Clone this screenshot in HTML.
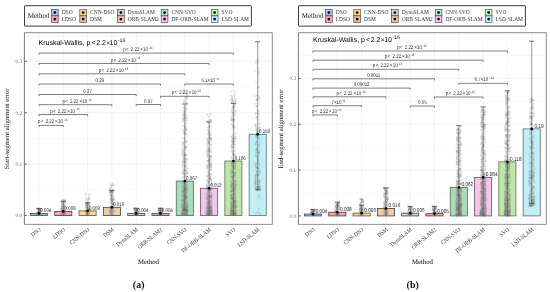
<!DOCTYPE html><html><head><meta charset="utf-8"><style>html,body{margin:0;padding:0;background:#fff;width:550px;height:292px;overflow:hidden}svg{display:block;will-change:transform;text-rendering:geometricPrecision}</style></head><body>
<svg width="550" height="292" viewBox="0 0 550 292">
<rect width="550" height="292" fill="#fff"/>
<g>
<rect x="24.5" y="5.7" width="226.9" height="20.4" rx="0.6" fill="#fff" stroke="#262626" stroke-width="0.9"/>
<text transform="translate(27.7,18.2) scale(1,1.05)" font-family='"Liberation Serif", serif' font-size="7.0" fill="#111">Method</text>
<rect x="51.5" y="9.3" width="6.7" height="6.5" fill="#b0c4f0" stroke="#404a60" stroke-width="0.7"/>
<circle cx="54.85" cy="12.55" r="1.35" fill="#000"/>
<text transform="translate(61.7,14.3) scale(1,1.08)" font-family='"Liberation Serif", serif' font-size="5.5" fill="#3a3a3a">DSO</text>
<rect x="51.5" y="15.85" width="6.7" height="6.5" fill="#f2aab2" stroke="#604448" stroke-width="0.7"/>
<circle cx="54.85" cy="19.1" r="1.35" fill="#000"/>
<text transform="translate(61.7,20.85) scale(1,1.08)" font-family='"Liberation Serif", serif' font-size="5.5" fill="#3a3a3a">LDSO</text>
<rect x="79.8" y="9.3" width="6.7" height="6.5" fill="#f8d898" stroke="#605438" stroke-width="0.7"/>
<circle cx="83.15" cy="12.55" r="1.35" fill="#000"/>
<text transform="translate(90,14.3) scale(1,1.08)" font-family='"Liberation Serif", serif' font-size="5.5" fill="#3a3a3a">CNN-DSO</text>
<rect x="79.8" y="15.85" width="6.7" height="6.5" fill="#dec29e" stroke="#5a4a3a" stroke-width="0.7"/>
<circle cx="83.15" cy="19.1" r="1.35" fill="#000"/>
<text transform="translate(90,20.85) scale(1,1.08)" font-family='"Liberation Serif", serif' font-size="5.5" fill="#3a3a3a">DSM</text>
<rect x="117.5" y="9.3" width="6.7" height="6.5" fill="#d8d8d8" stroke="#444444" stroke-width="0.7"/>
<circle cx="120.85" cy="12.55" r="1.35" fill="#000"/>
<text transform="translate(127.7,14.3) scale(1,1.08)" font-family='"Liberation Serif", serif' font-size="5.5" fill="#3a3a3a">DynaSLAM</text>
<rect x="117.5" y="15.85" width="6.7" height="6.5" fill="#f8c0c0" stroke="#604040" stroke-width="0.7"/>
<circle cx="120.85" cy="19.1" r="1.35" fill="#000"/>
<text transform="translate(127.7,20.85) scale(1,1.08)" font-family='"Liberation Serif", serif' font-size="5.5" fill="#3a3a3a">ORB-SLAM2</text>
<rect x="161.2" y="9.3" width="6.7" height="6.5" fill="#bce4c8" stroke="#3e5a48" stroke-width="0.7"/>
<circle cx="164.55" cy="12.55" r="1.35" fill="#000"/>
<text transform="translate(171.4,14.3) scale(1,1.08)" font-family='"Liberation Serif", serif' font-size="5.5" fill="#3a3a3a">CNN-SVO</text>
<rect x="161.2" y="15.85" width="6.7" height="6.5" fill="#f4c8e8" stroke="#5a4456" stroke-width="0.7"/>
<circle cx="164.55" cy="19.1" r="1.35" fill="#000"/>
<text transform="translate(171.4,20.85) scale(1,1.08)" font-family='"Liberation Serif", serif' font-size="5.5" fill="#3a3a3a">DF-ORB-SLAM</text>
<rect x="211.3" y="9.3" width="6.7" height="6.5" fill="#ccf0b8" stroke="#4a6040" stroke-width="0.7"/>
<circle cx="214.65" cy="12.55" r="1.35" fill="#000"/>
<text transform="translate(221.5,14.3) scale(1,1.08)" font-family='"Liberation Serif", serif' font-size="5.5" fill="#3a3a3a">SVO</text>
<rect x="211.3" y="15.85" width="6.7" height="6.5" fill="#c0f0f8" stroke="#3e5a60" stroke-width="0.7"/>
<circle cx="214.65" cy="19.1" r="1.35" fill="#000"/>
<text transform="translate(221.5,20.85) scale(1,1.08)" font-family='"Liberation Serif", serif' font-size="5.5" fill="#3a3a3a">LSD-SLAM</text>
<rect x="24.4" y="32.7" width="247.9" height="191.7" fill="#fff"/>
<line x1="24.4" x2="272.3" y1="215.5" y2="215.5" stroke="#ebebeb" stroke-width="0.6"/>
<line x1="24.4" x2="272.3" y1="164.1" y2="164.1" stroke="#ebebeb" stroke-width="0.6"/>
<line x1="24.4" x2="272.3" y1="112.7" y2="112.7" stroke="#ebebeb" stroke-width="0.6"/>
<line x1="24.4" x2="272.3" y1="61.3" y2="61.3" stroke="#ebebeb" stroke-width="0.6"/>
<line x1="24.4" x2="272.3" y1="189.8" y2="189.8" stroke="#f3f3f3" stroke-width="0.5"/>
<line x1="24.4" x2="272.3" y1="138.4" y2="138.4" stroke="#f3f3f3" stroke-width="0.5"/>
<line x1="24.4" x2="272.3" y1="87" y2="87" stroke="#f3f3f3" stroke-width="0.5"/>
<line x1="24.4" x2="272.3" y1="35.6" y2="35.6" stroke="#f3f3f3" stroke-width="0.5"/>
<line x1="39" x2="39" y1="32.7" y2="224.4" stroke="#ececec" stroke-width="0.6"/>
<line x1="63.3" x2="63.3" y1="32.7" y2="224.4" stroke="#ececec" stroke-width="0.6"/>
<line x1="87.6" x2="87.6" y1="32.7" y2="224.4" stroke="#ececec" stroke-width="0.6"/>
<line x1="111.9" x2="111.9" y1="32.7" y2="224.4" stroke="#ececec" stroke-width="0.6"/>
<line x1="136.2" x2="136.2" y1="32.7" y2="224.4" stroke="#ececec" stroke-width="0.6"/>
<line x1="160.5" x2="160.5" y1="32.7" y2="224.4" stroke="#ececec" stroke-width="0.6"/>
<line x1="184.8" x2="184.8" y1="32.7" y2="224.4" stroke="#ececec" stroke-width="0.6"/>
<line x1="209.1" x2="209.1" y1="32.7" y2="224.4" stroke="#ececec" stroke-width="0.6"/>
<line x1="233.4" x2="233.4" y1="32.7" y2="224.4" stroke="#ececec" stroke-width="0.6"/>
<line x1="257.7" x2="257.7" y1="32.7" y2="224.4" stroke="#ececec" stroke-width="0.6"/>
<rect x="30.45" y="213.44" width="17.1" height="2.06" fill="#a8bae4" stroke="#3a4a70" stroke-width="0.8"/>
<rect x="54.75" y="211.39" width="17.1" height="4.11" fill="#f2a6ae" stroke="#5a3438" stroke-width="0.8"/>
<rect x="79.05" y="210.87" width="17.1" height="4.63" fill="#f8d898" stroke="#6a5430" stroke-width="0.8"/>
<rect x="103.35" y="207.28" width="17.1" height="8.22" fill="#ecccac" stroke="#4a3a2a" stroke-width="0.8"/>
<rect x="127.65" y="213.44" width="17.1" height="2.06" fill="#d4d4d4" stroke="#444444" stroke-width="0.8"/>
<rect x="151.95" y="213.44" width="17.1" height="2.06" fill="#f4a0a0" stroke="#6a3434" stroke-width="0.8"/>
<rect x="176.25" y="181.06" width="17.1" height="34.44" fill="#aadcb9" stroke="#4a6e56" stroke-width="0.8"/>
<rect x="200.55" y="188.26" width="17.1" height="27.24" fill="#f2c6e6" stroke="#6e4e66" stroke-width="0.8"/>
<rect x="224.85" y="161.02" width="17.1" height="54.48" fill="#bee6aa" stroke="#56784a" stroke-width="0.8"/>
<rect x="249.15" y="134.29" width="17.1" height="81.21" fill="#c2eff5" stroke="#4e7278" stroke-width="0.8"/>
<g fill="#c4c4c4" fill-opacity="0.1" stroke="#777" stroke-opacity="0.3" stroke-width="0.4">
<path d="M38.6 210.6a.7 .7 0 1 0 1.4 0a.7 .7 0 1 0 -1.4 0M38.3 213.9a.7 .7 0 1 0 1.4 0a.7 .7 0 1 0 -1.4 0M36.7 213.8a.7 .7 0 1 0 1.4 0a.7 .7 0 1 0 -1.4 0M39.0 213.9a.7 .7 0 1 0 1.4 0a.7 .7 0 1 0 -1.4 0M39.1 212.5a.7 .7 0 1 0 1.4 0a.7 .7 0 1 0 -1.4 0M36.3 212.5a.7 .7 0 1 0 1.4 0a.7 .7 0 1 0 -1.4 0M62.8 212.6a.7 .7 0 1 0 1.4 0a.7 .7 0 1 0 -1.4 0M64.0 206.8a.7 .7 0 1 0 1.4 0a.7 .7 0 1 0 -1.4 0M60.8 208.6a.7 .7 0 1 0 1.4 0a.7 .7 0 1 0 -1.4 0M64.0 200.2a.7 .7 0 1 0 1.4 0a.7 .7 0 1 0 -1.4 0M61.5 205.1a.7 .7 0 1 0 1.4 0a.7 .7 0 1 0 -1.4 0M60.7 209.0a.7 .7 0 1 0 1.4 0a.7 .7 0 1 0 -1.4 0M62.9 203.6a.7 .7 0 1 0 1.4 0a.7 .7 0 1 0 -1.4 0M87.2 211.3a.7 .7 0 1 0 1.4 0a.7 .7 0 1 0 -1.4 0M85.6 203.5a.7 .7 0 1 0 1.4 0a.7 .7 0 1 0 -1.4 0M86.0 204.6a.7 .7 0 1 0 1.4 0a.7 .7 0 1 0 -1.4 0M87.8 208.3a.7 .7 0 1 0 1.4 0a.7 .7 0 1 0 -1.4 0M86.2 210.4a.7 .7 0 1 0 1.4 0a.7 .7 0 1 0 -1.4 0M88.5 204.6a.7 .7 0 1 0 1.4 0a.7 .7 0 1 0 -1.4 0M88.1 214.0a.7 .7 0 1 0 1.4 0a.7 .7 0 1 0 -1.4 0M85.8 205.5a.7 .7 0 1 0 1.4 0a.7 .7 0 1 0 -1.4 0M85.0 194.4a.7 .7 0 1 0 1.4 0a.7 .7 0 1 0 -1.4 0M88.2 197.7a.7 .7 0 1 0 1.4 0a.7 .7 0 1 0 -1.4 0M110.3 207.3a.7 .7 0 1 0 1.4 0a.7 .7 0 1 0 -1.4 0M109.4 209.0a.7 .7 0 1 0 1.4 0a.7 .7 0 1 0 -1.4 0M110.6 197.7a.7 .7 0 1 0 1.4 0a.7 .7 0 1 0 -1.4 0M110.0 199.1a.7 .7 0 1 0 1.4 0a.7 .7 0 1 0 -1.4 0M112.6 207.6a.7 .7 0 1 0 1.4 0a.7 .7 0 1 0 -1.4 0M111.1 191.2a.7 .7 0 1 0 1.4 0a.7 .7 0 1 0 -1.4 0M109.9 202.7a.7 .7 0 1 0 1.4 0a.7 .7 0 1 0 -1.4 0M111.2 196.0a.7 .7 0 1 0 1.4 0a.7 .7 0 1 0 -1.4 0M112.2 210.7a.7 .7 0 1 0 1.4 0a.7 .7 0 1 0 -1.4 0M111.7 203.1a.7 .7 0 1 0 1.4 0a.7 .7 0 1 0 -1.4 0M110.2 187.3a.7 .7 0 1 0 1.4 0a.7 .7 0 1 0 -1.4 0M109.1 189.2a.7 .7 0 1 0 1.4 0a.7 .7 0 1 0 -1.4 0M112.1 184.2a.7 .7 0 1 0 1.4 0a.7 .7 0 1 0 -1.4 0M134.0 208.6a.7 .7 0 1 0 1.4 0a.7 .7 0 1 0 -1.4 0M134.0 212.6a.7 .7 0 1 0 1.4 0a.7 .7 0 1 0 -1.4 0M135.2 212.8a.7 .7 0 1 0 1.4 0a.7 .7 0 1 0 -1.4 0M137.3 212.5a.7 .7 0 1 0 1.4 0a.7 .7 0 1 0 -1.4 0M136.0 209.0a.7 .7 0 1 0 1.4 0a.7 .7 0 1 0 -1.4 0M136.6 213.0a.7 .7 0 1 0 1.4 0a.7 .7 0 1 0 -1.4 0M159.1 208.7a.7 .7 0 1 0 1.4 0a.7 .7 0 1 0 -1.4 0M159.2 208.1a.7 .7 0 1 0 1.4 0a.7 .7 0 1 0 -1.4 0M159.3 213.2a.7 .7 0 1 0 1.4 0a.7 .7 0 1 0 -1.4 0M157.8 210.6a.7 .7 0 1 0 1.4 0a.7 .7 0 1 0 -1.4 0M159.0 214.7a.7 .7 0 1 0 1.4 0a.7 .7 0 1 0 -1.4 0M181.5 207.6a.7 .7 0 1 0 1.4 0a.7 .7 0 1 0 -1.4 0M184.9 186.2a.7 .7 0 1 0 1.4 0a.7 .7 0 1 0 -1.4 0M183.9 118.1a.7 .7 0 1 0 1.4 0a.7 .7 0 1 0 -1.4 0M182.1 205.7a.7 .7 0 1 0 1.4 0a.7 .7 0 1 0 -1.4 0M185.4 184.0a.7 .7 0 1 0 1.4 0a.7 .7 0 1 0 -1.4 0M182.2 119.0a.7 .7 0 1 0 1.4 0a.7 .7 0 1 0 -1.4 0M184.7 196.0a.7 .7 0 1 0 1.4 0a.7 .7 0 1 0 -1.4 0M182.2 201.5a.7 .7 0 1 0 1.4 0a.7 .7 0 1 0 -1.4 0M182.7 206.1a.7 .7 0 1 0 1.4 0a.7 .7 0 1 0 -1.4 0M181.5 191.6a.7 .7 0 1 0 1.4 0a.7 .7 0 1 0 -1.4 0M185.5 120.5a.7 .7 0 1 0 1.4 0a.7 .7 0 1 0 -1.4 0M186.5 159.7a.7 .7 0 1 0 1.4 0a.7 .7 0 1 0 -1.4 0M183.1 212.2a.7 .7 0 1 0 1.4 0a.7 .7 0 1 0 -1.4 0M182.7 149.8a.7 .7 0 1 0 1.4 0a.7 .7 0 1 0 -1.4 0M183.6 116.9a.7 .7 0 1 0 1.4 0a.7 .7 0 1 0 -1.4 0M186.8 211.6a.7 .7 0 1 0 1.4 0a.7 .7 0 1 0 -1.4 0M183.3 200.0a.7 .7 0 1 0 1.4 0a.7 .7 0 1 0 -1.4 0M185.9 176.1a.7 .7 0 1 0 1.4 0a.7 .7 0 1 0 -1.4 0M185.9 202.9a.7 .7 0 1 0 1.4 0a.7 .7 0 1 0 -1.4 0M186.5 189.7a.7 .7 0 1 0 1.4 0a.7 .7 0 1 0 -1.4 0M184.6 166.4a.7 .7 0 1 0 1.4 0a.7 .7 0 1 0 -1.4 0M185.6 161.6a.7 .7 0 1 0 1.4 0a.7 .7 0 1 0 -1.4 0M181.9 212.2a.7 .7 0 1 0 1.4 0a.7 .7 0 1 0 -1.4 0M185.8 180.9a.7 .7 0 1 0 1.4 0a.7 .7 0 1 0 -1.4 0M186.1 122.7a.7 .7 0 1 0 1.4 0a.7 .7 0 1 0 -1.4 0M183.9 155.6a.7 .7 0 1 0 1.4 0a.7 .7 0 1 0 -1.4 0M181.9 189.6a.7 .7 0 1 0 1.4 0a.7 .7 0 1 0 -1.4 0M185.6 164.3a.7 .7 0 1 0 1.4 0a.7 .7 0 1 0 -1.4 0M185.3 147.0a.7 .7 0 1 0 1.4 0a.7 .7 0 1 0 -1.4 0M185.1 147.3a.7 .7 0 1 0 1.4 0a.7 .7 0 1 0 -1.4 0M182.8 204.0a.7 .7 0 1 0 1.4 0a.7 .7 0 1 0 -1.4 0M184.0 214.9a.7 .7 0 1 0 1.4 0a.7 .7 0 1 0 -1.4 0M185.5 213.1a.7 .7 0 1 0 1.4 0a.7 .7 0 1 0 -1.4 0M183.0 131.4a.7 .7 0 1 0 1.4 0a.7 .7 0 1 0 -1.4 0M183.6 161.1a.7 .7 0 1 0 1.4 0a.7 .7 0 1 0 -1.4 0M181.7 210.0a.7 .7 0 1 0 1.4 0a.7 .7 0 1 0 -1.4 0M183.4 102.3a.7 .7 0 1 0 1.4 0a.7 .7 0 1 0 -1.4 0M185.2 92.0a.7 .7 0 1 0 1.4 0a.7 .7 0 1 0 -1.4 0M184.0 204.2a.7 .7 0 1 0 1.4 0a.7 .7 0 1 0 -1.4 0M184.5 186.6a.7 .7 0 1 0 1.4 0a.7 .7 0 1 0 -1.4 0M183.3 200.8a.7 .7 0 1 0 1.4 0a.7 .7 0 1 0 -1.4 0M182.7 210.7a.7 .7 0 1 0 1.4 0a.7 .7 0 1 0 -1.4 0M184.9 210.8a.7 .7 0 1 0 1.4 0a.7 .7 0 1 0 -1.4 0M186.1 209.5a.7 .7 0 1 0 1.4 0a.7 .7 0 1 0 -1.4 0M186.5 207.2a.7 .7 0 1 0 1.4 0a.7 .7 0 1 0 -1.4 0M183.2 205.2a.7 .7 0 1 0 1.4 0a.7 .7 0 1 0 -1.4 0M185.1 188.7a.7 .7 0 1 0 1.4 0a.7 .7 0 1 0 -1.4 0M185.9 195.1a.7 .7 0 1 0 1.4 0a.7 .7 0 1 0 -1.4 0M184.2 182.6a.7 .7 0 1 0 1.4 0a.7 .7 0 1 0 -1.4 0M182.8 215.0a.7 .7 0 1 0 1.4 0a.7 .7 0 1 0 -1.4 0M186.7 209.6a.7 .7 0 1 0 1.4 0a.7 .7 0 1 0 -1.4 0M208.8 207.9a.7 .7 0 1 0 1.4 0a.7 .7 0 1 0 -1.4 0M207.8 172.0a.7 .7 0 1 0 1.4 0a.7 .7 0 1 0 -1.4 0M207.8 160.3a.7 .7 0 1 0 1.4 0a.7 .7 0 1 0 -1.4 0M209.0 131.4a.7 .7 0 1 0 1.4 0a.7 .7 0 1 0 -1.4 0M208.5 185.2a.7 .7 0 1 0 1.4 0a.7 .7 0 1 0 -1.4 0M208.3 161.1a.7 .7 0 1 0 1.4 0a.7 .7 0 1 0 -1.4 0M207.9 211.0a.7 .7 0 1 0 1.4 0a.7 .7 0 1 0 -1.4 0M209.5 166.7a.7 .7 0 1 0 1.4 0a.7 .7 0 1 0 -1.4 0M209.1 190.6a.7 .7 0 1 0 1.4 0a.7 .7 0 1 0 -1.4 0M208.2 174.4a.7 .7 0 1 0 1.4 0a.7 .7 0 1 0 -1.4 0M206.4 166.8a.7 .7 0 1 0 1.4 0a.7 .7 0 1 0 -1.4 0M210.4 184.1a.7 .7 0 1 0 1.4 0a.7 .7 0 1 0 -1.4 0M211.0 199.1a.7 .7 0 1 0 1.4 0a.7 .7 0 1 0 -1.4 0M208.3 215.0a.7 .7 0 1 0 1.4 0a.7 .7 0 1 0 -1.4 0M211.0 196.6a.7 .7 0 1 0 1.4 0a.7 .7 0 1 0 -1.4 0M208.8 210.0a.7 .7 0 1 0 1.4 0a.7 .7 0 1 0 -1.4 0M210.1 207.9a.7 .7 0 1 0 1.4 0a.7 .7 0 1 0 -1.4 0M210.6 210.1a.7 .7 0 1 0 1.4 0a.7 .7 0 1 0 -1.4 0M210.5 184.3a.7 .7 0 1 0 1.4 0a.7 .7 0 1 0 -1.4 0M208.9 175.0a.7 .7 0 1 0 1.4 0a.7 .7 0 1 0 -1.4 0M210.5 206.4a.7 .7 0 1 0 1.4 0a.7 .7 0 1 0 -1.4 0M210.7 213.5a.7 .7 0 1 0 1.4 0a.7 .7 0 1 0 -1.4 0M208.5 159.1a.7 .7 0 1 0 1.4 0a.7 .7 0 1 0 -1.4 0M206.3 149.6a.7 .7 0 1 0 1.4 0a.7 .7 0 1 0 -1.4 0M206.3 134.1a.7 .7 0 1 0 1.4 0a.7 .7 0 1 0 -1.4 0M209.8 215.0a.7 .7 0 1 0 1.4 0a.7 .7 0 1 0 -1.4 0M208.1 143.3a.7 .7 0 1 0 1.4 0a.7 .7 0 1 0 -1.4 0M207.0 205.0a.7 .7 0 1 0 1.4 0a.7 .7 0 1 0 -1.4 0M210.2 120.2a.7 .7 0 1 0 1.4 0a.7 .7 0 1 0 -1.4 0M207.7 211.4a.7 .7 0 1 0 1.4 0a.7 .7 0 1 0 -1.4 0M208.3 201.7a.7 .7 0 1 0 1.4 0a.7 .7 0 1 0 -1.4 0M207.5 212.3a.7 .7 0 1 0 1.4 0a.7 .7 0 1 0 -1.4 0M206.8 214.5a.7 .7 0 1 0 1.4 0a.7 .7 0 1 0 -1.4 0M209.4 189.1a.7 .7 0 1 0 1.4 0a.7 .7 0 1 0 -1.4 0M209.3 195.3a.7 .7 0 1 0 1.4 0a.7 .7 0 1 0 -1.4 0M207.2 196.7a.7 .7 0 1 0 1.4 0a.7 .7 0 1 0 -1.4 0M207.1 206.7a.7 .7 0 1 0 1.4 0a.7 .7 0 1 0 -1.4 0M207.3 208.2a.7 .7 0 1 0 1.4 0a.7 .7 0 1 0 -1.4 0M207.5 205.5a.7 .7 0 1 0 1.4 0a.7 .7 0 1 0 -1.4 0M206.8 192.2a.7 .7 0 1 0 1.4 0a.7 .7 0 1 0 -1.4 0M233.5 154.4a.7 .7 0 1 0 1.4 0a.7 .7 0 1 0 -1.4 0M231.9 173.5a.7 .7 0 1 0 1.4 0a.7 .7 0 1 0 -1.4 0M232.9 125.2a.7 .7 0 1 0 1.4 0a.7 .7 0 1 0 -1.4 0M231.7 212.2a.7 .7 0 1 0 1.4 0a.7 .7 0 1 0 -1.4 0M233.2 137.9a.7 .7 0 1 0 1.4 0a.7 .7 0 1 0 -1.4 0M231.3 120.7a.7 .7 0 1 0 1.4 0a.7 .7 0 1 0 -1.4 0M232.1 125.9a.7 .7 0 1 0 1.4 0a.7 .7 0 1 0 -1.4 0M230.6 181.8a.7 .7 0 1 0 1.4 0a.7 .7 0 1 0 -1.4 0M230.8 116.5a.7 .7 0 1 0 1.4 0a.7 .7 0 1 0 -1.4 0M230.7 200.0a.7 .7 0 1 0 1.4 0a.7 .7 0 1 0 -1.4 0M232.0 178.7a.7 .7 0 1 0 1.4 0a.7 .7 0 1 0 -1.4 0M234.7 172.5a.7 .7 0 1 0 1.4 0a.7 .7 0 1 0 -1.4 0M233.7 190.9a.7 .7 0 1 0 1.4 0a.7 .7 0 1 0 -1.4 0M234.4 213.0a.7 .7 0 1 0 1.4 0a.7 .7 0 1 0 -1.4 0M233.7 155.0a.7 .7 0 1 0 1.4 0a.7 .7 0 1 0 -1.4 0M230.0 214.8a.7 .7 0 1 0 1.4 0a.7 .7 0 1 0 -1.4 0M230.2 172.9a.7 .7 0 1 0 1.4 0a.7 .7 0 1 0 -1.4 0M230.7 203.9a.7 .7 0 1 0 1.4 0a.7 .7 0 1 0 -1.4 0M231.8 190.5a.7 .7 0 1 0 1.4 0a.7 .7 0 1 0 -1.4 0M233.7 204.9a.7 .7 0 1 0 1.4 0a.7 .7 0 1 0 -1.4 0M232.7 183.6a.7 .7 0 1 0 1.4 0a.7 .7 0 1 0 -1.4 0M231.7 138.4a.7 .7 0 1 0 1.4 0a.7 .7 0 1 0 -1.4 0M231.7 211.6a.7 .7 0 1 0 1.4 0a.7 .7 0 1 0 -1.4 0M232.4 107.3a.7 .7 0 1 0 1.4 0a.7 .7 0 1 0 -1.4 0M234.9 206.7a.7 .7 0 1 0 1.4 0a.7 .7 0 1 0 -1.4 0M234.6 195.9a.7 .7 0 1 0 1.4 0a.7 .7 0 1 0 -1.4 0M232.0 190.3a.7 .7 0 1 0 1.4 0a.7 .7 0 1 0 -1.4 0M232.1 167.4a.7 .7 0 1 0 1.4 0a.7 .7 0 1 0 -1.4 0M231.6 212.9a.7 .7 0 1 0 1.4 0a.7 .7 0 1 0 -1.4 0M233.1 214.4a.7 .7 0 1 0 1.4 0a.7 .7 0 1 0 -1.4 0M234.1 201.9a.7 .7 0 1 0 1.4 0a.7 .7 0 1 0 -1.4 0M232.1 212.6a.7 .7 0 1 0 1.4 0a.7 .7 0 1 0 -1.4 0M233.9 207.1a.7 .7 0 1 0 1.4 0a.7 .7 0 1 0 -1.4 0M233.6 187.9a.7 .7 0 1 0 1.4 0a.7 .7 0 1 0 -1.4 0M232.1 208.5a.7 .7 0 1 0 1.4 0a.7 .7 0 1 0 -1.4 0M234.1 174.3a.7 .7 0 1 0 1.4 0a.7 .7 0 1 0 -1.4 0M230.7 209.8a.7 .7 0 1 0 1.4 0a.7 .7 0 1 0 -1.4 0M232.3 189.2a.7 .7 0 1 0 1.4 0a.7 .7 0 1 0 -1.4 0M231.8 210.8a.7 .7 0 1 0 1.4 0a.7 .7 0 1 0 -1.4 0M233.5 191.4a.7 .7 0 1 0 1.4 0a.7 .7 0 1 0 -1.4 0M258.7 99.5a.7 .7 0 1 0 1.4 0a.7 .7 0 1 0 -1.4 0M256.6 132.3a.7 .7 0 1 0 1.4 0a.7 .7 0 1 0 -1.4 0M256.6 106.7a.7 .7 0 1 0 1.4 0a.7 .7 0 1 0 -1.4 0M255.5 167.7a.7 .7 0 1 0 1.4 0a.7 .7 0 1 0 -1.4 0M258.2 186.1a.7 .7 0 1 0 1.4 0a.7 .7 0 1 0 -1.4 0M258.8 169.8a.7 .7 0 1 0 1.4 0a.7 .7 0 1 0 -1.4 0M256.3 172.3a.7 .7 0 1 0 1.4 0a.7 .7 0 1 0 -1.4 0M258.0 147.5a.7 .7 0 1 0 1.4 0a.7 .7 0 1 0 -1.4 0M255.3 136.5a.7 .7 0 1 0 1.4 0a.7 .7 0 1 0 -1.4 0M257.8 145.2a.7 .7 0 1 0 1.4 0a.7 .7 0 1 0 -1.4 0M258.1 187.9a.7 .7 0 1 0 1.4 0a.7 .7 0 1 0 -1.4 0M257.0 186.6a.7 .7 0 1 0 1.4 0a.7 .7 0 1 0 -1.4 0"/>
<path d="M39.6 214.7a.7 .7 0 1 0 1.4 0a.7 .7 0 1 0 -1.4 0M38.5 212.4a.7 .7 0 1 0 1.4 0a.7 .7 0 1 0 -1.4 0M38.8 211.9a.7 .7 0 1 0 1.4 0a.7 .7 0 1 0 -1.4 0M38.1 210.9a.7 .7 0 1 0 1.4 0a.7 .7 0 1 0 -1.4 0M38.2 210.8a.7 .7 0 1 0 1.4 0a.7 .7 0 1 0 -1.4 0M63.2 208.4a.7 .7 0 1 0 1.4 0a.7 .7 0 1 0 -1.4 0M63.6 208.0a.7 .7 0 1 0 1.4 0a.7 .7 0 1 0 -1.4 0M62.8 207.2a.7 .7 0 1 0 1.4 0a.7 .7 0 1 0 -1.4 0M60.6 208.2a.7 .7 0 1 0 1.4 0a.7 .7 0 1 0 -1.4 0M61.1 202.3a.7 .7 0 1 0 1.4 0a.7 .7 0 1 0 -1.4 0M61.7 207.2a.7 .7 0 1 0 1.4 0a.7 .7 0 1 0 -1.4 0M63.4 206.4a.7 .7 0 1 0 1.4 0a.7 .7 0 1 0 -1.4 0M63.9 205.4a.7 .7 0 1 0 1.4 0a.7 .7 0 1 0 -1.4 0M63.1 210.5a.7 .7 0 1 0 1.4 0a.7 .7 0 1 0 -1.4 0M88.6 203.6a.7 .7 0 1 0 1.4 0a.7 .7 0 1 0 -1.4 0M88.3 205.8a.7 .7 0 1 0 1.4 0a.7 .7 0 1 0 -1.4 0M88.4 205.4a.7 .7 0 1 0 1.4 0a.7 .7 0 1 0 -1.4 0M86.9 203.2a.7 .7 0 1 0 1.4 0a.7 .7 0 1 0 -1.4 0M85.3 206.5a.7 .7 0 1 0 1.4 0a.7 .7 0 1 0 -1.4 0M87.5 204.2a.7 .7 0 1 0 1.4 0a.7 .7 0 1 0 -1.4 0M85.3 197.9a.7 .7 0 1 0 1.4 0a.7 .7 0 1 0 -1.4 0M86.3 199.7a.7 .7 0 1 0 1.4 0a.7 .7 0 1 0 -1.4 0M112.8 191.1a.7 .7 0 1 0 1.4 0a.7 .7 0 1 0 -1.4 0M109.5 208.5a.7 .7 0 1 0 1.4 0a.7 .7 0 1 0 -1.4 0M112.4 201.9a.7 .7 0 1 0 1.4 0a.7 .7 0 1 0 -1.4 0M111.5 191.3a.7 .7 0 1 0 1.4 0a.7 .7 0 1 0 -1.4 0M112.9 199.4a.7 .7 0 1 0 1.4 0a.7 .7 0 1 0 -1.4 0M109.8 211.1a.7 .7 0 1 0 1.4 0a.7 .7 0 1 0 -1.4 0M111.8 200.2a.7 .7 0 1 0 1.4 0a.7 .7 0 1 0 -1.4 0M109.7 191.8a.7 .7 0 1 0 1.4 0a.7 .7 0 1 0 -1.4 0M112.2 190.7a.7 .7 0 1 0 1.4 0a.7 .7 0 1 0 -1.4 0M111.5 201.5a.7 .7 0 1 0 1.4 0a.7 .7 0 1 0 -1.4 0M111.0 184.8a.7 .7 0 1 0 1.4 0a.7 .7 0 1 0 -1.4 0M112.9 189.3a.7 .7 0 1 0 1.4 0a.7 .7 0 1 0 -1.4 0M133.8 213.0a.7 .7 0 1 0 1.4 0a.7 .7 0 1 0 -1.4 0M133.9 213.1a.7 .7 0 1 0 1.4 0a.7 .7 0 1 0 -1.4 0M159.8 212.3a.7 .7 0 1 0 1.4 0a.7 .7 0 1 0 -1.4 0M158.2 213.5a.7 .7 0 1 0 1.4 0a.7 .7 0 1 0 -1.4 0M158.2 210.3a.7 .7 0 1 0 1.4 0a.7 .7 0 1 0 -1.4 0M161.7 212.1a.7 .7 0 1 0 1.4 0a.7 .7 0 1 0 -1.4 0M161.9 209.8a.7 .7 0 1 0 1.4 0a.7 .7 0 1 0 -1.4 0M160.4 208.2a.7 .7 0 1 0 1.4 0a.7 .7 0 1 0 -1.4 0M161.8 214.1a.7 .7 0 1 0 1.4 0a.7 .7 0 1 0 -1.4 0M183.8 126.3a.7 .7 0 1 0 1.4 0a.7 .7 0 1 0 -1.4 0M184.2 178.6a.7 .7 0 1 0 1.4 0a.7 .7 0 1 0 -1.4 0M186.8 211.2a.7 .7 0 1 0 1.4 0a.7 .7 0 1 0 -1.4 0M185.1 128.5a.7 .7 0 1 0 1.4 0a.7 .7 0 1 0 -1.4 0M183.9 138.6a.7 .7 0 1 0 1.4 0a.7 .7 0 1 0 -1.4 0M183.4 174.1a.7 .7 0 1 0 1.4 0a.7 .7 0 1 0 -1.4 0M185.9 179.9a.7 .7 0 1 0 1.4 0a.7 .7 0 1 0 -1.4 0M184.7 127.3a.7 .7 0 1 0 1.4 0a.7 .7 0 1 0 -1.4 0M186.0 209.3a.7 .7 0 1 0 1.4 0a.7 .7 0 1 0 -1.4 0M183.8 210.2a.7 .7 0 1 0 1.4 0a.7 .7 0 1 0 -1.4 0M182.6 196.8a.7 .7 0 1 0 1.4 0a.7 .7 0 1 0 -1.4 0M185.8 171.1a.7 .7 0 1 0 1.4 0a.7 .7 0 1 0 -1.4 0M186.1 115.8a.7 .7 0 1 0 1.4 0a.7 .7 0 1 0 -1.4 0M182.1 144.8a.7 .7 0 1 0 1.4 0a.7 .7 0 1 0 -1.4 0M182.2 151.9a.7 .7 0 1 0 1.4 0a.7 .7 0 1 0 -1.4 0M181.9 149.8a.7 .7 0 1 0 1.4 0a.7 .7 0 1 0 -1.4 0M182.3 174.3a.7 .7 0 1 0 1.4 0a.7 .7 0 1 0 -1.4 0M182.5 118.8a.7 .7 0 1 0 1.4 0a.7 .7 0 1 0 -1.4 0M184.2 155.6a.7 .7 0 1 0 1.4 0a.7 .7 0 1 0 -1.4 0M184.3 194.9a.7 .7 0 1 0 1.4 0a.7 .7 0 1 0 -1.4 0M183.1 208.4a.7 .7 0 1 0 1.4 0a.7 .7 0 1 0 -1.4 0M184.2 133.2a.7 .7 0 1 0 1.4 0a.7 .7 0 1 0 -1.4 0M183.7 169.3a.7 .7 0 1 0 1.4 0a.7 .7 0 1 0 -1.4 0M186.2 205.7a.7 .7 0 1 0 1.4 0a.7 .7 0 1 0 -1.4 0M186.3 207.3a.7 .7 0 1 0 1.4 0a.7 .7 0 1 0 -1.4 0M183.2 208.6a.7 .7 0 1 0 1.4 0a.7 .7 0 1 0 -1.4 0M183.0 211.7a.7 .7 0 1 0 1.4 0a.7 .7 0 1 0 -1.4 0M182.3 193.1a.7 .7 0 1 0 1.4 0a.7 .7 0 1 0 -1.4 0M183.3 196.9a.7 .7 0 1 0 1.4 0a.7 .7 0 1 0 -1.4 0M182.4 194.5a.7 .7 0 1 0 1.4 0a.7 .7 0 1 0 -1.4 0M183.6 170.5a.7 .7 0 1 0 1.4 0a.7 .7 0 1 0 -1.4 0M185.2 97.5a.7 .7 0 1 0 1.4 0a.7 .7 0 1 0 -1.4 0M184.6 187.6a.7 .7 0 1 0 1.4 0a.7 .7 0 1 0 -1.4 0M183.4 213.5a.7 .7 0 1 0 1.4 0a.7 .7 0 1 0 -1.4 0M182.3 214.5a.7 .7 0 1 0 1.4 0a.7 .7 0 1 0 -1.4 0M186.1 206.2a.7 .7 0 1 0 1.4 0a.7 .7 0 1 0 -1.4 0M183.0 181.6a.7 .7 0 1 0 1.4 0a.7 .7 0 1 0 -1.4 0M184.6 184.4a.7 .7 0 1 0 1.4 0a.7 .7 0 1 0 -1.4 0M185.4 214.0a.7 .7 0 1 0 1.4 0a.7 .7 0 1 0 -1.4 0M185.4 213.4a.7 .7 0 1 0 1.4 0a.7 .7 0 1 0 -1.4 0M184.3 198.6a.7 .7 0 1 0 1.4 0a.7 .7 0 1 0 -1.4 0M185.8 202.7a.7 .7 0 1 0 1.4 0a.7 .7 0 1 0 -1.4 0M184.8 190.0a.7 .7 0 1 0 1.4 0a.7 .7 0 1 0 -1.4 0M183.5 187.8a.7 .7 0 1 0 1.4 0a.7 .7 0 1 0 -1.4 0M185.7 197.5a.7 .7 0 1 0 1.4 0a.7 .7 0 1 0 -1.4 0M206.8 212.0a.7 .7 0 1 0 1.4 0a.7 .7 0 1 0 -1.4 0M207.1 201.2a.7 .7 0 1 0 1.4 0a.7 .7 0 1 0 -1.4 0M207.3 182.5a.7 .7 0 1 0 1.4 0a.7 .7 0 1 0 -1.4 0M207.5 213.6a.7 .7 0 1 0 1.4 0a.7 .7 0 1 0 -1.4 0M207.3 209.3a.7 .7 0 1 0 1.4 0a.7 .7 0 1 0 -1.4 0M207.5 181.8a.7 .7 0 1 0 1.4 0a.7 .7 0 1 0 -1.4 0M208.7 210.7a.7 .7 0 1 0 1.4 0a.7 .7 0 1 0 -1.4 0M209.9 167.0a.7 .7 0 1 0 1.4 0a.7 .7 0 1 0 -1.4 0M210.1 139.9a.7 .7 0 1 0 1.4 0a.7 .7 0 1 0 -1.4 0M208.1 199.9a.7 .7 0 1 0 1.4 0a.7 .7 0 1 0 -1.4 0M207.0 203.9a.7 .7 0 1 0 1.4 0a.7 .7 0 1 0 -1.4 0M206.8 207.2a.7 .7 0 1 0 1.4 0a.7 .7 0 1 0 -1.4 0M208.8 196.9a.7 .7 0 1 0 1.4 0a.7 .7 0 1 0 -1.4 0M209.5 196.9a.7 .7 0 1 0 1.4 0a.7 .7 0 1 0 -1.4 0M210.3 214.5a.7 .7 0 1 0 1.4 0a.7 .7 0 1 0 -1.4 0M209.4 159.7a.7 .7 0 1 0 1.4 0a.7 .7 0 1 0 -1.4 0M206.3 188.6a.7 .7 0 1 0 1.4 0a.7 .7 0 1 0 -1.4 0M210.3 214.9a.7 .7 0 1 0 1.4 0a.7 .7 0 1 0 -1.4 0M210.4 164.2a.7 .7 0 1 0 1.4 0a.7 .7 0 1 0 -1.4 0M208.5 209.9a.7 .7 0 1 0 1.4 0a.7 .7 0 1 0 -1.4 0M208.0 207.5a.7 .7 0 1 0 1.4 0a.7 .7 0 1 0 -1.4 0M210.5 205.6a.7 .7 0 1 0 1.4 0a.7 .7 0 1 0 -1.4 0M205.9 215.0a.7 .7 0 1 0 1.4 0a.7 .7 0 1 0 -1.4 0M209.4 134.1a.7 .7 0 1 0 1.4 0a.7 .7 0 1 0 -1.4 0M207.5 191.3a.7 .7 0 1 0 1.4 0a.7 .7 0 1 0 -1.4 0M206.7 157.5a.7 .7 0 1 0 1.4 0a.7 .7 0 1 0 -1.4 0M208.2 133.5a.7 .7 0 1 0 1.4 0a.7 .7 0 1 0 -1.4 0M209.9 119.8a.7 .7 0 1 0 1.4 0a.7 .7 0 1 0 -1.4 0M206.4 121.4a.7 .7 0 1 0 1.4 0a.7 .7 0 1 0 -1.4 0M208.5 120.0a.7 .7 0 1 0 1.4 0a.7 .7 0 1 0 -1.4 0M206.5 199.3a.7 .7 0 1 0 1.4 0a.7 .7 0 1 0 -1.4 0M207.1 193.6a.7 .7 0 1 0 1.4 0a.7 .7 0 1 0 -1.4 0M207.7 201.0a.7 .7 0 1 0 1.4 0a.7 .7 0 1 0 -1.4 0M206.9 213.9a.7 .7 0 1 0 1.4 0a.7 .7 0 1 0 -1.4 0M208.0 214.4a.7 .7 0 1 0 1.4 0a.7 .7 0 1 0 -1.4 0M210.1 189.4a.7 .7 0 1 0 1.4 0a.7 .7 0 1 0 -1.4 0M210.3 201.8a.7 .7 0 1 0 1.4 0a.7 .7 0 1 0 -1.4 0M206.8 201.5a.7 .7 0 1 0 1.4 0a.7 .7 0 1 0 -1.4 0M207.2 196.4a.7 .7 0 1 0 1.4 0a.7 .7 0 1 0 -1.4 0M209.0 214.7a.7 .7 0 1 0 1.4 0a.7 .7 0 1 0 -1.4 0M206.8 207.2a.7 .7 0 1 0 1.4 0a.7 .7 0 1 0 -1.4 0M230.9 140.7a.7 .7 0 1 0 1.4 0a.7 .7 0 1 0 -1.4 0M232.4 162.6a.7 .7 0 1 0 1.4 0a.7 .7 0 1 0 -1.4 0M232.4 141.4a.7 .7 0 1 0 1.4 0a.7 .7 0 1 0 -1.4 0M233.0 183.0a.7 .7 0 1 0 1.4 0a.7 .7 0 1 0 -1.4 0M232.0 193.9a.7 .7 0 1 0 1.4 0a.7 .7 0 1 0 -1.4 0M232.0 147.6a.7 .7 0 1 0 1.4 0a.7 .7 0 1 0 -1.4 0M234.3 103.8a.7 .7 0 1 0 1.4 0a.7 .7 0 1 0 -1.4 0M230.6 214.7a.7 .7 0 1 0 1.4 0a.7 .7 0 1 0 -1.4 0M232.9 119.0a.7 .7 0 1 0 1.4 0a.7 .7 0 1 0 -1.4 0M233.6 107.6a.7 .7 0 1 0 1.4 0a.7 .7 0 1 0 -1.4 0M230.5 184.7a.7 .7 0 1 0 1.4 0a.7 .7 0 1 0 -1.4 0M230.4 190.9a.7 .7 0 1 0 1.4 0a.7 .7 0 1 0 -1.4 0M234.9 172.0a.7 .7 0 1 0 1.4 0a.7 .7 0 1 0 -1.4 0M230.1 214.4a.7 .7 0 1 0 1.4 0a.7 .7 0 1 0 -1.4 0M232.6 214.5a.7 .7 0 1 0 1.4 0a.7 .7 0 1 0 -1.4 0M230.6 207.5a.7 .7 0 1 0 1.4 0a.7 .7 0 1 0 -1.4 0M233.2 119.6a.7 .7 0 1 0 1.4 0a.7 .7 0 1 0 -1.4 0M235.4 203.3a.7 .7 0 1 0 1.4 0a.7 .7 0 1 0 -1.4 0M231.1 187.1a.7 .7 0 1 0 1.4 0a.7 .7 0 1 0 -1.4 0M232.7 206.1a.7 .7 0 1 0 1.4 0a.7 .7 0 1 0 -1.4 0M231.5 144.1a.7 .7 0 1 0 1.4 0a.7 .7 0 1 0 -1.4 0M235.4 201.5a.7 .7 0 1 0 1.4 0a.7 .7 0 1 0 -1.4 0M233.8 188.7a.7 .7 0 1 0 1.4 0a.7 .7 0 1 0 -1.4 0M230.5 209.5a.7 .7 0 1 0 1.4 0a.7 .7 0 1 0 -1.4 0M231.1 165.2a.7 .7 0 1 0 1.4 0a.7 .7 0 1 0 -1.4 0M234.2 202.1a.7 .7 0 1 0 1.4 0a.7 .7 0 1 0 -1.4 0M235.0 185.9a.7 .7 0 1 0 1.4 0a.7 .7 0 1 0 -1.4 0M234.4 105.1a.7 .7 0 1 0 1.4 0a.7 .7 0 1 0 -1.4 0M232.4 170.5a.7 .7 0 1 0 1.4 0a.7 .7 0 1 0 -1.4 0M233.9 214.2a.7 .7 0 1 0 1.4 0a.7 .7 0 1 0 -1.4 0M231.5 157.7a.7 .7 0 1 0 1.4 0a.7 .7 0 1 0 -1.4 0M232.1 172.3a.7 .7 0 1 0 1.4 0a.7 .7 0 1 0 -1.4 0M235.3 184.9a.7 .7 0 1 0 1.4 0a.7 .7 0 1 0 -1.4 0M230.3 215.0a.7 .7 0 1 0 1.4 0a.7 .7 0 1 0 -1.4 0M231.6 96.6a.7 .7 0 1 0 1.4 0a.7 .7 0 1 0 -1.4 0M233.8 95.6a.7 .7 0 1 0 1.4 0a.7 .7 0 1 0 -1.4 0M231.8 100.3a.7 .7 0 1 0 1.4 0a.7 .7 0 1 0 -1.4 0M233.4 175.5a.7 .7 0 1 0 1.4 0a.7 .7 0 1 0 -1.4 0M234.5 212.5a.7 .7 0 1 0 1.4 0a.7 .7 0 1 0 -1.4 0M232.4 183.5a.7 .7 0 1 0 1.4 0a.7 .7 0 1 0 -1.4 0M232.6 188.2a.7 .7 0 1 0 1.4 0a.7 .7 0 1 0 -1.4 0M231.8 211.8a.7 .7 0 1 0 1.4 0a.7 .7 0 1 0 -1.4 0M233.9 194.2a.7 .7 0 1 0 1.4 0a.7 .7 0 1 0 -1.4 0M232.7 161.4a.7 .7 0 1 0 1.4 0a.7 .7 0 1 0 -1.4 0M234.0 213.3a.7 .7 0 1 0 1.4 0a.7 .7 0 1 0 -1.4 0M231.7 180.5a.7 .7 0 1 0 1.4 0a.7 .7 0 1 0 -1.4 0M229.9 213.1a.7 .7 0 1 0 1.4 0a.7 .7 0 1 0 -1.4 0M232.4 168.5a.7 .7 0 1 0 1.4 0a.7 .7 0 1 0 -1.4 0M230.3 210.1a.7 .7 0 1 0 1.4 0a.7 .7 0 1 0 -1.4 0M233.2 194.1a.7 .7 0 1 0 1.4 0a.7 .7 0 1 0 -1.4 0M233.2 202.1a.7 .7 0 1 0 1.4 0a.7 .7 0 1 0 -1.4 0M231.3 197.4a.7 .7 0 1 0 1.4 0a.7 .7 0 1 0 -1.4 0M231.8 210.5a.7 .7 0 1 0 1.4 0a.7 .7 0 1 0 -1.4 0M231.8 163.5a.7 .7 0 1 0 1.4 0a.7 .7 0 1 0 -1.4 0M230.3 192.8a.7 .7 0 1 0 1.4 0a.7 .7 0 1 0 -1.4 0M230.8 205.1a.7 .7 0 1 0 1.4 0a.7 .7 0 1 0 -1.4 0M232.3 189.3a.7 .7 0 1 0 1.4 0a.7 .7 0 1 0 -1.4 0M232.8 197.2a.7 .7 0 1 0 1.4 0a.7 .7 0 1 0 -1.4 0M232.2 197.6a.7 .7 0 1 0 1.4 0a.7 .7 0 1 0 -1.4 0M232.5 204.9a.7 .7 0 1 0 1.4 0a.7 .7 0 1 0 -1.4 0M258.2 61.0a.7 .7 0 1 0 1.4 0a.7 .7 0 1 0 -1.4 0M255.0 70.8a.7 .7 0 1 0 1.4 0a.7 .7 0 1 0 -1.4 0M257.4 76.2a.7 .7 0 1 0 1.4 0a.7 .7 0 1 0 -1.4 0M258.8 86.7a.7 .7 0 1 0 1.4 0a.7 .7 0 1 0 -1.4 0M255.5 106.3a.7 .7 0 1 0 1.4 0a.7 .7 0 1 0 -1.4 0M255.6 130.1a.7 .7 0 1 0 1.4 0a.7 .7 0 1 0 -1.4 0M256.3 117.6a.7 .7 0 1 0 1.4 0a.7 .7 0 1 0 -1.4 0M255.9 130.9a.7 .7 0 1 0 1.4 0a.7 .7 0 1 0 -1.4 0M256.1 149.2a.7 .7 0 1 0 1.4 0a.7 .7 0 1 0 -1.4 0M258.3 186.6a.7 .7 0 1 0 1.4 0a.7 .7 0 1 0 -1.4 0M257.5 178.4a.7 .7 0 1 0 1.4 0a.7 .7 0 1 0 -1.4 0M257.3 185.7a.7 .7 0 1 0 1.4 0a.7 .7 0 1 0 -1.4 0M258.9 138.7a.7 .7 0 1 0 1.4 0a.7 .7 0 1 0 -1.4 0M254.7 182.8a.7 .7 0 1 0 1.4 0a.7 .7 0 1 0 -1.4 0"/>
<path d="M39.6 212.8a.7 .7 0 1 0 1.4 0a.7 .7 0 1 0 -1.4 0M36.8 208.3a.7 .7 0 1 0 1.4 0a.7 .7 0 1 0 -1.4 0M38.6 212.4a.7 .7 0 1 0 1.4 0a.7 .7 0 1 0 -1.4 0M36.2 214.6a.7 .7 0 1 0 1.4 0a.7 .7 0 1 0 -1.4 0M37.5 211.6a.7 .7 0 1 0 1.4 0a.7 .7 0 1 0 -1.4 0M62.5 203.7a.7 .7 0 1 0 1.4 0a.7 .7 0 1 0 -1.4 0M61.2 204.1a.7 .7 0 1 0 1.4 0a.7 .7 0 1 0 -1.4 0M63.6 213.4a.7 .7 0 1 0 1.4 0a.7 .7 0 1 0 -1.4 0M62.3 214.7a.7 .7 0 1 0 1.4 0a.7 .7 0 1 0 -1.4 0M63.8 205.8a.7 .7 0 1 0 1.4 0a.7 .7 0 1 0 -1.4 0M61.0 210.4a.7 .7 0 1 0 1.4 0a.7 .7 0 1 0 -1.4 0M64.3 210.9a.7 .7 0 1 0 1.4 0a.7 .7 0 1 0 -1.4 0M63.9 210.8a.7 .7 0 1 0 1.4 0a.7 .7 0 1 0 -1.4 0M61.0 211.4a.7 .7 0 1 0 1.4 0a.7 .7 0 1 0 -1.4 0M62.6 210.6a.7 .7 0 1 0 1.4 0a.7 .7 0 1 0 -1.4 0M62.4 210.6a.7 .7 0 1 0 1.4 0a.7 .7 0 1 0 -1.4 0M63.9 213.6a.7 .7 0 1 0 1.4 0a.7 .7 0 1 0 -1.4 0M62.7 206.2a.7 .7 0 1 0 1.4 0a.7 .7 0 1 0 -1.4 0M85.1 207.2a.7 .7 0 1 0 1.4 0a.7 .7 0 1 0 -1.4 0M88.8 208.6a.7 .7 0 1 0 1.4 0a.7 .7 0 1 0 -1.4 0M86.0 204.8a.7 .7 0 1 0 1.4 0a.7 .7 0 1 0 -1.4 0M85.5 210.2a.7 .7 0 1 0 1.4 0a.7 .7 0 1 0 -1.4 0M86.7 202.8a.7 .7 0 1 0 1.4 0a.7 .7 0 1 0 -1.4 0M85.8 208.3a.7 .7 0 1 0 1.4 0a.7 .7 0 1 0 -1.4 0M85.7 205.4a.7 .7 0 1 0 1.4 0a.7 .7 0 1 0 -1.4 0M86.1 207.1a.7 .7 0 1 0 1.4 0a.7 .7 0 1 0 -1.4 0M89.0 194.7a.7 .7 0 1 0 1.4 0a.7 .7 0 1 0 -1.4 0M112.5 192.7a.7 .7 0 1 0 1.4 0a.7 .7 0 1 0 -1.4 0M112.0 207.6a.7 .7 0 1 0 1.4 0a.7 .7 0 1 0 -1.4 0M109.9 213.1a.7 .7 0 1 0 1.4 0a.7 .7 0 1 0 -1.4 0M111.4 203.2a.7 .7 0 1 0 1.4 0a.7 .7 0 1 0 -1.4 0M110.9 208.6a.7 .7 0 1 0 1.4 0a.7 .7 0 1 0 -1.4 0M109.1 210.0a.7 .7 0 1 0 1.4 0a.7 .7 0 1 0 -1.4 0M110.6 200.9a.7 .7 0 1 0 1.4 0a.7 .7 0 1 0 -1.4 0M109.3 211.8a.7 .7 0 1 0 1.4 0a.7 .7 0 1 0 -1.4 0M111.7 192.9a.7 .7 0 1 0 1.4 0a.7 .7 0 1 0 -1.4 0M112.5 208.0a.7 .7 0 1 0 1.4 0a.7 .7 0 1 0 -1.4 0M109.3 207.2a.7 .7 0 1 0 1.4 0a.7 .7 0 1 0 -1.4 0M112.9 198.4a.7 .7 0 1 0 1.4 0a.7 .7 0 1 0 -1.4 0M109.2 215.0a.7 .7 0 1 0 1.4 0a.7 .7 0 1 0 -1.4 0M112.9 202.5a.7 .7 0 1 0 1.4 0a.7 .7 0 1 0 -1.4 0M111.9 189.9a.7 .7 0 1 0 1.4 0a.7 .7 0 1 0 -1.4 0M135.5 214.4a.7 .7 0 1 0 1.4 0a.7 .7 0 1 0 -1.4 0M136.0 214.2a.7 .7 0 1 0 1.4 0a.7 .7 0 1 0 -1.4 0M136.5 210.4a.7 .7 0 1 0 1.4 0a.7 .7 0 1 0 -1.4 0M135.0 214.3a.7 .7 0 1 0 1.4 0a.7 .7 0 1 0 -1.4 0M134.4 210.9a.7 .7 0 1 0 1.4 0a.7 .7 0 1 0 -1.4 0M160.5 211.4a.7 .7 0 1 0 1.4 0a.7 .7 0 1 0 -1.4 0M160.0 214.7a.7 .7 0 1 0 1.4 0a.7 .7 0 1 0 -1.4 0M160.7 210.5a.7 .7 0 1 0 1.4 0a.7 .7 0 1 0 -1.4 0M158.1 213.2a.7 .7 0 1 0 1.4 0a.7 .7 0 1 0 -1.4 0M158.7 213.1a.7 .7 0 1 0 1.4 0a.7 .7 0 1 0 -1.4 0M159.7 211.4a.7 .7 0 1 0 1.4 0a.7 .7 0 1 0 -1.4 0M182.3 143.0a.7 .7 0 1 0 1.4 0a.7 .7 0 1 0 -1.4 0M185.4 197.9a.7 .7 0 1 0 1.4 0a.7 .7 0 1 0 -1.4 0M184.0 148.2a.7 .7 0 1 0 1.4 0a.7 .7 0 1 0 -1.4 0M184.2 189.1a.7 .7 0 1 0 1.4 0a.7 .7 0 1 0 -1.4 0M183.4 130.4a.7 .7 0 1 0 1.4 0a.7 .7 0 1 0 -1.4 0M182.5 177.6a.7 .7 0 1 0 1.4 0a.7 .7 0 1 0 -1.4 0M182.6 208.6a.7 .7 0 1 0 1.4 0a.7 .7 0 1 0 -1.4 0M182.3 171.9a.7 .7 0 1 0 1.4 0a.7 .7 0 1 0 -1.4 0M183.6 201.6a.7 .7 0 1 0 1.4 0a.7 .7 0 1 0 -1.4 0M185.3 147.8a.7 .7 0 1 0 1.4 0a.7 .7 0 1 0 -1.4 0M185.9 214.7a.7 .7 0 1 0 1.4 0a.7 .7 0 1 0 -1.4 0M181.9 211.8a.7 .7 0 1 0 1.4 0a.7 .7 0 1 0 -1.4 0M181.8 214.9a.7 .7 0 1 0 1.4 0a.7 .7 0 1 0 -1.4 0M183.2 211.6a.7 .7 0 1 0 1.4 0a.7 .7 0 1 0 -1.4 0M184.2 122.0a.7 .7 0 1 0 1.4 0a.7 .7 0 1 0 -1.4 0M181.8 211.9a.7 .7 0 1 0 1.4 0a.7 .7 0 1 0 -1.4 0M186.6 214.3a.7 .7 0 1 0 1.4 0a.7 .7 0 1 0 -1.4 0M182.6 197.8a.7 .7 0 1 0 1.4 0a.7 .7 0 1 0 -1.4 0M185.7 124.1a.7 .7 0 1 0 1.4 0a.7 .7 0 1 0 -1.4 0M184.8 194.1a.7 .7 0 1 0 1.4 0a.7 .7 0 1 0 -1.4 0M184.4 133.4a.7 .7 0 1 0 1.4 0a.7 .7 0 1 0 -1.4 0M183.0 206.5a.7 .7 0 1 0 1.4 0a.7 .7 0 1 0 -1.4 0M186.0 130.1a.7 .7 0 1 0 1.4 0a.7 .7 0 1 0 -1.4 0M183.3 146.1a.7 .7 0 1 0 1.4 0a.7 .7 0 1 0 -1.4 0M184.7 165.6a.7 .7 0 1 0 1.4 0a.7 .7 0 1 0 -1.4 0M181.3 213.7a.7 .7 0 1 0 1.4 0a.7 .7 0 1 0 -1.4 0M185.8 109.1a.7 .7 0 1 0 1.4 0a.7 .7 0 1 0 -1.4 0M185.0 146.5a.7 .7 0 1 0 1.4 0a.7 .7 0 1 0 -1.4 0M185.5 97.2a.7 .7 0 1 0 1.4 0a.7 .7 0 1 0 -1.4 0M185.8 103.5a.7 .7 0 1 0 1.4 0a.7 .7 0 1 0 -1.4 0M183.2 215.0a.7 .7 0 1 0 1.4 0a.7 .7 0 1 0 -1.4 0M182.0 191.2a.7 .7 0 1 0 1.4 0a.7 .7 0 1 0 -1.4 0M184.0 207.4a.7 .7 0 1 0 1.4 0a.7 .7 0 1 0 -1.4 0M184.5 201.0a.7 .7 0 1 0 1.4 0a.7 .7 0 1 0 -1.4 0M184.5 184.8a.7 .7 0 1 0 1.4 0a.7 .7 0 1 0 -1.4 0M183.3 189.3a.7 .7 0 1 0 1.4 0a.7 .7 0 1 0 -1.4 0M181.6 211.5a.7 .7 0 1 0 1.4 0a.7 .7 0 1 0 -1.4 0M185.7 195.3a.7 .7 0 1 0 1.4 0a.7 .7 0 1 0 -1.4 0M182.1 214.2a.7 .7 0 1 0 1.4 0a.7 .7 0 1 0 -1.4 0M185.9 196.6a.7 .7 0 1 0 1.4 0a.7 .7 0 1 0 -1.4 0M186.3 190.8a.7 .7 0 1 0 1.4 0a.7 .7 0 1 0 -1.4 0M182.2 208.2a.7 .7 0 1 0 1.4 0a.7 .7 0 1 0 -1.4 0M185.6 187.7a.7 .7 0 1 0 1.4 0a.7 .7 0 1 0 -1.4 0M185.8 192.2a.7 .7 0 1 0 1.4 0a.7 .7 0 1 0 -1.4 0M185.6 196.4a.7 .7 0 1 0 1.4 0a.7 .7 0 1 0 -1.4 0M185.2 212.8a.7 .7 0 1 0 1.4 0a.7 .7 0 1 0 -1.4 0M183.0 194.4a.7 .7 0 1 0 1.4 0a.7 .7 0 1 0 -1.4 0M185.9 193.0a.7 .7 0 1 0 1.4 0a.7 .7 0 1 0 -1.4 0M182.5 208.2a.7 .7 0 1 0 1.4 0a.7 .7 0 1 0 -1.4 0M182.9 190.6a.7 .7 0 1 0 1.4 0a.7 .7 0 1 0 -1.4 0M185.0 213.3a.7 .7 0 1 0 1.4 0a.7 .7 0 1 0 -1.4 0M209.5 170.1a.7 .7 0 1 0 1.4 0a.7 .7 0 1 0 -1.4 0M211.1 208.5a.7 .7 0 1 0 1.4 0a.7 .7 0 1 0 -1.4 0M206.7 207.7a.7 .7 0 1 0 1.4 0a.7 .7 0 1 0 -1.4 0M206.8 201.8a.7 .7 0 1 0 1.4 0a.7 .7 0 1 0 -1.4 0M209.2 135.6a.7 .7 0 1 0 1.4 0a.7 .7 0 1 0 -1.4 0M210.2 140.8a.7 .7 0 1 0 1.4 0a.7 .7 0 1 0 -1.4 0M208.7 212.8a.7 .7 0 1 0 1.4 0a.7 .7 0 1 0 -1.4 0M206.8 166.8a.7 .7 0 1 0 1.4 0a.7 .7 0 1 0 -1.4 0M208.7 202.6a.7 .7 0 1 0 1.4 0a.7 .7 0 1 0 -1.4 0M208.2 148.5a.7 .7 0 1 0 1.4 0a.7 .7 0 1 0 -1.4 0M208.5 210.6a.7 .7 0 1 0 1.4 0a.7 .7 0 1 0 -1.4 0M207.5 210.5a.7 .7 0 1 0 1.4 0a.7 .7 0 1 0 -1.4 0M209.6 165.7a.7 .7 0 1 0 1.4 0a.7 .7 0 1 0 -1.4 0M206.5 199.0a.7 .7 0 1 0 1.4 0a.7 .7 0 1 0 -1.4 0M208.9 151.1a.7 .7 0 1 0 1.4 0a.7 .7 0 1 0 -1.4 0M205.7 194.3a.7 .7 0 1 0 1.4 0a.7 .7 0 1 0 -1.4 0M211.0 183.5a.7 .7 0 1 0 1.4 0a.7 .7 0 1 0 -1.4 0M207.7 150.7a.7 .7 0 1 0 1.4 0a.7 .7 0 1 0 -1.4 0M209.8 209.9a.7 .7 0 1 0 1.4 0a.7 .7 0 1 0 -1.4 0M206.7 197.7a.7 .7 0 1 0 1.4 0a.7 .7 0 1 0 -1.4 0M209.9 151.4a.7 .7 0 1 0 1.4 0a.7 .7 0 1 0 -1.4 0M209.1 215.0a.7 .7 0 1 0 1.4 0a.7 .7 0 1 0 -1.4 0M206.0 180.6a.7 .7 0 1 0 1.4 0a.7 .7 0 1 0 -1.4 0M208.3 150.6a.7 .7 0 1 0 1.4 0a.7 .7 0 1 0 -1.4 0M208.3 163.4a.7 .7 0 1 0 1.4 0a.7 .7 0 1 0 -1.4 0M209.2 158.9a.7 .7 0 1 0 1.4 0a.7 .7 0 1 0 -1.4 0M210.8 180.6a.7 .7 0 1 0 1.4 0a.7 .7 0 1 0 -1.4 0M209.6 204.2a.7 .7 0 1 0 1.4 0a.7 .7 0 1 0 -1.4 0M209.0 172.8a.7 .7 0 1 0 1.4 0a.7 .7 0 1 0 -1.4 0M207.6 214.9a.7 .7 0 1 0 1.4 0a.7 .7 0 1 0 -1.4 0M209.6 120.0a.7 .7 0 1 0 1.4 0a.7 .7 0 1 0 -1.4 0M210.2 114.0a.7 .7 0 1 0 1.4 0a.7 .7 0 1 0 -1.4 0M209.2 202.9a.7 .7 0 1 0 1.4 0a.7 .7 0 1 0 -1.4 0M208.7 199.4a.7 .7 0 1 0 1.4 0a.7 .7 0 1 0 -1.4 0M210.3 212.3a.7 .7 0 1 0 1.4 0a.7 .7 0 1 0 -1.4 0M207.9 211.6a.7 .7 0 1 0 1.4 0a.7 .7 0 1 0 -1.4 0M211.0 211.3a.7 .7 0 1 0 1.4 0a.7 .7 0 1 0 -1.4 0M207.9 204.9a.7 .7 0 1 0 1.4 0a.7 .7 0 1 0 -1.4 0M209.4 215.0a.7 .7 0 1 0 1.4 0a.7 .7 0 1 0 -1.4 0M210.1 214.9a.7 .7 0 1 0 1.4 0a.7 .7 0 1 0 -1.4 0M207.0 214.5a.7 .7 0 1 0 1.4 0a.7 .7 0 1 0 -1.4 0M208.4 210.4a.7 .7 0 1 0 1.4 0a.7 .7 0 1 0 -1.4 0M209.0 200.0a.7 .7 0 1 0 1.4 0a.7 .7 0 1 0 -1.4 0M235.1 212.7a.7 .7 0 1 0 1.4 0a.7 .7 0 1 0 -1.4 0M230.2 211.9a.7 .7 0 1 0 1.4 0a.7 .7 0 1 0 -1.4 0M232.6 120.0a.7 .7 0 1 0 1.4 0a.7 .7 0 1 0 -1.4 0M231.1 189.9a.7 .7 0 1 0 1.4 0a.7 .7 0 1 0 -1.4 0M235.3 181.7a.7 .7 0 1 0 1.4 0a.7 .7 0 1 0 -1.4 0M232.7 111.3a.7 .7 0 1 0 1.4 0a.7 .7 0 1 0 -1.4 0M230.2 185.2a.7 .7 0 1 0 1.4 0a.7 .7 0 1 0 -1.4 0M234.5 136.5a.7 .7 0 1 0 1.4 0a.7 .7 0 1 0 -1.4 0M231.7 163.3a.7 .7 0 1 0 1.4 0a.7 .7 0 1 0 -1.4 0M232.4 161.0a.7 .7 0 1 0 1.4 0a.7 .7 0 1 0 -1.4 0M234.4 205.1a.7 .7 0 1 0 1.4 0a.7 .7 0 1 0 -1.4 0M232.2 172.2a.7 .7 0 1 0 1.4 0a.7 .7 0 1 0 -1.4 0M234.5 213.8a.7 .7 0 1 0 1.4 0a.7 .7 0 1 0 -1.4 0M231.0 119.5a.7 .7 0 1 0 1.4 0a.7 .7 0 1 0 -1.4 0M230.8 161.7a.7 .7 0 1 0 1.4 0a.7 .7 0 1 0 -1.4 0M231.2 151.1a.7 .7 0 1 0 1.4 0a.7 .7 0 1 0 -1.4 0M233.3 201.9a.7 .7 0 1 0 1.4 0a.7 .7 0 1 0 -1.4 0M233.8 115.6a.7 .7 0 1 0 1.4 0a.7 .7 0 1 0 -1.4 0M230.8 110.8a.7 .7 0 1 0 1.4 0a.7 .7 0 1 0 -1.4 0M230.2 202.1a.7 .7 0 1 0 1.4 0a.7 .7 0 1 0 -1.4 0M234.8 197.1a.7 .7 0 1 0 1.4 0a.7 .7 0 1 0 -1.4 0M233.1 142.8a.7 .7 0 1 0 1.4 0a.7 .7 0 1 0 -1.4 0M234.7 110.5a.7 .7 0 1 0 1.4 0a.7 .7 0 1 0 -1.4 0M233.1 120.3a.7 .7 0 1 0 1.4 0a.7 .7 0 1 0 -1.4 0M231.0 214.9a.7 .7 0 1 0 1.4 0a.7 .7 0 1 0 -1.4 0M230.7 202.5a.7 .7 0 1 0 1.4 0a.7 .7 0 1 0 -1.4 0M232.4 151.0a.7 .7 0 1 0 1.4 0a.7 .7 0 1 0 -1.4 0M232.4 153.6a.7 .7 0 1 0 1.4 0a.7 .7 0 1 0 -1.4 0M234.5 188.6a.7 .7 0 1 0 1.4 0a.7 .7 0 1 0 -1.4 0M233.3 126.6a.7 .7 0 1 0 1.4 0a.7 .7 0 1 0 -1.4 0M233.5 163.1a.7 .7 0 1 0 1.4 0a.7 .7 0 1 0 -1.4 0M231.1 98.2a.7 .7 0 1 0 1.4 0a.7 .7 0 1 0 -1.4 0M230.8 102.8a.7 .7 0 1 0 1.4 0a.7 .7 0 1 0 -1.4 0M233.5 101.2a.7 .7 0 1 0 1.4 0a.7 .7 0 1 0 -1.4 0M233.0 197.6a.7 .7 0 1 0 1.4 0a.7 .7 0 1 0 -1.4 0M231.3 199.7a.7 .7 0 1 0 1.4 0a.7 .7 0 1 0 -1.4 0M233.3 194.1a.7 .7 0 1 0 1.4 0a.7 .7 0 1 0 -1.4 0M234.5 168.4a.7 .7 0 1 0 1.4 0a.7 .7 0 1 0 -1.4 0M230.9 195.8a.7 .7 0 1 0 1.4 0a.7 .7 0 1 0 -1.4 0M233.0 194.1a.7 .7 0 1 0 1.4 0a.7 .7 0 1 0 -1.4 0M230.8 212.2a.7 .7 0 1 0 1.4 0a.7 .7 0 1 0 -1.4 0M230.8 203.1a.7 .7 0 1 0 1.4 0a.7 .7 0 1 0 -1.4 0M234.3 182.9a.7 .7 0 1 0 1.4 0a.7 .7 0 1 0 -1.4 0M232.6 174.9a.7 .7 0 1 0 1.4 0a.7 .7 0 1 0 -1.4 0M233.0 206.9a.7 .7 0 1 0 1.4 0a.7 .7 0 1 0 -1.4 0M232.3 167.0a.7 .7 0 1 0 1.4 0a.7 .7 0 1 0 -1.4 0M231.1 196.3a.7 .7 0 1 0 1.4 0a.7 .7 0 1 0 -1.4 0M232.0 206.6a.7 .7 0 1 0 1.4 0a.7 .7 0 1 0 -1.4 0M233.5 173.8a.7 .7 0 1 0 1.4 0a.7 .7 0 1 0 -1.4 0M234.6 185.6a.7 .7 0 1 0 1.4 0a.7 .7 0 1 0 -1.4 0M257.5 72.4a.7 .7 0 1 0 1.4 0a.7 .7 0 1 0 -1.4 0M256.0 99.5a.7 .7 0 1 0 1.4 0a.7 .7 0 1 0 -1.4 0M256.8 67.4a.7 .7 0 1 0 1.4 0a.7 .7 0 1 0 -1.4 0M255.5 59.5a.7 .7 0 1 0 1.4 0a.7 .7 0 1 0 -1.4 0M258.7 124.0a.7 .7 0 1 0 1.4 0a.7 .7 0 1 0 -1.4 0M259.4 123.6a.7 .7 0 1 0 1.4 0a.7 .7 0 1 0 -1.4 0M258.7 138.8a.7 .7 0 1 0 1.4 0a.7 .7 0 1 0 -1.4 0M257.9 183.6a.7 .7 0 1 0 1.4 0a.7 .7 0 1 0 -1.4 0M255.7 141.4a.7 .7 0 1 0 1.4 0a.7 .7 0 1 0 -1.4 0M254.9 178.7a.7 .7 0 1 0 1.4 0a.7 .7 0 1 0 -1.4 0M257.2 187.3a.7 .7 0 1 0 1.4 0a.7 .7 0 1 0 -1.4 0M258.8 163.7a.7 .7 0 1 0 1.4 0a.7 .7 0 1 0 -1.4 0M255.6 148.4a.7 .7 0 1 0 1.4 0a.7 .7 0 1 0 -1.4 0M254.4 183.1a.7 .7 0 1 0 1.4 0a.7 .7 0 1 0 -1.4 0M257.4 160.9a.7 .7 0 1 0 1.4 0a.7 .7 0 1 0 -1.4 0M257.4 189.7a.7 .7 0 1 0 1.4 0a.7 .7 0 1 0 -1.4 0M256.8 157.2a.7 .7 0 1 0 1.4 0a.7 .7 0 1 0 -1.4 0M257.6 188.8a.7 .7 0 1 0 1.4 0a.7 .7 0 1 0 -1.4 0M255.2 213.6a.7 .7 0 1 0 1.4 0a.7 .7 0 1 0 -1.4 0M258.0 194.8a.7 .7 0 1 0 1.4 0a.7 .7 0 1 0 -1.4 0M259.1 195.6a.7 .7 0 1 0 1.4 0a.7 .7 0 1 0 -1.4 0M257.6 196.6a.7 .7 0 1 0 1.4 0a.7 .7 0 1 0 -1.4 0M259.7 213.0a.7 .7 0 1 0 1.4 0a.7 .7 0 1 0 -1.4 0"/>
<path d="M38.6 214.6a.7 .7 0 1 0 1.4 0a.7 .7 0 1 0 -1.4 0M37.9 211.0a.7 .7 0 1 0 1.4 0a.7 .7 0 1 0 -1.4 0M38.6 214.3a.7 .7 0 1 0 1.4 0a.7 .7 0 1 0 -1.4 0M36.5 214.6a.7 .7 0 1 0 1.4 0a.7 .7 0 1 0 -1.4 0M37.1 212.7a.7 .7 0 1 0 1.4 0a.7 .7 0 1 0 -1.4 0M38.2 209.5a.7 .7 0 1 0 1.4 0a.7 .7 0 1 0 -1.4 0M37.7 208.3a.7 .7 0 1 0 1.4 0a.7 .7 0 1 0 -1.4 0M64.2 208.4a.7 .7 0 1 0 1.4 0a.7 .7 0 1 0 -1.4 0M60.7 201.7a.7 .7 0 1 0 1.4 0a.7 .7 0 1 0 -1.4 0M64.2 201.1a.7 .7 0 1 0 1.4 0a.7 .7 0 1 0 -1.4 0M64.4 213.3a.7 .7 0 1 0 1.4 0a.7 .7 0 1 0 -1.4 0M62.7 205.5a.7 .7 0 1 0 1.4 0a.7 .7 0 1 0 -1.4 0M61.4 210.4a.7 .7 0 1 0 1.4 0a.7 .7 0 1 0 -1.4 0M63.4 204.7a.7 .7 0 1 0 1.4 0a.7 .7 0 1 0 -1.4 0M88.0 212.1a.7 .7 0 1 0 1.4 0a.7 .7 0 1 0 -1.4 0M88.6 210.3a.7 .7 0 1 0 1.4 0a.7 .7 0 1 0 -1.4 0M87.8 204.2a.7 .7 0 1 0 1.4 0a.7 .7 0 1 0 -1.4 0M85.2 210.8a.7 .7 0 1 0 1.4 0a.7 .7 0 1 0 -1.4 0M88.2 210.5a.7 .7 0 1 0 1.4 0a.7 .7 0 1 0 -1.4 0M87.9 210.3a.7 .7 0 1 0 1.4 0a.7 .7 0 1 0 -1.4 0M88.9 204.6a.7 .7 0 1 0 1.4 0a.7 .7 0 1 0 -1.4 0M88.8 211.3a.7 .7 0 1 0 1.4 0a.7 .7 0 1 0 -1.4 0M86.1 211.6a.7 .7 0 1 0 1.4 0a.7 .7 0 1 0 -1.4 0M85.8 209.2a.7 .7 0 1 0 1.4 0a.7 .7 0 1 0 -1.4 0M86.1 203.2a.7 .7 0 1 0 1.4 0a.7 .7 0 1 0 -1.4 0M86.5 201.2a.7 .7 0 1 0 1.4 0a.7 .7 0 1 0 -1.4 0M87.8 201.8a.7 .7 0 1 0 1.4 0a.7 .7 0 1 0 -1.4 0M88.7 198.7a.7 .7 0 1 0 1.4 0a.7 .7 0 1 0 -1.4 0M109.4 191.9a.7 .7 0 1 0 1.4 0a.7 .7 0 1 0 -1.4 0M111.2 190.8a.7 .7 0 1 0 1.4 0a.7 .7 0 1 0 -1.4 0M109.7 206.0a.7 .7 0 1 0 1.4 0a.7 .7 0 1 0 -1.4 0M110.4 210.5a.7 .7 0 1 0 1.4 0a.7 .7 0 1 0 -1.4 0M111.2 212.3a.7 .7 0 1 0 1.4 0a.7 .7 0 1 0 -1.4 0M110.4 199.2a.7 .7 0 1 0 1.4 0a.7 .7 0 1 0 -1.4 0M111.2 199.9a.7 .7 0 1 0 1.4 0a.7 .7 0 1 0 -1.4 0M112.1 198.3a.7 .7 0 1 0 1.4 0a.7 .7 0 1 0 -1.4 0M113.0 202.7a.7 .7 0 1 0 1.4 0a.7 .7 0 1 0 -1.4 0M111.7 200.6a.7 .7 0 1 0 1.4 0a.7 .7 0 1 0 -1.4 0M109.4 206.9a.7 .7 0 1 0 1.4 0a.7 .7 0 1 0 -1.4 0M109.2 189.3a.7 .7 0 1 0 1.4 0a.7 .7 0 1 0 -1.4 0M112.2 182.9a.7 .7 0 1 0 1.4 0a.7 .7 0 1 0 -1.4 0M110.8 186.2a.7 .7 0 1 0 1.4 0a.7 .7 0 1 0 -1.4 0M111.4 190.5a.7 .7 0 1 0 1.4 0a.7 .7 0 1 0 -1.4 0M109.5 188.7a.7 .7 0 1 0 1.4 0a.7 .7 0 1 0 -1.4 0M134.6 208.2a.7 .7 0 1 0 1.4 0a.7 .7 0 1 0 -1.4 0M137.1 213.4a.7 .7 0 1 0 1.4 0a.7 .7 0 1 0 -1.4 0M133.8 208.4a.7 .7 0 1 0 1.4 0a.7 .7 0 1 0 -1.4 0M133.4 213.8a.7 .7 0 1 0 1.4 0a.7 .7 0 1 0 -1.4 0M137.3 209.3a.7 .7 0 1 0 1.4 0a.7 .7 0 1 0 -1.4 0M133.5 208.8a.7 .7 0 1 0 1.4 0a.7 .7 0 1 0 -1.4 0M134.9 210.8a.7 .7 0 1 0 1.4 0a.7 .7 0 1 0 -1.4 0M161.7 210.0a.7 .7 0 1 0 1.4 0a.7 .7 0 1 0 -1.4 0M161.7 212.2a.7 .7 0 1 0 1.4 0a.7 .7 0 1 0 -1.4 0M185.0 166.5a.7 .7 0 1 0 1.4 0a.7 .7 0 1 0 -1.4 0M185.4 214.8a.7 .7 0 1 0 1.4 0a.7 .7 0 1 0 -1.4 0M186.5 168.0a.7 .7 0 1 0 1.4 0a.7 .7 0 1 0 -1.4 0M182.6 177.7a.7 .7 0 1 0 1.4 0a.7 .7 0 1 0 -1.4 0M182.1 165.0a.7 .7 0 1 0 1.4 0a.7 .7 0 1 0 -1.4 0M182.3 162.2a.7 .7 0 1 0 1.4 0a.7 .7 0 1 0 -1.4 0M185.5 161.9a.7 .7 0 1 0 1.4 0a.7 .7 0 1 0 -1.4 0M182.8 186.0a.7 .7 0 1 0 1.4 0a.7 .7 0 1 0 -1.4 0M185.1 141.9a.7 .7 0 1 0 1.4 0a.7 .7 0 1 0 -1.4 0M185.0 210.6a.7 .7 0 1 0 1.4 0a.7 .7 0 1 0 -1.4 0M186.8 214.8a.7 .7 0 1 0 1.4 0a.7 .7 0 1 0 -1.4 0M183.9 161.1a.7 .7 0 1 0 1.4 0a.7 .7 0 1 0 -1.4 0M182.7 173.4a.7 .7 0 1 0 1.4 0a.7 .7 0 1 0 -1.4 0M183.2 214.9a.7 .7 0 1 0 1.4 0a.7 .7 0 1 0 -1.4 0M186.0 196.7a.7 .7 0 1 0 1.4 0a.7 .7 0 1 0 -1.4 0M184.5 170.9a.7 .7 0 1 0 1.4 0a.7 .7 0 1 0 -1.4 0M182.6 213.9a.7 .7 0 1 0 1.4 0a.7 .7 0 1 0 -1.4 0M185.3 190.4a.7 .7 0 1 0 1.4 0a.7 .7 0 1 0 -1.4 0M185.6 180.2a.7 .7 0 1 0 1.4 0a.7 .7 0 1 0 -1.4 0M183.4 133.3a.7 .7 0 1 0 1.4 0a.7 .7 0 1 0 -1.4 0M185.9 214.7a.7 .7 0 1 0 1.4 0a.7 .7 0 1 0 -1.4 0M185.9 184.8a.7 .7 0 1 0 1.4 0a.7 .7 0 1 0 -1.4 0M182.5 160.9a.7 .7 0 1 0 1.4 0a.7 .7 0 1 0 -1.4 0M181.8 165.0a.7 .7 0 1 0 1.4 0a.7 .7 0 1 0 -1.4 0M185.4 190.0a.7 .7 0 1 0 1.4 0a.7 .7 0 1 0 -1.4 0M182.8 213.8a.7 .7 0 1 0 1.4 0a.7 .7 0 1 0 -1.4 0M182.9 158.9a.7 .7 0 1 0 1.4 0a.7 .7 0 1 0 -1.4 0M183.4 159.7a.7 .7 0 1 0 1.4 0a.7 .7 0 1 0 -1.4 0M184.0 129.3a.7 .7 0 1 0 1.4 0a.7 .7 0 1 0 -1.4 0M183.5 113.9a.7 .7 0 1 0 1.4 0a.7 .7 0 1 0 -1.4 0M186.7 204.6a.7 .7 0 1 0 1.4 0a.7 .7 0 1 0 -1.4 0M186.5 97.6a.7 .7 0 1 0 1.4 0a.7 .7 0 1 0 -1.4 0M182.3 89.4a.7 .7 0 1 0 1.4 0a.7 .7 0 1 0 -1.4 0M183.9 196.1a.7 .7 0 1 0 1.4 0a.7 .7 0 1 0 -1.4 0M182.4 186.1a.7 .7 0 1 0 1.4 0a.7 .7 0 1 0 -1.4 0M185.8 214.2a.7 .7 0 1 0 1.4 0a.7 .7 0 1 0 -1.4 0M186.1 203.6a.7 .7 0 1 0 1.4 0a.7 .7 0 1 0 -1.4 0M182.7 181.2a.7 .7 0 1 0 1.4 0a.7 .7 0 1 0 -1.4 0M184.7 193.2a.7 .7 0 1 0 1.4 0a.7 .7 0 1 0 -1.4 0M184.7 188.1a.7 .7 0 1 0 1.4 0a.7 .7 0 1 0 -1.4 0M182.1 208.9a.7 .7 0 1 0 1.4 0a.7 .7 0 1 0 -1.4 0M186.2 198.4a.7 .7 0 1 0 1.4 0a.7 .7 0 1 0 -1.4 0M184.6 183.9a.7 .7 0 1 0 1.4 0a.7 .7 0 1 0 -1.4 0M182.7 206.1a.7 .7 0 1 0 1.4 0a.7 .7 0 1 0 -1.4 0M186.8 210.1a.7 .7 0 1 0 1.4 0a.7 .7 0 1 0 -1.4 0M181.6 212.2a.7 .7 0 1 0 1.4 0a.7 .7 0 1 0 -1.4 0M182.5 208.7a.7 .7 0 1 0 1.4 0a.7 .7 0 1 0 -1.4 0M184.7 186.4a.7 .7 0 1 0 1.4 0a.7 .7 0 1 0 -1.4 0M185.2 196.1a.7 .7 0 1 0 1.4 0a.7 .7 0 1 0 -1.4 0M184.3 198.8a.7 .7 0 1 0 1.4 0a.7 .7 0 1 0 -1.4 0M207.4 203.2a.7 .7 0 1 0 1.4 0a.7 .7 0 1 0 -1.4 0M210.2 169.9a.7 .7 0 1 0 1.4 0a.7 .7 0 1 0 -1.4 0M206.2 176.1a.7 .7 0 1 0 1.4 0a.7 .7 0 1 0 -1.4 0M210.1 188.7a.7 .7 0 1 0 1.4 0a.7 .7 0 1 0 -1.4 0M207.3 142.4a.7 .7 0 1 0 1.4 0a.7 .7 0 1 0 -1.4 0M206.3 146.9a.7 .7 0 1 0 1.4 0a.7 .7 0 1 0 -1.4 0M210.8 210.7a.7 .7 0 1 0 1.4 0a.7 .7 0 1 0 -1.4 0M208.2 182.7a.7 .7 0 1 0 1.4 0a.7 .7 0 1 0 -1.4 0M207.7 134.8a.7 .7 0 1 0 1.4 0a.7 .7 0 1 0 -1.4 0M210.1 210.4a.7 .7 0 1 0 1.4 0a.7 .7 0 1 0 -1.4 0M210.2 137.9a.7 .7 0 1 0 1.4 0a.7 .7 0 1 0 -1.4 0M209.7 175.7a.7 .7 0 1 0 1.4 0a.7 .7 0 1 0 -1.4 0M207.1 211.0a.7 .7 0 1 0 1.4 0a.7 .7 0 1 0 -1.4 0M207.0 214.4a.7 .7 0 1 0 1.4 0a.7 .7 0 1 0 -1.4 0M209.4 177.1a.7 .7 0 1 0 1.4 0a.7 .7 0 1 0 -1.4 0M208.9 213.2a.7 .7 0 1 0 1.4 0a.7 .7 0 1 0 -1.4 0M206.3 161.1a.7 .7 0 1 0 1.4 0a.7 .7 0 1 0 -1.4 0M206.3 151.7a.7 .7 0 1 0 1.4 0a.7 .7 0 1 0 -1.4 0M209.0 156.1a.7 .7 0 1 0 1.4 0a.7 .7 0 1 0 -1.4 0M210.0 156.2a.7 .7 0 1 0 1.4 0a.7 .7 0 1 0 -1.4 0M208.2 208.0a.7 .7 0 1 0 1.4 0a.7 .7 0 1 0 -1.4 0M207.5 132.6a.7 .7 0 1 0 1.4 0a.7 .7 0 1 0 -1.4 0M210.4 206.6a.7 .7 0 1 0 1.4 0a.7 .7 0 1 0 -1.4 0M211.0 211.8a.7 .7 0 1 0 1.4 0a.7 .7 0 1 0 -1.4 0M208.5 127.2a.7 .7 0 1 0 1.4 0a.7 .7 0 1 0 -1.4 0M210.1 206.9a.7 .7 0 1 0 1.4 0a.7 .7 0 1 0 -1.4 0M207.6 188.7a.7 .7 0 1 0 1.4 0a.7 .7 0 1 0 -1.4 0M206.5 212.2a.7 .7 0 1 0 1.4 0a.7 .7 0 1 0 -1.4 0M209.7 157.2a.7 .7 0 1 0 1.4 0a.7 .7 0 1 0 -1.4 0M210.5 167.6a.7 .7 0 1 0 1.4 0a.7 .7 0 1 0 -1.4 0M205.6 211.3a.7 .7 0 1 0 1.4 0a.7 .7 0 1 0 -1.4 0M209.1 185.8a.7 .7 0 1 0 1.4 0a.7 .7 0 1 0 -1.4 0M206.9 213.9a.7 .7 0 1 0 1.4 0a.7 .7 0 1 0 -1.4 0M207.1 168.6a.7 .7 0 1 0 1.4 0a.7 .7 0 1 0 -1.4 0M210.8 193.4a.7 .7 0 1 0 1.4 0a.7 .7 0 1 0 -1.4 0M207.6 176.5a.7 .7 0 1 0 1.4 0a.7 .7 0 1 0 -1.4 0M209.7 164.5a.7 .7 0 1 0 1.4 0a.7 .7 0 1 0 -1.4 0M208.7 133.1a.7 .7 0 1 0 1.4 0a.7 .7 0 1 0 -1.4 0M210.0 215.0a.7 .7 0 1 0 1.4 0a.7 .7 0 1 0 -1.4 0M209.1 120.3a.7 .7 0 1 0 1.4 0a.7 .7 0 1 0 -1.4 0M208.7 117.0a.7 .7 0 1 0 1.4 0a.7 .7 0 1 0 -1.4 0M206.7 212.5a.7 .7 0 1 0 1.4 0a.7 .7 0 1 0 -1.4 0M210.0 197.5a.7 .7 0 1 0 1.4 0a.7 .7 0 1 0 -1.4 0M210.6 206.5a.7 .7 0 1 0 1.4 0a.7 .7 0 1 0 -1.4 0M206.1 208.1a.7 .7 0 1 0 1.4 0a.7 .7 0 1 0 -1.4 0M211.0 211.4a.7 .7 0 1 0 1.4 0a.7 .7 0 1 0 -1.4 0M207.4 211.0a.7 .7 0 1 0 1.4 0a.7 .7 0 1 0 -1.4 0M208.9 188.4a.7 .7 0 1 0 1.4 0a.7 .7 0 1 0 -1.4 0M208.2 188.0a.7 .7 0 1 0 1.4 0a.7 .7 0 1 0 -1.4 0M206.5 192.7a.7 .7 0 1 0 1.4 0a.7 .7 0 1 0 -1.4 0M210.4 192.2a.7 .7 0 1 0 1.4 0a.7 .7 0 1 0 -1.4 0M209.6 189.8a.7 .7 0 1 0 1.4 0a.7 .7 0 1 0 -1.4 0M206.7 188.9a.7 .7 0 1 0 1.4 0a.7 .7 0 1 0 -1.4 0M206.7 197.3a.7 .7 0 1 0 1.4 0a.7 .7 0 1 0 -1.4 0M210.9 214.2a.7 .7 0 1 0 1.4 0a.7 .7 0 1 0 -1.4 0M208.9 214.4a.7 .7 0 1 0 1.4 0a.7 .7 0 1 0 -1.4 0M209.7 214.9a.7 .7 0 1 0 1.4 0a.7 .7 0 1 0 -1.4 0M207.4 211.2a.7 .7 0 1 0 1.4 0a.7 .7 0 1 0 -1.4 0M210.9 213.7a.7 .7 0 1 0 1.4 0a.7 .7 0 1 0 -1.4 0M233.6 202.7a.7 .7 0 1 0 1.4 0a.7 .7 0 1 0 -1.4 0M232.0 150.8a.7 .7 0 1 0 1.4 0a.7 .7 0 1 0 -1.4 0M231.7 185.3a.7 .7 0 1 0 1.4 0a.7 .7 0 1 0 -1.4 0M234.4 139.7a.7 .7 0 1 0 1.4 0a.7 .7 0 1 0 -1.4 0M232.0 138.6a.7 .7 0 1 0 1.4 0a.7 .7 0 1 0 -1.4 0M234.5 204.2a.7 .7 0 1 0 1.4 0a.7 .7 0 1 0 -1.4 0M234.7 165.3a.7 .7 0 1 0 1.4 0a.7 .7 0 1 0 -1.4 0M231.5 142.1a.7 .7 0 1 0 1.4 0a.7 .7 0 1 0 -1.4 0M232.6 113.1a.7 .7 0 1 0 1.4 0a.7 .7 0 1 0 -1.4 0M230.4 191.5a.7 .7 0 1 0 1.4 0a.7 .7 0 1 0 -1.4 0M231.1 141.1a.7 .7 0 1 0 1.4 0a.7 .7 0 1 0 -1.4 0M231.4 190.2a.7 .7 0 1 0 1.4 0a.7 .7 0 1 0 -1.4 0M235.0 209.0a.7 .7 0 1 0 1.4 0a.7 .7 0 1 0 -1.4 0M230.9 195.5a.7 .7 0 1 0 1.4 0a.7 .7 0 1 0 -1.4 0M234.8 154.2a.7 .7 0 1 0 1.4 0a.7 .7 0 1 0 -1.4 0M231.5 119.7a.7 .7 0 1 0 1.4 0a.7 .7 0 1 0 -1.4 0M234.5 203.5a.7 .7 0 1 0 1.4 0a.7 .7 0 1 0 -1.4 0M232.4 202.2a.7 .7 0 1 0 1.4 0a.7 .7 0 1 0 -1.4 0M230.6 120.3a.7 .7 0 1 0 1.4 0a.7 .7 0 1 0 -1.4 0M230.1 212.8a.7 .7 0 1 0 1.4 0a.7 .7 0 1 0 -1.4 0M233.2 176.9a.7 .7 0 1 0 1.4 0a.7 .7 0 1 0 -1.4 0M233.9 180.2a.7 .7 0 1 0 1.4 0a.7 .7 0 1 0 -1.4 0M231.3 147.1a.7 .7 0 1 0 1.4 0a.7 .7 0 1 0 -1.4 0M233.7 213.7a.7 .7 0 1 0 1.4 0a.7 .7 0 1 0 -1.4 0M233.9 212.3a.7 .7 0 1 0 1.4 0a.7 .7 0 1 0 -1.4 0M232.5 212.6a.7 .7 0 1 0 1.4 0a.7 .7 0 1 0 -1.4 0M230.6 118.2a.7 .7 0 1 0 1.4 0a.7 .7 0 1 0 -1.4 0M235.5 211.4a.7 .7 0 1 0 1.4 0a.7 .7 0 1 0 -1.4 0M234.7 92.1a.7 .7 0 1 0 1.4 0a.7 .7 0 1 0 -1.4 0M233.4 214.9a.7 .7 0 1 0 1.4 0a.7 .7 0 1 0 -1.4 0M232.5 178.3a.7 .7 0 1 0 1.4 0a.7 .7 0 1 0 -1.4 0M234.2 181.3a.7 .7 0 1 0 1.4 0a.7 .7 0 1 0 -1.4 0M232.7 198.8a.7 .7 0 1 0 1.4 0a.7 .7 0 1 0 -1.4 0M233.1 203.7a.7 .7 0 1 0 1.4 0a.7 .7 0 1 0 -1.4 0M235.2 214.9a.7 .7 0 1 0 1.4 0a.7 .7 0 1 0 -1.4 0M232.9 193.0a.7 .7 0 1 0 1.4 0a.7 .7 0 1 0 -1.4 0M234.0 184.7a.7 .7 0 1 0 1.4 0a.7 .7 0 1 0 -1.4 0M230.2 210.5a.7 .7 0 1 0 1.4 0a.7 .7 0 1 0 -1.4 0M233.1 199.3a.7 .7 0 1 0 1.4 0a.7 .7 0 1 0 -1.4 0M230.9 197.9a.7 .7 0 1 0 1.4 0a.7 .7 0 1 0 -1.4 0M233.4 200.8a.7 .7 0 1 0 1.4 0a.7 .7 0 1 0 -1.4 0M232.8 183.1a.7 .7 0 1 0 1.4 0a.7 .7 0 1 0 -1.4 0M231.4 212.4a.7 .7 0 1 0 1.4 0a.7 .7 0 1 0 -1.4 0M234.5 199.1a.7 .7 0 1 0 1.4 0a.7 .7 0 1 0 -1.4 0M230.8 178.2a.7 .7 0 1 0 1.4 0a.7 .7 0 1 0 -1.4 0M233.2 189.3a.7 .7 0 1 0 1.4 0a.7 .7 0 1 0 -1.4 0M234.5 175.2a.7 .7 0 1 0 1.4 0a.7 .7 0 1 0 -1.4 0M255.9 99.6a.7 .7 0 1 0 1.4 0a.7 .7 0 1 0 -1.4 0M256.3 95.8a.7 .7 0 1 0 1.4 0a.7 .7 0 1 0 -1.4 0M259.2 133.9a.7 .7 0 1 0 1.4 0a.7 .7 0 1 0 -1.4 0M258.8 126.9a.7 .7 0 1 0 1.4 0a.7 .7 0 1 0 -1.4 0M255.1 113.4a.7 .7 0 1 0 1.4 0a.7 .7 0 1 0 -1.4 0M258.8 152.2a.7 .7 0 1 0 1.4 0a.7 .7 0 1 0 -1.4 0M257.4 171.6a.7 .7 0 1 0 1.4 0a.7 .7 0 1 0 -1.4 0M256.9 135.5a.7 .7 0 1 0 1.4 0a.7 .7 0 1 0 -1.4 0M255.0 164.7a.7 .7 0 1 0 1.4 0a.7 .7 0 1 0 -1.4 0M255.5 173.8a.7 .7 0 1 0 1.4 0a.7 .7 0 1 0 -1.4 0M259.5 170.8a.7 .7 0 1 0 1.4 0a.7 .7 0 1 0 -1.4 0M254.7 187.7a.7 .7 0 1 0 1.4 0a.7 .7 0 1 0 -1.4 0M258.3 181.8a.7 .7 0 1 0 1.4 0a.7 .7 0 1 0 -1.4 0M255.4 136.0a.7 .7 0 1 0 1.4 0a.7 .7 0 1 0 -1.4 0M254.9 163.4a.7 .7 0 1 0 1.4 0a.7 .7 0 1 0 -1.4 0M256.7 136.8a.7 .7 0 1 0 1.4 0a.7 .7 0 1 0 -1.4 0M255.2 156.1a.7 .7 0 1 0 1.4 0a.7 .7 0 1 0 -1.4 0M256.1 174.5a.7 .7 0 1 0 1.4 0a.7 .7 0 1 0 -1.4 0"/>
<path d="M39.8 214.7a.7 .7 0 1 0 1.4 0a.7 .7 0 1 0 -1.4 0M36.5 209.5a.7 .7 0 1 0 1.4 0a.7 .7 0 1 0 -1.4 0M39.3 214.5a.7 .7 0 1 0 1.4 0a.7 .7 0 1 0 -1.4 0M38.7 211.6a.7 .7 0 1 0 1.4 0a.7 .7 0 1 0 -1.4 0M37.6 214.3a.7 .7 0 1 0 1.4 0a.7 .7 0 1 0 -1.4 0M39.1 209.0a.7 .7 0 1 0 1.4 0a.7 .7 0 1 0 -1.4 0M63.0 211.4a.7 .7 0 1 0 1.4 0a.7 .7 0 1 0 -1.4 0M61.3 205.8a.7 .7 0 1 0 1.4 0a.7 .7 0 1 0 -1.4 0M64.5 201.8a.7 .7 0 1 0 1.4 0a.7 .7 0 1 0 -1.4 0M60.9 200.3a.7 .7 0 1 0 1.4 0a.7 .7 0 1 0 -1.4 0M63.3 202.2a.7 .7 0 1 0 1.4 0a.7 .7 0 1 0 -1.4 0M61.4 205.8a.7 .7 0 1 0 1.4 0a.7 .7 0 1 0 -1.4 0M62.3 200.0a.7 .7 0 1 0 1.4 0a.7 .7 0 1 0 -1.4 0M61.3 211.0a.7 .7 0 1 0 1.4 0a.7 .7 0 1 0 -1.4 0M63.9 210.9a.7 .7 0 1 0 1.4 0a.7 .7 0 1 0 -1.4 0M63.6 213.9a.7 .7 0 1 0 1.4 0a.7 .7 0 1 0 -1.4 0M60.6 210.1a.7 .7 0 1 0 1.4 0a.7 .7 0 1 0 -1.4 0M61.5 207.0a.7 .7 0 1 0 1.4 0a.7 .7 0 1 0 -1.4 0M88.2 209.2a.7 .7 0 1 0 1.4 0a.7 .7 0 1 0 -1.4 0M86.7 203.2a.7 .7 0 1 0 1.4 0a.7 .7 0 1 0 -1.4 0M87.5 207.6a.7 .7 0 1 0 1.4 0a.7 .7 0 1 0 -1.4 0M88.7 214.1a.7 .7 0 1 0 1.4 0a.7 .7 0 1 0 -1.4 0M87.5 205.8a.7 .7 0 1 0 1.4 0a.7 .7 0 1 0 -1.4 0M86.6 207.1a.7 .7 0 1 0 1.4 0a.7 .7 0 1 0 -1.4 0M85.7 212.2a.7 .7 0 1 0 1.4 0a.7 .7 0 1 0 -1.4 0M110.7 191.7a.7 .7 0 1 0 1.4 0a.7 .7 0 1 0 -1.4 0M110.3 196.0a.7 .7 0 1 0 1.4 0a.7 .7 0 1 0 -1.4 0M109.4 210.4a.7 .7 0 1 0 1.4 0a.7 .7 0 1 0 -1.4 0M109.3 192.7a.7 .7 0 1 0 1.4 0a.7 .7 0 1 0 -1.4 0M113.1 207.5a.7 .7 0 1 0 1.4 0a.7 .7 0 1 0 -1.4 0M109.7 202.7a.7 .7 0 1 0 1.4 0a.7 .7 0 1 0 -1.4 0M112.7 203.9a.7 .7 0 1 0 1.4 0a.7 .7 0 1 0 -1.4 0M110.6 213.4a.7 .7 0 1 0 1.4 0a.7 .7 0 1 0 -1.4 0M112.9 211.1a.7 .7 0 1 0 1.4 0a.7 .7 0 1 0 -1.4 0M111.0 192.9a.7 .7 0 1 0 1.4 0a.7 .7 0 1 0 -1.4 0M111.8 205.2a.7 .7 0 1 0 1.4 0a.7 .7 0 1 0 -1.4 0M111.3 207.8a.7 .7 0 1 0 1.4 0a.7 .7 0 1 0 -1.4 0M112.8 185.4a.7 .7 0 1 0 1.4 0a.7 .7 0 1 0 -1.4 0M109.8 183.9a.7 .7 0 1 0 1.4 0a.7 .7 0 1 0 -1.4 0M137.4 208.5a.7 .7 0 1 0 1.4 0a.7 .7 0 1 0 -1.4 0M136.1 209.5a.7 .7 0 1 0 1.4 0a.7 .7 0 1 0 -1.4 0M133.8 209.0a.7 .7 0 1 0 1.4 0a.7 .7 0 1 0 -1.4 0M137.4 213.2a.7 .7 0 1 0 1.4 0a.7 .7 0 1 0 -1.4 0M136.3 211.8a.7 .7 0 1 0 1.4 0a.7 .7 0 1 0 -1.4 0M133.5 212.9a.7 .7 0 1 0 1.4 0a.7 .7 0 1 0 -1.4 0M161.3 212.5a.7 .7 0 1 0 1.4 0a.7 .7 0 1 0 -1.4 0M158.0 213.5a.7 .7 0 1 0 1.4 0a.7 .7 0 1 0 -1.4 0M161.5 211.1a.7 .7 0 1 0 1.4 0a.7 .7 0 1 0 -1.4 0M159.0 212.7a.7 .7 0 1 0 1.4 0a.7 .7 0 1 0 -1.4 0M182.5 125.9a.7 .7 0 1 0 1.4 0a.7 .7 0 1 0 -1.4 0M182.9 170.8a.7 .7 0 1 0 1.4 0a.7 .7 0 1 0 -1.4 0M186.4 182.9a.7 .7 0 1 0 1.4 0a.7 .7 0 1 0 -1.4 0M184.6 132.4a.7 .7 0 1 0 1.4 0a.7 .7 0 1 0 -1.4 0M181.3 200.2a.7 .7 0 1 0 1.4 0a.7 .7 0 1 0 -1.4 0M184.5 204.2a.7 .7 0 1 0 1.4 0a.7 .7 0 1 0 -1.4 0M182.7 167.7a.7 .7 0 1 0 1.4 0a.7 .7 0 1 0 -1.4 0M186.2 134.4a.7 .7 0 1 0 1.4 0a.7 .7 0 1 0 -1.4 0M181.5 205.0a.7 .7 0 1 0 1.4 0a.7 .7 0 1 0 -1.4 0M184.8 114.6a.7 .7 0 1 0 1.4 0a.7 .7 0 1 0 -1.4 0M183.1 212.0a.7 .7 0 1 0 1.4 0a.7 .7 0 1 0 -1.4 0M184.5 214.7a.7 .7 0 1 0 1.4 0a.7 .7 0 1 0 -1.4 0M182.4 117.0a.7 .7 0 1 0 1.4 0a.7 .7 0 1 0 -1.4 0M182.6 162.2a.7 .7 0 1 0 1.4 0a.7 .7 0 1 0 -1.4 0M183.3 176.2a.7 .7 0 1 0 1.4 0a.7 .7 0 1 0 -1.4 0M182.5 163.5a.7 .7 0 1 0 1.4 0a.7 .7 0 1 0 -1.4 0M184.6 182.4a.7 .7 0 1 0 1.4 0a.7 .7 0 1 0 -1.4 0M184.9 214.5a.7 .7 0 1 0 1.4 0a.7 .7 0 1 0 -1.4 0M186.5 185.8a.7 .7 0 1 0 1.4 0a.7 .7 0 1 0 -1.4 0M183.1 196.7a.7 .7 0 1 0 1.4 0a.7 .7 0 1 0 -1.4 0M186.8 200.1a.7 .7 0 1 0 1.4 0a.7 .7 0 1 0 -1.4 0M186.1 209.7a.7 .7 0 1 0 1.4 0a.7 .7 0 1 0 -1.4 0M184.9 129.1a.7 .7 0 1 0 1.4 0a.7 .7 0 1 0 -1.4 0M184.3 198.8a.7 .7 0 1 0 1.4 0a.7 .7 0 1 0 -1.4 0M181.7 153.6a.7 .7 0 1 0 1.4 0a.7 .7 0 1 0 -1.4 0M186.8 207.4a.7 .7 0 1 0 1.4 0a.7 .7 0 1 0 -1.4 0M182.2 151.4a.7 .7 0 1 0 1.4 0a.7 .7 0 1 0 -1.4 0M185.3 210.7a.7 .7 0 1 0 1.4 0a.7 .7 0 1 0 -1.4 0M182.1 155.4a.7 .7 0 1 0 1.4 0a.7 .7 0 1 0 -1.4 0M184.4 158.2a.7 .7 0 1 0 1.4 0a.7 .7 0 1 0 -1.4 0M185.2 169.8a.7 .7 0 1 0 1.4 0a.7 .7 0 1 0 -1.4 0M182.4 132.4a.7 .7 0 1 0 1.4 0a.7 .7 0 1 0 -1.4 0M185.7 141.3a.7 .7 0 1 0 1.4 0a.7 .7 0 1 0 -1.4 0M185.4 212.1a.7 .7 0 1 0 1.4 0a.7 .7 0 1 0 -1.4 0M185.3 187.0a.7 .7 0 1 0 1.4 0a.7 .7 0 1 0 -1.4 0M182.7 120.6a.7 .7 0 1 0 1.4 0a.7 .7 0 1 0 -1.4 0M184.6 155.6a.7 .7 0 1 0 1.4 0a.7 .7 0 1 0 -1.4 0M184.9 180.6a.7 .7 0 1 0 1.4 0a.7 .7 0 1 0 -1.4 0M182.1 172.6a.7 .7 0 1 0 1.4 0a.7 .7 0 1 0 -1.4 0M184.3 208.3a.7 .7 0 1 0 1.4 0a.7 .7 0 1 0 -1.4 0M183.5 207.0a.7 .7 0 1 0 1.4 0a.7 .7 0 1 0 -1.4 0M186.2 205.6a.7 .7 0 1 0 1.4 0a.7 .7 0 1 0 -1.4 0M182.9 202.7a.7 .7 0 1 0 1.4 0a.7 .7 0 1 0 -1.4 0M183.7 209.3a.7 .7 0 1 0 1.4 0a.7 .7 0 1 0 -1.4 0M185.7 188.1a.7 .7 0 1 0 1.4 0a.7 .7 0 1 0 -1.4 0M182.6 183.5a.7 .7 0 1 0 1.4 0a.7 .7 0 1 0 -1.4 0M182.2 206.0a.7 .7 0 1 0 1.4 0a.7 .7 0 1 0 -1.4 0M182.1 182.4a.7 .7 0 1 0 1.4 0a.7 .7 0 1 0 -1.4 0M186.2 199.7a.7 .7 0 1 0 1.4 0a.7 .7 0 1 0 -1.4 0M185.2 185.0a.7 .7 0 1 0 1.4 0a.7 .7 0 1 0 -1.4 0M182.1 213.8a.7 .7 0 1 0 1.4 0a.7 .7 0 1 0 -1.4 0M183.0 197.4a.7 .7 0 1 0 1.4 0a.7 .7 0 1 0 -1.4 0M211.0 211.5a.7 .7 0 1 0 1.4 0a.7 .7 0 1 0 -1.4 0M209.0 190.8a.7 .7 0 1 0 1.4 0a.7 .7 0 1 0 -1.4 0M210.6 180.1a.7 .7 0 1 0 1.4 0a.7 .7 0 1 0 -1.4 0M207.5 123.7a.7 .7 0 1 0 1.4 0a.7 .7 0 1 0 -1.4 0M209.2 138.4a.7 .7 0 1 0 1.4 0a.7 .7 0 1 0 -1.4 0M210.3 214.4a.7 .7 0 1 0 1.4 0a.7 .7 0 1 0 -1.4 0M209.4 161.6a.7 .7 0 1 0 1.4 0a.7 .7 0 1 0 -1.4 0M208.5 130.8a.7 .7 0 1 0 1.4 0a.7 .7 0 1 0 -1.4 0M206.4 208.2a.7 .7 0 1 0 1.4 0a.7 .7 0 1 0 -1.4 0M210.0 209.1a.7 .7 0 1 0 1.4 0a.7 .7 0 1 0 -1.4 0M206.5 213.1a.7 .7 0 1 0 1.4 0a.7 .7 0 1 0 -1.4 0M209.5 204.3a.7 .7 0 1 0 1.4 0a.7 .7 0 1 0 -1.4 0M210.1 151.9a.7 .7 0 1 0 1.4 0a.7 .7 0 1 0 -1.4 0M206.8 129.9a.7 .7 0 1 0 1.4 0a.7 .7 0 1 0 -1.4 0M210.1 174.5a.7 .7 0 1 0 1.4 0a.7 .7 0 1 0 -1.4 0M207.4 214.6a.7 .7 0 1 0 1.4 0a.7 .7 0 1 0 -1.4 0M207.0 146.9a.7 .7 0 1 0 1.4 0a.7 .7 0 1 0 -1.4 0M210.4 138.9a.7 .7 0 1 0 1.4 0a.7 .7 0 1 0 -1.4 0M209.9 211.2a.7 .7 0 1 0 1.4 0a.7 .7 0 1 0 -1.4 0M207.1 199.1a.7 .7 0 1 0 1.4 0a.7 .7 0 1 0 -1.4 0M211.0 211.1a.7 .7 0 1 0 1.4 0a.7 .7 0 1 0 -1.4 0M209.1 156.6a.7 .7 0 1 0 1.4 0a.7 .7 0 1 0 -1.4 0M207.1 127.6a.7 .7 0 1 0 1.4 0a.7 .7 0 1 0 -1.4 0M210.9 194.8a.7 .7 0 1 0 1.4 0a.7 .7 0 1 0 -1.4 0M207.9 160.3a.7 .7 0 1 0 1.4 0a.7 .7 0 1 0 -1.4 0M210.9 195.7a.7 .7 0 1 0 1.4 0a.7 .7 0 1 0 -1.4 0M209.4 178.2a.7 .7 0 1 0 1.4 0a.7 .7 0 1 0 -1.4 0M209.0 159.8a.7 .7 0 1 0 1.4 0a.7 .7 0 1 0 -1.4 0M210.8 170.3a.7 .7 0 1 0 1.4 0a.7 .7 0 1 0 -1.4 0M208.5 143.3a.7 .7 0 1 0 1.4 0a.7 .7 0 1 0 -1.4 0M206.9 183.5a.7 .7 0 1 0 1.4 0a.7 .7 0 1 0 -1.4 0M210.5 169.6a.7 .7 0 1 0 1.4 0a.7 .7 0 1 0 -1.4 0M207.1 213.0a.7 .7 0 1 0 1.4 0a.7 .7 0 1 0 -1.4 0M206.4 204.5a.7 .7 0 1 0 1.4 0a.7 .7 0 1 0 -1.4 0M206.7 213.0a.7 .7 0 1 0 1.4 0a.7 .7 0 1 0 -1.4 0M209.4 174.2a.7 .7 0 1 0 1.4 0a.7 .7 0 1 0 -1.4 0M209.2 126.5a.7 .7 0 1 0 1.4 0a.7 .7 0 1 0 -1.4 0M207.5 116.8a.7 .7 0 1 0 1.4 0a.7 .7 0 1 0 -1.4 0M206.4 114.5a.7 .7 0 1 0 1.4 0a.7 .7 0 1 0 -1.4 0M207.2 121.9a.7 .7 0 1 0 1.4 0a.7 .7 0 1 0 -1.4 0M206.4 202.1a.7 .7 0 1 0 1.4 0a.7 .7 0 1 0 -1.4 0M208.3 199.6a.7 .7 0 1 0 1.4 0a.7 .7 0 1 0 -1.4 0M208.2 213.1a.7 .7 0 1 0 1.4 0a.7 .7 0 1 0 -1.4 0M208.6 208.3a.7 .7 0 1 0 1.4 0a.7 .7 0 1 0 -1.4 0M208.9 207.8a.7 .7 0 1 0 1.4 0a.7 .7 0 1 0 -1.4 0M207.2 189.4a.7 .7 0 1 0 1.4 0a.7 .7 0 1 0 -1.4 0M209.6 205.1a.7 .7 0 1 0 1.4 0a.7 .7 0 1 0 -1.4 0M207.4 191.1a.7 .7 0 1 0 1.4 0a.7 .7 0 1 0 -1.4 0M210.6 199.2a.7 .7 0 1 0 1.4 0a.7 .7 0 1 0 -1.4 0M208.5 208.9a.7 .7 0 1 0 1.4 0a.7 .7 0 1 0 -1.4 0M232.6 154.0a.7 .7 0 1 0 1.4 0a.7 .7 0 1 0 -1.4 0M230.9 109.8a.7 .7 0 1 0 1.4 0a.7 .7 0 1 0 -1.4 0M234.3 194.8a.7 .7 0 1 0 1.4 0a.7 .7 0 1 0 -1.4 0M231.7 204.5a.7 .7 0 1 0 1.4 0a.7 .7 0 1 0 -1.4 0M230.7 208.4a.7 .7 0 1 0 1.4 0a.7 .7 0 1 0 -1.4 0M231.5 165.4a.7 .7 0 1 0 1.4 0a.7 .7 0 1 0 -1.4 0M231.5 144.8a.7 .7 0 1 0 1.4 0a.7 .7 0 1 0 -1.4 0M233.2 144.0a.7 .7 0 1 0 1.4 0a.7 .7 0 1 0 -1.4 0M232.9 169.1a.7 .7 0 1 0 1.4 0a.7 .7 0 1 0 -1.4 0M230.9 140.5a.7 .7 0 1 0 1.4 0a.7 .7 0 1 0 -1.4 0M233.9 184.8a.7 .7 0 1 0 1.4 0a.7 .7 0 1 0 -1.4 0M230.3 198.8a.7 .7 0 1 0 1.4 0a.7 .7 0 1 0 -1.4 0M234.4 159.7a.7 .7 0 1 0 1.4 0a.7 .7 0 1 0 -1.4 0M234.2 181.2a.7 .7 0 1 0 1.4 0a.7 .7 0 1 0 -1.4 0M234.8 133.3a.7 .7 0 1 0 1.4 0a.7 .7 0 1 0 -1.4 0M232.6 120.9a.7 .7 0 1 0 1.4 0a.7 .7 0 1 0 -1.4 0M234.1 211.7a.7 .7 0 1 0 1.4 0a.7 .7 0 1 0 -1.4 0M230.4 195.2a.7 .7 0 1 0 1.4 0a.7 .7 0 1 0 -1.4 0M230.8 203.3a.7 .7 0 1 0 1.4 0a.7 .7 0 1 0 -1.4 0M233.7 191.0a.7 .7 0 1 0 1.4 0a.7 .7 0 1 0 -1.4 0M235.2 205.0a.7 .7 0 1 0 1.4 0a.7 .7 0 1 0 -1.4 0M230.4 166.0a.7 .7 0 1 0 1.4 0a.7 .7 0 1 0 -1.4 0M232.9 173.0a.7 .7 0 1 0 1.4 0a.7 .7 0 1 0 -1.4 0M233.8 189.0a.7 .7 0 1 0 1.4 0a.7 .7 0 1 0 -1.4 0M233.6 175.2a.7 .7 0 1 0 1.4 0a.7 .7 0 1 0 -1.4 0M230.8 207.6a.7 .7 0 1 0 1.4 0a.7 .7 0 1 0 -1.4 0M230.7 177.1a.7 .7 0 1 0 1.4 0a.7 .7 0 1 0 -1.4 0M233.2 155.6a.7 .7 0 1 0 1.4 0a.7 .7 0 1 0 -1.4 0M233.0 175.8a.7 .7 0 1 0 1.4 0a.7 .7 0 1 0 -1.4 0M230.9 95.6a.7 .7 0 1 0 1.4 0a.7 .7 0 1 0 -1.4 0M231.5 166.1a.7 .7 0 1 0 1.4 0a.7 .7 0 1 0 -1.4 0M230.9 176.3a.7 .7 0 1 0 1.4 0a.7 .7 0 1 0 -1.4 0M230.6 205.0a.7 .7 0 1 0 1.4 0a.7 .7 0 1 0 -1.4 0M234.4 206.5a.7 .7 0 1 0 1.4 0a.7 .7 0 1 0 -1.4 0M231.6 212.2a.7 .7 0 1 0 1.4 0a.7 .7 0 1 0 -1.4 0M231.0 211.0a.7 .7 0 1 0 1.4 0a.7 .7 0 1 0 -1.4 0M230.8 198.9a.7 .7 0 1 0 1.4 0a.7 .7 0 1 0 -1.4 0M230.1 214.1a.7 .7 0 1 0 1.4 0a.7 .7 0 1 0 -1.4 0M233.5 192.0a.7 .7 0 1 0 1.4 0a.7 .7 0 1 0 -1.4 0M232.4 214.8a.7 .7 0 1 0 1.4 0a.7 .7 0 1 0 -1.4 0M234.6 210.4a.7 .7 0 1 0 1.4 0a.7 .7 0 1 0 -1.4 0M234.5 206.4a.7 .7 0 1 0 1.4 0a.7 .7 0 1 0 -1.4 0M234.1 166.2a.7 .7 0 1 0 1.4 0a.7 .7 0 1 0 -1.4 0M232.9 212.3a.7 .7 0 1 0 1.4 0a.7 .7 0 1 0 -1.4 0M234.8 181.4a.7 .7 0 1 0 1.4 0a.7 .7 0 1 0 -1.4 0M231.4 192.0a.7 .7 0 1 0 1.4 0a.7 .7 0 1 0 -1.4 0M234.1 198.9a.7 .7 0 1 0 1.4 0a.7 .7 0 1 0 -1.4 0M255.6 63.9a.7 .7 0 1 0 1.4 0a.7 .7 0 1 0 -1.4 0M257.3 97.4a.7 .7 0 1 0 1.4 0a.7 .7 0 1 0 -1.4 0M255.0 62.2a.7 .7 0 1 0 1.4 0a.7 .7 0 1 0 -1.4 0M259.5 96.4a.7 .7 0 1 0 1.4 0a.7 .7 0 1 0 -1.4 0M254.2 96.0a.7 .7 0 1 0 1.4 0a.7 .7 0 1 0 -1.4 0M258.2 111.2a.7 .7 0 1 0 1.4 0a.7 .7 0 1 0 -1.4 0M256.5 133.5a.7 .7 0 1 0 1.4 0a.7 .7 0 1 0 -1.4 0M255.0 149.8a.7 .7 0 1 0 1.4 0a.7 .7 0 1 0 -1.4 0M255.0 153.7a.7 .7 0 1 0 1.4 0a.7 .7 0 1 0 -1.4 0M258.0 152.2a.7 .7 0 1 0 1.4 0a.7 .7 0 1 0 -1.4 0M258.7 163.7a.7 .7 0 1 0 1.4 0a.7 .7 0 1 0 -1.4 0M259.1 183.1a.7 .7 0 1 0 1.4 0a.7 .7 0 1 0 -1.4 0M258.4 152.4a.7 .7 0 1 0 1.4 0a.7 .7 0 1 0 -1.4 0M254.3 181.4a.7 .7 0 1 0 1.4 0a.7 .7 0 1 0 -1.4 0M257.7 176.0a.7 .7 0 1 0 1.4 0a.7 .7 0 1 0 -1.4 0M255.9 141.7a.7 .7 0 1 0 1.4 0a.7 .7 0 1 0 -1.4 0M256.8 150.4a.7 .7 0 1 0 1.4 0a.7 .7 0 1 0 -1.4 0M257.5 175.0a.7 .7 0 1 0 1.4 0a.7 .7 0 1 0 -1.4 0M255.6 187.4a.7 .7 0 1 0 1.4 0a.7 .7 0 1 0 -1.4 0M258.9 144.9a.7 .7 0 1 0 1.4 0a.7 .7 0 1 0 -1.4 0M259.7 187.3a.7 .7 0 1 0 1.4 0a.7 .7 0 1 0 -1.4 0M257.5 212.2a.7 .7 0 1 0 1.4 0a.7 .7 0 1 0 -1.4 0M258.2 208.1a.7 .7 0 1 0 1.4 0a.7 .7 0 1 0 -1.4 0M258.1 190.6a.7 .7 0 1 0 1.4 0a.7 .7 0 1 0 -1.4 0"/>
<path d="M38.0 210.2a.7 .7 0 1 0 1.4 0a.7 .7 0 1 0 -1.4 0M40.1 211.7a.7 .7 0 1 0 1.4 0a.7 .7 0 1 0 -1.4 0M38.0 214.2a.7 .7 0 1 0 1.4 0a.7 .7 0 1 0 -1.4 0M39.9 211.0a.7 .7 0 1 0 1.4 0a.7 .7 0 1 0 -1.4 0M40.2 212.6a.7 .7 0 1 0 1.4 0a.7 .7 0 1 0 -1.4 0M38.9 212.4a.7 .7 0 1 0 1.4 0a.7 .7 0 1 0 -1.4 0M40.0 211.4a.7 .7 0 1 0 1.4 0a.7 .7 0 1 0 -1.4 0M39.2 209.3a.7 .7 0 1 0 1.4 0a.7 .7 0 1 0 -1.4 0M38.2 214.3a.7 .7 0 1 0 1.4 0a.7 .7 0 1 0 -1.4 0M63.3 200.2a.7 .7 0 1 0 1.4 0a.7 .7 0 1 0 -1.4 0M63.2 200.8a.7 .7 0 1 0 1.4 0a.7 .7 0 1 0 -1.4 0M60.6 208.3a.7 .7 0 1 0 1.4 0a.7 .7 0 1 0 -1.4 0M62.4 202.0a.7 .7 0 1 0 1.4 0a.7 .7 0 1 0 -1.4 0M61.1 204.0a.7 .7 0 1 0 1.4 0a.7 .7 0 1 0 -1.4 0M60.5 210.9a.7 .7 0 1 0 1.4 0a.7 .7 0 1 0 -1.4 0M61.3 211.7a.7 .7 0 1 0 1.4 0a.7 .7 0 1 0 -1.4 0M86.2 213.3a.7 .7 0 1 0 1.4 0a.7 .7 0 1 0 -1.4 0M86.2 213.5a.7 .7 0 1 0 1.4 0a.7 .7 0 1 0 -1.4 0M86.0 204.0a.7 .7 0 1 0 1.4 0a.7 .7 0 1 0 -1.4 0M86.8 213.4a.7 .7 0 1 0 1.4 0a.7 .7 0 1 0 -1.4 0M86.7 208.3a.7 .7 0 1 0 1.4 0a.7 .7 0 1 0 -1.4 0M87.2 208.9a.7 .7 0 1 0 1.4 0a.7 .7 0 1 0 -1.4 0M87.6 211.9a.7 .7 0 1 0 1.4 0a.7 .7 0 1 0 -1.4 0M84.9 212.2a.7 .7 0 1 0 1.4 0a.7 .7 0 1 0 -1.4 0M87.8 197.9a.7 .7 0 1 0 1.4 0a.7 .7 0 1 0 -1.4 0M88.3 194.8a.7 .7 0 1 0 1.4 0a.7 .7 0 1 0 -1.4 0M110.5 200.2a.7 .7 0 1 0 1.4 0a.7 .7 0 1 0 -1.4 0M110.8 195.0a.7 .7 0 1 0 1.4 0a.7 .7 0 1 0 -1.4 0M112.7 204.8a.7 .7 0 1 0 1.4 0a.7 .7 0 1 0 -1.4 0M109.8 192.1a.7 .7 0 1 0 1.4 0a.7 .7 0 1 0 -1.4 0M113.0 211.8a.7 .7 0 1 0 1.4 0a.7 .7 0 1 0 -1.4 0M111.5 190.8a.7 .7 0 1 0 1.4 0a.7 .7 0 1 0 -1.4 0M109.1 214.5a.7 .7 0 1 0 1.4 0a.7 .7 0 1 0 -1.4 0M112.5 190.1a.7 .7 0 1 0 1.4 0a.7 .7 0 1 0 -1.4 0M134.1 213.6a.7 .7 0 1 0 1.4 0a.7 .7 0 1 0 -1.4 0M137.0 214.7a.7 .7 0 1 0 1.4 0a.7 .7 0 1 0 -1.4 0M134.9 210.0a.7 .7 0 1 0 1.4 0a.7 .7 0 1 0 -1.4 0M133.8 211.1a.7 .7 0 1 0 1.4 0a.7 .7 0 1 0 -1.4 0M134.9 210.5a.7 .7 0 1 0 1.4 0a.7 .7 0 1 0 -1.4 0M134.4 213.9a.7 .7 0 1 0 1.4 0a.7 .7 0 1 0 -1.4 0M159.6 210.5a.7 .7 0 1 0 1.4 0a.7 .7 0 1 0 -1.4 0M160.4 211.4a.7 .7 0 1 0 1.4 0a.7 .7 0 1 0 -1.4 0M158.1 210.6a.7 .7 0 1 0 1.4 0a.7 .7 0 1 0 -1.4 0M161.2 214.6a.7 .7 0 1 0 1.4 0a.7 .7 0 1 0 -1.4 0M158.3 209.5a.7 .7 0 1 0 1.4 0a.7 .7 0 1 0 -1.4 0M157.7 209.0a.7 .7 0 1 0 1.4 0a.7 .7 0 1 0 -1.4 0M158.9 214.6a.7 .7 0 1 0 1.4 0a.7 .7 0 1 0 -1.4 0M161.4 208.1a.7 .7 0 1 0 1.4 0a.7 .7 0 1 0 -1.4 0M184.8 118.9a.7 .7 0 1 0 1.4 0a.7 .7 0 1 0 -1.4 0M185.8 210.0a.7 .7 0 1 0 1.4 0a.7 .7 0 1 0 -1.4 0M186.1 154.5a.7 .7 0 1 0 1.4 0a.7 .7 0 1 0 -1.4 0M184.5 199.7a.7 .7 0 1 0 1.4 0a.7 .7 0 1 0 -1.4 0M181.9 182.6a.7 .7 0 1 0 1.4 0a.7 .7 0 1 0 -1.4 0M182.1 151.4a.7 .7 0 1 0 1.4 0a.7 .7 0 1 0 -1.4 0M183.9 162.2a.7 .7 0 1 0 1.4 0a.7 .7 0 1 0 -1.4 0M182.4 202.3a.7 .7 0 1 0 1.4 0a.7 .7 0 1 0 -1.4 0M185.9 214.9a.7 .7 0 1 0 1.4 0a.7 .7 0 1 0 -1.4 0M186.0 207.5a.7 .7 0 1 0 1.4 0a.7 .7 0 1 0 -1.4 0M185.3 211.2a.7 .7 0 1 0 1.4 0a.7 .7 0 1 0 -1.4 0M186.5 189.8a.7 .7 0 1 0 1.4 0a.7 .7 0 1 0 -1.4 0M182.7 195.4a.7 .7 0 1 0 1.4 0a.7 .7 0 1 0 -1.4 0M185.1 209.9a.7 .7 0 1 0 1.4 0a.7 .7 0 1 0 -1.4 0M184.4 190.7a.7 .7 0 1 0 1.4 0a.7 .7 0 1 0 -1.4 0M182.6 191.7a.7 .7 0 1 0 1.4 0a.7 .7 0 1 0 -1.4 0M183.1 158.5a.7 .7 0 1 0 1.4 0a.7 .7 0 1 0 -1.4 0M185.3 196.8a.7 .7 0 1 0 1.4 0a.7 .7 0 1 0 -1.4 0M183.4 189.8a.7 .7 0 1 0 1.4 0a.7 .7 0 1 0 -1.4 0M183.9 190.7a.7 .7 0 1 0 1.4 0a.7 .7 0 1 0 -1.4 0M183.8 166.5a.7 .7 0 1 0 1.4 0a.7 .7 0 1 0 -1.4 0M186.1 208.0a.7 .7 0 1 0 1.4 0a.7 .7 0 1 0 -1.4 0M183.6 134.7a.7 .7 0 1 0 1.4 0a.7 .7 0 1 0 -1.4 0M182.7 115.0a.7 .7 0 1 0 1.4 0a.7 .7 0 1 0 -1.4 0M184.9 155.2a.7 .7 0 1 0 1.4 0a.7 .7 0 1 0 -1.4 0M181.9 155.0a.7 .7 0 1 0 1.4 0a.7 .7 0 1 0 -1.4 0M184.5 210.1a.7 .7 0 1 0 1.4 0a.7 .7 0 1 0 -1.4 0M184.4 192.5a.7 .7 0 1 0 1.4 0a.7 .7 0 1 0 -1.4 0M183.7 176.7a.7 .7 0 1 0 1.4 0a.7 .7 0 1 0 -1.4 0M183.7 170.5a.7 .7 0 1 0 1.4 0a.7 .7 0 1 0 -1.4 0M186.2 97.2a.7 .7 0 1 0 1.4 0a.7 .7 0 1 0 -1.4 0M185.5 103.0a.7 .7 0 1 0 1.4 0a.7 .7 0 1 0 -1.4 0M182.4 91.5a.7 .7 0 1 0 1.4 0a.7 .7 0 1 0 -1.4 0M184.2 98.2a.7 .7 0 1 0 1.4 0a.7 .7 0 1 0 -1.4 0M183.3 100.8a.7 .7 0 1 0 1.4 0a.7 .7 0 1 0 -1.4 0M183.3 184.3a.7 .7 0 1 0 1.4 0a.7 .7 0 1 0 -1.4 0M186.8 214.5a.7 .7 0 1 0 1.4 0a.7 .7 0 1 0 -1.4 0M181.7 207.0a.7 .7 0 1 0 1.4 0a.7 .7 0 1 0 -1.4 0M184.9 201.1a.7 .7 0 1 0 1.4 0a.7 .7 0 1 0 -1.4 0M183.1 200.6a.7 .7 0 1 0 1.4 0a.7 .7 0 1 0 -1.4 0M185.9 202.7a.7 .7 0 1 0 1.4 0a.7 .7 0 1 0 -1.4 0M184.6 197.6a.7 .7 0 1 0 1.4 0a.7 .7 0 1 0 -1.4 0M183.0 187.7a.7 .7 0 1 0 1.4 0a.7 .7 0 1 0 -1.4 0M181.3 214.1a.7 .7 0 1 0 1.4 0a.7 .7 0 1 0 -1.4 0M183.1 183.6a.7 .7 0 1 0 1.4 0a.7 .7 0 1 0 -1.4 0M185.2 214.7a.7 .7 0 1 0 1.4 0a.7 .7 0 1 0 -1.4 0M207.7 205.7a.7 .7 0 1 0 1.4 0a.7 .7 0 1 0 -1.4 0M206.9 140.3a.7 .7 0 1 0 1.4 0a.7 .7 0 1 0 -1.4 0M206.7 161.3a.7 .7 0 1 0 1.4 0a.7 .7 0 1 0 -1.4 0M210.1 155.3a.7 .7 0 1 0 1.4 0a.7 .7 0 1 0 -1.4 0M206.6 210.6a.7 .7 0 1 0 1.4 0a.7 .7 0 1 0 -1.4 0M206.5 165.0a.7 .7 0 1 0 1.4 0a.7 .7 0 1 0 -1.4 0M210.7 174.1a.7 .7 0 1 0 1.4 0a.7 .7 0 1 0 -1.4 0M207.5 186.2a.7 .7 0 1 0 1.4 0a.7 .7 0 1 0 -1.4 0M208.6 203.5a.7 .7 0 1 0 1.4 0a.7 .7 0 1 0 -1.4 0M206.4 141.0a.7 .7 0 1 0 1.4 0a.7 .7 0 1 0 -1.4 0M207.3 148.7a.7 .7 0 1 0 1.4 0a.7 .7 0 1 0 -1.4 0M210.6 196.8a.7 .7 0 1 0 1.4 0a.7 .7 0 1 0 -1.4 0M207.8 201.6a.7 .7 0 1 0 1.4 0a.7 .7 0 1 0 -1.4 0M207.7 164.6a.7 .7 0 1 0 1.4 0a.7 .7 0 1 0 -1.4 0M207.4 156.0a.7 .7 0 1 0 1.4 0a.7 .7 0 1 0 -1.4 0M207.7 177.5a.7 .7 0 1 0 1.4 0a.7 .7 0 1 0 -1.4 0M209.7 144.4a.7 .7 0 1 0 1.4 0a.7 .7 0 1 0 -1.4 0M208.4 193.5a.7 .7 0 1 0 1.4 0a.7 .7 0 1 0 -1.4 0M207.3 185.9a.7 .7 0 1 0 1.4 0a.7 .7 0 1 0 -1.4 0M210.5 149.4a.7 .7 0 1 0 1.4 0a.7 .7 0 1 0 -1.4 0M206.2 185.7a.7 .7 0 1 0 1.4 0a.7 .7 0 1 0 -1.4 0M206.2 180.9a.7 .7 0 1 0 1.4 0a.7 .7 0 1 0 -1.4 0M206.7 215.0a.7 .7 0 1 0 1.4 0a.7 .7 0 1 0 -1.4 0M210.6 145.1a.7 .7 0 1 0 1.4 0a.7 .7 0 1 0 -1.4 0M210.2 138.3a.7 .7 0 1 0 1.4 0a.7 .7 0 1 0 -1.4 0M205.8 210.0a.7 .7 0 1 0 1.4 0a.7 .7 0 1 0 -1.4 0M206.8 114.3a.7 .7 0 1 0 1.4 0a.7 .7 0 1 0 -1.4 0M209.7 120.0a.7 .7 0 1 0 1.4 0a.7 .7 0 1 0 -1.4 0M209.3 214.8a.7 .7 0 1 0 1.4 0a.7 .7 0 1 0 -1.4 0M210.5 209.1a.7 .7 0 1 0 1.4 0a.7 .7 0 1 0 -1.4 0M210.1 198.3a.7 .7 0 1 0 1.4 0a.7 .7 0 1 0 -1.4 0M206.9 188.1a.7 .7 0 1 0 1.4 0a.7 .7 0 1 0 -1.4 0M208.8 201.2a.7 .7 0 1 0 1.4 0a.7 .7 0 1 0 -1.4 0M209.4 196.7a.7 .7 0 1 0 1.4 0a.7 .7 0 1 0 -1.4 0M235.0 184.2a.7 .7 0 1 0 1.4 0a.7 .7 0 1 0 -1.4 0M234.5 211.9a.7 .7 0 1 0 1.4 0a.7 .7 0 1 0 -1.4 0M233.2 107.6a.7 .7 0 1 0 1.4 0a.7 .7 0 1 0 -1.4 0M234.1 208.3a.7 .7 0 1 0 1.4 0a.7 .7 0 1 0 -1.4 0M234.7 164.9a.7 .7 0 1 0 1.4 0a.7 .7 0 1 0 -1.4 0M234.6 194.6a.7 .7 0 1 0 1.4 0a.7 .7 0 1 0 -1.4 0M230.7 120.2a.7 .7 0 1 0 1.4 0a.7 .7 0 1 0 -1.4 0M233.8 130.7a.7 .7 0 1 0 1.4 0a.7 .7 0 1 0 -1.4 0M232.2 213.2a.7 .7 0 1 0 1.4 0a.7 .7 0 1 0 -1.4 0M234.8 204.5a.7 .7 0 1 0 1.4 0a.7 .7 0 1 0 -1.4 0M232.3 193.8a.7 .7 0 1 0 1.4 0a.7 .7 0 1 0 -1.4 0M232.9 194.2a.7 .7 0 1 0 1.4 0a.7 .7 0 1 0 -1.4 0M232.6 160.5a.7 .7 0 1 0 1.4 0a.7 .7 0 1 0 -1.4 0M231.6 139.1a.7 .7 0 1 0 1.4 0a.7 .7 0 1 0 -1.4 0M231.5 173.5a.7 .7 0 1 0 1.4 0a.7 .7 0 1 0 -1.4 0M231.0 211.9a.7 .7 0 1 0 1.4 0a.7 .7 0 1 0 -1.4 0M235.0 155.8a.7 .7 0 1 0 1.4 0a.7 .7 0 1 0 -1.4 0M234.7 211.2a.7 .7 0 1 0 1.4 0a.7 .7 0 1 0 -1.4 0M230.1 176.4a.7 .7 0 1 0 1.4 0a.7 .7 0 1 0 -1.4 0M233.6 191.2a.7 .7 0 1 0 1.4 0a.7 .7 0 1 0 -1.4 0M232.4 213.0a.7 .7 0 1 0 1.4 0a.7 .7 0 1 0 -1.4 0M232.5 143.3a.7 .7 0 1 0 1.4 0a.7 .7 0 1 0 -1.4 0M231.6 178.3a.7 .7 0 1 0 1.4 0a.7 .7 0 1 0 -1.4 0M233.0 190.8a.7 .7 0 1 0 1.4 0a.7 .7 0 1 0 -1.4 0M232.8 152.9a.7 .7 0 1 0 1.4 0a.7 .7 0 1 0 -1.4 0M232.0 190.7a.7 .7 0 1 0 1.4 0a.7 .7 0 1 0 -1.4 0M232.0 172.0a.7 .7 0 1 0 1.4 0a.7 .7 0 1 0 -1.4 0M233.8 212.7a.7 .7 0 1 0 1.4 0a.7 .7 0 1 0 -1.4 0M233.8 194.4a.7 .7 0 1 0 1.4 0a.7 .7 0 1 0 -1.4 0M230.7 205.0a.7 .7 0 1 0 1.4 0a.7 .7 0 1 0 -1.4 0M230.9 147.9a.7 .7 0 1 0 1.4 0a.7 .7 0 1 0 -1.4 0M231.9 198.2a.7 .7 0 1 0 1.4 0a.7 .7 0 1 0 -1.4 0M233.0 214.8a.7 .7 0 1 0 1.4 0a.7 .7 0 1 0 -1.4 0M231.5 136.2a.7 .7 0 1 0 1.4 0a.7 .7 0 1 0 -1.4 0M232.6 146.5a.7 .7 0 1 0 1.4 0a.7 .7 0 1 0 -1.4 0M231.1 186.4a.7 .7 0 1 0 1.4 0a.7 .7 0 1 0 -1.4 0M230.9 146.7a.7 .7 0 1 0 1.4 0a.7 .7 0 1 0 -1.4 0M232.3 158.4a.7 .7 0 1 0 1.4 0a.7 .7 0 1 0 -1.4 0M234.8 101.7a.7 .7 0 1 0 1.4 0a.7 .7 0 1 0 -1.4 0M232.2 100.2a.7 .7 0 1 0 1.4 0a.7 .7 0 1 0 -1.4 0M232.9 101.8a.7 .7 0 1 0 1.4 0a.7 .7 0 1 0 -1.4 0M234.5 98.4a.7 .7 0 1 0 1.4 0a.7 .7 0 1 0 -1.4 0M233.9 186.4a.7 .7 0 1 0 1.4 0a.7 .7 0 1 0 -1.4 0M234.0 193.2a.7 .7 0 1 0 1.4 0a.7 .7 0 1 0 -1.4 0M235.0 210.8a.7 .7 0 1 0 1.4 0a.7 .7 0 1 0 -1.4 0M230.9 190.9a.7 .7 0 1 0 1.4 0a.7 .7 0 1 0 -1.4 0M231.1 210.1a.7 .7 0 1 0 1.4 0a.7 .7 0 1 0 -1.4 0M233.3 203.0a.7 .7 0 1 0 1.4 0a.7 .7 0 1 0 -1.4 0M233.2 200.4a.7 .7 0 1 0 1.4 0a.7 .7 0 1 0 -1.4 0M232.3 203.0a.7 .7 0 1 0 1.4 0a.7 .7 0 1 0 -1.4 0M232.5 170.0a.7 .7 0 1 0 1.4 0a.7 .7 0 1 0 -1.4 0M234.7 210.1a.7 .7 0 1 0 1.4 0a.7 .7 0 1 0 -1.4 0M235.3 207.7a.7 .7 0 1 0 1.4 0a.7 .7 0 1 0 -1.4 0M233.0 176.3a.7 .7 0 1 0 1.4 0a.7 .7 0 1 0 -1.4 0M232.7 188.2a.7 .7 0 1 0 1.4 0a.7 .7 0 1 0 -1.4 0M258.6 79.8a.7 .7 0 1 0 1.4 0a.7 .7 0 1 0 -1.4 0M257.7 131.7a.7 .7 0 1 0 1.4 0a.7 .7 0 1 0 -1.4 0M255.7 113.0a.7 .7 0 1 0 1.4 0a.7 .7 0 1 0 -1.4 0M256.4 123.5a.7 .7 0 1 0 1.4 0a.7 .7 0 1 0 -1.4 0M255.4 128.8a.7 .7 0 1 0 1.4 0a.7 .7 0 1 0 -1.4 0M259.5 171.1a.7 .7 0 1 0 1.4 0a.7 .7 0 1 0 -1.4 0M255.5 180.3a.7 .7 0 1 0 1.4 0a.7 .7 0 1 0 -1.4 0M258.2 181.9a.7 .7 0 1 0 1.4 0a.7 .7 0 1 0 -1.4 0M256.9 167.8a.7 .7 0 1 0 1.4 0a.7 .7 0 1 0 -1.4 0M254.8 179.9a.7 .7 0 1 0 1.4 0a.7 .7 0 1 0 -1.4 0M256.0 189.9a.7 .7 0 1 0 1.4 0a.7 .7 0 1 0 -1.4 0M258.0 152.8a.7 .7 0 1 0 1.4 0a.7 .7 0 1 0 -1.4 0M256.9 167.7a.7 .7 0 1 0 1.4 0a.7 .7 0 1 0 -1.4 0M257.5 181.7a.7 .7 0 1 0 1.4 0a.7 .7 0 1 0 -1.4 0M259.3 173.3a.7 .7 0 1 0 1.4 0a.7 .7 0 1 0 -1.4 0M255.7 152.0a.7 .7 0 1 0 1.4 0a.7 .7 0 1 0 -1.4 0M258.5 184.9a.7 .7 0 1 0 1.4 0a.7 .7 0 1 0 -1.4 0M255.5 152.7a.7 .7 0 1 0 1.4 0a.7 .7 0 1 0 -1.4 0M255.5 168.1a.7 .7 0 1 0 1.4 0a.7 .7 0 1 0 -1.4 0M257.5 174.5a.7 .7 0 1 0 1.4 0a.7 .7 0 1 0 -1.4 0M255.6 177.7a.7 .7 0 1 0 1.4 0a.7 .7 0 1 0 -1.4 0M255.5 175.0a.7 .7 0 1 0 1.4 0a.7 .7 0 1 0 -1.4 0M255.2 213.0a.7 .7 0 1 0 1.4 0a.7 .7 0 1 0 -1.4 0"/>
<path d="M36.6 213.5a.7 .7 0 1 0 1.4 0a.7 .7 0 1 0 -1.4 0M36.6 214.5a.7 .7 0 1 0 1.4 0a.7 .7 0 1 0 -1.4 0M36.8 213.1a.7 .7 0 1 0 1.4 0a.7 .7 0 1 0 -1.4 0M37.4 209.0a.7 .7 0 1 0 1.4 0a.7 .7 0 1 0 -1.4 0M39.1 208.1a.7 .7 0 1 0 1.4 0a.7 .7 0 1 0 -1.4 0M37.8 209.4a.7 .7 0 1 0 1.4 0a.7 .7 0 1 0 -1.4 0M38.2 212.2a.7 .7 0 1 0 1.4 0a.7 .7 0 1 0 -1.4 0M64.6 202.9a.7 .7 0 1 0 1.4 0a.7 .7 0 1 0 -1.4 0M64.5 211.7a.7 .7 0 1 0 1.4 0a.7 .7 0 1 0 -1.4 0M61.2 202.4a.7 .7 0 1 0 1.4 0a.7 .7 0 1 0 -1.4 0M62.2 200.0a.7 .7 0 1 0 1.4 0a.7 .7 0 1 0 -1.4 0M61.0 210.9a.7 .7 0 1 0 1.4 0a.7 .7 0 1 0 -1.4 0M88.5 208.9a.7 .7 0 1 0 1.4 0a.7 .7 0 1 0 -1.4 0M88.0 211.1a.7 .7 0 1 0 1.4 0a.7 .7 0 1 0 -1.4 0M87.9 204.2a.7 .7 0 1 0 1.4 0a.7 .7 0 1 0 -1.4 0M85.8 211.7a.7 .7 0 1 0 1.4 0a.7 .7 0 1 0 -1.4 0M87.0 207.4a.7 .7 0 1 0 1.4 0a.7 .7 0 1 0 -1.4 0M86.3 206.2a.7 .7 0 1 0 1.4 0a.7 .7 0 1 0 -1.4 0M85.7 212.7a.7 .7 0 1 0 1.4 0a.7 .7 0 1 0 -1.4 0M87.3 202.5a.7 .7 0 1 0 1.4 0a.7 .7 0 1 0 -1.4 0M85.1 202.2a.7 .7 0 1 0 1.4 0a.7 .7 0 1 0 -1.4 0M88.0 196.6a.7 .7 0 1 0 1.4 0a.7 .7 0 1 0 -1.4 0M88.3 198.9a.7 .7 0 1 0 1.4 0a.7 .7 0 1 0 -1.4 0M109.5 213.5a.7 .7 0 1 0 1.4 0a.7 .7 0 1 0 -1.4 0M112.8 196.8a.7 .7 0 1 0 1.4 0a.7 .7 0 1 0 -1.4 0M110.7 199.3a.7 .7 0 1 0 1.4 0a.7 .7 0 1 0 -1.4 0M112.5 204.7a.7 .7 0 1 0 1.4 0a.7 .7 0 1 0 -1.4 0M110.0 210.5a.7 .7 0 1 0 1.4 0a.7 .7 0 1 0 -1.4 0M112.5 194.6a.7 .7 0 1 0 1.4 0a.7 .7 0 1 0 -1.4 0M109.6 212.4a.7 .7 0 1 0 1.4 0a.7 .7 0 1 0 -1.4 0M111.3 208.9a.7 .7 0 1 0 1.4 0a.7 .7 0 1 0 -1.4 0M110.7 197.0a.7 .7 0 1 0 1.4 0a.7 .7 0 1 0 -1.4 0M111.7 207.9a.7 .7 0 1 0 1.4 0a.7 .7 0 1 0 -1.4 0M111.8 185.3a.7 .7 0 1 0 1.4 0a.7 .7 0 1 0 -1.4 0M135.1 212.5a.7 .7 0 1 0 1.4 0a.7 .7 0 1 0 -1.4 0M136.5 208.8a.7 .7 0 1 0 1.4 0a.7 .7 0 1 0 -1.4 0M136.5 209.4a.7 .7 0 1 0 1.4 0a.7 .7 0 1 0 -1.4 0M135.1 214.8a.7 .7 0 1 0 1.4 0a.7 .7 0 1 0 -1.4 0M136.5 211.0a.7 .7 0 1 0 1.4 0a.7 .7 0 1 0 -1.4 0M160.6 213.2a.7 .7 0 1 0 1.4 0a.7 .7 0 1 0 -1.4 0M158.8 210.6a.7 .7 0 1 0 1.4 0a.7 .7 0 1 0 -1.4 0M157.8 211.6a.7 .7 0 1 0 1.4 0a.7 .7 0 1 0 -1.4 0M160.6 213.5a.7 .7 0 1 0 1.4 0a.7 .7 0 1 0 -1.4 0M159.5 214.9a.7 .7 0 1 0 1.4 0a.7 .7 0 1 0 -1.4 0M160.4 212.5a.7 .7 0 1 0 1.4 0a.7 .7 0 1 0 -1.4 0M160.6 210.1a.7 .7 0 1 0 1.4 0a.7 .7 0 1 0 -1.4 0M159.7 212.9a.7 .7 0 1 0 1.4 0a.7 .7 0 1 0 -1.4 0M159.0 213.9a.7 .7 0 1 0 1.4 0a.7 .7 0 1 0 -1.4 0M158.3 212.6a.7 .7 0 1 0 1.4 0a.7 .7 0 1 0 -1.4 0M159.7 212.9a.7 .7 0 1 0 1.4 0a.7 .7 0 1 0 -1.4 0M184.0 107.4a.7 .7 0 1 0 1.4 0a.7 .7 0 1 0 -1.4 0M184.7 154.2a.7 .7 0 1 0 1.4 0a.7 .7 0 1 0 -1.4 0M182.7 112.1a.7 .7 0 1 0 1.4 0a.7 .7 0 1 0 -1.4 0M183.4 190.4a.7 .7 0 1 0 1.4 0a.7 .7 0 1 0 -1.4 0M183.6 114.9a.7 .7 0 1 0 1.4 0a.7 .7 0 1 0 -1.4 0M186.0 136.6a.7 .7 0 1 0 1.4 0a.7 .7 0 1 0 -1.4 0M182.8 156.6a.7 .7 0 1 0 1.4 0a.7 .7 0 1 0 -1.4 0M186.1 177.0a.7 .7 0 1 0 1.4 0a.7 .7 0 1 0 -1.4 0M186.5 172.9a.7 .7 0 1 0 1.4 0a.7 .7 0 1 0 -1.4 0M184.6 125.7a.7 .7 0 1 0 1.4 0a.7 .7 0 1 0 -1.4 0M183.1 148.9a.7 .7 0 1 0 1.4 0a.7 .7 0 1 0 -1.4 0M182.9 111.2a.7 .7 0 1 0 1.4 0a.7 .7 0 1 0 -1.4 0M185.1 133.3a.7 .7 0 1 0 1.4 0a.7 .7 0 1 0 -1.4 0M186.3 134.1a.7 .7 0 1 0 1.4 0a.7 .7 0 1 0 -1.4 0M186.3 206.0a.7 .7 0 1 0 1.4 0a.7 .7 0 1 0 -1.4 0M181.8 161.1a.7 .7 0 1 0 1.4 0a.7 .7 0 1 0 -1.4 0M181.7 190.8a.7 .7 0 1 0 1.4 0a.7 .7 0 1 0 -1.4 0M182.2 212.7a.7 .7 0 1 0 1.4 0a.7 .7 0 1 0 -1.4 0M183.5 174.3a.7 .7 0 1 0 1.4 0a.7 .7 0 1 0 -1.4 0M186.4 159.1a.7 .7 0 1 0 1.4 0a.7 .7 0 1 0 -1.4 0M182.9 152.4a.7 .7 0 1 0 1.4 0a.7 .7 0 1 0 -1.4 0M184.7 188.9a.7 .7 0 1 0 1.4 0a.7 .7 0 1 0 -1.4 0M183.0 206.7a.7 .7 0 1 0 1.4 0a.7 .7 0 1 0 -1.4 0M181.8 200.4a.7 .7 0 1 0 1.4 0a.7 .7 0 1 0 -1.4 0M182.2 162.1a.7 .7 0 1 0 1.4 0a.7 .7 0 1 0 -1.4 0M186.8 209.4a.7 .7 0 1 0 1.4 0a.7 .7 0 1 0 -1.4 0M186.2 117.7a.7 .7 0 1 0 1.4 0a.7 .7 0 1 0 -1.4 0M185.4 128.6a.7 .7 0 1 0 1.4 0a.7 .7 0 1 0 -1.4 0M184.2 173.3a.7 .7 0 1 0 1.4 0a.7 .7 0 1 0 -1.4 0M186.0 103.6a.7 .7 0 1 0 1.4 0a.7 .7 0 1 0 -1.4 0M184.7 100.5a.7 .7 0 1 0 1.4 0a.7 .7 0 1 0 -1.4 0M185.2 101.5a.7 .7 0 1 0 1.4 0a.7 .7 0 1 0 -1.4 0M184.5 204.9a.7 .7 0 1 0 1.4 0a.7 .7 0 1 0 -1.4 0M182.8 195.6a.7 .7 0 1 0 1.4 0a.7 .7 0 1 0 -1.4 0M182.6 191.2a.7 .7 0 1 0 1.4 0a.7 .7 0 1 0 -1.4 0M186.4 212.1a.7 .7 0 1 0 1.4 0a.7 .7 0 1 0 -1.4 0M186.3 207.9a.7 .7 0 1 0 1.4 0a.7 .7 0 1 0 -1.4 0M183.9 193.5a.7 .7 0 1 0 1.4 0a.7 .7 0 1 0 -1.4 0M183.2 210.5a.7 .7 0 1 0 1.4 0a.7 .7 0 1 0 -1.4 0M186.6 206.5a.7 .7 0 1 0 1.4 0a.7 .7 0 1 0 -1.4 0M184.6 203.4a.7 .7 0 1 0 1.4 0a.7 .7 0 1 0 -1.4 0M182.1 187.9a.7 .7 0 1 0 1.4 0a.7 .7 0 1 0 -1.4 0M186.1 208.3a.7 .7 0 1 0 1.4 0a.7 .7 0 1 0 -1.4 0M207.4 160.9a.7 .7 0 1 0 1.4 0a.7 .7 0 1 0 -1.4 0M205.9 209.2a.7 .7 0 1 0 1.4 0a.7 .7 0 1 0 -1.4 0M209.6 166.0a.7 .7 0 1 0 1.4 0a.7 .7 0 1 0 -1.4 0M210.4 201.1a.7 .7 0 1 0 1.4 0a.7 .7 0 1 0 -1.4 0M210.5 152.0a.7 .7 0 1 0 1.4 0a.7 .7 0 1 0 -1.4 0M205.9 194.3a.7 .7 0 1 0 1.4 0a.7 .7 0 1 0 -1.4 0M208.9 214.5a.7 .7 0 1 0 1.4 0a.7 .7 0 1 0 -1.4 0M211.0 214.9a.7 .7 0 1 0 1.4 0a.7 .7 0 1 0 -1.4 0M207.7 153.3a.7 .7 0 1 0 1.4 0a.7 .7 0 1 0 -1.4 0M210.6 208.6a.7 .7 0 1 0 1.4 0a.7 .7 0 1 0 -1.4 0M209.1 207.0a.7 .7 0 1 0 1.4 0a.7 .7 0 1 0 -1.4 0M208.5 141.6a.7 .7 0 1 0 1.4 0a.7 .7 0 1 0 -1.4 0M208.7 214.7a.7 .7 0 1 0 1.4 0a.7 .7 0 1 0 -1.4 0M210.1 167.0a.7 .7 0 1 0 1.4 0a.7 .7 0 1 0 -1.4 0M209.7 163.4a.7 .7 0 1 0 1.4 0a.7 .7 0 1 0 -1.4 0M206.0 198.5a.7 .7 0 1 0 1.4 0a.7 .7 0 1 0 -1.4 0M208.8 166.3a.7 .7 0 1 0 1.4 0a.7 .7 0 1 0 -1.4 0M208.4 214.7a.7 .7 0 1 0 1.4 0a.7 .7 0 1 0 -1.4 0M208.8 159.5a.7 .7 0 1 0 1.4 0a.7 .7 0 1 0 -1.4 0M210.9 194.4a.7 .7 0 1 0 1.4 0a.7 .7 0 1 0 -1.4 0M209.6 190.3a.7 .7 0 1 0 1.4 0a.7 .7 0 1 0 -1.4 0M210.7 210.0a.7 .7 0 1 0 1.4 0a.7 .7 0 1 0 -1.4 0M208.4 211.9a.7 .7 0 1 0 1.4 0a.7 .7 0 1 0 -1.4 0M210.8 183.4a.7 .7 0 1 0 1.4 0a.7 .7 0 1 0 -1.4 0M208.2 182.3a.7 .7 0 1 0 1.4 0a.7 .7 0 1 0 -1.4 0M206.3 143.8a.7 .7 0 1 0 1.4 0a.7 .7 0 1 0 -1.4 0M207.0 203.3a.7 .7 0 1 0 1.4 0a.7 .7 0 1 0 -1.4 0M210.6 180.5a.7 .7 0 1 0 1.4 0a.7 .7 0 1 0 -1.4 0M209.6 163.6a.7 .7 0 1 0 1.4 0a.7 .7 0 1 0 -1.4 0M209.0 212.7a.7 .7 0 1 0 1.4 0a.7 .7 0 1 0 -1.4 0M208.7 206.8a.7 .7 0 1 0 1.4 0a.7 .7 0 1 0 -1.4 0M210.9 211.7a.7 .7 0 1 0 1.4 0a.7 .7 0 1 0 -1.4 0M209.0 189.9a.7 .7 0 1 0 1.4 0a.7 .7 0 1 0 -1.4 0M206.3 214.9a.7 .7 0 1 0 1.4 0a.7 .7 0 1 0 -1.4 0M207.6 204.8a.7 .7 0 1 0 1.4 0a.7 .7 0 1 0 -1.4 0M208.3 195.2a.7 .7 0 1 0 1.4 0a.7 .7 0 1 0 -1.4 0M207.0 212.2a.7 .7 0 1 0 1.4 0a.7 .7 0 1 0 -1.4 0M233.2 134.0a.7 .7 0 1 0 1.4 0a.7 .7 0 1 0 -1.4 0M230.8 208.5a.7 .7 0 1 0 1.4 0a.7 .7 0 1 0 -1.4 0M233.6 202.6a.7 .7 0 1 0 1.4 0a.7 .7 0 1 0 -1.4 0M234.3 189.0a.7 .7 0 1 0 1.4 0a.7 .7 0 1 0 -1.4 0M233.2 214.5a.7 .7 0 1 0 1.4 0a.7 .7 0 1 0 -1.4 0M234.6 205.4a.7 .7 0 1 0 1.4 0a.7 .7 0 1 0 -1.4 0M233.0 121.1a.7 .7 0 1 0 1.4 0a.7 .7 0 1 0 -1.4 0M232.9 205.4a.7 .7 0 1 0 1.4 0a.7 .7 0 1 0 -1.4 0M232.3 117.3a.7 .7 0 1 0 1.4 0a.7 .7 0 1 0 -1.4 0M231.9 209.9a.7 .7 0 1 0 1.4 0a.7 .7 0 1 0 -1.4 0M231.1 197.8a.7 .7 0 1 0 1.4 0a.7 .7 0 1 0 -1.4 0M230.5 186.3a.7 .7 0 1 0 1.4 0a.7 .7 0 1 0 -1.4 0M233.1 119.5a.7 .7 0 1 0 1.4 0a.7 .7 0 1 0 -1.4 0M233.2 124.6a.7 .7 0 1 0 1.4 0a.7 .7 0 1 0 -1.4 0M234.8 113.4a.7 .7 0 1 0 1.4 0a.7 .7 0 1 0 -1.4 0M232.1 114.3a.7 .7 0 1 0 1.4 0a.7 .7 0 1 0 -1.4 0M230.5 194.9a.7 .7 0 1 0 1.4 0a.7 .7 0 1 0 -1.4 0M231.8 176.3a.7 .7 0 1 0 1.4 0a.7 .7 0 1 0 -1.4 0M233.7 166.2a.7 .7 0 1 0 1.4 0a.7 .7 0 1 0 -1.4 0M231.3 144.9a.7 .7 0 1 0 1.4 0a.7 .7 0 1 0 -1.4 0M233.7 208.6a.7 .7 0 1 0 1.4 0a.7 .7 0 1 0 -1.4 0M230.8 157.3a.7 .7 0 1 0 1.4 0a.7 .7 0 1 0 -1.4 0M230.2 196.0a.7 .7 0 1 0 1.4 0a.7 .7 0 1 0 -1.4 0M230.2 210.9a.7 .7 0 1 0 1.4 0a.7 .7 0 1 0 -1.4 0M233.0 210.6a.7 .7 0 1 0 1.4 0a.7 .7 0 1 0 -1.4 0M234.6 150.2a.7 .7 0 1 0 1.4 0a.7 .7 0 1 0 -1.4 0M232.4 126.1a.7 .7 0 1 0 1.4 0a.7 .7 0 1 0 -1.4 0M234.7 105.5a.7 .7 0 1 0 1.4 0a.7 .7 0 1 0 -1.4 0M231.6 205.6a.7 .7 0 1 0 1.4 0a.7 .7 0 1 0 -1.4 0M229.9 207.6a.7 .7 0 1 0 1.4 0a.7 .7 0 1 0 -1.4 0M230.7 91.5a.7 .7 0 1 0 1.4 0a.7 .7 0 1 0 -1.4 0M232.9 203.4a.7 .7 0 1 0 1.4 0a.7 .7 0 1 0 -1.4 0M233.6 177.4a.7 .7 0 1 0 1.4 0a.7 .7 0 1 0 -1.4 0M233.5 206.4a.7 .7 0 1 0 1.4 0a.7 .7 0 1 0 -1.4 0M230.1 210.6a.7 .7 0 1 0 1.4 0a.7 .7 0 1 0 -1.4 0M235.0 201.9a.7 .7 0 1 0 1.4 0a.7 .7 0 1 0 -1.4 0M234.5 175.1a.7 .7 0 1 0 1.4 0a.7 .7 0 1 0 -1.4 0M231.9 214.1a.7 .7 0 1 0 1.4 0a.7 .7 0 1 0 -1.4 0M232.7 202.8a.7 .7 0 1 0 1.4 0a.7 .7 0 1 0 -1.4 0M235.3 207.1a.7 .7 0 1 0 1.4 0a.7 .7 0 1 0 -1.4 0M235.1 213.5a.7 .7 0 1 0 1.4 0a.7 .7 0 1 0 -1.4 0M232.8 212.3a.7 .7 0 1 0 1.4 0a.7 .7 0 1 0 -1.4 0M234.4 213.6a.7 .7 0 1 0 1.4 0a.7 .7 0 1 0 -1.4 0M234.5 212.8a.7 .7 0 1 0 1.4 0a.7 .7 0 1 0 -1.4 0M232.1 183.1a.7 .7 0 1 0 1.4 0a.7 .7 0 1 0 -1.4 0M234.3 162.6a.7 .7 0 1 0 1.4 0a.7 .7 0 1 0 -1.4 0M234.7 169.7a.7 .7 0 1 0 1.4 0a.7 .7 0 1 0 -1.4 0M233.6 207.7a.7 .7 0 1 0 1.4 0a.7 .7 0 1 0 -1.4 0M234.8 215.0a.7 .7 0 1 0 1.4 0a.7 .7 0 1 0 -1.4 0M230.8 198.0a.7 .7 0 1 0 1.4 0a.7 .7 0 1 0 -1.4 0M235.1 201.9a.7 .7 0 1 0 1.4 0a.7 .7 0 1 0 -1.4 0M234.4 214.7a.7 .7 0 1 0 1.4 0a.7 .7 0 1 0 -1.4 0M234.7 214.8a.7 .7 0 1 0 1.4 0a.7 .7 0 1 0 -1.4 0M231.7 203.6a.7 .7 0 1 0 1.4 0a.7 .7 0 1 0 -1.4 0M257.7 70.7a.7 .7 0 1 0 1.4 0a.7 .7 0 1 0 -1.4 0M257.1 95.5a.7 .7 0 1 0 1.4 0a.7 .7 0 1 0 -1.4 0M258.9 97.7a.7 .7 0 1 0 1.4 0a.7 .7 0 1 0 -1.4 0M254.8 124.8a.7 .7 0 1 0 1.4 0a.7 .7 0 1 0 -1.4 0M258.8 116.4a.7 .7 0 1 0 1.4 0a.7 .7 0 1 0 -1.4 0M255.1 117.9a.7 .7 0 1 0 1.4 0a.7 .7 0 1 0 -1.4 0M255.6 127.9a.7 .7 0 1 0 1.4 0a.7 .7 0 1 0 -1.4 0M258.9 127.3a.7 .7 0 1 0 1.4 0a.7 .7 0 1 0 -1.4 0M256.7 133.6a.7 .7 0 1 0 1.4 0a.7 .7 0 1 0 -1.4 0M255.0 113.7a.7 .7 0 1 0 1.4 0a.7 .7 0 1 0 -1.4 0M254.4 125.3a.7 .7 0 1 0 1.4 0a.7 .7 0 1 0 -1.4 0M256.7 119.7a.7 .7 0 1 0 1.4 0a.7 .7 0 1 0 -1.4 0M256.0 187.5a.7 .7 0 1 0 1.4 0a.7 .7 0 1 0 -1.4 0M259.0 180.7a.7 .7 0 1 0 1.4 0a.7 .7 0 1 0 -1.4 0M257.8 165.5a.7 .7 0 1 0 1.4 0a.7 .7 0 1 0 -1.4 0M256.7 189.9a.7 .7 0 1 0 1.4 0a.7 .7 0 1 0 -1.4 0M259.2 149.6a.7 .7 0 1 0 1.4 0a.7 .7 0 1 0 -1.4 0M259.1 142.0a.7 .7 0 1 0 1.4 0a.7 .7 0 1 0 -1.4 0M258.4 181.7a.7 .7 0 1 0 1.4 0a.7 .7 0 1 0 -1.4 0M259.5 189.6a.7 .7 0 1 0 1.4 0a.7 .7 0 1 0 -1.4 0M258.6 186.6a.7 .7 0 1 0 1.4 0a.7 .7 0 1 0 -1.4 0M255.3 150.7a.7 .7 0 1 0 1.4 0a.7 .7 0 1 0 -1.4 0M254.9 181.3a.7 .7 0 1 0 1.4 0a.7 .7 0 1 0 -1.4 0M255.7 144.7a.7 .7 0 1 0 1.4 0a.7 .7 0 1 0 -1.4 0M257.4 190.0a.7 .7 0 1 0 1.4 0a.7 .7 0 1 0 -1.4 0M255.1 167.1a.7 .7 0 1 0 1.4 0a.7 .7 0 1 0 -1.4 0M256.3 167.8a.7 .7 0 1 0 1.4 0a.7 .7 0 1 0 -1.4 0M258.4 209.3a.7 .7 0 1 0 1.4 0a.7 .7 0 1 0 -1.4 0M258.9 198.4a.7 .7 0 1 0 1.4 0a.7 .7 0 1 0 -1.4 0"/>
<path d="M38.8 211.0a.7 .7 0 1 0 1.4 0a.7 .7 0 1 0 -1.4 0M37.7 212.6a.7 .7 0 1 0 1.4 0a.7 .7 0 1 0 -1.4 0M40.4 210.5a.7 .7 0 1 0 1.4 0a.7 .7 0 1 0 -1.4 0M37.8 213.3a.7 .7 0 1 0 1.4 0a.7 .7 0 1 0 -1.4 0M39.3 210.4a.7 .7 0 1 0 1.4 0a.7 .7 0 1 0 -1.4 0M40.4 209.1a.7 .7 0 1 0 1.4 0a.7 .7 0 1 0 -1.4 0M37.0 209.4a.7 .7 0 1 0 1.4 0a.7 .7 0 1 0 -1.4 0M40.2 210.2a.7 .7 0 1 0 1.4 0a.7 .7 0 1 0 -1.4 0M63.0 214.6a.7 .7 0 1 0 1.4 0a.7 .7 0 1 0 -1.4 0M62.0 201.3a.7 .7 0 1 0 1.4 0a.7 .7 0 1 0 -1.4 0M62.7 208.2a.7 .7 0 1 0 1.4 0a.7 .7 0 1 0 -1.4 0M64.2 212.8a.7 .7 0 1 0 1.4 0a.7 .7 0 1 0 -1.4 0M61.9 209.5a.7 .7 0 1 0 1.4 0a.7 .7 0 1 0 -1.4 0M61.3 206.7a.7 .7 0 1 0 1.4 0a.7 .7 0 1 0 -1.4 0M62.3 202.6a.7 .7 0 1 0 1.4 0a.7 .7 0 1 0 -1.4 0M61.9 209.1a.7 .7 0 1 0 1.4 0a.7 .7 0 1 0 -1.4 0M60.9 209.6a.7 .7 0 1 0 1.4 0a.7 .7 0 1 0 -1.4 0M88.9 206.0a.7 .7 0 1 0 1.4 0a.7 .7 0 1 0 -1.4 0M85.7 213.8a.7 .7 0 1 0 1.4 0a.7 .7 0 1 0 -1.4 0M87.0 211.5a.7 .7 0 1 0 1.4 0a.7 .7 0 1 0 -1.4 0M88.9 212.6a.7 .7 0 1 0 1.4 0a.7 .7 0 1 0 -1.4 0M84.8 214.7a.7 .7 0 1 0 1.4 0a.7 .7 0 1 0 -1.4 0M86.9 214.1a.7 .7 0 1 0 1.4 0a.7 .7 0 1 0 -1.4 0M86.6 213.4a.7 .7 0 1 0 1.4 0a.7 .7 0 1 0 -1.4 0M88.4 206.4a.7 .7 0 1 0 1.4 0a.7 .7 0 1 0 -1.4 0M87.1 215.0a.7 .7 0 1 0 1.4 0a.7 .7 0 1 0 -1.4 0M84.9 211.2a.7 .7 0 1 0 1.4 0a.7 .7 0 1 0 -1.4 0M85.1 204.7a.7 .7 0 1 0 1.4 0a.7 .7 0 1 0 -1.4 0M87.9 199.2a.7 .7 0 1 0 1.4 0a.7 .7 0 1 0 -1.4 0M112.1 212.4a.7 .7 0 1 0 1.4 0a.7 .7 0 1 0 -1.4 0M113.3 204.7a.7 .7 0 1 0 1.4 0a.7 .7 0 1 0 -1.4 0M109.7 210.8a.7 .7 0 1 0 1.4 0a.7 .7 0 1 0 -1.4 0M109.5 199.1a.7 .7 0 1 0 1.4 0a.7 .7 0 1 0 -1.4 0M109.5 190.8a.7 .7 0 1 0 1.4 0a.7 .7 0 1 0 -1.4 0M110.1 193.5a.7 .7 0 1 0 1.4 0a.7 .7 0 1 0 -1.4 0M112.7 205.9a.7 .7 0 1 0 1.4 0a.7 .7 0 1 0 -1.4 0M111.2 214.2a.7 .7 0 1 0 1.4 0a.7 .7 0 1 0 -1.4 0M112.7 205.1a.7 .7 0 1 0 1.4 0a.7 .7 0 1 0 -1.4 0M111.9 204.6a.7 .7 0 1 0 1.4 0a.7 .7 0 1 0 -1.4 0M111.7 204.1a.7 .7 0 1 0 1.4 0a.7 .7 0 1 0 -1.4 0M113.2 210.3a.7 .7 0 1 0 1.4 0a.7 .7 0 1 0 -1.4 0M112.7 213.8a.7 .7 0 1 0 1.4 0a.7 .7 0 1 0 -1.4 0M110.6 211.7a.7 .7 0 1 0 1.4 0a.7 .7 0 1 0 -1.4 0M110.9 187.5a.7 .7 0 1 0 1.4 0a.7 .7 0 1 0 -1.4 0M135.9 209.6a.7 .7 0 1 0 1.4 0a.7 .7 0 1 0 -1.4 0M135.5 215.0a.7 .7 0 1 0 1.4 0a.7 .7 0 1 0 -1.4 0M136.9 210.1a.7 .7 0 1 0 1.4 0a.7 .7 0 1 0 -1.4 0M137.0 211.3a.7 .7 0 1 0 1.4 0a.7 .7 0 1 0 -1.4 0M133.9 210.9a.7 .7 0 1 0 1.4 0a.7 .7 0 1 0 -1.4 0M137.1 213.0a.7 .7 0 1 0 1.4 0a.7 .7 0 1 0 -1.4 0M158.6 211.8a.7 .7 0 1 0 1.4 0a.7 .7 0 1 0 -1.4 0M159.4 211.3a.7 .7 0 1 0 1.4 0a.7 .7 0 1 0 -1.4 0M161.7 208.0a.7 .7 0 1 0 1.4 0a.7 .7 0 1 0 -1.4 0M160.4 209.3a.7 .7 0 1 0 1.4 0a.7 .7 0 1 0 -1.4 0M161.0 210.5a.7 .7 0 1 0 1.4 0a.7 .7 0 1 0 -1.4 0M158.5 209.0a.7 .7 0 1 0 1.4 0a.7 .7 0 1 0 -1.4 0M158.0 213.5a.7 .7 0 1 0 1.4 0a.7 .7 0 1 0 -1.4 0M160.0 211.7a.7 .7 0 1 0 1.4 0a.7 .7 0 1 0 -1.4 0M158.3 211.7a.7 .7 0 1 0 1.4 0a.7 .7 0 1 0 -1.4 0M161.2 214.7a.7 .7 0 1 0 1.4 0a.7 .7 0 1 0 -1.4 0M182.0 172.5a.7 .7 0 1 0 1.4 0a.7 .7 0 1 0 -1.4 0M182.0 205.3a.7 .7 0 1 0 1.4 0a.7 .7 0 1 0 -1.4 0M184.4 199.4a.7 .7 0 1 0 1.4 0a.7 .7 0 1 0 -1.4 0M185.6 181.0a.7 .7 0 1 0 1.4 0a.7 .7 0 1 0 -1.4 0M182.9 141.7a.7 .7 0 1 0 1.4 0a.7 .7 0 1 0 -1.4 0M184.3 174.3a.7 .7 0 1 0 1.4 0a.7 .7 0 1 0 -1.4 0M184.2 123.7a.7 .7 0 1 0 1.4 0a.7 .7 0 1 0 -1.4 0M186.5 203.2a.7 .7 0 1 0 1.4 0a.7 .7 0 1 0 -1.4 0M185.6 105.7a.7 .7 0 1 0 1.4 0a.7 .7 0 1 0 -1.4 0M186.0 171.4a.7 .7 0 1 0 1.4 0a.7 .7 0 1 0 -1.4 0M185.8 118.8a.7 .7 0 1 0 1.4 0a.7 .7 0 1 0 -1.4 0M182.6 147.0a.7 .7 0 1 0 1.4 0a.7 .7 0 1 0 -1.4 0M182.3 195.8a.7 .7 0 1 0 1.4 0a.7 .7 0 1 0 -1.4 0M183.8 211.8a.7 .7 0 1 0 1.4 0a.7 .7 0 1 0 -1.4 0M185.7 130.7a.7 .7 0 1 0 1.4 0a.7 .7 0 1 0 -1.4 0M183.6 212.6a.7 .7 0 1 0 1.4 0a.7 .7 0 1 0 -1.4 0M185.2 109.3a.7 .7 0 1 0 1.4 0a.7 .7 0 1 0 -1.4 0M184.4 212.7a.7 .7 0 1 0 1.4 0a.7 .7 0 1 0 -1.4 0M186.2 213.5a.7 .7 0 1 0 1.4 0a.7 .7 0 1 0 -1.4 0M184.2 158.2a.7 .7 0 1 0 1.4 0a.7 .7 0 1 0 -1.4 0M186.2 212.4a.7 .7 0 1 0 1.4 0a.7 .7 0 1 0 -1.4 0M185.7 196.9a.7 .7 0 1 0 1.4 0a.7 .7 0 1 0 -1.4 0M184.5 214.2a.7 .7 0 1 0 1.4 0a.7 .7 0 1 0 -1.4 0M184.0 110.2a.7 .7 0 1 0 1.4 0a.7 .7 0 1 0 -1.4 0M182.6 156.8a.7 .7 0 1 0 1.4 0a.7 .7 0 1 0 -1.4 0M184.1 113.1a.7 .7 0 1 0 1.4 0a.7 .7 0 1 0 -1.4 0M186.4 168.2a.7 .7 0 1 0 1.4 0a.7 .7 0 1 0 -1.4 0M186.3 197.5a.7 .7 0 1 0 1.4 0a.7 .7 0 1 0 -1.4 0M184.7 198.5a.7 .7 0 1 0 1.4 0a.7 .7 0 1 0 -1.4 0M185.3 130.0a.7 .7 0 1 0 1.4 0a.7 .7 0 1 0 -1.4 0M184.0 154.2a.7 .7 0 1 0 1.4 0a.7 .7 0 1 0 -1.4 0M183.9 214.2a.7 .7 0 1 0 1.4 0a.7 .7 0 1 0 -1.4 0M182.1 170.6a.7 .7 0 1 0 1.4 0a.7 .7 0 1 0 -1.4 0M186.0 120.4a.7 .7 0 1 0 1.4 0a.7 .7 0 1 0 -1.4 0M182.5 154.0a.7 .7 0 1 0 1.4 0a.7 .7 0 1 0 -1.4 0M186.3 94.4a.7 .7 0 1 0 1.4 0a.7 .7 0 1 0 -1.4 0M185.6 99.4a.7 .7 0 1 0 1.4 0a.7 .7 0 1 0 -1.4 0M183.0 93.0a.7 .7 0 1 0 1.4 0a.7 .7 0 1 0 -1.4 0M186.0 197.0a.7 .7 0 1 0 1.4 0a.7 .7 0 1 0 -1.4 0M186.3 215.0a.7 .7 0 1 0 1.4 0a.7 .7 0 1 0 -1.4 0M186.8 211.5a.7 .7 0 1 0 1.4 0a.7 .7 0 1 0 -1.4 0M185.3 182.0a.7 .7 0 1 0 1.4 0a.7 .7 0 1 0 -1.4 0M183.2 210.5a.7 .7 0 1 0 1.4 0a.7 .7 0 1 0 -1.4 0M184.6 196.5a.7 .7 0 1 0 1.4 0a.7 .7 0 1 0 -1.4 0M181.8 214.6a.7 .7 0 1 0 1.4 0a.7 .7 0 1 0 -1.4 0M184.9 204.7a.7 .7 0 1 0 1.4 0a.7 .7 0 1 0 -1.4 0M184.2 191.1a.7 .7 0 1 0 1.4 0a.7 .7 0 1 0 -1.4 0M184.9 181.2a.7 .7 0 1 0 1.4 0a.7 .7 0 1 0 -1.4 0M206.0 199.3a.7 .7 0 1 0 1.4 0a.7 .7 0 1 0 -1.4 0M208.5 195.3a.7 .7 0 1 0 1.4 0a.7 .7 0 1 0 -1.4 0M208.8 212.4a.7 .7 0 1 0 1.4 0a.7 .7 0 1 0 -1.4 0M208.1 162.3a.7 .7 0 1 0 1.4 0a.7 .7 0 1 0 -1.4 0M209.8 178.9a.7 .7 0 1 0 1.4 0a.7 .7 0 1 0 -1.4 0M205.9 177.1a.7 .7 0 1 0 1.4 0a.7 .7 0 1 0 -1.4 0M208.2 195.7a.7 .7 0 1 0 1.4 0a.7 .7 0 1 0 -1.4 0M210.7 188.7a.7 .7 0 1 0 1.4 0a.7 .7 0 1 0 -1.4 0M209.9 178.1a.7 .7 0 1 0 1.4 0a.7 .7 0 1 0 -1.4 0M206.3 179.7a.7 .7 0 1 0 1.4 0a.7 .7 0 1 0 -1.4 0M205.9 185.3a.7 .7 0 1 0 1.4 0a.7 .7 0 1 0 -1.4 0M207.4 214.2a.7 .7 0 1 0 1.4 0a.7 .7 0 1 0 -1.4 0M209.4 148.7a.7 .7 0 1 0 1.4 0a.7 .7 0 1 0 -1.4 0M210.1 144.3a.7 .7 0 1 0 1.4 0a.7 .7 0 1 0 -1.4 0M206.7 139.3a.7 .7 0 1 0 1.4 0a.7 .7 0 1 0 -1.4 0M208.3 151.0a.7 .7 0 1 0 1.4 0a.7 .7 0 1 0 -1.4 0M208.7 126.2a.7 .7 0 1 0 1.4 0a.7 .7 0 1 0 -1.4 0M210.0 129.2a.7 .7 0 1 0 1.4 0a.7 .7 0 1 0 -1.4 0M209.0 191.9a.7 .7 0 1 0 1.4 0a.7 .7 0 1 0 -1.4 0M209.3 214.0a.7 .7 0 1 0 1.4 0a.7 .7 0 1 0 -1.4 0M210.8 188.3a.7 .7 0 1 0 1.4 0a.7 .7 0 1 0 -1.4 0M209.9 210.4a.7 .7 0 1 0 1.4 0a.7 .7 0 1 0 -1.4 0M206.7 143.1a.7 .7 0 1 0 1.4 0a.7 .7 0 1 0 -1.4 0M208.4 189.4a.7 .7 0 1 0 1.4 0a.7 .7 0 1 0 -1.4 0M206.5 186.5a.7 .7 0 1 0 1.4 0a.7 .7 0 1 0 -1.4 0M207.8 142.2a.7 .7 0 1 0 1.4 0a.7 .7 0 1 0 -1.4 0M208.7 198.6a.7 .7 0 1 0 1.4 0a.7 .7 0 1 0 -1.4 0M210.3 139.5a.7 .7 0 1 0 1.4 0a.7 .7 0 1 0 -1.4 0M209.5 177.1a.7 .7 0 1 0 1.4 0a.7 .7 0 1 0 -1.4 0M209.3 123.5a.7 .7 0 1 0 1.4 0a.7 .7 0 1 0 -1.4 0M208.2 214.4a.7 .7 0 1 0 1.4 0a.7 .7 0 1 0 -1.4 0M208.4 208.6a.7 .7 0 1 0 1.4 0a.7 .7 0 1 0 -1.4 0M210.9 209.0a.7 .7 0 1 0 1.4 0a.7 .7 0 1 0 -1.4 0M210.0 139.5a.7 .7 0 1 0 1.4 0a.7 .7 0 1 0 -1.4 0M205.8 212.3a.7 .7 0 1 0 1.4 0a.7 .7 0 1 0 -1.4 0M207.6 214.6a.7 .7 0 1 0 1.4 0a.7 .7 0 1 0 -1.4 0M208.2 206.7a.7 .7 0 1 0 1.4 0a.7 .7 0 1 0 -1.4 0M206.7 196.7a.7 .7 0 1 0 1.4 0a.7 .7 0 1 0 -1.4 0M207.6 213.5a.7 .7 0 1 0 1.4 0a.7 .7 0 1 0 -1.4 0M207.2 202.8a.7 .7 0 1 0 1.4 0a.7 .7 0 1 0 -1.4 0M206.2 208.2a.7 .7 0 1 0 1.4 0a.7 .7 0 1 0 -1.4 0M208.1 203.6a.7 .7 0 1 0 1.4 0a.7 .7 0 1 0 -1.4 0M210.7 210.5a.7 .7 0 1 0 1.4 0a.7 .7 0 1 0 -1.4 0M210.0 189.9a.7 .7 0 1 0 1.4 0a.7 .7 0 1 0 -1.4 0M207.8 199.5a.7 .7 0 1 0 1.4 0a.7 .7 0 1 0 -1.4 0M209.1 202.6a.7 .7 0 1 0 1.4 0a.7 .7 0 1 0 -1.4 0M210.1 212.4a.7 .7 0 1 0 1.4 0a.7 .7 0 1 0 -1.4 0M208.2 196.3a.7 .7 0 1 0 1.4 0a.7 .7 0 1 0 -1.4 0M210.3 212.7a.7 .7 0 1 0 1.4 0a.7 .7 0 1 0 -1.4 0M230.7 163.2a.7 .7 0 1 0 1.4 0a.7 .7 0 1 0 -1.4 0M231.6 165.2a.7 .7 0 1 0 1.4 0a.7 .7 0 1 0 -1.4 0M234.6 144.7a.7 .7 0 1 0 1.4 0a.7 .7 0 1 0 -1.4 0M234.3 137.9a.7 .7 0 1 0 1.4 0a.7 .7 0 1 0 -1.4 0M232.6 112.9a.7 .7 0 1 0 1.4 0a.7 .7 0 1 0 -1.4 0M232.2 199.1a.7 .7 0 1 0 1.4 0a.7 .7 0 1 0 -1.4 0M233.1 141.7a.7 .7 0 1 0 1.4 0a.7 .7 0 1 0 -1.4 0M234.2 163.5a.7 .7 0 1 0 1.4 0a.7 .7 0 1 0 -1.4 0M234.7 162.8a.7 .7 0 1 0 1.4 0a.7 .7 0 1 0 -1.4 0M234.8 127.6a.7 .7 0 1 0 1.4 0a.7 .7 0 1 0 -1.4 0M235.1 189.1a.7 .7 0 1 0 1.4 0a.7 .7 0 1 0 -1.4 0M232.9 161.6a.7 .7 0 1 0 1.4 0a.7 .7 0 1 0 -1.4 0M232.2 205.7a.7 .7 0 1 0 1.4 0a.7 .7 0 1 0 -1.4 0M233.5 190.9a.7 .7 0 1 0 1.4 0a.7 .7 0 1 0 -1.4 0M230.7 170.5a.7 .7 0 1 0 1.4 0a.7 .7 0 1 0 -1.4 0M231.9 141.5a.7 .7 0 1 0 1.4 0a.7 .7 0 1 0 -1.4 0M232.7 212.4a.7 .7 0 1 0 1.4 0a.7 .7 0 1 0 -1.4 0M234.3 213.3a.7 .7 0 1 0 1.4 0a.7 .7 0 1 0 -1.4 0M233.7 206.9a.7 .7 0 1 0 1.4 0a.7 .7 0 1 0 -1.4 0M234.0 115.0a.7 .7 0 1 0 1.4 0a.7 .7 0 1 0 -1.4 0M232.8 206.7a.7 .7 0 1 0 1.4 0a.7 .7 0 1 0 -1.4 0M232.0 184.4a.7 .7 0 1 0 1.4 0a.7 .7 0 1 0 -1.4 0M234.2 201.3a.7 .7 0 1 0 1.4 0a.7 .7 0 1 0 -1.4 0M233.3 208.1a.7 .7 0 1 0 1.4 0a.7 .7 0 1 0 -1.4 0M232.8 102.1a.7 .7 0 1 0 1.4 0a.7 .7 0 1 0 -1.4 0M234.3 168.9a.7 .7 0 1 0 1.4 0a.7 .7 0 1 0 -1.4 0M231.9 199.3a.7 .7 0 1 0 1.4 0a.7 .7 0 1 0 -1.4 0M232.9 198.6a.7 .7 0 1 0 1.4 0a.7 .7 0 1 0 -1.4 0M230.4 209.0a.7 .7 0 1 0 1.4 0a.7 .7 0 1 0 -1.4 0M229.9 211.5a.7 .7 0 1 0 1.4 0a.7 .7 0 1 0 -1.4 0M234.1 213.3a.7 .7 0 1 0 1.4 0a.7 .7 0 1 0 -1.4 0M232.8 165.4a.7 .7 0 1 0 1.4 0a.7 .7 0 1 0 -1.4 0M230.4 187.4a.7 .7 0 1 0 1.4 0a.7 .7 0 1 0 -1.4 0M231.1 169.8a.7 .7 0 1 0 1.4 0a.7 .7 0 1 0 -1.4 0M231.4 171.5a.7 .7 0 1 0 1.4 0a.7 .7 0 1 0 -1.4 0M232.1 176.4a.7 .7 0 1 0 1.4 0a.7 .7 0 1 0 -1.4 0M231.5 165.3a.7 .7 0 1 0 1.4 0a.7 .7 0 1 0 -1.4 0M230.7 186.8a.7 .7 0 1 0 1.4 0a.7 .7 0 1 0 -1.4 0M230.3 211.7a.7 .7 0 1 0 1.4 0a.7 .7 0 1 0 -1.4 0M232.7 172.7a.7 .7 0 1 0 1.4 0a.7 .7 0 1 0 -1.4 0M255.6 61.2a.7 .7 0 1 0 1.4 0a.7 .7 0 1 0 -1.4 0M258.5 99.0a.7 .7 0 1 0 1.4 0a.7 .7 0 1 0 -1.4 0M258.0 132.4a.7 .7 0 1 0 1.4 0a.7 .7 0 1 0 -1.4 0M255.0 126.1a.7 .7 0 1 0 1.4 0a.7 .7 0 1 0 -1.4 0M258.9 104.2a.7 .7 0 1 0 1.4 0a.7 .7 0 1 0 -1.4 0M256.0 132.7a.7 .7 0 1 0 1.4 0a.7 .7 0 1 0 -1.4 0M257.2 129.7a.7 .7 0 1 0 1.4 0a.7 .7 0 1 0 -1.4 0M259.0 119.9a.7 .7 0 1 0 1.4 0a.7 .7 0 1 0 -1.4 0M256.0 183.9a.7 .7 0 1 0 1.4 0a.7 .7 0 1 0 -1.4 0M254.8 156.1a.7 .7 0 1 0 1.4 0a.7 .7 0 1 0 -1.4 0M254.4 184.9a.7 .7 0 1 0 1.4 0a.7 .7 0 1 0 -1.4 0M255.9 163.6a.7 .7 0 1 0 1.4 0a.7 .7 0 1 0 -1.4 0M256.1 135.4a.7 .7 0 1 0 1.4 0a.7 .7 0 1 0 -1.4 0M258.8 186.4a.7 .7 0 1 0 1.4 0a.7 .7 0 1 0 -1.4 0M258.3 168.5a.7 .7 0 1 0 1.4 0a.7 .7 0 1 0 -1.4 0M254.8 175.6a.7 .7 0 1 0 1.4 0a.7 .7 0 1 0 -1.4 0M256.3 148.1a.7 .7 0 1 0 1.4 0a.7 .7 0 1 0 -1.4 0M256.6 163.5a.7 .7 0 1 0 1.4 0a.7 .7 0 1 0 -1.4 0M256.1 188.9a.7 .7 0 1 0 1.4 0a.7 .7 0 1 0 -1.4 0M257.0 189.9a.7 .7 0 1 0 1.4 0a.7 .7 0 1 0 -1.4 0M254.6 164.9a.7 .7 0 1 0 1.4 0a.7 .7 0 1 0 -1.4 0M255.0 176.8a.7 .7 0 1 0 1.4 0a.7 .7 0 1 0 -1.4 0M254.7 186.4a.7 .7 0 1 0 1.4 0a.7 .7 0 1 0 -1.4 0M258.0 187.5a.7 .7 0 1 0 1.4 0a.7 .7 0 1 0 -1.4 0M254.9 180.8a.7 .7 0 1 0 1.4 0a.7 .7 0 1 0 -1.4 0M258.8 144.8a.7 .7 0 1 0 1.4 0a.7 .7 0 1 0 -1.4 0"/>
<path d="M36.4 212.4a.7 .7 0 1 0 1.4 0a.7 .7 0 1 0 -1.4 0M36.5 208.3a.7 .7 0 1 0 1.4 0a.7 .7 0 1 0 -1.4 0M38.1 214.4a.7 .7 0 1 0 1.4 0a.7 .7 0 1 0 -1.4 0M36.8 213.0a.7 .7 0 1 0 1.4 0a.7 .7 0 1 0 -1.4 0M39.1 211.6a.7 .7 0 1 0 1.4 0a.7 .7 0 1 0 -1.4 0M40.2 214.8a.7 .7 0 1 0 1.4 0a.7 .7 0 1 0 -1.4 0M38.4 209.6a.7 .7 0 1 0 1.4 0a.7 .7 0 1 0 -1.4 0M61.4 214.6a.7 .7 0 1 0 1.4 0a.7 .7 0 1 0 -1.4 0M63.9 205.0a.7 .7 0 1 0 1.4 0a.7 .7 0 1 0 -1.4 0M64.4 208.6a.7 .7 0 1 0 1.4 0a.7 .7 0 1 0 -1.4 0M61.1 213.0a.7 .7 0 1 0 1.4 0a.7 .7 0 1 0 -1.4 0M63.7 210.8a.7 .7 0 1 0 1.4 0a.7 .7 0 1 0 -1.4 0M63.1 208.3a.7 .7 0 1 0 1.4 0a.7 .7 0 1 0 -1.4 0M61.5 207.3a.7 .7 0 1 0 1.4 0a.7 .7 0 1 0 -1.4 0M62.8 208.9a.7 .7 0 1 0 1.4 0a.7 .7 0 1 0 -1.4 0M60.6 214.4a.7 .7 0 1 0 1.4 0a.7 .7 0 1 0 -1.4 0M64.2 206.8a.7 .7 0 1 0 1.4 0a.7 .7 0 1 0 -1.4 0M64.6 200.5a.7 .7 0 1 0 1.4 0a.7 .7 0 1 0 -1.4 0M62.5 209.2a.7 .7 0 1 0 1.4 0a.7 .7 0 1 0 -1.4 0M62.6 204.4a.7 .7 0 1 0 1.4 0a.7 .7 0 1 0 -1.4 0M88.0 209.3a.7 .7 0 1 0 1.4 0a.7 .7 0 1 0 -1.4 0M86.7 214.8a.7 .7 0 1 0 1.4 0a.7 .7 0 1 0 -1.4 0M85.9 212.0a.7 .7 0 1 0 1.4 0a.7 .7 0 1 0 -1.4 0M88.5 210.1a.7 .7 0 1 0 1.4 0a.7 .7 0 1 0 -1.4 0M88.6 209.1a.7 .7 0 1 0 1.4 0a.7 .7 0 1 0 -1.4 0M88.7 210.2a.7 .7 0 1 0 1.4 0a.7 .7 0 1 0 -1.4 0M85.6 199.2a.7 .7 0 1 0 1.4 0a.7 .7 0 1 0 -1.4 0M109.7 198.8a.7 .7 0 1 0 1.4 0a.7 .7 0 1 0 -1.4 0M109.9 195.1a.7 .7 0 1 0 1.4 0a.7 .7 0 1 0 -1.4 0M112.5 206.1a.7 .7 0 1 0 1.4 0a.7 .7 0 1 0 -1.4 0M110.2 195.7a.7 .7 0 1 0 1.4 0a.7 .7 0 1 0 -1.4 0M111.3 207.6a.7 .7 0 1 0 1.4 0a.7 .7 0 1 0 -1.4 0M134.5 210.0a.7 .7 0 1 0 1.4 0a.7 .7 0 1 0 -1.4 0M136.3 210.2a.7 .7 0 1 0 1.4 0a.7 .7 0 1 0 -1.4 0M137.5 208.5a.7 .7 0 1 0 1.4 0a.7 .7 0 1 0 -1.4 0M137.4 213.6a.7 .7 0 1 0 1.4 0a.7 .7 0 1 0 -1.4 0M133.5 209.5a.7 .7 0 1 0 1.4 0a.7 .7 0 1 0 -1.4 0M137.4 210.9a.7 .7 0 1 0 1.4 0a.7 .7 0 1 0 -1.4 0M135.2 212.9a.7 .7 0 1 0 1.4 0a.7 .7 0 1 0 -1.4 0M135.3 213.4a.7 .7 0 1 0 1.4 0a.7 .7 0 1 0 -1.4 0M136.3 210.5a.7 .7 0 1 0 1.4 0a.7 .7 0 1 0 -1.4 0M158.9 211.7a.7 .7 0 1 0 1.4 0a.7 .7 0 1 0 -1.4 0M159.7 212.4a.7 .7 0 1 0 1.4 0a.7 .7 0 1 0 -1.4 0M159.5 212.0a.7 .7 0 1 0 1.4 0a.7 .7 0 1 0 -1.4 0M159.4 209.2a.7 .7 0 1 0 1.4 0a.7 .7 0 1 0 -1.4 0M160.5 210.7a.7 .7 0 1 0 1.4 0a.7 .7 0 1 0 -1.4 0M186.8 209.8a.7 .7 0 1 0 1.4 0a.7 .7 0 1 0 -1.4 0M183.3 166.3a.7 .7 0 1 0 1.4 0a.7 .7 0 1 0 -1.4 0M182.3 114.3a.7 .7 0 1 0 1.4 0a.7 .7 0 1 0 -1.4 0M183.8 177.1a.7 .7 0 1 0 1.4 0a.7 .7 0 1 0 -1.4 0M186.1 207.8a.7 .7 0 1 0 1.4 0a.7 .7 0 1 0 -1.4 0M181.6 166.6a.7 .7 0 1 0 1.4 0a.7 .7 0 1 0 -1.4 0M184.1 112.0a.7 .7 0 1 0 1.4 0a.7 .7 0 1 0 -1.4 0M182.1 129.8a.7 .7 0 1 0 1.4 0a.7 .7 0 1 0 -1.4 0M183.7 213.5a.7 .7 0 1 0 1.4 0a.7 .7 0 1 0 -1.4 0M184.6 211.2a.7 .7 0 1 0 1.4 0a.7 .7 0 1 0 -1.4 0M182.5 203.5a.7 .7 0 1 0 1.4 0a.7 .7 0 1 0 -1.4 0M181.3 213.9a.7 .7 0 1 0 1.4 0a.7 .7 0 1 0 -1.4 0M185.5 193.9a.7 .7 0 1 0 1.4 0a.7 .7 0 1 0 -1.4 0M183.0 164.6a.7 .7 0 1 0 1.4 0a.7 .7 0 1 0 -1.4 0M183.0 191.3a.7 .7 0 1 0 1.4 0a.7 .7 0 1 0 -1.4 0M186.7 173.8a.7 .7 0 1 0 1.4 0a.7 .7 0 1 0 -1.4 0M184.2 161.9a.7 .7 0 1 0 1.4 0a.7 .7 0 1 0 -1.4 0M184.2 209.9a.7 .7 0 1 0 1.4 0a.7 .7 0 1 0 -1.4 0M185.6 173.0a.7 .7 0 1 0 1.4 0a.7 .7 0 1 0 -1.4 0M186.6 206.0a.7 .7 0 1 0 1.4 0a.7 .7 0 1 0 -1.4 0M183.6 174.2a.7 .7 0 1 0 1.4 0a.7 .7 0 1 0 -1.4 0M183.4 170.9a.7 .7 0 1 0 1.4 0a.7 .7 0 1 0 -1.4 0M183.3 184.9a.7 .7 0 1 0 1.4 0a.7 .7 0 1 0 -1.4 0M183.8 152.5a.7 .7 0 1 0 1.4 0a.7 .7 0 1 0 -1.4 0M182.6 203.8a.7 .7 0 1 0 1.4 0a.7 .7 0 1 0 -1.4 0M184.1 111.6a.7 .7 0 1 0 1.4 0a.7 .7 0 1 0 -1.4 0M186.6 192.6a.7 .7 0 1 0 1.4 0a.7 .7 0 1 0 -1.4 0M184.0 202.8a.7 .7 0 1 0 1.4 0a.7 .7 0 1 0 -1.4 0M183.8 213.3a.7 .7 0 1 0 1.4 0a.7 .7 0 1 0 -1.4 0M186.4 96.0a.7 .7 0 1 0 1.4 0a.7 .7 0 1 0 -1.4 0M182.2 181.4a.7 .7 0 1 0 1.4 0a.7 .7 0 1 0 -1.4 0M183.8 190.5a.7 .7 0 1 0 1.4 0a.7 .7 0 1 0 -1.4 0M182.9 205.4a.7 .7 0 1 0 1.4 0a.7 .7 0 1 0 -1.4 0M184.1 214.6a.7 .7 0 1 0 1.4 0a.7 .7 0 1 0 -1.4 0M181.9 196.2a.7 .7 0 1 0 1.4 0a.7 .7 0 1 0 -1.4 0M181.5 212.5a.7 .7 0 1 0 1.4 0a.7 .7 0 1 0 -1.4 0M184.8 196.3a.7 .7 0 1 0 1.4 0a.7 .7 0 1 0 -1.4 0M183.7 210.9a.7 .7 0 1 0 1.4 0a.7 .7 0 1 0 -1.4 0M182.1 212.0a.7 .7 0 1 0 1.4 0a.7 .7 0 1 0 -1.4 0M207.3 149.7a.7 .7 0 1 0 1.4 0a.7 .7 0 1 0 -1.4 0M207.4 175.0a.7 .7 0 1 0 1.4 0a.7 .7 0 1 0 -1.4 0M208.1 203.9a.7 .7 0 1 0 1.4 0a.7 .7 0 1 0 -1.4 0M208.6 142.1a.7 .7 0 1 0 1.4 0a.7 .7 0 1 0 -1.4 0M210.8 207.9a.7 .7 0 1 0 1.4 0a.7 .7 0 1 0 -1.4 0M206.6 187.4a.7 .7 0 1 0 1.4 0a.7 .7 0 1 0 -1.4 0M209.4 135.3a.7 .7 0 1 0 1.4 0a.7 .7 0 1 0 -1.4 0M209.9 205.3a.7 .7 0 1 0 1.4 0a.7 .7 0 1 0 -1.4 0M210.8 184.4a.7 .7 0 1 0 1.4 0a.7 .7 0 1 0 -1.4 0M208.1 178.5a.7 .7 0 1 0 1.4 0a.7 .7 0 1 0 -1.4 0M207.1 170.9a.7 .7 0 1 0 1.4 0a.7 .7 0 1 0 -1.4 0M210.5 161.2a.7 .7 0 1 0 1.4 0a.7 .7 0 1 0 -1.4 0M206.3 153.1a.7 .7 0 1 0 1.4 0a.7 .7 0 1 0 -1.4 0M206.3 212.8a.7 .7 0 1 0 1.4 0a.7 .7 0 1 0 -1.4 0M210.0 178.7a.7 .7 0 1 0 1.4 0a.7 .7 0 1 0 -1.4 0M209.0 178.1a.7 .7 0 1 0 1.4 0a.7 .7 0 1 0 -1.4 0M205.8 213.4a.7 .7 0 1 0 1.4 0a.7 .7 0 1 0 -1.4 0M206.3 172.5a.7 .7 0 1 0 1.4 0a.7 .7 0 1 0 -1.4 0M207.6 180.5a.7 .7 0 1 0 1.4 0a.7 .7 0 1 0 -1.4 0M209.7 137.8a.7 .7 0 1 0 1.4 0a.7 .7 0 1 0 -1.4 0M209.7 213.4a.7 .7 0 1 0 1.4 0a.7 .7 0 1 0 -1.4 0M206.4 206.4a.7 .7 0 1 0 1.4 0a.7 .7 0 1 0 -1.4 0M211.0 214.2a.7 .7 0 1 0 1.4 0a.7 .7 0 1 0 -1.4 0M208.5 214.7a.7 .7 0 1 0 1.4 0a.7 .7 0 1 0 -1.4 0M209.7 206.9a.7 .7 0 1 0 1.4 0a.7 .7 0 1 0 -1.4 0M208.3 212.4a.7 .7 0 1 0 1.4 0a.7 .7 0 1 0 -1.4 0M209.1 195.8a.7 .7 0 1 0 1.4 0a.7 .7 0 1 0 -1.4 0M207.5 213.7a.7 .7 0 1 0 1.4 0a.7 .7 0 1 0 -1.4 0M210.8 213.1a.7 .7 0 1 0 1.4 0a.7 .7 0 1 0 -1.4 0M233.8 187.3a.7 .7 0 1 0 1.4 0a.7 .7 0 1 0 -1.4 0M235.5 214.4a.7 .7 0 1 0 1.4 0a.7 .7 0 1 0 -1.4 0M233.4 119.1a.7 .7 0 1 0 1.4 0a.7 .7 0 1 0 -1.4 0M230.6 136.6a.7 .7 0 1 0 1.4 0a.7 .7 0 1 0 -1.4 0M231.1 204.6a.7 .7 0 1 0 1.4 0a.7 .7 0 1 0 -1.4 0M231.5 207.6a.7 .7 0 1 0 1.4 0a.7 .7 0 1 0 -1.4 0M232.7 108.3a.7 .7 0 1 0 1.4 0a.7 .7 0 1 0 -1.4 0M234.8 111.0a.7 .7 0 1 0 1.4 0a.7 .7 0 1 0 -1.4 0M230.0 206.0a.7 .7 0 1 0 1.4 0a.7 .7 0 1 0 -1.4 0M231.7 207.0a.7 .7 0 1 0 1.4 0a.7 .7 0 1 0 -1.4 0M232.7 181.4a.7 .7 0 1 0 1.4 0a.7 .7 0 1 0 -1.4 0M230.6 146.5a.7 .7 0 1 0 1.4 0a.7 .7 0 1 0 -1.4 0M233.5 161.3a.7 .7 0 1 0 1.4 0a.7 .7 0 1 0 -1.4 0M234.2 113.3a.7 .7 0 1 0 1.4 0a.7 .7 0 1 0 -1.4 0M231.8 153.6a.7 .7 0 1 0 1.4 0a.7 .7 0 1 0 -1.4 0M232.0 200.6a.7 .7 0 1 0 1.4 0a.7 .7 0 1 0 -1.4 0M231.6 127.7a.7 .7 0 1 0 1.4 0a.7 .7 0 1 0 -1.4 0M233.7 209.0a.7 .7 0 1 0 1.4 0a.7 .7 0 1 0 -1.4 0M235.0 197.1a.7 .7 0 1 0 1.4 0a.7 .7 0 1 0 -1.4 0M234.3 139.2a.7 .7 0 1 0 1.4 0a.7 .7 0 1 0 -1.4 0M235.1 202.9a.7 .7 0 1 0 1.4 0a.7 .7 0 1 0 -1.4 0M231.5 102.5a.7 .7 0 1 0 1.4 0a.7 .7 0 1 0 -1.4 0M233.2 90.7a.7 .7 0 1 0 1.4 0a.7 .7 0 1 0 -1.4 0M230.2 99.3a.7 .7 0 1 0 1.4 0a.7 .7 0 1 0 -1.4 0M231.7 97.6a.7 .7 0 1 0 1.4 0a.7 .7 0 1 0 -1.4 0M234.6 211.6a.7 .7 0 1 0 1.4 0a.7 .7 0 1 0 -1.4 0M235.1 191.0a.7 .7 0 1 0 1.4 0a.7 .7 0 1 0 -1.4 0M234.6 209.0a.7 .7 0 1 0 1.4 0a.7 .7 0 1 0 -1.4 0M233.1 186.1a.7 .7 0 1 0 1.4 0a.7 .7 0 1 0 -1.4 0M232.1 183.6a.7 .7 0 1 0 1.4 0a.7 .7 0 1 0 -1.4 0M230.0 213.9a.7 .7 0 1 0 1.4 0a.7 .7 0 1 0 -1.4 0M230.7 188.4a.7 .7 0 1 0 1.4 0a.7 .7 0 1 0 -1.4 0M231.0 177.1a.7 .7 0 1 0 1.4 0a.7 .7 0 1 0 -1.4 0M234.2 188.0a.7 .7 0 1 0 1.4 0a.7 .7 0 1 0 -1.4 0M233.8 164.0a.7 .7 0 1 0 1.4 0a.7 .7 0 1 0 -1.4 0M230.7 185.7a.7 .7 0 1 0 1.4 0a.7 .7 0 1 0 -1.4 0M235.0 213.9a.7 .7 0 1 0 1.4 0a.7 .7 0 1 0 -1.4 0M230.9 195.8a.7 .7 0 1 0 1.4 0a.7 .7 0 1 0 -1.4 0M232.7 214.6a.7 .7 0 1 0 1.4 0a.7 .7 0 1 0 -1.4 0M234.8 187.1a.7 .7 0 1 0 1.4 0a.7 .7 0 1 0 -1.4 0M232.3 197.3a.7 .7 0 1 0 1.4 0a.7 .7 0 1 0 -1.4 0M257.7 87.1a.7 .7 0 1 0 1.4 0a.7 .7 0 1 0 -1.4 0M259.3 91.1a.7 .7 0 1 0 1.4 0a.7 .7 0 1 0 -1.4 0M255.6 129.7a.7 .7 0 1 0 1.4 0a.7 .7 0 1 0 -1.4 0M258.4 114.2a.7 .7 0 1 0 1.4 0a.7 .7 0 1 0 -1.4 0M256.1 116.5a.7 .7 0 1 0 1.4 0a.7 .7 0 1 0 -1.4 0M255.6 131.9a.7 .7 0 1 0 1.4 0a.7 .7 0 1 0 -1.4 0M256.0 171.6a.7 .7 0 1 0 1.4 0a.7 .7 0 1 0 -1.4 0M255.0 188.8a.7 .7 0 1 0 1.4 0a.7 .7 0 1 0 -1.4 0M257.7 136.3a.7 .7 0 1 0 1.4 0a.7 .7 0 1 0 -1.4 0M258.7 184.4a.7 .7 0 1 0 1.4 0a.7 .7 0 1 0 -1.4 0M255.0 144.6a.7 .7 0 1 0 1.4 0a.7 .7 0 1 0 -1.4 0M257.8 153.5a.7 .7 0 1 0 1.4 0a.7 .7 0 1 0 -1.4 0M256.3 171.6a.7 .7 0 1 0 1.4 0a.7 .7 0 1 0 -1.4 0M257.5 138.1a.7 .7 0 1 0 1.4 0a.7 .7 0 1 0 -1.4 0M255.4 137.7a.7 .7 0 1 0 1.4 0a.7 .7 0 1 0 -1.4 0M254.7 189.1a.7 .7 0 1 0 1.4 0a.7 .7 0 1 0 -1.4 0M256.1 149.8a.7 .7 0 1 0 1.4 0a.7 .7 0 1 0 -1.4 0M258.1 175.2a.7 .7 0 1 0 1.4 0a.7 .7 0 1 0 -1.4 0M259.0 188.6a.7 .7 0 1 0 1.4 0a.7 .7 0 1 0 -1.4 0M257.7 155.0a.7 .7 0 1 0 1.4 0a.7 .7 0 1 0 -1.4 0"/>
<path d="M38.5 212.1a.7 .7 0 1 0 1.4 0a.7 .7 0 1 0 -1.4 0M38.4 210.2a.7 .7 0 1 0 1.4 0a.7 .7 0 1 0 -1.4 0M36.7 211.9a.7 .7 0 1 0 1.4 0a.7 .7 0 1 0 -1.4 0M40.2 211.2a.7 .7 0 1 0 1.4 0a.7 .7 0 1 0 -1.4 0M39.9 214.8a.7 .7 0 1 0 1.4 0a.7 .7 0 1 0 -1.4 0M38.8 213.6a.7 .7 0 1 0 1.4 0a.7 .7 0 1 0 -1.4 0M61.1 202.8a.7 .7 0 1 0 1.4 0a.7 .7 0 1 0 -1.4 0M63.5 205.1a.7 .7 0 1 0 1.4 0a.7 .7 0 1 0 -1.4 0M86.4 214.2a.7 .7 0 1 0 1.4 0a.7 .7 0 1 0 -1.4 0M86.5 203.6a.7 .7 0 1 0 1.4 0a.7 .7 0 1 0 -1.4 0M85.7 210.3a.7 .7 0 1 0 1.4 0a.7 .7 0 1 0 -1.4 0M87.4 213.7a.7 .7 0 1 0 1.4 0a.7 .7 0 1 0 -1.4 0M85.0 192.8a.7 .7 0 1 0 1.4 0a.7 .7 0 1 0 -1.4 0M87.9 200.0a.7 .7 0 1 0 1.4 0a.7 .7 0 1 0 -1.4 0M110.2 206.7a.7 .7 0 1 0 1.4 0a.7 .7 0 1 0 -1.4 0M112.4 203.8a.7 .7 0 1 0 1.4 0a.7 .7 0 1 0 -1.4 0M109.7 209.0a.7 .7 0 1 0 1.4 0a.7 .7 0 1 0 -1.4 0M109.3 209.3a.7 .7 0 1 0 1.4 0a.7 .7 0 1 0 -1.4 0M109.5 191.9a.7 .7 0 1 0 1.4 0a.7 .7 0 1 0 -1.4 0M112.7 199.4a.7 .7 0 1 0 1.4 0a.7 .7 0 1 0 -1.4 0M109.6 194.5a.7 .7 0 1 0 1.4 0a.7 .7 0 1 0 -1.4 0M113.2 199.4a.7 .7 0 1 0 1.4 0a.7 .7 0 1 0 -1.4 0M111.6 209.5a.7 .7 0 1 0 1.4 0a.7 .7 0 1 0 -1.4 0M111.5 185.7a.7 .7 0 1 0 1.4 0a.7 .7 0 1 0 -1.4 0M109.9 189.4a.7 .7 0 1 0 1.4 0a.7 .7 0 1 0 -1.4 0M135.0 213.7a.7 .7 0 1 0 1.4 0a.7 .7 0 1 0 -1.4 0M135.9 212.3a.7 .7 0 1 0 1.4 0a.7 .7 0 1 0 -1.4 0M136.3 210.8a.7 .7 0 1 0 1.4 0a.7 .7 0 1 0 -1.4 0M158.1 211.4a.7 .7 0 1 0 1.4 0a.7 .7 0 1 0 -1.4 0M160.5 210.6a.7 .7 0 1 0 1.4 0a.7 .7 0 1 0 -1.4 0M158.4 213.3a.7 .7 0 1 0 1.4 0a.7 .7 0 1 0 -1.4 0M159.4 211.1a.7 .7 0 1 0 1.4 0a.7 .7 0 1 0 -1.4 0M160.3 208.6a.7 .7 0 1 0 1.4 0a.7 .7 0 1 0 -1.4 0M185.5 111.4a.7 .7 0 1 0 1.4 0a.7 .7 0 1 0 -1.4 0M183.3 213.8a.7 .7 0 1 0 1.4 0a.7 .7 0 1 0 -1.4 0M185.3 113.6a.7 .7 0 1 0 1.4 0a.7 .7 0 1 0 -1.4 0M182.9 195.8a.7 .7 0 1 0 1.4 0a.7 .7 0 1 0 -1.4 0M184.9 108.6a.7 .7 0 1 0 1.4 0a.7 .7 0 1 0 -1.4 0M185.1 191.7a.7 .7 0 1 0 1.4 0a.7 .7 0 1 0 -1.4 0M182.1 199.8a.7 .7 0 1 0 1.4 0a.7 .7 0 1 0 -1.4 0M183.0 115.9a.7 .7 0 1 0 1.4 0a.7 .7 0 1 0 -1.4 0M186.5 186.7a.7 .7 0 1 0 1.4 0a.7 .7 0 1 0 -1.4 0M182.9 119.2a.7 .7 0 1 0 1.4 0a.7 .7 0 1 0 -1.4 0M185.7 165.9a.7 .7 0 1 0 1.4 0a.7 .7 0 1 0 -1.4 0M185.3 214.4a.7 .7 0 1 0 1.4 0a.7 .7 0 1 0 -1.4 0M185.8 140.5a.7 .7 0 1 0 1.4 0a.7 .7 0 1 0 -1.4 0M181.4 206.9a.7 .7 0 1 0 1.4 0a.7 .7 0 1 0 -1.4 0M185.7 150.0a.7 .7 0 1 0 1.4 0a.7 .7 0 1 0 -1.4 0M186.3 173.3a.7 .7 0 1 0 1.4 0a.7 .7 0 1 0 -1.4 0M182.3 121.0a.7 .7 0 1 0 1.4 0a.7 .7 0 1 0 -1.4 0M184.4 182.9a.7 .7 0 1 0 1.4 0a.7 .7 0 1 0 -1.4 0M185.1 194.1a.7 .7 0 1 0 1.4 0a.7 .7 0 1 0 -1.4 0M185.6 215.0a.7 .7 0 1 0 1.4 0a.7 .7 0 1 0 -1.4 0M183.5 211.4a.7 .7 0 1 0 1.4 0a.7 .7 0 1 0 -1.4 0M182.1 198.5a.7 .7 0 1 0 1.4 0a.7 .7 0 1 0 -1.4 0M183.3 190.4a.7 .7 0 1 0 1.4 0a.7 .7 0 1 0 -1.4 0M185.9 142.3a.7 .7 0 1 0 1.4 0a.7 .7 0 1 0 -1.4 0M184.8 207.7a.7 .7 0 1 0 1.4 0a.7 .7 0 1 0 -1.4 0M185.0 159.3a.7 .7 0 1 0 1.4 0a.7 .7 0 1 0 -1.4 0M186.4 212.2a.7 .7 0 1 0 1.4 0a.7 .7 0 1 0 -1.4 0M182.3 213.7a.7 .7 0 1 0 1.4 0a.7 .7 0 1 0 -1.4 0M184.8 188.8a.7 .7 0 1 0 1.4 0a.7 .7 0 1 0 -1.4 0M182.8 199.6a.7 .7 0 1 0 1.4 0a.7 .7 0 1 0 -1.4 0M184.8 116.9a.7 .7 0 1 0 1.4 0a.7 .7 0 1 0 -1.4 0M181.6 200.0a.7 .7 0 1 0 1.4 0a.7 .7 0 1 0 -1.4 0M183.8 209.0a.7 .7 0 1 0 1.4 0a.7 .7 0 1 0 -1.4 0M181.7 148.9a.7 .7 0 1 0 1.4 0a.7 .7 0 1 0 -1.4 0M186.0 108.5a.7 .7 0 1 0 1.4 0a.7 .7 0 1 0 -1.4 0M183.5 157.8a.7 .7 0 1 0 1.4 0a.7 .7 0 1 0 -1.4 0M184.2 211.6a.7 .7 0 1 0 1.4 0a.7 .7 0 1 0 -1.4 0M181.9 93.9a.7 .7 0 1 0 1.4 0a.7 .7 0 1 0 -1.4 0M185.9 99.3a.7 .7 0 1 0 1.4 0a.7 .7 0 1 0 -1.4 0M185.7 95.1a.7 .7 0 1 0 1.4 0a.7 .7 0 1 0 -1.4 0M184.8 199.2a.7 .7 0 1 0 1.4 0a.7 .7 0 1 0 -1.4 0M186.2 211.3a.7 .7 0 1 0 1.4 0a.7 .7 0 1 0 -1.4 0M182.9 203.8a.7 .7 0 1 0 1.4 0a.7 .7 0 1 0 -1.4 0M182.0 199.9a.7 .7 0 1 0 1.4 0a.7 .7 0 1 0 -1.4 0M182.2 191.4a.7 .7 0 1 0 1.4 0a.7 .7 0 1 0 -1.4 0M184.1 209.1a.7 .7 0 1 0 1.4 0a.7 .7 0 1 0 -1.4 0M182.3 181.7a.7 .7 0 1 0 1.4 0a.7 .7 0 1 0 -1.4 0M183.0 192.3a.7 .7 0 1 0 1.4 0a.7 .7 0 1 0 -1.4 0M182.2 188.1a.7 .7 0 1 0 1.4 0a.7 .7 0 1 0 -1.4 0M184.2 207.4a.7 .7 0 1 0 1.4 0a.7 .7 0 1 0 -1.4 0M184.6 208.7a.7 .7 0 1 0 1.4 0a.7 .7 0 1 0 -1.4 0M207.8 197.5a.7 .7 0 1 0 1.4 0a.7 .7 0 1 0 -1.4 0M209.9 213.1a.7 .7 0 1 0 1.4 0a.7 .7 0 1 0 -1.4 0M209.7 179.2a.7 .7 0 1 0 1.4 0a.7 .7 0 1 0 -1.4 0M207.9 181.0a.7 .7 0 1 0 1.4 0a.7 .7 0 1 0 -1.4 0M211.1 207.4a.7 .7 0 1 0 1.4 0a.7 .7 0 1 0 -1.4 0M210.6 211.1a.7 .7 0 1 0 1.4 0a.7 .7 0 1 0 -1.4 0M210.3 185.8a.7 .7 0 1 0 1.4 0a.7 .7 0 1 0 -1.4 0M207.4 176.2a.7 .7 0 1 0 1.4 0a.7 .7 0 1 0 -1.4 0M206.6 168.7a.7 .7 0 1 0 1.4 0a.7 .7 0 1 0 -1.4 0M208.1 122.3a.7 .7 0 1 0 1.4 0a.7 .7 0 1 0 -1.4 0M210.3 197.4a.7 .7 0 1 0 1.4 0a.7 .7 0 1 0 -1.4 0M210.6 206.5a.7 .7 0 1 0 1.4 0a.7 .7 0 1 0 -1.4 0M206.9 212.5a.7 .7 0 1 0 1.4 0a.7 .7 0 1 0 -1.4 0M206.3 166.4a.7 .7 0 1 0 1.4 0a.7 .7 0 1 0 -1.4 0M208.9 210.8a.7 .7 0 1 0 1.4 0a.7 .7 0 1 0 -1.4 0M210.4 164.7a.7 .7 0 1 0 1.4 0a.7 .7 0 1 0 -1.4 0M208.3 137.6a.7 .7 0 1 0 1.4 0a.7 .7 0 1 0 -1.4 0M210.8 212.2a.7 .7 0 1 0 1.4 0a.7 .7 0 1 0 -1.4 0M206.6 139.8a.7 .7 0 1 0 1.4 0a.7 .7 0 1 0 -1.4 0M205.5 213.8a.7 .7 0 1 0 1.4 0a.7 .7 0 1 0 -1.4 0M209.4 161.9a.7 .7 0 1 0 1.4 0a.7 .7 0 1 0 -1.4 0M209.3 136.9a.7 .7 0 1 0 1.4 0a.7 .7 0 1 0 -1.4 0M208.4 173.4a.7 .7 0 1 0 1.4 0a.7 .7 0 1 0 -1.4 0M211.0 202.7a.7 .7 0 1 0 1.4 0a.7 .7 0 1 0 -1.4 0M210.0 126.5a.7 .7 0 1 0 1.4 0a.7 .7 0 1 0 -1.4 0M209.0 178.5a.7 .7 0 1 0 1.4 0a.7 .7 0 1 0 -1.4 0M206.0 187.8a.7 .7 0 1 0 1.4 0a.7 .7 0 1 0 -1.4 0M206.3 195.0a.7 .7 0 1 0 1.4 0a.7 .7 0 1 0 -1.4 0M206.8 154.7a.7 .7 0 1 0 1.4 0a.7 .7 0 1 0 -1.4 0M208.3 167.6a.7 .7 0 1 0 1.4 0a.7 .7 0 1 0 -1.4 0M207.3 196.5a.7 .7 0 1 0 1.4 0a.7 .7 0 1 0 -1.4 0M210.6 203.6a.7 .7 0 1 0 1.4 0a.7 .7 0 1 0 -1.4 0M207.0 212.9a.7 .7 0 1 0 1.4 0a.7 .7 0 1 0 -1.4 0M210.1 203.0a.7 .7 0 1 0 1.4 0a.7 .7 0 1 0 -1.4 0M210.7 214.8a.7 .7 0 1 0 1.4 0a.7 .7 0 1 0 -1.4 0M206.6 213.9a.7 .7 0 1 0 1.4 0a.7 .7 0 1 0 -1.4 0M232.5 210.8a.7 .7 0 1 0 1.4 0a.7 .7 0 1 0 -1.4 0M234.3 133.5a.7 .7 0 1 0 1.4 0a.7 .7 0 1 0 -1.4 0M231.9 112.3a.7 .7 0 1 0 1.4 0a.7 .7 0 1 0 -1.4 0M233.4 188.1a.7 .7 0 1 0 1.4 0a.7 .7 0 1 0 -1.4 0M233.4 197.9a.7 .7 0 1 0 1.4 0a.7 .7 0 1 0 -1.4 0M230.7 169.2a.7 .7 0 1 0 1.4 0a.7 .7 0 1 0 -1.4 0M233.4 126.8a.7 .7 0 1 0 1.4 0a.7 .7 0 1 0 -1.4 0M234.9 214.9a.7 .7 0 1 0 1.4 0a.7 .7 0 1 0 -1.4 0M234.8 209.5a.7 .7 0 1 0 1.4 0a.7 .7 0 1 0 -1.4 0M233.3 202.5a.7 .7 0 1 0 1.4 0a.7 .7 0 1 0 -1.4 0M234.7 183.7a.7 .7 0 1 0 1.4 0a.7 .7 0 1 0 -1.4 0M233.6 187.8a.7 .7 0 1 0 1.4 0a.7 .7 0 1 0 -1.4 0M234.6 110.5a.7 .7 0 1 0 1.4 0a.7 .7 0 1 0 -1.4 0M234.2 138.8a.7 .7 0 1 0 1.4 0a.7 .7 0 1 0 -1.4 0M230.3 151.2a.7 .7 0 1 0 1.4 0a.7 .7 0 1 0 -1.4 0M231.8 135.1a.7 .7 0 1 0 1.4 0a.7 .7 0 1 0 -1.4 0M231.5 213.0a.7 .7 0 1 0 1.4 0a.7 .7 0 1 0 -1.4 0M232.0 156.2a.7 .7 0 1 0 1.4 0a.7 .7 0 1 0 -1.4 0M231.9 108.9a.7 .7 0 1 0 1.4 0a.7 .7 0 1 0 -1.4 0M232.7 209.1a.7 .7 0 1 0 1.4 0a.7 .7 0 1 0 -1.4 0M234.2 141.0a.7 .7 0 1 0 1.4 0a.7 .7 0 1 0 -1.4 0M231.6 212.9a.7 .7 0 1 0 1.4 0a.7 .7 0 1 0 -1.4 0M230.2 193.2a.7 .7 0 1 0 1.4 0a.7 .7 0 1 0 -1.4 0M232.2 185.0a.7 .7 0 1 0 1.4 0a.7 .7 0 1 0 -1.4 0M233.7 195.8a.7 .7 0 1 0 1.4 0a.7 .7 0 1 0 -1.4 0M231.3 149.5a.7 .7 0 1 0 1.4 0a.7 .7 0 1 0 -1.4 0M233.2 204.1a.7 .7 0 1 0 1.4 0a.7 .7 0 1 0 -1.4 0M231.1 123.7a.7 .7 0 1 0 1.4 0a.7 .7 0 1 0 -1.4 0M233.5 196.5a.7 .7 0 1 0 1.4 0a.7 .7 0 1 0 -1.4 0M231.2 191.2a.7 .7 0 1 0 1.4 0a.7 .7 0 1 0 -1.4 0M231.0 100.7a.7 .7 0 1 0 1.4 0a.7 .7 0 1 0 -1.4 0M233.4 214.0a.7 .7 0 1 0 1.4 0a.7 .7 0 1 0 -1.4 0M230.2 214.3a.7 .7 0 1 0 1.4 0a.7 .7 0 1 0 -1.4 0M231.5 187.6a.7 .7 0 1 0 1.4 0a.7 .7 0 1 0 -1.4 0M231.4 182.6a.7 .7 0 1 0 1.4 0a.7 .7 0 1 0 -1.4 0M232.2 210.1a.7 .7 0 1 0 1.4 0a.7 .7 0 1 0 -1.4 0M233.6 168.0a.7 .7 0 1 0 1.4 0a.7 .7 0 1 0 -1.4 0M231.7 186.0a.7 .7 0 1 0 1.4 0a.7 .7 0 1 0 -1.4 0M231.5 200.6a.7 .7 0 1 0 1.4 0a.7 .7 0 1 0 -1.4 0M232.8 168.3a.7 .7 0 1 0 1.4 0a.7 .7 0 1 0 -1.4 0M231.7 165.8a.7 .7 0 1 0 1.4 0a.7 .7 0 1 0 -1.4 0M231.3 211.7a.7 .7 0 1 0 1.4 0a.7 .7 0 1 0 -1.4 0M231.3 202.4a.7 .7 0 1 0 1.4 0a.7 .7 0 1 0 -1.4 0M233.9 213.7a.7 .7 0 1 0 1.4 0a.7 .7 0 1 0 -1.4 0M232.5 200.2a.7 .7 0 1 0 1.4 0a.7 .7 0 1 0 -1.4 0M230.5 206.4a.7 .7 0 1 0 1.4 0a.7 .7 0 1 0 -1.4 0M234.1 163.9a.7 .7 0 1 0 1.4 0a.7 .7 0 1 0 -1.4 0M230.8 191.3a.7 .7 0 1 0 1.4 0a.7 .7 0 1 0 -1.4 0M234.1 207.3a.7 .7 0 1 0 1.4 0a.7 .7 0 1 0 -1.4 0M257.3 62.7a.7 .7 0 1 0 1.4 0a.7 .7 0 1 0 -1.4 0M258.0 73.7a.7 .7 0 1 0 1.4 0a.7 .7 0 1 0 -1.4 0M256.1 110.4a.7 .7 0 1 0 1.4 0a.7 .7 0 1 0 -1.4 0M259.1 129.4a.7 .7 0 1 0 1.4 0a.7 .7 0 1 0 -1.4 0M259.5 186.7a.7 .7 0 1 0 1.4 0a.7 .7 0 1 0 -1.4 0M259.1 189.0a.7 .7 0 1 0 1.4 0a.7 .7 0 1 0 -1.4 0M254.4 182.9a.7 .7 0 1 0 1.4 0a.7 .7 0 1 0 -1.4 0M255.4 134.2a.7 .7 0 1 0 1.4 0a.7 .7 0 1 0 -1.4 0M257.8 173.8a.7 .7 0 1 0 1.4 0a.7 .7 0 1 0 -1.4 0M257.8 162.0a.7 .7 0 1 0 1.4 0a.7 .7 0 1 0 -1.4 0M258.5 166.6a.7 .7 0 1 0 1.4 0a.7 .7 0 1 0 -1.4 0M256.3 138.3a.7 .7 0 1 0 1.4 0a.7 .7 0 1 0 -1.4 0M255.6 189.9a.7 .7 0 1 0 1.4 0a.7 .7 0 1 0 -1.4 0M255.9 186.7a.7 .7 0 1 0 1.4 0a.7 .7 0 1 0 -1.4 0M256.7 212.1a.7 .7 0 1 0 1.4 0a.7 .7 0 1 0 -1.4 0M257.1 196.8a.7 .7 0 1 0 1.4 0a.7 .7 0 1 0 -1.4 0"/>
<path d="M36.8 212.7a.7 .7 0 1 0 1.4 0a.7 .7 0 1 0 -1.4 0M38.2 208.4a.7 .7 0 1 0 1.4 0a.7 .7 0 1 0 -1.4 0M37.8 213.0a.7 .7 0 1 0 1.4 0a.7 .7 0 1 0 -1.4 0M39.5 208.7a.7 .7 0 1 0 1.4 0a.7 .7 0 1 0 -1.4 0M37.5 209.7a.7 .7 0 1 0 1.4 0a.7 .7 0 1 0 -1.4 0M38.2 209.1a.7 .7 0 1 0 1.4 0a.7 .7 0 1 0 -1.4 0M38.9 212.6a.7 .7 0 1 0 1.4 0a.7 .7 0 1 0 -1.4 0M64.6 214.8a.7 .7 0 1 0 1.4 0a.7 .7 0 1 0 -1.4 0M60.8 213.2a.7 .7 0 1 0 1.4 0a.7 .7 0 1 0 -1.4 0M61.8 209.1a.7 .7 0 1 0 1.4 0a.7 .7 0 1 0 -1.4 0M60.8 211.4a.7 .7 0 1 0 1.4 0a.7 .7 0 1 0 -1.4 0M61.2 201.6a.7 .7 0 1 0 1.4 0a.7 .7 0 1 0 -1.4 0M62.4 211.3a.7 .7 0 1 0 1.4 0a.7 .7 0 1 0 -1.4 0M60.7 208.5a.7 .7 0 1 0 1.4 0a.7 .7 0 1 0 -1.4 0M64.2 202.3a.7 .7 0 1 0 1.4 0a.7 .7 0 1 0 -1.4 0M63.5 212.7a.7 .7 0 1 0 1.4 0a.7 .7 0 1 0 -1.4 0M60.7 213.7a.7 .7 0 1 0 1.4 0a.7 .7 0 1 0 -1.4 0M63.1 206.6a.7 .7 0 1 0 1.4 0a.7 .7 0 1 0 -1.4 0M85.1 204.7a.7 .7 0 1 0 1.4 0a.7 .7 0 1 0 -1.4 0M85.0 211.5a.7 .7 0 1 0 1.4 0a.7 .7 0 1 0 -1.4 0M86.8 209.1a.7 .7 0 1 0 1.4 0a.7 .7 0 1 0 -1.4 0M88.2 204.2a.7 .7 0 1 0 1.4 0a.7 .7 0 1 0 -1.4 0M85.9 203.1a.7 .7 0 1 0 1.4 0a.7 .7 0 1 0 -1.4 0M86.8 212.1a.7 .7 0 1 0 1.4 0a.7 .7 0 1 0 -1.4 0M86.9 213.5a.7 .7 0 1 0 1.4 0a.7 .7 0 1 0 -1.4 0M86.5 214.6a.7 .7 0 1 0 1.4 0a.7 .7 0 1 0 -1.4 0M84.9 194.6a.7 .7 0 1 0 1.4 0a.7 .7 0 1 0 -1.4 0M86.5 202.5a.7 .7 0 1 0 1.4 0a.7 .7 0 1 0 -1.4 0M111.6 197.4a.7 .7 0 1 0 1.4 0a.7 .7 0 1 0 -1.4 0M112.4 200.3a.7 .7 0 1 0 1.4 0a.7 .7 0 1 0 -1.4 0M113.3 208.4a.7 .7 0 1 0 1.4 0a.7 .7 0 1 0 -1.4 0M111.9 194.4a.7 .7 0 1 0 1.4 0a.7 .7 0 1 0 -1.4 0M109.3 202.6a.7 .7 0 1 0 1.4 0a.7 .7 0 1 0 -1.4 0M112.9 196.6a.7 .7 0 1 0 1.4 0a.7 .7 0 1 0 -1.4 0M137.2 213.3a.7 .7 0 1 0 1.4 0a.7 .7 0 1 0 -1.4 0M134.0 214.8a.7 .7 0 1 0 1.4 0a.7 .7 0 1 0 -1.4 0M133.5 213.6a.7 .7 0 1 0 1.4 0a.7 .7 0 1 0 -1.4 0M136.6 214.4a.7 .7 0 1 0 1.4 0a.7 .7 0 1 0 -1.4 0M133.9 211.5a.7 .7 0 1 0 1.4 0a.7 .7 0 1 0 -1.4 0M135.0 211.5a.7 .7 0 1 0 1.4 0a.7 .7 0 1 0 -1.4 0M134.1 208.0a.7 .7 0 1 0 1.4 0a.7 .7 0 1 0 -1.4 0M135.5 210.1a.7 .7 0 1 0 1.4 0a.7 .7 0 1 0 -1.4 0M136.2 209.1a.7 .7 0 1 0 1.4 0a.7 .7 0 1 0 -1.4 0M159.2 209.4a.7 .7 0 1 0 1.4 0a.7 .7 0 1 0 -1.4 0M161.0 210.7a.7 .7 0 1 0 1.4 0a.7 .7 0 1 0 -1.4 0M160.0 208.7a.7 .7 0 1 0 1.4 0a.7 .7 0 1 0 -1.4 0M160.1 211.7a.7 .7 0 1 0 1.4 0a.7 .7 0 1 0 -1.4 0M159.2 213.7a.7 .7 0 1 0 1.4 0a.7 .7 0 1 0 -1.4 0M160.3 214.8a.7 .7 0 1 0 1.4 0a.7 .7 0 1 0 -1.4 0M160.7 214.8a.7 .7 0 1 0 1.4 0a.7 .7 0 1 0 -1.4 0M158.1 214.1a.7 .7 0 1 0 1.4 0a.7 .7 0 1 0 -1.4 0M184.9 214.4a.7 .7 0 1 0 1.4 0a.7 .7 0 1 0 -1.4 0M184.6 155.1a.7 .7 0 1 0 1.4 0a.7 .7 0 1 0 -1.4 0M181.5 186.6a.7 .7 0 1 0 1.4 0a.7 .7 0 1 0 -1.4 0M181.3 214.9a.7 .7 0 1 0 1.4 0a.7 .7 0 1 0 -1.4 0M182.0 192.0a.7 .7 0 1 0 1.4 0a.7 .7 0 1 0 -1.4 0M184.8 170.5a.7 .7 0 1 0 1.4 0a.7 .7 0 1 0 -1.4 0M183.8 167.3a.7 .7 0 1 0 1.4 0a.7 .7 0 1 0 -1.4 0M182.7 107.8a.7 .7 0 1 0 1.4 0a.7 .7 0 1 0 -1.4 0M183.7 203.0a.7 .7 0 1 0 1.4 0a.7 .7 0 1 0 -1.4 0M184.6 118.2a.7 .7 0 1 0 1.4 0a.7 .7 0 1 0 -1.4 0M184.4 164.7a.7 .7 0 1 0 1.4 0a.7 .7 0 1 0 -1.4 0M183.8 115.5a.7 .7 0 1 0 1.4 0a.7 .7 0 1 0 -1.4 0M184.8 201.4a.7 .7 0 1 0 1.4 0a.7 .7 0 1 0 -1.4 0M184.6 175.3a.7 .7 0 1 0 1.4 0a.7 .7 0 1 0 -1.4 0M184.1 188.4a.7 .7 0 1 0 1.4 0a.7 .7 0 1 0 -1.4 0M184.5 211.9a.7 .7 0 1 0 1.4 0a.7 .7 0 1 0 -1.4 0M184.4 142.1a.7 .7 0 1 0 1.4 0a.7 .7 0 1 0 -1.4 0M181.5 200.9a.7 .7 0 1 0 1.4 0a.7 .7 0 1 0 -1.4 0M182.3 107.6a.7 .7 0 1 0 1.4 0a.7 .7 0 1 0 -1.4 0M181.5 203.9a.7 .7 0 1 0 1.4 0a.7 .7 0 1 0 -1.4 0M186.1 206.2a.7 .7 0 1 0 1.4 0a.7 .7 0 1 0 -1.4 0M186.3 189.0a.7 .7 0 1 0 1.4 0a.7 .7 0 1 0 -1.4 0M184.3 146.7a.7 .7 0 1 0 1.4 0a.7 .7 0 1 0 -1.4 0M181.4 194.4a.7 .7 0 1 0 1.4 0a.7 .7 0 1 0 -1.4 0M185.6 146.6a.7 .7 0 1 0 1.4 0a.7 .7 0 1 0 -1.4 0M184.1 162.5a.7 .7 0 1 0 1.4 0a.7 .7 0 1 0 -1.4 0M186.5 172.8a.7 .7 0 1 0 1.4 0a.7 .7 0 1 0 -1.4 0M182.3 153.5a.7 .7 0 1 0 1.4 0a.7 .7 0 1 0 -1.4 0M182.6 143.4a.7 .7 0 1 0 1.4 0a.7 .7 0 1 0 -1.4 0M184.5 214.3a.7 .7 0 1 0 1.4 0a.7 .7 0 1 0 -1.4 0M185.9 215.0a.7 .7 0 1 0 1.4 0a.7 .7 0 1 0 -1.4 0M184.2 126.9a.7 .7 0 1 0 1.4 0a.7 .7 0 1 0 -1.4 0M182.3 214.6a.7 .7 0 1 0 1.4 0a.7 .7 0 1 0 -1.4 0M182.6 159.3a.7 .7 0 1 0 1.4 0a.7 .7 0 1 0 -1.4 0M185.9 170.2a.7 .7 0 1 0 1.4 0a.7 .7 0 1 0 -1.4 0M182.3 92.0a.7 .7 0 1 0 1.4 0a.7 .7 0 1 0 -1.4 0M186.6 103.2a.7 .7 0 1 0 1.4 0a.7 .7 0 1 0 -1.4 0M182.1 214.8a.7 .7 0 1 0 1.4 0a.7 .7 0 1 0 -1.4 0M184.7 192.4a.7 .7 0 1 0 1.4 0a.7 .7 0 1 0 -1.4 0M186.0 187.7a.7 .7 0 1 0 1.4 0a.7 .7 0 1 0 -1.4 0M184.1 194.0a.7 .7 0 1 0 1.4 0a.7 .7 0 1 0 -1.4 0M183.6 198.0a.7 .7 0 1 0 1.4 0a.7 .7 0 1 0 -1.4 0M183.0 214.9a.7 .7 0 1 0 1.4 0a.7 .7 0 1 0 -1.4 0M181.6 204.6a.7 .7 0 1 0 1.4 0a.7 .7 0 1 0 -1.4 0M184.0 215.0a.7 .7 0 1 0 1.4 0a.7 .7 0 1 0 -1.4 0M186.0 190.9a.7 .7 0 1 0 1.4 0a.7 .7 0 1 0 -1.4 0M183.2 214.3a.7 .7 0 1 0 1.4 0a.7 .7 0 1 0 -1.4 0M182.6 200.6a.7 .7 0 1 0 1.4 0a.7 .7 0 1 0 -1.4 0M183.8 196.4a.7 .7 0 1 0 1.4 0a.7 .7 0 1 0 -1.4 0M185.7 198.3a.7 .7 0 1 0 1.4 0a.7 .7 0 1 0 -1.4 0M183.4 207.9a.7 .7 0 1 0 1.4 0a.7 .7 0 1 0 -1.4 0M206.8 155.2a.7 .7 0 1 0 1.4 0a.7 .7 0 1 0 -1.4 0M208.3 211.4a.7 .7 0 1 0 1.4 0a.7 .7 0 1 0 -1.4 0M207.7 213.1a.7 .7 0 1 0 1.4 0a.7 .7 0 1 0 -1.4 0M206.7 211.4a.7 .7 0 1 0 1.4 0a.7 .7 0 1 0 -1.4 0M207.2 210.2a.7 .7 0 1 0 1.4 0a.7 .7 0 1 0 -1.4 0M210.8 211.8a.7 .7 0 1 0 1.4 0a.7 .7 0 1 0 -1.4 0M210.8 207.7a.7 .7 0 1 0 1.4 0a.7 .7 0 1 0 -1.4 0M209.4 135.8a.7 .7 0 1 0 1.4 0a.7 .7 0 1 0 -1.4 0M208.1 175.0a.7 .7 0 1 0 1.4 0a.7 .7 0 1 0 -1.4 0M208.8 156.6a.7 .7 0 1 0 1.4 0a.7 .7 0 1 0 -1.4 0M208.7 139.5a.7 .7 0 1 0 1.4 0a.7 .7 0 1 0 -1.4 0M206.5 137.9a.7 .7 0 1 0 1.4 0a.7 .7 0 1 0 -1.4 0M209.7 152.0a.7 .7 0 1 0 1.4 0a.7 .7 0 1 0 -1.4 0M206.2 193.0a.7 .7 0 1 0 1.4 0a.7 .7 0 1 0 -1.4 0M209.8 165.8a.7 .7 0 1 0 1.4 0a.7 .7 0 1 0 -1.4 0M209.3 196.7a.7 .7 0 1 0 1.4 0a.7 .7 0 1 0 -1.4 0M210.5 164.1a.7 .7 0 1 0 1.4 0a.7 .7 0 1 0 -1.4 0M209.9 168.5a.7 .7 0 1 0 1.4 0a.7 .7 0 1 0 -1.4 0M210.2 189.1a.7 .7 0 1 0 1.4 0a.7 .7 0 1 0 -1.4 0M207.3 212.2a.7 .7 0 1 0 1.4 0a.7 .7 0 1 0 -1.4 0M208.5 181.1a.7 .7 0 1 0 1.4 0a.7 .7 0 1 0 -1.4 0M209.7 207.1a.7 .7 0 1 0 1.4 0a.7 .7 0 1 0 -1.4 0M209.9 157.2a.7 .7 0 1 0 1.4 0a.7 .7 0 1 0 -1.4 0M207.2 195.1a.7 .7 0 1 0 1.4 0a.7 .7 0 1 0 -1.4 0M207.2 167.4a.7 .7 0 1 0 1.4 0a.7 .7 0 1 0 -1.4 0M208.0 197.4a.7 .7 0 1 0 1.4 0a.7 .7 0 1 0 -1.4 0M208.9 188.5a.7 .7 0 1 0 1.4 0a.7 .7 0 1 0 -1.4 0M208.2 172.3a.7 .7 0 1 0 1.4 0a.7 .7 0 1 0 -1.4 0M208.1 212.9a.7 .7 0 1 0 1.4 0a.7 .7 0 1 0 -1.4 0M205.9 207.3a.7 .7 0 1 0 1.4 0a.7 .7 0 1 0 -1.4 0M208.5 132.0a.7 .7 0 1 0 1.4 0a.7 .7 0 1 0 -1.4 0M210.5 213.0a.7 .7 0 1 0 1.4 0a.7 .7 0 1 0 -1.4 0M211.0 204.3a.7 .7 0 1 0 1.4 0a.7 .7 0 1 0 -1.4 0M209.5 178.5a.7 .7 0 1 0 1.4 0a.7 .7 0 1 0 -1.4 0M209.7 114.2a.7 .7 0 1 0 1.4 0a.7 .7 0 1 0 -1.4 0M206.0 121.8a.7 .7 0 1 0 1.4 0a.7 .7 0 1 0 -1.4 0M205.6 213.3a.7 .7 0 1 0 1.4 0a.7 .7 0 1 0 -1.4 0M210.2 195.7a.7 .7 0 1 0 1.4 0a.7 .7 0 1 0 -1.4 0M209.7 201.5a.7 .7 0 1 0 1.4 0a.7 .7 0 1 0 -1.4 0M208.0 190.6a.7 .7 0 1 0 1.4 0a.7 .7 0 1 0 -1.4 0M209.5 194.1a.7 .7 0 1 0 1.4 0a.7 .7 0 1 0 -1.4 0M207.6 208.6a.7 .7 0 1 0 1.4 0a.7 .7 0 1 0 -1.4 0M208.5 209.6a.7 .7 0 1 0 1.4 0a.7 .7 0 1 0 -1.4 0M208.3 202.3a.7 .7 0 1 0 1.4 0a.7 .7 0 1 0 -1.4 0M206.3 208.9a.7 .7 0 1 0 1.4 0a.7 .7 0 1 0 -1.4 0M210.0 197.3a.7 .7 0 1 0 1.4 0a.7 .7 0 1 0 -1.4 0M207.3 212.9a.7 .7 0 1 0 1.4 0a.7 .7 0 1 0 -1.4 0M233.6 214.5a.7 .7 0 1 0 1.4 0a.7 .7 0 1 0 -1.4 0M230.7 113.4a.7 .7 0 1 0 1.4 0a.7 .7 0 1 0 -1.4 0M231.5 143.7a.7 .7 0 1 0 1.4 0a.7 .7 0 1 0 -1.4 0M234.8 214.0a.7 .7 0 1 0 1.4 0a.7 .7 0 1 0 -1.4 0M232.3 180.0a.7 .7 0 1 0 1.4 0a.7 .7 0 1 0 -1.4 0M230.9 170.9a.7 .7 0 1 0 1.4 0a.7 .7 0 1 0 -1.4 0M231.1 204.1a.7 .7 0 1 0 1.4 0a.7 .7 0 1 0 -1.4 0M232.5 210.1a.7 .7 0 1 0 1.4 0a.7 .7 0 1 0 -1.4 0M234.3 151.2a.7 .7 0 1 0 1.4 0a.7 .7 0 1 0 -1.4 0M231.0 163.1a.7 .7 0 1 0 1.4 0a.7 .7 0 1 0 -1.4 0M233.8 157.2a.7 .7 0 1 0 1.4 0a.7 .7 0 1 0 -1.4 0M233.1 138.3a.7 .7 0 1 0 1.4 0a.7 .7 0 1 0 -1.4 0M230.7 136.9a.7 .7 0 1 0 1.4 0a.7 .7 0 1 0 -1.4 0M230.2 180.2a.7 .7 0 1 0 1.4 0a.7 .7 0 1 0 -1.4 0M234.0 121.9a.7 .7 0 1 0 1.4 0a.7 .7 0 1 0 -1.4 0M235.0 201.3a.7 .7 0 1 0 1.4 0a.7 .7 0 1 0 -1.4 0M233.6 141.7a.7 .7 0 1 0 1.4 0a.7 .7 0 1 0 -1.4 0M231.5 211.0a.7 .7 0 1 0 1.4 0a.7 .7 0 1 0 -1.4 0M234.2 192.3a.7 .7 0 1 0 1.4 0a.7 .7 0 1 0 -1.4 0M232.6 152.6a.7 .7 0 1 0 1.4 0a.7 .7 0 1 0 -1.4 0M235.3 206.7a.7 .7 0 1 0 1.4 0a.7 .7 0 1 0 -1.4 0M232.3 176.5a.7 .7 0 1 0 1.4 0a.7 .7 0 1 0 -1.4 0M233.2 104.5a.7 .7 0 1 0 1.4 0a.7 .7 0 1 0 -1.4 0M231.0 159.3a.7 .7 0 1 0 1.4 0a.7 .7 0 1 0 -1.4 0M231.4 195.6a.7 .7 0 1 0 1.4 0a.7 .7 0 1 0 -1.4 0M232.0 211.5a.7 .7 0 1 0 1.4 0a.7 .7 0 1 0 -1.4 0M233.1 126.5a.7 .7 0 1 0 1.4 0a.7 .7 0 1 0 -1.4 0M232.3 177.7a.7 .7 0 1 0 1.4 0a.7 .7 0 1 0 -1.4 0M230.7 209.3a.7 .7 0 1 0 1.4 0a.7 .7 0 1 0 -1.4 0M230.1 181.9a.7 .7 0 1 0 1.4 0a.7 .7 0 1 0 -1.4 0M235.3 99.8a.7 .7 0 1 0 1.4 0a.7 .7 0 1 0 -1.4 0M229.9 101.6a.7 .7 0 1 0 1.4 0a.7 .7 0 1 0 -1.4 0M235.3 101.6a.7 .7 0 1 0 1.4 0a.7 .7 0 1 0 -1.4 0M234.0 93.9a.7 .7 0 1 0 1.4 0a.7 .7 0 1 0 -1.4 0M231.6 207.7a.7 .7 0 1 0 1.4 0a.7 .7 0 1 0 -1.4 0M231.1 184.4a.7 .7 0 1 0 1.4 0a.7 .7 0 1 0 -1.4 0M234.0 172.4a.7 .7 0 1 0 1.4 0a.7 .7 0 1 0 -1.4 0M232.5 200.7a.7 .7 0 1 0 1.4 0a.7 .7 0 1 0 -1.4 0M234.8 200.3a.7 .7 0 1 0 1.4 0a.7 .7 0 1 0 -1.4 0M234.8 173.4a.7 .7 0 1 0 1.4 0a.7 .7 0 1 0 -1.4 0M230.4 198.3a.7 .7 0 1 0 1.4 0a.7 .7 0 1 0 -1.4 0M230.7 162.9a.7 .7 0 1 0 1.4 0a.7 .7 0 1 0 -1.4 0M230.7 205.5a.7 .7 0 1 0 1.4 0a.7 .7 0 1 0 -1.4 0M232.0 163.7a.7 .7 0 1 0 1.4 0a.7 .7 0 1 0 -1.4 0M232.9 163.0a.7 .7 0 1 0 1.4 0a.7 .7 0 1 0 -1.4 0M233.0 206.0a.7 .7 0 1 0 1.4 0a.7 .7 0 1 0 -1.4 0M230.8 183.5a.7 .7 0 1 0 1.4 0a.7 .7 0 1 0 -1.4 0M231.3 177.1a.7 .7 0 1 0 1.4 0a.7 .7 0 1 0 -1.4 0M233.0 186.8a.7 .7 0 1 0 1.4 0a.7 .7 0 1 0 -1.4 0M233.1 179.9a.7 .7 0 1 0 1.4 0a.7 .7 0 1 0 -1.4 0M233.0 183.9a.7 .7 0 1 0 1.4 0a.7 .7 0 1 0 -1.4 0M231.1 210.6a.7 .7 0 1 0 1.4 0a.7 .7 0 1 0 -1.4 0M234.3 200.2a.7 .7 0 1 0 1.4 0a.7 .7 0 1 0 -1.4 0M234.9 214.6a.7 .7 0 1 0 1.4 0a.7 .7 0 1 0 -1.4 0M255.8 99.7a.7 .7 0 1 0 1.4 0a.7 .7 0 1 0 -1.4 0M258.0 128.7a.7 .7 0 1 0 1.4 0a.7 .7 0 1 0 -1.4 0M258.3 128.4a.7 .7 0 1 0 1.4 0a.7 .7 0 1 0 -1.4 0M254.9 103.6a.7 .7 0 1 0 1.4 0a.7 .7 0 1 0 -1.4 0M255.3 124.7a.7 .7 0 1 0 1.4 0a.7 .7 0 1 0 -1.4 0M258.1 130.7a.7 .7 0 1 0 1.4 0a.7 .7 0 1 0 -1.4 0M255.0 126.9a.7 .7 0 1 0 1.4 0a.7 .7 0 1 0 -1.4 0M257.9 113.5a.7 .7 0 1 0 1.4 0a.7 .7 0 1 0 -1.4 0M257.3 161.1a.7 .7 0 1 0 1.4 0a.7 .7 0 1 0 -1.4 0M257.6 158.9a.7 .7 0 1 0 1.4 0a.7 .7 0 1 0 -1.4 0M255.4 181.2a.7 .7 0 1 0 1.4 0a.7 .7 0 1 0 -1.4 0M255.0 142.8a.7 .7 0 1 0 1.4 0a.7 .7 0 1 0 -1.4 0M256.2 187.7a.7 .7 0 1 0 1.4 0a.7 .7 0 1 0 -1.4 0M255.1 170.1a.7 .7 0 1 0 1.4 0a.7 .7 0 1 0 -1.4 0M254.6 178.4a.7 .7 0 1 0 1.4 0a.7 .7 0 1 0 -1.4 0M256.1 156.7a.7 .7 0 1 0 1.4 0a.7 .7 0 1 0 -1.4 0M259.1 189.0a.7 .7 0 1 0 1.4 0a.7 .7 0 1 0 -1.4 0M254.4 184.2a.7 .7 0 1 0 1.4 0a.7 .7 0 1 0 -1.4 0M255.2 166.7a.7 .7 0 1 0 1.4 0a.7 .7 0 1 0 -1.4 0M255.9 142.0a.7 .7 0 1 0 1.4 0a.7 .7 0 1 0 -1.4 0M258.8 189.2a.7 .7 0 1 0 1.4 0a.7 .7 0 1 0 -1.4 0M257.1 190.9a.7 .7 0 1 0 1.4 0a.7 .7 0 1 0 -1.4 0"/>
<path d="M39.5 212.9a.7 .7 0 1 0 1.4 0a.7 .7 0 1 0 -1.4 0M39.9 211.3a.7 .7 0 1 0 1.4 0a.7 .7 0 1 0 -1.4 0M37.4 213.5a.7 .7 0 1 0 1.4 0a.7 .7 0 1 0 -1.4 0M39.6 209.4a.7 .7 0 1 0 1.4 0a.7 .7 0 1 0 -1.4 0M37.8 214.2a.7 .7 0 1 0 1.4 0a.7 .7 0 1 0 -1.4 0M62.5 212.4a.7 .7 0 1 0 1.4 0a.7 .7 0 1 0 -1.4 0M61.8 212.0a.7 .7 0 1 0 1.4 0a.7 .7 0 1 0 -1.4 0M60.7 205.6a.7 .7 0 1 0 1.4 0a.7 .7 0 1 0 -1.4 0M64.0 209.8a.7 .7 0 1 0 1.4 0a.7 .7 0 1 0 -1.4 0M63.0 200.3a.7 .7 0 1 0 1.4 0a.7 .7 0 1 0 -1.4 0M64.0 212.8a.7 .7 0 1 0 1.4 0a.7 .7 0 1 0 -1.4 0M63.1 201.5a.7 .7 0 1 0 1.4 0a.7 .7 0 1 0 -1.4 0M63.0 202.5a.7 .7 0 1 0 1.4 0a.7 .7 0 1 0 -1.4 0M63.9 214.9a.7 .7 0 1 0 1.4 0a.7 .7 0 1 0 -1.4 0M85.1 207.0a.7 .7 0 1 0 1.4 0a.7 .7 0 1 0 -1.4 0M87.5 211.0a.7 .7 0 1 0 1.4 0a.7 .7 0 1 0 -1.4 0M85.2 214.1a.7 .7 0 1 0 1.4 0a.7 .7 0 1 0 -1.4 0M86.5 206.7a.7 .7 0 1 0 1.4 0a.7 .7 0 1 0 -1.4 0M85.9 211.6a.7 .7 0 1 0 1.4 0a.7 .7 0 1 0 -1.4 0M87.7 208.6a.7 .7 0 1 0 1.4 0a.7 .7 0 1 0 -1.4 0M88.1 212.6a.7 .7 0 1 0 1.4 0a.7 .7 0 1 0 -1.4 0M112.2 213.9a.7 .7 0 1 0 1.4 0a.7 .7 0 1 0 -1.4 0M109.9 192.4a.7 .7 0 1 0 1.4 0a.7 .7 0 1 0 -1.4 0M111.9 199.9a.7 .7 0 1 0 1.4 0a.7 .7 0 1 0 -1.4 0M110.7 201.2a.7 .7 0 1 0 1.4 0a.7 .7 0 1 0 -1.4 0M109.3 190.6a.7 .7 0 1 0 1.4 0a.7 .7 0 1 0 -1.4 0M109.8 212.8a.7 .7 0 1 0 1.4 0a.7 .7 0 1 0 -1.4 0M113.0 201.0a.7 .7 0 1 0 1.4 0a.7 .7 0 1 0 -1.4 0M110.1 212.0a.7 .7 0 1 0 1.4 0a.7 .7 0 1 0 -1.4 0M112.9 192.3a.7 .7 0 1 0 1.4 0a.7 .7 0 1 0 -1.4 0M111.7 190.1a.7 .7 0 1 0 1.4 0a.7 .7 0 1 0 -1.4 0M109.6 185.3a.7 .7 0 1 0 1.4 0a.7 .7 0 1 0 -1.4 0M134.4 213.2a.7 .7 0 1 0 1.4 0a.7 .7 0 1 0 -1.4 0M136.9 211.7a.7 .7 0 1 0 1.4 0a.7 .7 0 1 0 -1.4 0M133.5 215.0a.7 .7 0 1 0 1.4 0a.7 .7 0 1 0 -1.4 0M136.3 210.6a.7 .7 0 1 0 1.4 0a.7 .7 0 1 0 -1.4 0M133.7 208.8a.7 .7 0 1 0 1.4 0a.7 .7 0 1 0 -1.4 0M134.9 209.6a.7 .7 0 1 0 1.4 0a.7 .7 0 1 0 -1.4 0M135.8 214.7a.7 .7 0 1 0 1.4 0a.7 .7 0 1 0 -1.4 0M135.5 209.6a.7 .7 0 1 0 1.4 0a.7 .7 0 1 0 -1.4 0M134.7 213.7a.7 .7 0 1 0 1.4 0a.7 .7 0 1 0 -1.4 0M136.0 209.2a.7 .7 0 1 0 1.4 0a.7 .7 0 1 0 -1.4 0M134.2 212.7a.7 .7 0 1 0 1.4 0a.7 .7 0 1 0 -1.4 0M135.1 210.8a.7 .7 0 1 0 1.4 0a.7 .7 0 1 0 -1.4 0M137.0 213.3a.7 .7 0 1 0 1.4 0a.7 .7 0 1 0 -1.4 0M136.7 208.8a.7 .7 0 1 0 1.4 0a.7 .7 0 1 0 -1.4 0M159.4 213.3a.7 .7 0 1 0 1.4 0a.7 .7 0 1 0 -1.4 0M161.6 211.4a.7 .7 0 1 0 1.4 0a.7 .7 0 1 0 -1.4 0M158.6 213.1a.7 .7 0 1 0 1.4 0a.7 .7 0 1 0 -1.4 0M159.7 210.2a.7 .7 0 1 0 1.4 0a.7 .7 0 1 0 -1.4 0M158.4 209.5a.7 .7 0 1 0 1.4 0a.7 .7 0 1 0 -1.4 0M158.5 209.1a.7 .7 0 1 0 1.4 0a.7 .7 0 1 0 -1.4 0M157.9 209.5a.7 .7 0 1 0 1.4 0a.7 .7 0 1 0 -1.4 0M185.1 209.8a.7 .7 0 1 0 1.4 0a.7 .7 0 1 0 -1.4 0M183.7 141.4a.7 .7 0 1 0 1.4 0a.7 .7 0 1 0 -1.4 0M185.4 192.8a.7 .7 0 1 0 1.4 0a.7 .7 0 1 0 -1.4 0M182.7 137.7a.7 .7 0 1 0 1.4 0a.7 .7 0 1 0 -1.4 0M183.5 213.8a.7 .7 0 1 0 1.4 0a.7 .7 0 1 0 -1.4 0M182.3 207.1a.7 .7 0 1 0 1.4 0a.7 .7 0 1 0 -1.4 0M182.7 192.3a.7 .7 0 1 0 1.4 0a.7 .7 0 1 0 -1.4 0M184.2 202.3a.7 .7 0 1 0 1.4 0a.7 .7 0 1 0 -1.4 0M185.6 115.5a.7 .7 0 1 0 1.4 0a.7 .7 0 1 0 -1.4 0M182.3 187.8a.7 .7 0 1 0 1.4 0a.7 .7 0 1 0 -1.4 0M184.7 206.1a.7 .7 0 1 0 1.4 0a.7 .7 0 1 0 -1.4 0M181.6 206.4a.7 .7 0 1 0 1.4 0a.7 .7 0 1 0 -1.4 0M186.6 214.8a.7 .7 0 1 0 1.4 0a.7 .7 0 1 0 -1.4 0M184.5 209.8a.7 .7 0 1 0 1.4 0a.7 .7 0 1 0 -1.4 0M183.0 168.9a.7 .7 0 1 0 1.4 0a.7 .7 0 1 0 -1.4 0M186.7 204.8a.7 .7 0 1 0 1.4 0a.7 .7 0 1 0 -1.4 0M181.2 214.9a.7 .7 0 1 0 1.4 0a.7 .7 0 1 0 -1.4 0M183.6 188.0a.7 .7 0 1 0 1.4 0a.7 .7 0 1 0 -1.4 0M183.3 209.1a.7 .7 0 1 0 1.4 0a.7 .7 0 1 0 -1.4 0M185.3 214.9a.7 .7 0 1 0 1.4 0a.7 .7 0 1 0 -1.4 0M182.7 143.7a.7 .7 0 1 0 1.4 0a.7 .7 0 1 0 -1.4 0M182.1 121.7a.7 .7 0 1 0 1.4 0a.7 .7 0 1 0 -1.4 0M186.4 205.9a.7 .7 0 1 0 1.4 0a.7 .7 0 1 0 -1.4 0M183.7 118.9a.7 .7 0 1 0 1.4 0a.7 .7 0 1 0 -1.4 0M182.0 143.2a.7 .7 0 1 0 1.4 0a.7 .7 0 1 0 -1.4 0M183.0 194.2a.7 .7 0 1 0 1.4 0a.7 .7 0 1 0 -1.4 0M185.4 212.9a.7 .7 0 1 0 1.4 0a.7 .7 0 1 0 -1.4 0M184.7 160.0a.7 .7 0 1 0 1.4 0a.7 .7 0 1 0 -1.4 0M185.9 213.0a.7 .7 0 1 0 1.4 0a.7 .7 0 1 0 -1.4 0M184.3 183.2a.7 .7 0 1 0 1.4 0a.7 .7 0 1 0 -1.4 0M183.3 102.2a.7 .7 0 1 0 1.4 0a.7 .7 0 1 0 -1.4 0M184.3 90.3a.7 .7 0 1 0 1.4 0a.7 .7 0 1 0 -1.4 0M185.9 212.2a.7 .7 0 1 0 1.4 0a.7 .7 0 1 0 -1.4 0M186.2 211.4a.7 .7 0 1 0 1.4 0a.7 .7 0 1 0 -1.4 0M183.0 210.0a.7 .7 0 1 0 1.4 0a.7 .7 0 1 0 -1.4 0M183.5 181.7a.7 .7 0 1 0 1.4 0a.7 .7 0 1 0 -1.4 0M184.8 211.8a.7 .7 0 1 0 1.4 0a.7 .7 0 1 0 -1.4 0M185.6 209.8a.7 .7 0 1 0 1.4 0a.7 .7 0 1 0 -1.4 0M183.3 202.7a.7 .7 0 1 0 1.4 0a.7 .7 0 1 0 -1.4 0M181.3 214.9a.7 .7 0 1 0 1.4 0a.7 .7 0 1 0 -1.4 0M184.5 200.2a.7 .7 0 1 0 1.4 0a.7 .7 0 1 0 -1.4 0M185.6 182.0a.7 .7 0 1 0 1.4 0a.7 .7 0 1 0 -1.4 0M185.4 189.1a.7 .7 0 1 0 1.4 0a.7 .7 0 1 0 -1.4 0M184.8 211.7a.7 .7 0 1 0 1.4 0a.7 .7 0 1 0 -1.4 0M184.0 185.8a.7 .7 0 1 0 1.4 0a.7 .7 0 1 0 -1.4 0M209.1 211.5a.7 .7 0 1 0 1.4 0a.7 .7 0 1 0 -1.4 0M207.5 150.4a.7 .7 0 1 0 1.4 0a.7 .7 0 1 0 -1.4 0M205.9 184.6a.7 .7 0 1 0 1.4 0a.7 .7 0 1 0 -1.4 0M209.6 206.7a.7 .7 0 1 0 1.4 0a.7 .7 0 1 0 -1.4 0M210.3 206.5a.7 .7 0 1 0 1.4 0a.7 .7 0 1 0 -1.4 0M206.5 145.0a.7 .7 0 1 0 1.4 0a.7 .7 0 1 0 -1.4 0M205.8 212.4a.7 .7 0 1 0 1.4 0a.7 .7 0 1 0 -1.4 0M209.1 214.4a.7 .7 0 1 0 1.4 0a.7 .7 0 1 0 -1.4 0M206.5 151.7a.7 .7 0 1 0 1.4 0a.7 .7 0 1 0 -1.4 0M210.7 165.3a.7 .7 0 1 0 1.4 0a.7 .7 0 1 0 -1.4 0M209.4 137.7a.7 .7 0 1 0 1.4 0a.7 .7 0 1 0 -1.4 0M208.4 169.5a.7 .7 0 1 0 1.4 0a.7 .7 0 1 0 -1.4 0M206.3 153.6a.7 .7 0 1 0 1.4 0a.7 .7 0 1 0 -1.4 0M208.0 165.1a.7 .7 0 1 0 1.4 0a.7 .7 0 1 0 -1.4 0M209.7 209.2a.7 .7 0 1 0 1.4 0a.7 .7 0 1 0 -1.4 0M206.8 190.1a.7 .7 0 1 0 1.4 0a.7 .7 0 1 0 -1.4 0M210.5 156.6a.7 .7 0 1 0 1.4 0a.7 .7 0 1 0 -1.4 0M209.8 212.5a.7 .7 0 1 0 1.4 0a.7 .7 0 1 0 -1.4 0M210.6 197.2a.7 .7 0 1 0 1.4 0a.7 .7 0 1 0 -1.4 0M209.3 209.6a.7 .7 0 1 0 1.4 0a.7 .7 0 1 0 -1.4 0M208.8 215.0a.7 .7 0 1 0 1.4 0a.7 .7 0 1 0 -1.4 0M209.0 146.8a.7 .7 0 1 0 1.4 0a.7 .7 0 1 0 -1.4 0M206.6 155.4a.7 .7 0 1 0 1.4 0a.7 .7 0 1 0 -1.4 0M209.6 207.4a.7 .7 0 1 0 1.4 0a.7 .7 0 1 0 -1.4 0M206.2 197.5a.7 .7 0 1 0 1.4 0a.7 .7 0 1 0 -1.4 0M209.8 134.6a.7 .7 0 1 0 1.4 0a.7 .7 0 1 0 -1.4 0M210.2 155.7a.7 .7 0 1 0 1.4 0a.7 .7 0 1 0 -1.4 0M207.8 204.6a.7 .7 0 1 0 1.4 0a.7 .7 0 1 0 -1.4 0M208.1 163.7a.7 .7 0 1 0 1.4 0a.7 .7 0 1 0 -1.4 0M206.8 214.6a.7 .7 0 1 0 1.4 0a.7 .7 0 1 0 -1.4 0M209.1 201.2a.7 .7 0 1 0 1.4 0a.7 .7 0 1 0 -1.4 0M209.0 212.5a.7 .7 0 1 0 1.4 0a.7 .7 0 1 0 -1.4 0M210.2 201.1a.7 .7 0 1 0 1.4 0a.7 .7 0 1 0 -1.4 0M206.8 204.0a.7 .7 0 1 0 1.4 0a.7 .7 0 1 0 -1.4 0M209.3 206.8a.7 .7 0 1 0 1.4 0a.7 .7 0 1 0 -1.4 0M207.3 192.2a.7 .7 0 1 0 1.4 0a.7 .7 0 1 0 -1.4 0M210.1 210.8a.7 .7 0 1 0 1.4 0a.7 .7 0 1 0 -1.4 0M207.1 212.4a.7 .7 0 1 0 1.4 0a.7 .7 0 1 0 -1.4 0M207.3 210.0a.7 .7 0 1 0 1.4 0a.7 .7 0 1 0 -1.4 0M209.1 214.4a.7 .7 0 1 0 1.4 0a.7 .7 0 1 0 -1.4 0M206.9 189.1a.7 .7 0 1 0 1.4 0a.7 .7 0 1 0 -1.4 0M209.5 195.9a.7 .7 0 1 0 1.4 0a.7 .7 0 1 0 -1.4 0M206.9 205.7a.7 .7 0 1 0 1.4 0a.7 .7 0 1 0 -1.4 0M209.9 212.5a.7 .7 0 1 0 1.4 0a.7 .7 0 1 0 -1.4 0M234.6 183.9a.7 .7 0 1 0 1.4 0a.7 .7 0 1 0 -1.4 0M233.8 209.9a.7 .7 0 1 0 1.4 0a.7 .7 0 1 0 -1.4 0M234.0 202.1a.7 .7 0 1 0 1.4 0a.7 .7 0 1 0 -1.4 0M234.9 136.3a.7 .7 0 1 0 1.4 0a.7 .7 0 1 0 -1.4 0M231.1 124.2a.7 .7 0 1 0 1.4 0a.7 .7 0 1 0 -1.4 0M230.2 213.4a.7 .7 0 1 0 1.4 0a.7 .7 0 1 0 -1.4 0M234.8 181.6a.7 .7 0 1 0 1.4 0a.7 .7 0 1 0 -1.4 0M235.2 192.9a.7 .7 0 1 0 1.4 0a.7 .7 0 1 0 -1.4 0M234.9 205.2a.7 .7 0 1 0 1.4 0a.7 .7 0 1 0 -1.4 0M232.1 185.7a.7 .7 0 1 0 1.4 0a.7 .7 0 1 0 -1.4 0M231.8 198.6a.7 .7 0 1 0 1.4 0a.7 .7 0 1 0 -1.4 0M233.6 128.8a.7 .7 0 1 0 1.4 0a.7 .7 0 1 0 -1.4 0M233.7 144.7a.7 .7 0 1 0 1.4 0a.7 .7 0 1 0 -1.4 0M230.3 208.5a.7 .7 0 1 0 1.4 0a.7 .7 0 1 0 -1.4 0M230.4 172.4a.7 .7 0 1 0 1.4 0a.7 .7 0 1 0 -1.4 0M232.7 180.9a.7 .7 0 1 0 1.4 0a.7 .7 0 1 0 -1.4 0M232.7 199.8a.7 .7 0 1 0 1.4 0a.7 .7 0 1 0 -1.4 0M234.0 201.8a.7 .7 0 1 0 1.4 0a.7 .7 0 1 0 -1.4 0M232.7 214.4a.7 .7 0 1 0 1.4 0a.7 .7 0 1 0 -1.4 0M230.5 190.7a.7 .7 0 1 0 1.4 0a.7 .7 0 1 0 -1.4 0M231.7 214.4a.7 .7 0 1 0 1.4 0a.7 .7 0 1 0 -1.4 0M232.7 176.2a.7 .7 0 1 0 1.4 0a.7 .7 0 1 0 -1.4 0M234.9 178.1a.7 .7 0 1 0 1.4 0a.7 .7 0 1 0 -1.4 0M232.7 212.3a.7 .7 0 1 0 1.4 0a.7 .7 0 1 0 -1.4 0M232.9 105.5a.7 .7 0 1 0 1.4 0a.7 .7 0 1 0 -1.4 0M233.3 205.4a.7 .7 0 1 0 1.4 0a.7 .7 0 1 0 -1.4 0M233.5 136.0a.7 .7 0 1 0 1.4 0a.7 .7 0 1 0 -1.4 0M231.5 207.1a.7 .7 0 1 0 1.4 0a.7 .7 0 1 0 -1.4 0M231.7 115.3a.7 .7 0 1 0 1.4 0a.7 .7 0 1 0 -1.4 0M232.7 167.4a.7 .7 0 1 0 1.4 0a.7 .7 0 1 0 -1.4 0M230.5 195.6a.7 .7 0 1 0 1.4 0a.7 .7 0 1 0 -1.4 0M233.8 210.9a.7 .7 0 1 0 1.4 0a.7 .7 0 1 0 -1.4 0M235.5 207.5a.7 .7 0 1 0 1.4 0a.7 .7 0 1 0 -1.4 0M234.2 200.8a.7 .7 0 1 0 1.4 0a.7 .7 0 1 0 -1.4 0M234.4 147.7a.7 .7 0 1 0 1.4 0a.7 .7 0 1 0 -1.4 0M232.4 106.4a.7 .7 0 1 0 1.4 0a.7 .7 0 1 0 -1.4 0M233.4 155.3a.7 .7 0 1 0 1.4 0a.7 .7 0 1 0 -1.4 0M233.9 181.4a.7 .7 0 1 0 1.4 0a.7 .7 0 1 0 -1.4 0M233.8 107.1a.7 .7 0 1 0 1.4 0a.7 .7 0 1 0 -1.4 0M234.7 197.8a.7 .7 0 1 0 1.4 0a.7 .7 0 1 0 -1.4 0M231.6 177.3a.7 .7 0 1 0 1.4 0a.7 .7 0 1 0 -1.4 0M232.0 100.0a.7 .7 0 1 0 1.4 0a.7 .7 0 1 0 -1.4 0M231.3 99.2a.7 .7 0 1 0 1.4 0a.7 .7 0 1 0 -1.4 0M233.8 97.1a.7 .7 0 1 0 1.4 0a.7 .7 0 1 0 -1.4 0M234.7 166.6a.7 .7 0 1 0 1.4 0a.7 .7 0 1 0 -1.4 0M234.5 200.5a.7 .7 0 1 0 1.4 0a.7 .7 0 1 0 -1.4 0M230.6 183.1a.7 .7 0 1 0 1.4 0a.7 .7 0 1 0 -1.4 0M231.5 207.4a.7 .7 0 1 0 1.4 0a.7 .7 0 1 0 -1.4 0M234.0 167.2a.7 .7 0 1 0 1.4 0a.7 .7 0 1 0 -1.4 0M234.2 214.8a.7 .7 0 1 0 1.4 0a.7 .7 0 1 0 -1.4 0M231.8 210.6a.7 .7 0 1 0 1.4 0a.7 .7 0 1 0 -1.4 0M231.2 210.1a.7 .7 0 1 0 1.4 0a.7 .7 0 1 0 -1.4 0M231.9 161.4a.7 .7 0 1 0 1.4 0a.7 .7 0 1 0 -1.4 0M230.7 174.2a.7 .7 0 1 0 1.4 0a.7 .7 0 1 0 -1.4 0M230.2 213.6a.7 .7 0 1 0 1.4 0a.7 .7 0 1 0 -1.4 0M231.3 214.9a.7 .7 0 1 0 1.4 0a.7 .7 0 1 0 -1.4 0M234.2 183.7a.7 .7 0 1 0 1.4 0a.7 .7 0 1 0 -1.4 0M231.7 213.6a.7 .7 0 1 0 1.4 0a.7 .7 0 1 0 -1.4 0M230.5 211.7a.7 .7 0 1 0 1.4 0a.7 .7 0 1 0 -1.4 0M235.2 205.6a.7 .7 0 1 0 1.4 0a.7 .7 0 1 0 -1.4 0M234.9 214.8a.7 .7 0 1 0 1.4 0a.7 .7 0 1 0 -1.4 0M257.3 87.9a.7 .7 0 1 0 1.4 0a.7 .7 0 1 0 -1.4 0M255.2 82.4a.7 .7 0 1 0 1.4 0a.7 .7 0 1 0 -1.4 0M256.0 100.0a.7 .7 0 1 0 1.4 0a.7 .7 0 1 0 -1.4 0M257.8 68.5a.7 .7 0 1 0 1.4 0a.7 .7 0 1 0 -1.4 0M255.9 105.8a.7 .7 0 1 0 1.4 0a.7 .7 0 1 0 -1.4 0M254.7 176.6a.7 .7 0 1 0 1.4 0a.7 .7 0 1 0 -1.4 0M258.0 189.3a.7 .7 0 1 0 1.4 0a.7 .7 0 1 0 -1.4 0M258.5 180.7a.7 .7 0 1 0 1.4 0a.7 .7 0 1 0 -1.4 0M256.7 162.8a.7 .7 0 1 0 1.4 0a.7 .7 0 1 0 -1.4 0M257.5 169.4a.7 .7 0 1 0 1.4 0a.7 .7 0 1 0 -1.4 0M257.9 179.9a.7 .7 0 1 0 1.4 0a.7 .7 0 1 0 -1.4 0M255.0 143.8a.7 .7 0 1 0 1.4 0a.7 .7 0 1 0 -1.4 0M256.8 159.1a.7 .7 0 1 0 1.4 0a.7 .7 0 1 0 -1.4 0M255.4 166.5a.7 .7 0 1 0 1.4 0a.7 .7 0 1 0 -1.4 0M259.0 172.4a.7 .7 0 1 0 1.4 0a.7 .7 0 1 0 -1.4 0M255.0 174.9a.7 .7 0 1 0 1.4 0a.7 .7 0 1 0 -1.4 0M255.6 184.3a.7 .7 0 1 0 1.4 0a.7 .7 0 1 0 -1.4 0M257.5 188.3a.7 .7 0 1 0 1.4 0a.7 .7 0 1 0 -1.4 0M255.7 176.0a.7 .7 0 1 0 1.4 0a.7 .7 0 1 0 -1.4 0M257.1 156.3a.7 .7 0 1 0 1.4 0a.7 .7 0 1 0 -1.4 0M259.4 214.1a.7 .7 0 1 0 1.4 0a.7 .7 0 1 0 -1.4 0"/>
</g>
<line x1="39" x2="39" y1="208.5" y2="215.5" stroke="#3c3c3c" stroke-width="0.5"/>
<line x1="36.4" x2="41.6" y1="208.5" y2="208.5" stroke="#3a3a3a" stroke-width="0.7"/>
<line x1="63.3" x2="63.3" y1="201.4" y2="215.5" stroke="#3c3c3c" stroke-width="0.5"/>
<line x1="60.7" x2="65.9" y1="201.4" y2="201.4" stroke="#3a3a3a" stroke-width="0.7"/>
<line x1="87.6" x2="87.6" y1="202.8" y2="215.5" stroke="#3c3c3c" stroke-width="0.5"/>
<line x1="85" x2="90.2" y1="202.8" y2="202.8" stroke="#3a3a3a" stroke-width="0.7"/>
<line x1="111.9" x2="111.9" y1="190.6" y2="215.5" stroke="#3c3c3c" stroke-width="0.5"/>
<line x1="109.3" x2="114.5" y1="190.6" y2="190.6" stroke="#3a3a3a" stroke-width="0.7"/>
<line x1="136.2" x2="136.2" y1="208.3" y2="215.5" stroke="#3c3c3c" stroke-width="0.5"/>
<line x1="133.6" x2="138.8" y1="208.3" y2="208.3" stroke="#3a3a3a" stroke-width="0.7"/>
<line x1="160.5" x2="160.5" y1="208.3" y2="215.5" stroke="#3c3c3c" stroke-width="0.5"/>
<line x1="157.9" x2="163.1" y1="208.3" y2="208.3" stroke="#3a3a3a" stroke-width="0.7"/>
<line x1="184.8" x2="184.8" y1="104" y2="210" stroke="#3c3c3c" stroke-width="0.5"/>
<line x1="182.2" x2="187.4" y1="104" y2="104" stroke="#3a3a3a" stroke-width="0.7"/>
<line x1="182.2" x2="187.4" y1="210" y2="210" stroke="#3a3a3a" stroke-width="0.7"/>
<line x1="209.1" x2="209.1" y1="121.9" y2="215.5" stroke="#3c3c3c" stroke-width="0.5"/>
<line x1="206.5" x2="211.7" y1="121.9" y2="121.9" stroke="#3a3a3a" stroke-width="0.7"/>
<line x1="233.4" x2="233.4" y1="103.4" y2="215.5" stroke="#3c3c3c" stroke-width="0.5"/>
<line x1="230.8" x2="236" y1="103.4" y2="103.4" stroke="#3a3a3a" stroke-width="0.7"/>
<line x1="257.7" x2="257.7" y1="41.7" y2="189.7" stroke="#3c3c3c" stroke-width="0.5"/>
<line x1="255.1" x2="260.3" y1="41.7" y2="41.7" stroke="#3a3a3a" stroke-width="0.7"/>
<line x1="255.1" x2="260.3" y1="189.7" y2="189.7" stroke="#3a3a3a" stroke-width="0.7"/>
<circle cx="39" cy="213.44" r="1.35" fill="#000"/>
<text transform="translate(40.3,212.34) scale(1,1.2)" font-family='"Liberation Sans", sans-serif' font-size="4.4" fill="#222">0.004</text>
<circle cx="63.3" cy="211.39" r="1.35" fill="#000"/>
<text transform="translate(64.6,210.29) scale(1,1.2)" font-family='"Liberation Sans", sans-serif' font-size="4.4" fill="#222">0.008</text>
<circle cx="87.6" cy="210.87" r="1.35" fill="#000"/>
<text transform="translate(88.9,209.77) scale(1,1.2)" font-family='"Liberation Sans", sans-serif' font-size="4.4" fill="#222">0.009</text>
<circle cx="111.9" cy="207.28" r="1.35" fill="#000"/>
<text transform="translate(113.2,206.18) scale(1,1.2)" font-family='"Liberation Sans", sans-serif' font-size="4.4" fill="#222">0.016</text>
<circle cx="136.2" cy="213.44" r="1.35" fill="#000"/>
<text transform="translate(137.5,212.34) scale(1,1.2)" font-family='"Liberation Sans", sans-serif' font-size="4.4" fill="#222">0.004</text>
<circle cx="160.5" cy="213.44" r="1.35" fill="#000"/>
<text transform="translate(161.8,212.34) scale(1,1.2)" font-family='"Liberation Sans", sans-serif' font-size="4.4" fill="#222">0.004</text>
<circle cx="184.8" cy="181.06" r="1.35" fill="#000"/>
<text transform="translate(186.1,179.96) scale(1,1.2)" font-family='"Liberation Sans", sans-serif' font-size="4.4" fill="#222">0.067</text>
<circle cx="209.1" cy="188.26" r="1.35" fill="#000"/>
<text transform="translate(210.4,187.16) scale(1,1.2)" font-family='"Liberation Sans", sans-serif' font-size="4.4" fill="#222">0.053</text>
<circle cx="233.4" cy="161.02" r="1.35" fill="#000"/>
<text transform="translate(234.7,159.92) scale(1,1.2)" font-family='"Liberation Sans", sans-serif' font-size="4.4" fill="#222">0.106</text>
<circle cx="257.7" cy="134.29" r="1.35" fill="#000"/>
<text transform="translate(259,133.19) scale(1,1.2)" font-family='"Liberation Sans", sans-serif' font-size="4.4" fill="#222">0.158</text>
<g stroke="#555" stroke-width="0.75" fill="none">
<path d="M39 54.7V53.1H233.4V54.7"/>
<path d="M39 65.1V63.5H209.1V65.1"/>
<path d="M39 75.4V73.8H184.8V75.4"/>
<path d="M39 85.6V84H160.5V85.6"/>
<path d="M184.8 85.6V84H233.4V85.6"/>
<path d="M39 96.1V94.5H136.2V96.1"/>
<path d="M160.5 97.9V96.3H209.1V97.9"/>
<path d="M39 106.3V104.7H111.9V106.3"/>
<path d="M136.2 106.1V104.5H160.5V106.1"/>
<path d="M39 116.1V114.5H87.6V116.1"/>
<path d="M39 127V125.4H63.3V127"/>
</g>
<g font-family='"Liberation Sans", sans-serif' fill="#2a2a2a" text-rendering="geometricPrecision">
<text transform="translate(137.8,51.1) scale(1,1.26)" text-anchor="middle" font-size="4.4">p <tspan dx="-0.8">&lt;</tspan> <tspan dx="0.9">2.22</tspan><tspan dx="0.9">×</tspan><tspan dx="0.3">10</tspan><tspan font-size="2.73" dx="0.6" dy="-1.6">-16</tspan></text>
<text transform="translate(125.65,61.5) scale(1,1.26)" text-anchor="middle" font-size="4.4">p <tspan dx="-0.8">&lt;</tspan> <tspan dx="0.9">2.22</tspan><tspan dx="0.9">×</tspan><tspan dx="0.3">10</tspan><tspan font-size="2.73" dx="0.6" dy="-1.6">-16</tspan></text>
<text transform="translate(113.5,71.8) scale(1,1.26)" text-anchor="middle" font-size="4.4">p <tspan dx="-0.8">&lt;</tspan> <tspan dx="0.9">2.22</tspan><tspan dx="0.9">×</tspan><tspan dx="0.3">10</tspan><tspan font-size="2.73" dx="0.6" dy="-1.6">-16</tspan></text>
<text transform="translate(99.75,82) scale(1,1.2)" text-anchor="middle" font-size="4.4">0.29</text>
<text transform="translate(210.1,82) scale(1,1.2)" text-anchor="middle" font-size="4.4">5.1×10<tspan font-size="3.08" dx="0.3" dy="-1.6">−4</tspan></text>
<text transform="translate(87.6,92.5) scale(1,1.2)" text-anchor="middle" font-size="4.4">0.27</text>
<text transform="translate(186.4,94.3) scale(1,1.26)" text-anchor="middle" font-size="4.4">p <tspan dx="-0.8">&lt;</tspan> <tspan dx="0.9">2.22</tspan><tspan dx="0.9">×</tspan><tspan dx="0.3">10</tspan><tspan font-size="2.73" dx="0.6" dy="-1.6">-16</tspan></text>
<text transform="translate(77.05,102.7) scale(1,1.26)" text-anchor="middle" font-size="4.4">p <tspan dx="-0.8">&lt;</tspan> <tspan dx="0.9">2.22</tspan><tspan dx="0.9">×</tspan><tspan dx="0.3">10</tspan><tspan font-size="2.73" dx="0.6" dy="-1.6">-16</tspan></text>
<text transform="translate(148.35,102.5) scale(1,1.2)" text-anchor="middle" font-size="4.4">0.97</text>
<text transform="translate(64.9,112.5) scale(1,1.26)" text-anchor="middle" font-size="4.4">p <tspan dx="-0.8">&lt;</tspan> <tspan dx="0.9">2.22</tspan><tspan dx="0.9">×</tspan><tspan dx="0.3">10</tspan><tspan font-size="2.73" dx="0.6" dy="-1.6">-16</tspan></text>
<text transform="translate(52.75,123.4) scale(1,1.26)" text-anchor="middle" font-size="4.4">p <tspan dx="-0.8">&lt;</tspan> <tspan dx="0.9">2.22</tspan><tspan dx="0.9">×</tspan><tspan dx="0.3">10</tspan><tspan font-size="2.73" dx="0.6" dy="-1.6">-16</tspan></text>
</g>
<text x="38.5" y="45" font-family='"Liberation Sans", sans-serif' font-size="7" fill="#000">Kruskal-Wallis, p <tspan dx="-0.8">&lt;</tspan> <tspan dx="-1.4">2.2</tspan><tspan font-size="6.5" dx="0.3" dy="-0.2">×</tspan><tspan dx="-0.4" dy="0.2">10</tspan><tspan font-size="5.2" dx="0.4" dy="-3.0">-16</tspan></text>
<path d="M24.4 32.7H272.3V224.4" fill="none" stroke="#8c8c8c" stroke-width="1.0"/>
<path d="M24.4 224.4H272.3" fill="none" stroke="#8c8c8c" stroke-width="0.95"/>
<path d="M24.4 32.7V224.4" fill="none" stroke="#737373" stroke-width="0.95"/>
<line x1="24.4" x2="26.7" y1="215.5" y2="215.5" stroke="#444" stroke-width="0.8"/>
<text x="22" y="217.3" text-anchor="end" font-family='"Liberation Serif", serif' font-size="5.2" fill="#666">0.0</text>
<line x1="24.4" x2="26.7" y1="164.1" y2="164.1" stroke="#444" stroke-width="0.8"/>
<text x="22" y="165.9" text-anchor="end" font-family='"Liberation Serif", serif' font-size="5.2" fill="#666">0.1</text>
<line x1="24.4" x2="26.7" y1="112.7" y2="112.7" stroke="#444" stroke-width="0.8"/>
<text x="22" y="114.5" text-anchor="end" font-family='"Liberation Serif", serif' font-size="5.2" fill="#666">0.2</text>
<line x1="24.4" x2="26.7" y1="61.3" y2="61.3" stroke="#444" stroke-width="0.8"/>
<text x="22" y="63.1" text-anchor="end" font-family='"Liberation Serif", serif' font-size="5.2" fill="#666">0.3</text>
<text transform="translate(41.3,230.3) rotate(-39) scale(1,1.15)" text-anchor="end" font-family='"Liberation Serif", serif' font-size="5.3" fill="#3a3a3a">DSO</text>
<text transform="translate(65.6,230.3) rotate(-39) scale(1,1.15)" text-anchor="end" font-family='"Liberation Serif", serif' font-size="5.3" fill="#3a3a3a">LDSO</text>
<text transform="translate(89.9,230.3) rotate(-39) scale(1,1.15)" text-anchor="end" font-family='"Liberation Serif", serif' font-size="5.3" fill="#3a3a3a">CNN-DSO</text>
<text transform="translate(114.2,230.3) rotate(-39) scale(1,1.15)" text-anchor="end" font-family='"Liberation Serif", serif' font-size="5.3" fill="#3a3a3a">DSM</text>
<text transform="translate(138.5,230.3) rotate(-39) scale(1,1.15)" text-anchor="end" font-family='"Liberation Serif", serif' font-size="5.3" fill="#3a3a3a">DynaSLAM</text>
<text transform="translate(162.8,230.3) rotate(-39) scale(1,1.15)" text-anchor="end" font-family='"Liberation Serif", serif' font-size="5.3" fill="#3a3a3a">ORB-SLAM2</text>
<text transform="translate(187.1,230.3) rotate(-39) scale(1,1.15)" text-anchor="end" font-family='"Liberation Serif", serif' font-size="5.3" fill="#3a3a3a">CNN-SVO</text>
<text transform="translate(211.4,230.3) rotate(-39) scale(1,1.15)" text-anchor="end" font-family='"Liberation Serif", serif' font-size="5.3" fill="#3a3a3a">DF-ORB-SLAM</text>
<text transform="translate(235.7,230.3) rotate(-39) scale(1,1.15)" text-anchor="end" font-family='"Liberation Serif", serif' font-size="5.3" fill="#3a3a3a">SVO</text>
<text transform="translate(260,230.3) rotate(-39) scale(1,1.15)" text-anchor="end" font-family='"Liberation Serif", serif' font-size="5.3" fill="#3a3a3a">LSD-SLAM</text>
<text transform="translate(9.1,129) rotate(-90)" text-anchor="middle" font-family='"Liberation Serif", serif' font-size="6.75" fill="#111">Start-segment alignment error</text>
<text x="148.4" y="263.6" text-anchor="middle" font-family='"Liberation Serif", serif' font-size="6.75" fill="#000">Method</text>
<text x="138.7" y="288" text-anchor="middle" font-family='"Liberation Serif", serif' font-weight="bold" font-size="10" fill="#111">(a)</text>
</g>
<g>
<rect x="298.5" y="5.7" width="226.9" height="20.4" rx="0.6" fill="#fff" stroke="#262626" stroke-width="0.9"/>
<text transform="translate(301.7,18.2) scale(1,1.05)" font-family='"Liberation Serif", serif' font-size="7.0" fill="#111">Method</text>
<rect x="325.5" y="9.3" width="6.7" height="6.5" fill="#b0c4f0" stroke="#404a60" stroke-width="0.7"/>
<circle cx="328.85" cy="12.55" r="1.35" fill="#000"/>
<text transform="translate(335.7,14.3) scale(1,1.08)" font-family='"Liberation Serif", serif' font-size="5.5" fill="#3a3a3a">DSO</text>
<rect x="325.5" y="15.85" width="6.7" height="6.5" fill="#f2aab2" stroke="#604448" stroke-width="0.7"/>
<circle cx="328.85" cy="19.1" r="1.35" fill="#000"/>
<text transform="translate(335.7,20.85) scale(1,1.08)" font-family='"Liberation Serif", serif' font-size="5.5" fill="#3a3a3a">LDSO</text>
<rect x="353.8" y="9.3" width="6.7" height="6.5" fill="#f8d898" stroke="#605438" stroke-width="0.7"/>
<circle cx="357.15" cy="12.55" r="1.35" fill="#000"/>
<text transform="translate(364,14.3) scale(1,1.08)" font-family='"Liberation Serif", serif' font-size="5.5" fill="#3a3a3a">CNN-DSO</text>
<rect x="353.8" y="15.85" width="6.7" height="6.5" fill="#dec29e" stroke="#5a4a3a" stroke-width="0.7"/>
<circle cx="357.15" cy="19.1" r="1.35" fill="#000"/>
<text transform="translate(364,20.85) scale(1,1.08)" font-family='"Liberation Serif", serif' font-size="5.5" fill="#3a3a3a">DSM</text>
<rect x="391.5" y="9.3" width="6.7" height="6.5" fill="#d8d8d8" stroke="#444444" stroke-width="0.7"/>
<circle cx="394.85" cy="12.55" r="1.35" fill="#000"/>
<text transform="translate(401.7,14.3) scale(1,1.08)" font-family='"Liberation Serif", serif' font-size="5.5" fill="#3a3a3a">DynaSLAM</text>
<rect x="391.5" y="15.85" width="6.7" height="6.5" fill="#f8c0c0" stroke="#604040" stroke-width="0.7"/>
<circle cx="394.85" cy="19.1" r="1.35" fill="#000"/>
<text transform="translate(401.7,20.85) scale(1,1.08)" font-family='"Liberation Serif", serif' font-size="5.5" fill="#3a3a3a">ORB-SLAM2</text>
<rect x="435.2" y="9.3" width="6.7" height="6.5" fill="#bce4c8" stroke="#3e5a48" stroke-width="0.7"/>
<circle cx="438.55" cy="12.55" r="1.35" fill="#000"/>
<text transform="translate(445.4,14.3) scale(1,1.08)" font-family='"Liberation Serif", serif' font-size="5.5" fill="#3a3a3a">CNN-SVO</text>
<rect x="435.2" y="15.85" width="6.7" height="6.5" fill="#f4c8e8" stroke="#5a4456" stroke-width="0.7"/>
<circle cx="438.55" cy="19.1" r="1.35" fill="#000"/>
<text transform="translate(445.4,20.85) scale(1,1.08)" font-family='"Liberation Serif", serif' font-size="5.5" fill="#3a3a3a">DF-ORB-SLAM</text>
<rect x="485.3" y="9.3" width="6.7" height="6.5" fill="#ccf0b8" stroke="#4a6040" stroke-width="0.7"/>
<circle cx="488.65" cy="12.55" r="1.35" fill="#000"/>
<text transform="translate(495.5,14.3) scale(1,1.08)" font-family='"Liberation Serif", serif' font-size="5.5" fill="#3a3a3a">SVO</text>
<rect x="485.3" y="15.85" width="6.7" height="6.5" fill="#c0f0f8" stroke="#3e5a60" stroke-width="0.7"/>
<circle cx="488.65" cy="19.1" r="1.35" fill="#000"/>
<text transform="translate(495.5,20.85) scale(1,1.08)" font-family='"Liberation Serif", serif' font-size="5.5" fill="#3a3a3a">LSD-SLAM</text>
<rect x="298.4" y="32.7" width="247.9" height="191.7" fill="#fff"/>
<line x1="298.4" x2="546.3" y1="215.9" y2="215.9" stroke="#ebebeb" stroke-width="0.6"/>
<line x1="298.4" x2="546.3" y1="170.1" y2="170.1" stroke="#ebebeb" stroke-width="0.6"/>
<line x1="298.4" x2="546.3" y1="124.3" y2="124.3" stroke="#ebebeb" stroke-width="0.6"/>
<line x1="298.4" x2="546.3" y1="78.5" y2="78.5" stroke="#ebebeb" stroke-width="0.6"/>
<line x1="298.4" x2="546.3" y1="193" y2="193" stroke="#f3f3f3" stroke-width="0.5"/>
<line x1="298.4" x2="546.3" y1="147.2" y2="147.2" stroke="#f3f3f3" stroke-width="0.5"/>
<line x1="298.4" x2="546.3" y1="101.4" y2="101.4" stroke="#f3f3f3" stroke-width="0.5"/>
<line x1="298.4" x2="546.3" y1="55.6" y2="55.6" stroke="#f3f3f3" stroke-width="0.5"/>
<line x1="313" x2="313" y1="32.7" y2="224.4" stroke="#ececec" stroke-width="0.6"/>
<line x1="337.3" x2="337.3" y1="32.7" y2="224.4" stroke="#ececec" stroke-width="0.6"/>
<line x1="361.6" x2="361.6" y1="32.7" y2="224.4" stroke="#ececec" stroke-width="0.6"/>
<line x1="385.9" x2="385.9" y1="32.7" y2="224.4" stroke="#ececec" stroke-width="0.6"/>
<line x1="410.2" x2="410.2" y1="32.7" y2="224.4" stroke="#ececec" stroke-width="0.6"/>
<line x1="434.5" x2="434.5" y1="32.7" y2="224.4" stroke="#ececec" stroke-width="0.6"/>
<line x1="458.8" x2="458.8" y1="32.7" y2="224.4" stroke="#ececec" stroke-width="0.6"/>
<line x1="483.1" x2="483.1" y1="32.7" y2="224.4" stroke="#ececec" stroke-width="0.6"/>
<line x1="507.4" x2="507.4" y1="32.7" y2="224.4" stroke="#ececec" stroke-width="0.6"/>
<line x1="531.7" x2="531.7" y1="32.7" y2="224.4" stroke="#ececec" stroke-width="0.6"/>
<rect x="304.45" y="214.07" width="17.1" height="1.83" fill="#a8bae4" stroke="#3a4a70" stroke-width="0.8"/>
<rect x="328.75" y="212.24" width="17.1" height="3.66" fill="#f2a6ae" stroke="#5a3438" stroke-width="0.8"/>
<rect x="353.05" y="213.15" width="17.1" height="2.75" fill="#f8d898" stroke="#6a5430" stroke-width="0.8"/>
<rect x="377.35" y="208.57" width="17.1" height="7.33" fill="#ecccac" stroke="#4a3a2a" stroke-width="0.8"/>
<rect x="401.65" y="213.15" width="17.1" height="2.75" fill="#d4d4d4" stroke="#444444" stroke-width="0.8"/>
<rect x="425.95" y="213.61" width="17.1" height="2.29" fill="#f4a0a0" stroke="#6a3434" stroke-width="0.8"/>
<rect x="450.25" y="187.5" width="17.1" height="28.4" fill="#aadcb9" stroke="#4a6e56" stroke-width="0.8"/>
<rect x="474.55" y="177.43" width="17.1" height="38.47" fill="#f2c6e6" stroke="#6e4e66" stroke-width="0.8"/>
<rect x="498.85" y="161.86" width="17.1" height="54.04" fill="#bee6aa" stroke="#56784a" stroke-width="0.8"/>
<rect x="523.15" y="128.88" width="17.1" height="87.02" fill="#c2eff5" stroke="#4e7278" stroke-width="0.8"/>
<g fill="#c4c4c4" fill-opacity="0.1" stroke="#777" stroke-opacity="0.3" stroke-width="0.4">
<path d="M310.7 210.1a.7 .7 0 1 0 1.4 0a.7 .7 0 1 0 -1.4 0M311.6 212.0a.7 .7 0 1 0 1.4 0a.7 .7 0 1 0 -1.4 0M311.1 213.6a.7 .7 0 1 0 1.4 0a.7 .7 0 1 0 -1.4 0M314.1 214.7a.7 .7 0 1 0 1.4 0a.7 .7 0 1 0 -1.4 0M313.2 215.0a.7 .7 0 1 0 1.4 0a.7 .7 0 1 0 -1.4 0M311.1 214.8a.7 .7 0 1 0 1.4 0a.7 .7 0 1 0 -1.4 0M312.8 210.9a.7 .7 0 1 0 1.4 0a.7 .7 0 1 0 -1.4 0M312.9 210.7a.7 .7 0 1 0 1.4 0a.7 .7 0 1 0 -1.4 0M335.3 211.0a.7 .7 0 1 0 1.4 0a.7 .7 0 1 0 -1.4 0M337.7 213.3a.7 .7 0 1 0 1.4 0a.7 .7 0 1 0 -1.4 0M335.1 213.2a.7 .7 0 1 0 1.4 0a.7 .7 0 1 0 -1.4 0M334.6 211.3a.7 .7 0 1 0 1.4 0a.7 .7 0 1 0 -1.4 0M335.8 211.5a.7 .7 0 1 0 1.4 0a.7 .7 0 1 0 -1.4 0M338.3 210.0a.7 .7 0 1 0 1.4 0a.7 .7 0 1 0 -1.4 0M360.5 206.7a.7 .7 0 1 0 1.4 0a.7 .7 0 1 0 -1.4 0M362.7 212.9a.7 .7 0 1 0 1.4 0a.7 .7 0 1 0 -1.4 0M360.0 207.9a.7 .7 0 1 0 1.4 0a.7 .7 0 1 0 -1.4 0M361.8 211.8a.7 .7 0 1 0 1.4 0a.7 .7 0 1 0 -1.4 0M361.1 209.1a.7 .7 0 1 0 1.4 0a.7 .7 0 1 0 -1.4 0M362.7 214.5a.7 .7 0 1 0 1.4 0a.7 .7 0 1 0 -1.4 0M360.1 209.0a.7 .7 0 1 0 1.4 0a.7 .7 0 1 0 -1.4 0M361.9 208.3a.7 .7 0 1 0 1.4 0a.7 .7 0 1 0 -1.4 0M361.3 201.6a.7 .7 0 1 0 1.4 0a.7 .7 0 1 0 -1.4 0M362.2 201.6a.7 .7 0 1 0 1.4 0a.7 .7 0 1 0 -1.4 0M384.8 211.0a.7 .7 0 1 0 1.4 0a.7 .7 0 1 0 -1.4 0M383.1 213.9a.7 .7 0 1 0 1.4 0a.7 .7 0 1 0 -1.4 0M383.4 187.8a.7 .7 0 1 0 1.4 0a.7 .7 0 1 0 -1.4 0M383.8 196.4a.7 .7 0 1 0 1.4 0a.7 .7 0 1 0 -1.4 0M384.8 194.0a.7 .7 0 1 0 1.4 0a.7 .7 0 1 0 -1.4 0M383.3 203.9a.7 .7 0 1 0 1.4 0a.7 .7 0 1 0 -1.4 0M384.8 199.7a.7 .7 0 1 0 1.4 0a.7 .7 0 1 0 -1.4 0M384.8 212.8a.7 .7 0 1 0 1.4 0a.7 .7 0 1 0 -1.4 0M409.4 213.7a.7 .7 0 1 0 1.4 0a.7 .7 0 1 0 -1.4 0M408.6 215.2a.7 .7 0 1 0 1.4 0a.7 .7 0 1 0 -1.4 0M410.0 208.7a.7 .7 0 1 0 1.4 0a.7 .7 0 1 0 -1.4 0M408.4 210.1a.7 .7 0 1 0 1.4 0a.7 .7 0 1 0 -1.4 0M408.1 209.2a.7 .7 0 1 0 1.4 0a.7 .7 0 1 0 -1.4 0M409.4 208.2a.7 .7 0 1 0 1.4 0a.7 .7 0 1 0 -1.4 0M409.5 214.7a.7 .7 0 1 0 1.4 0a.7 .7 0 1 0 -1.4 0M408.1 210.1a.7 .7 0 1 0 1.4 0a.7 .7 0 1 0 -1.4 0M434.2 212.3a.7 .7 0 1 0 1.4 0a.7 .7 0 1 0 -1.4 0M435.6 213.2a.7 .7 0 1 0 1.4 0a.7 .7 0 1 0 -1.4 0M434.5 208.4a.7 .7 0 1 0 1.4 0a.7 .7 0 1 0 -1.4 0M434.1 206.2a.7 .7 0 1 0 1.4 0a.7 .7 0 1 0 -1.4 0M433.5 209.0a.7 .7 0 1 0 1.4 0a.7 .7 0 1 0 -1.4 0M434.2 212.6a.7 .7 0 1 0 1.4 0a.7 .7 0 1 0 -1.4 0M433.3 206.6a.7 .7 0 1 0 1.4 0a.7 .7 0 1 0 -1.4 0M456.1 185.0a.7 .7 0 1 0 1.4 0a.7 .7 0 1 0 -1.4 0M457.7 169.9a.7 .7 0 1 0 1.4 0a.7 .7 0 1 0 -1.4 0M455.4 200.4a.7 .7 0 1 0 1.4 0a.7 .7 0 1 0 -1.4 0M458.3 145.4a.7 .7 0 1 0 1.4 0a.7 .7 0 1 0 -1.4 0M456.3 164.6a.7 .7 0 1 0 1.4 0a.7 .7 0 1 0 -1.4 0M457.0 210.7a.7 .7 0 1 0 1.4 0a.7 .7 0 1 0 -1.4 0M457.7 133.8a.7 .7 0 1 0 1.4 0a.7 .7 0 1 0 -1.4 0M460.0 184.0a.7 .7 0 1 0 1.4 0a.7 .7 0 1 0 -1.4 0M459.8 191.6a.7 .7 0 1 0 1.4 0a.7 .7 0 1 0 -1.4 0M457.9 197.2a.7 .7 0 1 0 1.4 0a.7 .7 0 1 0 -1.4 0M459.3 168.2a.7 .7 0 1 0 1.4 0a.7 .7 0 1 0 -1.4 0M455.9 160.5a.7 .7 0 1 0 1.4 0a.7 .7 0 1 0 -1.4 0M458.8 198.1a.7 .7 0 1 0 1.4 0a.7 .7 0 1 0 -1.4 0M458.1 206.7a.7 .7 0 1 0 1.4 0a.7 .7 0 1 0 -1.4 0M459.8 189.0a.7 .7 0 1 0 1.4 0a.7 .7 0 1 0 -1.4 0M457.8 142.0a.7 .7 0 1 0 1.4 0a.7 .7 0 1 0 -1.4 0M459.0 208.9a.7 .7 0 1 0 1.4 0a.7 .7 0 1 0 -1.4 0M458.3 202.6a.7 .7 0 1 0 1.4 0a.7 .7 0 1 0 -1.4 0M459.2 164.9a.7 .7 0 1 0 1.4 0a.7 .7 0 1 0 -1.4 0M460.2 161.2a.7 .7 0 1 0 1.4 0a.7 .7 0 1 0 -1.4 0M457.9 169.1a.7 .7 0 1 0 1.4 0a.7 .7 0 1 0 -1.4 0M456.5 131.4a.7 .7 0 1 0 1.4 0a.7 .7 0 1 0 -1.4 0M456.4 178.9a.7 .7 0 1 0 1.4 0a.7 .7 0 1 0 -1.4 0M458.4 150.6a.7 .7 0 1 0 1.4 0a.7 .7 0 1 0 -1.4 0M457.1 137.0a.7 .7 0 1 0 1.4 0a.7 .7 0 1 0 -1.4 0M459.6 168.5a.7 .7 0 1 0 1.4 0a.7 .7 0 1 0 -1.4 0M456.7 132.3a.7 .7 0 1 0 1.4 0a.7 .7 0 1 0 -1.4 0M457.6 128.9a.7 .7 0 1 0 1.4 0a.7 .7 0 1 0 -1.4 0M459.8 144.4a.7 .7 0 1 0 1.4 0a.7 .7 0 1 0 -1.4 0M458.4 159.5a.7 .7 0 1 0 1.4 0a.7 .7 0 1 0 -1.4 0M457.6 194.0a.7 .7 0 1 0 1.4 0a.7 .7 0 1 0 -1.4 0M459.2 195.0a.7 .7 0 1 0 1.4 0a.7 .7 0 1 0 -1.4 0M458.8 148.3a.7 .7 0 1 0 1.4 0a.7 .7 0 1 0 -1.4 0M456.6 151.7a.7 .7 0 1 0 1.4 0a.7 .7 0 1 0 -1.4 0M459.5 195.2a.7 .7 0 1 0 1.4 0a.7 .7 0 1 0 -1.4 0M455.5 192.4a.7 .7 0 1 0 1.4 0a.7 .7 0 1 0 -1.4 0M456.3 205.2a.7 .7 0 1 0 1.4 0a.7 .7 0 1 0 -1.4 0M457.2 209.1a.7 .7 0 1 0 1.4 0a.7 .7 0 1 0 -1.4 0M458.1 185.1a.7 .7 0 1 0 1.4 0a.7 .7 0 1 0 -1.4 0M459.3 211.3a.7 .7 0 1 0 1.4 0a.7 .7 0 1 0 -1.4 0M458.1 196.7a.7 .7 0 1 0 1.4 0a.7 .7 0 1 0 -1.4 0M458.7 206.3a.7 .7 0 1 0 1.4 0a.7 .7 0 1 0 -1.4 0M456.1 213.4a.7 .7 0 1 0 1.4 0a.7 .7 0 1 0 -1.4 0M459.8 204.1a.7 .7 0 1 0 1.4 0a.7 .7 0 1 0 -1.4 0M459.2 204.2a.7 .7 0 1 0 1.4 0a.7 .7 0 1 0 -1.4 0M457.5 215.1a.7 .7 0 1 0 1.4 0a.7 .7 0 1 0 -1.4 0M457.3 195.0a.7 .7 0 1 0 1.4 0a.7 .7 0 1 0 -1.4 0M458.7 214.6a.7 .7 0 1 0 1.4 0a.7 .7 0 1 0 -1.4 0M458.1 195.3a.7 .7 0 1 0 1.4 0a.7 .7 0 1 0 -1.4 0M459.3 192.7a.7 .7 0 1 0 1.4 0a.7 .7 0 1 0 -1.4 0M458.1 188.4a.7 .7 0 1 0 1.4 0a.7 .7 0 1 0 -1.4 0M483.7 215.3a.7 .7 0 1 0 1.4 0a.7 .7 0 1 0 -1.4 0M481.3 206.1a.7 .7 0 1 0 1.4 0a.7 .7 0 1 0 -1.4 0M481.8 197.4a.7 .7 0 1 0 1.4 0a.7 .7 0 1 0 -1.4 0M481.5 149.3a.7 .7 0 1 0 1.4 0a.7 .7 0 1 0 -1.4 0M483.0 112.5a.7 .7 0 1 0 1.4 0a.7 .7 0 1 0 -1.4 0M482.0 142.5a.7 .7 0 1 0 1.4 0a.7 .7 0 1 0 -1.4 0M480.5 190.6a.7 .7 0 1 0 1.4 0a.7 .7 0 1 0 -1.4 0M482.4 132.0a.7 .7 0 1 0 1.4 0a.7 .7 0 1 0 -1.4 0M480.6 169.6a.7 .7 0 1 0 1.4 0a.7 .7 0 1 0 -1.4 0M481.9 175.3a.7 .7 0 1 0 1.4 0a.7 .7 0 1 0 -1.4 0M482.3 210.4a.7 .7 0 1 0 1.4 0a.7 .7 0 1 0 -1.4 0M479.8 214.4a.7 .7 0 1 0 1.4 0a.7 .7 0 1 0 -1.4 0M485.0 190.4a.7 .7 0 1 0 1.4 0a.7 .7 0 1 0 -1.4 0M480.8 209.6a.7 .7 0 1 0 1.4 0a.7 .7 0 1 0 -1.4 0M482.1 122.2a.7 .7 0 1 0 1.4 0a.7 .7 0 1 0 -1.4 0M481.8 187.2a.7 .7 0 1 0 1.4 0a.7 .7 0 1 0 -1.4 0M480.5 191.6a.7 .7 0 1 0 1.4 0a.7 .7 0 1 0 -1.4 0M482.0 173.1a.7 .7 0 1 0 1.4 0a.7 .7 0 1 0 -1.4 0M480.8 167.2a.7 .7 0 1 0 1.4 0a.7 .7 0 1 0 -1.4 0M482.7 124.4a.7 .7 0 1 0 1.4 0a.7 .7 0 1 0 -1.4 0M480.4 159.4a.7 .7 0 1 0 1.4 0a.7 .7 0 1 0 -1.4 0M484.4 208.8a.7 .7 0 1 0 1.4 0a.7 .7 0 1 0 -1.4 0M479.9 214.8a.7 .7 0 1 0 1.4 0a.7 .7 0 1 0 -1.4 0M481.5 122.2a.7 .7 0 1 0 1.4 0a.7 .7 0 1 0 -1.4 0M484.4 191.2a.7 .7 0 1 0 1.4 0a.7 .7 0 1 0 -1.4 0M484.1 124.8a.7 .7 0 1 0 1.4 0a.7 .7 0 1 0 -1.4 0M484.7 185.2a.7 .7 0 1 0 1.4 0a.7 .7 0 1 0 -1.4 0M480.8 200.0a.7 .7 0 1 0 1.4 0a.7 .7 0 1 0 -1.4 0M483.6 215.4a.7 .7 0 1 0 1.4 0a.7 .7 0 1 0 -1.4 0M480.4 130.8a.7 .7 0 1 0 1.4 0a.7 .7 0 1 0 -1.4 0M482.3 158.1a.7 .7 0 1 0 1.4 0a.7 .7 0 1 0 -1.4 0M480.9 161.3a.7 .7 0 1 0 1.4 0a.7 .7 0 1 0 -1.4 0M481.1 117.9a.7 .7 0 1 0 1.4 0a.7 .7 0 1 0 -1.4 0M480.7 174.9a.7 .7 0 1 0 1.4 0a.7 .7 0 1 0 -1.4 0M482.8 144.5a.7 .7 0 1 0 1.4 0a.7 .7 0 1 0 -1.4 0M482.7 170.7a.7 .7 0 1 0 1.4 0a.7 .7 0 1 0 -1.4 0M484.1 112.5a.7 .7 0 1 0 1.4 0a.7 .7 0 1 0 -1.4 0M480.6 112.8a.7 .7 0 1 0 1.4 0a.7 .7 0 1 0 -1.4 0M480.8 109.8a.7 .7 0 1 0 1.4 0a.7 .7 0 1 0 -1.4 0M484.5 191.3a.7 .7 0 1 0 1.4 0a.7 .7 0 1 0 -1.4 0M483.2 153.2a.7 .7 0 1 0 1.4 0a.7 .7 0 1 0 -1.4 0M480.0 202.0a.7 .7 0 1 0 1.4 0a.7 .7 0 1 0 -1.4 0M484.8 161.1a.7 .7 0 1 0 1.4 0a.7 .7 0 1 0 -1.4 0M484.5 212.1a.7 .7 0 1 0 1.4 0a.7 .7 0 1 0 -1.4 0M482.7 208.8a.7 .7 0 1 0 1.4 0a.7 .7 0 1 0 -1.4 0M481.9 213.7a.7 .7 0 1 0 1.4 0a.7 .7 0 1 0 -1.4 0M483.7 198.4a.7 .7 0 1 0 1.4 0a.7 .7 0 1 0 -1.4 0M481.8 214.5a.7 .7 0 1 0 1.4 0a.7 .7 0 1 0 -1.4 0M483.9 204.9a.7 .7 0 1 0 1.4 0a.7 .7 0 1 0 -1.4 0M480.7 182.4a.7 .7 0 1 0 1.4 0a.7 .7 0 1 0 -1.4 0M481.4 182.8a.7 .7 0 1 0 1.4 0a.7 .7 0 1 0 -1.4 0M480.4 203.7a.7 .7 0 1 0 1.4 0a.7 .7 0 1 0 -1.4 0M483.4 195.9a.7 .7 0 1 0 1.4 0a.7 .7 0 1 0 -1.4 0M480.2 191.7a.7 .7 0 1 0 1.4 0a.7 .7 0 1 0 -1.4 0M483.4 193.8a.7 .7 0 1 0 1.4 0a.7 .7 0 1 0 -1.4 0M482.9 200.3a.7 .7 0 1 0 1.4 0a.7 .7 0 1 0 -1.4 0M480.5 188.8a.7 .7 0 1 0 1.4 0a.7 .7 0 1 0 -1.4 0M483.1 195.6a.7 .7 0 1 0 1.4 0a.7 .7 0 1 0 -1.4 0M480.0 200.6a.7 .7 0 1 0 1.4 0a.7 .7 0 1 0 -1.4 0M482.4 213.0a.7 .7 0 1 0 1.4 0a.7 .7 0 1 0 -1.4 0M483.1 181.8a.7 .7 0 1 0 1.4 0a.7 .7 0 1 0 -1.4 0M483.8 213.7a.7 .7 0 1 0 1.4 0a.7 .7 0 1 0 -1.4 0M480.5 208.6a.7 .7 0 1 0 1.4 0a.7 .7 0 1 0 -1.4 0M508.0 204.2a.7 .7 0 1 0 1.4 0a.7 .7 0 1 0 -1.4 0M506.1 113.5a.7 .7 0 1 0 1.4 0a.7 .7 0 1 0 -1.4 0M506.4 186.3a.7 .7 0 1 0 1.4 0a.7 .7 0 1 0 -1.4 0M504.3 185.5a.7 .7 0 1 0 1.4 0a.7 .7 0 1 0 -1.4 0M506.6 164.8a.7 .7 0 1 0 1.4 0a.7 .7 0 1 0 -1.4 0M504.8 174.4a.7 .7 0 1 0 1.4 0a.7 .7 0 1 0 -1.4 0M505.7 209.6a.7 .7 0 1 0 1.4 0a.7 .7 0 1 0 -1.4 0M505.0 103.5a.7 .7 0 1 0 1.4 0a.7 .7 0 1 0 -1.4 0M506.1 207.5a.7 .7 0 1 0 1.4 0a.7 .7 0 1 0 -1.4 0M504.6 154.3a.7 .7 0 1 0 1.4 0a.7 .7 0 1 0 -1.4 0M508.7 151.3a.7 .7 0 1 0 1.4 0a.7 .7 0 1 0 -1.4 0M508.2 141.1a.7 .7 0 1 0 1.4 0a.7 .7 0 1 0 -1.4 0M504.4 131.4a.7 .7 0 1 0 1.4 0a.7 .7 0 1 0 -1.4 0M505.3 104.2a.7 .7 0 1 0 1.4 0a.7 .7 0 1 0 -1.4 0M505.0 136.6a.7 .7 0 1 0 1.4 0a.7 .7 0 1 0 -1.4 0M508.3 121.4a.7 .7 0 1 0 1.4 0a.7 .7 0 1 0 -1.4 0M508.4 129.6a.7 .7 0 1 0 1.4 0a.7 .7 0 1 0 -1.4 0M507.5 111.1a.7 .7 0 1 0 1.4 0a.7 .7 0 1 0 -1.4 0M509.2 209.0a.7 .7 0 1 0 1.4 0a.7 .7 0 1 0 -1.4 0M506.2 213.5a.7 .7 0 1 0 1.4 0a.7 .7 0 1 0 -1.4 0M508.8 159.6a.7 .7 0 1 0 1.4 0a.7 .7 0 1 0 -1.4 0M509.1 208.1a.7 .7 0 1 0 1.4 0a.7 .7 0 1 0 -1.4 0M507.4 121.9a.7 .7 0 1 0 1.4 0a.7 .7 0 1 0 -1.4 0M508.3 197.2a.7 .7 0 1 0 1.4 0a.7 .7 0 1 0 -1.4 0M506.9 120.9a.7 .7 0 1 0 1.4 0a.7 .7 0 1 0 -1.4 0M509.4 193.8a.7 .7 0 1 0 1.4 0a.7 .7 0 1 0 -1.4 0M506.8 215.4a.7 .7 0 1 0 1.4 0a.7 .7 0 1 0 -1.4 0M508.1 212.1a.7 .7 0 1 0 1.4 0a.7 .7 0 1 0 -1.4 0M507.1 141.0a.7 .7 0 1 0 1.4 0a.7 .7 0 1 0 -1.4 0M505.1 91.4a.7 .7 0 1 0 1.4 0a.7 .7 0 1 0 -1.4 0M505.8 156.9a.7 .7 0 1 0 1.4 0a.7 .7 0 1 0 -1.4 0M506.2 104.2a.7 .7 0 1 0 1.4 0a.7 .7 0 1 0 -1.4 0M506.2 205.4a.7 .7 0 1 0 1.4 0a.7 .7 0 1 0 -1.4 0M509.0 160.3a.7 .7 0 1 0 1.4 0a.7 .7 0 1 0 -1.4 0M505.1 213.5a.7 .7 0 1 0 1.4 0a.7 .7 0 1 0 -1.4 0M505.5 121.4a.7 .7 0 1 0 1.4 0a.7 .7 0 1 0 -1.4 0M507.9 148.6a.7 .7 0 1 0 1.4 0a.7 .7 0 1 0 -1.4 0M505.9 122.1a.7 .7 0 1 0 1.4 0a.7 .7 0 1 0 -1.4 0M508.8 206.8a.7 .7 0 1 0 1.4 0a.7 .7 0 1 0 -1.4 0M507.8 134.6a.7 .7 0 1 0 1.4 0a.7 .7 0 1 0 -1.4 0M504.5 212.1a.7 .7 0 1 0 1.4 0a.7 .7 0 1 0 -1.4 0M505.2 204.4a.7 .7 0 1 0 1.4 0a.7 .7 0 1 0 -1.4 0M504.1 191.9a.7 .7 0 1 0 1.4 0a.7 .7 0 1 0 -1.4 0M507.5 199.6a.7 .7 0 1 0 1.4 0a.7 .7 0 1 0 -1.4 0M507.4 148.5a.7 .7 0 1 0 1.4 0a.7 .7 0 1 0 -1.4 0M504.5 199.9a.7 .7 0 1 0 1.4 0a.7 .7 0 1 0 -1.4 0M507.7 96.4a.7 .7 0 1 0 1.4 0a.7 .7 0 1 0 -1.4 0M506.2 151.6a.7 .7 0 1 0 1.4 0a.7 .7 0 1 0 -1.4 0M508.7 173.8a.7 .7 0 1 0 1.4 0a.7 .7 0 1 0 -1.4 0M506.0 207.5a.7 .7 0 1 0 1.4 0a.7 .7 0 1 0 -1.4 0M507.1 206.9a.7 .7 0 1 0 1.4 0a.7 .7 0 1 0 -1.4 0M506.8 171.2a.7 .7 0 1 0 1.4 0a.7 .7 0 1 0 -1.4 0M506.3 214.9a.7 .7 0 1 0 1.4 0a.7 .7 0 1 0 -1.4 0M507.3 203.2a.7 .7 0 1 0 1.4 0a.7 .7 0 1 0 -1.4 0M504.7 163.0a.7 .7 0 1 0 1.4 0a.7 .7 0 1 0 -1.4 0M505.9 187.5a.7 .7 0 1 0 1.4 0a.7 .7 0 1 0 -1.4 0M504.4 209.1a.7 .7 0 1 0 1.4 0a.7 .7 0 1 0 -1.4 0M504.3 202.9a.7 .7 0 1 0 1.4 0a.7 .7 0 1 0 -1.4 0M506.5 195.1a.7 .7 0 1 0 1.4 0a.7 .7 0 1 0 -1.4 0M507.1 205.1a.7 .7 0 1 0 1.4 0a.7 .7 0 1 0 -1.4 0M506.4 207.0a.7 .7 0 1 0 1.4 0a.7 .7 0 1 0 -1.4 0M508.4 212.8a.7 .7 0 1 0 1.4 0a.7 .7 0 1 0 -1.4 0M507.8 206.9a.7 .7 0 1 0 1.4 0a.7 .7 0 1 0 -1.4 0M504.4 203.3a.7 .7 0 1 0 1.4 0a.7 .7 0 1 0 -1.4 0M505.1 177.6a.7 .7 0 1 0 1.4 0a.7 .7 0 1 0 -1.4 0M533.3 174.5a.7 .7 0 1 0 1.4 0a.7 .7 0 1 0 -1.4 0M531.3 151.0a.7 .7 0 1 0 1.4 0a.7 .7 0 1 0 -1.4 0M532.0 143.2a.7 .7 0 1 0 1.4 0a.7 .7 0 1 0 -1.4 0M530.2 171.3a.7 .7 0 1 0 1.4 0a.7 .7 0 1 0 -1.4 0M532.9 172.2a.7 .7 0 1 0 1.4 0a.7 .7 0 1 0 -1.4 0M532.9 187.6a.7 .7 0 1 0 1.4 0a.7 .7 0 1 0 -1.4 0M532.6 120.7a.7 .7 0 1 0 1.4 0a.7 .7 0 1 0 -1.4 0M533.7 203.1a.7 .7 0 1 0 1.4 0a.7 .7 0 1 0 -1.4 0M532.7 158.8a.7 .7 0 1 0 1.4 0a.7 .7 0 1 0 -1.4 0M529.2 177.8a.7 .7 0 1 0 1.4 0a.7 .7 0 1 0 -1.4 0M531.8 205.6a.7 .7 0 1 0 1.4 0a.7 .7 0 1 0 -1.4 0M529.4 149.7a.7 .7 0 1 0 1.4 0a.7 .7 0 1 0 -1.4 0M531.6 205.5a.7 .7 0 1 0 1.4 0a.7 .7 0 1 0 -1.4 0M532.5 100.2a.7 .7 0 1 0 1.4 0a.7 .7 0 1 0 -1.4 0M528.4 182.1a.7 .7 0 1 0 1.4 0a.7 .7 0 1 0 -1.4 0M532.9 136.2a.7 .7 0 1 0 1.4 0a.7 .7 0 1 0 -1.4 0M529.6 111.5a.7 .7 0 1 0 1.4 0a.7 .7 0 1 0 -1.4 0M530.9 190.4a.7 .7 0 1 0 1.4 0a.7 .7 0 1 0 -1.4 0M532.1 179.8a.7 .7 0 1 0 1.4 0a.7 .7 0 1 0 -1.4 0M533.1 153.2a.7 .7 0 1 0 1.4 0a.7 .7 0 1 0 -1.4 0M529.1 206.0a.7 .7 0 1 0 1.4 0a.7 .7 0 1 0 -1.4 0M530.7 145.9a.7 .7 0 1 0 1.4 0a.7 .7 0 1 0 -1.4 0M531.3 98.1a.7 .7 0 1 0 1.4 0a.7 .7 0 1 0 -1.4 0M533.6 186.4a.7 .7 0 1 0 1.4 0a.7 .7 0 1 0 -1.4 0M528.1 206.0a.7 .7 0 1 0 1.4 0a.7 .7 0 1 0 -1.4 0M531.6 187.0a.7 .7 0 1 0 1.4 0a.7 .7 0 1 0 -1.4 0M532.6 193.2a.7 .7 0 1 0 1.4 0a.7 .7 0 1 0 -1.4 0M533.0 197.0a.7 .7 0 1 0 1.4 0a.7 .7 0 1 0 -1.4 0M531.2 116.9a.7 .7 0 1 0 1.4 0a.7 .7 0 1 0 -1.4 0M532.2 140.9a.7 .7 0 1 0 1.4 0a.7 .7 0 1 0 -1.4 0M532.9 193.1a.7 .7 0 1 0 1.4 0a.7 .7 0 1 0 -1.4 0M529.2 147.1a.7 .7 0 1 0 1.4 0a.7 .7 0 1 0 -1.4 0M532.8 156.8a.7 .7 0 1 0 1.4 0a.7 .7 0 1 0 -1.4 0M530.7 197.8a.7 .7 0 1 0 1.4 0a.7 .7 0 1 0 -1.4 0M533.0 115.6a.7 .7 0 1 0 1.4 0a.7 .7 0 1 0 -1.4 0M531.0 176.8a.7 .7 0 1 0 1.4 0a.7 .7 0 1 0 -1.4 0"/>
<path d="M313.0 210.8a.7 .7 0 1 0 1.4 0a.7 .7 0 1 0 -1.4 0M310.8 211.7a.7 .7 0 1 0 1.4 0a.7 .7 0 1 0 -1.4 0M313.4 214.6a.7 .7 0 1 0 1.4 0a.7 .7 0 1 0 -1.4 0M312.3 212.1a.7 .7 0 1 0 1.4 0a.7 .7 0 1 0 -1.4 0M313.0 213.3a.7 .7 0 1 0 1.4 0a.7 .7 0 1 0 -1.4 0M311.4 213.6a.7 .7 0 1 0 1.4 0a.7 .7 0 1 0 -1.4 0M312.4 212.3a.7 .7 0 1 0 1.4 0a.7 .7 0 1 0 -1.4 0M314.4 209.9a.7 .7 0 1 0 1.4 0a.7 .7 0 1 0 -1.4 0M336.0 204.5a.7 .7 0 1 0 1.4 0a.7 .7 0 1 0 -1.4 0M338.4 203.5a.7 .7 0 1 0 1.4 0a.7 .7 0 1 0 -1.4 0M337.8 214.6a.7 .7 0 1 0 1.4 0a.7 .7 0 1 0 -1.4 0M336.9 209.1a.7 .7 0 1 0 1.4 0a.7 .7 0 1 0 -1.4 0M337.2 204.5a.7 .7 0 1 0 1.4 0a.7 .7 0 1 0 -1.4 0M336.9 208.0a.7 .7 0 1 0 1.4 0a.7 .7 0 1 0 -1.4 0M335.8 214.1a.7 .7 0 1 0 1.4 0a.7 .7 0 1 0 -1.4 0M337.9 202.9a.7 .7 0 1 0 1.4 0a.7 .7 0 1 0 -1.4 0M335.9 204.7a.7 .7 0 1 0 1.4 0a.7 .7 0 1 0 -1.4 0M336.3 204.6a.7 .7 0 1 0 1.4 0a.7 .7 0 1 0 -1.4 0M337.7 210.2a.7 .7 0 1 0 1.4 0a.7 .7 0 1 0 -1.4 0M362.5 208.2a.7 .7 0 1 0 1.4 0a.7 .7 0 1 0 -1.4 0M359.1 210.6a.7 .7 0 1 0 1.4 0a.7 .7 0 1 0 -1.4 0M359.9 208.0a.7 .7 0 1 0 1.4 0a.7 .7 0 1 0 -1.4 0M358.9 211.6a.7 .7 0 1 0 1.4 0a.7 .7 0 1 0 -1.4 0M359.0 210.3a.7 .7 0 1 0 1.4 0a.7 .7 0 1 0 -1.4 0M360.3 208.7a.7 .7 0 1 0 1.4 0a.7 .7 0 1 0 -1.4 0M361.1 201.1a.7 .7 0 1 0 1.4 0a.7 .7 0 1 0 -1.4 0M383.4 196.3a.7 .7 0 1 0 1.4 0a.7 .7 0 1 0 -1.4 0M384.1 197.4a.7 .7 0 1 0 1.4 0a.7 .7 0 1 0 -1.4 0M383.3 203.3a.7 .7 0 1 0 1.4 0a.7 .7 0 1 0 -1.4 0M383.5 194.3a.7 .7 0 1 0 1.4 0a.7 .7 0 1 0 -1.4 0M383.4 202.8a.7 .7 0 1 0 1.4 0a.7 .7 0 1 0 -1.4 0M383.8 211.7a.7 .7 0 1 0 1.4 0a.7 .7 0 1 0 -1.4 0M383.7 204.1a.7 .7 0 1 0 1.4 0a.7 .7 0 1 0 -1.4 0M386.5 211.4a.7 .7 0 1 0 1.4 0a.7 .7 0 1 0 -1.4 0M385.6 207.5a.7 .7 0 1 0 1.4 0a.7 .7 0 1 0 -1.4 0M409.8 213.3a.7 .7 0 1 0 1.4 0a.7 .7 0 1 0 -1.4 0M411.5 213.8a.7 .7 0 1 0 1.4 0a.7 .7 0 1 0 -1.4 0M411.2 209.9a.7 .7 0 1 0 1.4 0a.7 .7 0 1 0 -1.4 0M411.2 208.8a.7 .7 0 1 0 1.4 0a.7 .7 0 1 0 -1.4 0M408.2 212.6a.7 .7 0 1 0 1.4 0a.7 .7 0 1 0 -1.4 0M409.7 207.1a.7 .7 0 1 0 1.4 0a.7 .7 0 1 0 -1.4 0M411.3 214.7a.7 .7 0 1 0 1.4 0a.7 .7 0 1 0 -1.4 0M410.6 213.8a.7 .7 0 1 0 1.4 0a.7 .7 0 1 0 -1.4 0M432.3 212.7a.7 .7 0 1 0 1.4 0a.7 .7 0 1 0 -1.4 0M433.8 210.0a.7 .7 0 1 0 1.4 0a.7 .7 0 1 0 -1.4 0M432.9 208.6a.7 .7 0 1 0 1.4 0a.7 .7 0 1 0 -1.4 0M432.5 212.8a.7 .7 0 1 0 1.4 0a.7 .7 0 1 0 -1.4 0M434.4 212.7a.7 .7 0 1 0 1.4 0a.7 .7 0 1 0 -1.4 0M433.9 207.4a.7 .7 0 1 0 1.4 0a.7 .7 0 1 0 -1.4 0M432.2 210.7a.7 .7 0 1 0 1.4 0a.7 .7 0 1 0 -1.4 0M434.6 214.1a.7 .7 0 1 0 1.4 0a.7 .7 0 1 0 -1.4 0M432.7 206.2a.7 .7 0 1 0 1.4 0a.7 .7 0 1 0 -1.4 0M460.3 183.4a.7 .7 0 1 0 1.4 0a.7 .7 0 1 0 -1.4 0M459.2 179.8a.7 .7 0 1 0 1.4 0a.7 .7 0 1 0 -1.4 0M456.4 158.9a.7 .7 0 1 0 1.4 0a.7 .7 0 1 0 -1.4 0M455.6 205.0a.7 .7 0 1 0 1.4 0a.7 .7 0 1 0 -1.4 0M460.2 170.3a.7 .7 0 1 0 1.4 0a.7 .7 0 1 0 -1.4 0M457.8 194.2a.7 .7 0 1 0 1.4 0a.7 .7 0 1 0 -1.4 0M456.7 204.9a.7 .7 0 1 0 1.4 0a.7 .7 0 1 0 -1.4 0M457.3 141.3a.7 .7 0 1 0 1.4 0a.7 .7 0 1 0 -1.4 0M459.3 200.7a.7 .7 0 1 0 1.4 0a.7 .7 0 1 0 -1.4 0M455.8 198.3a.7 .7 0 1 0 1.4 0a.7 .7 0 1 0 -1.4 0M456.5 214.7a.7 .7 0 1 0 1.4 0a.7 .7 0 1 0 -1.4 0M460.5 199.1a.7 .7 0 1 0 1.4 0a.7 .7 0 1 0 -1.4 0M455.4 194.7a.7 .7 0 1 0 1.4 0a.7 .7 0 1 0 -1.4 0M457.4 150.5a.7 .7 0 1 0 1.4 0a.7 .7 0 1 0 -1.4 0M459.8 184.2a.7 .7 0 1 0 1.4 0a.7 .7 0 1 0 -1.4 0M460.2 138.0a.7 .7 0 1 0 1.4 0a.7 .7 0 1 0 -1.4 0M458.9 148.1a.7 .7 0 1 0 1.4 0a.7 .7 0 1 0 -1.4 0M457.2 204.9a.7 .7 0 1 0 1.4 0a.7 .7 0 1 0 -1.4 0M460.5 205.1a.7 .7 0 1 0 1.4 0a.7 .7 0 1 0 -1.4 0M457.2 172.3a.7 .7 0 1 0 1.4 0a.7 .7 0 1 0 -1.4 0M460.2 198.8a.7 .7 0 1 0 1.4 0a.7 .7 0 1 0 -1.4 0M456.7 144.6a.7 .7 0 1 0 1.4 0a.7 .7 0 1 0 -1.4 0M455.4 203.0a.7 .7 0 1 0 1.4 0a.7 .7 0 1 0 -1.4 0M459.6 152.7a.7 .7 0 1 0 1.4 0a.7 .7 0 1 0 -1.4 0M457.6 133.7a.7 .7 0 1 0 1.4 0a.7 .7 0 1 0 -1.4 0M457.8 154.6a.7 .7 0 1 0 1.4 0a.7 .7 0 1 0 -1.4 0M460.9 208.4a.7 .7 0 1 0 1.4 0a.7 .7 0 1 0 -1.4 0M457.4 193.3a.7 .7 0 1 0 1.4 0a.7 .7 0 1 0 -1.4 0M458.9 212.0a.7 .7 0 1 0 1.4 0a.7 .7 0 1 0 -1.4 0M460.3 197.4a.7 .7 0 1 0 1.4 0a.7 .7 0 1 0 -1.4 0M456.1 140.7a.7 .7 0 1 0 1.4 0a.7 .7 0 1 0 -1.4 0M456.0 138.2a.7 .7 0 1 0 1.4 0a.7 .7 0 1 0 -1.4 0M455.7 214.2a.7 .7 0 1 0 1.4 0a.7 .7 0 1 0 -1.4 0M459.3 214.2a.7 .7 0 1 0 1.4 0a.7 .7 0 1 0 -1.4 0M458.3 150.2a.7 .7 0 1 0 1.4 0a.7 .7 0 1 0 -1.4 0M459.0 200.0a.7 .7 0 1 0 1.4 0a.7 .7 0 1 0 -1.4 0M455.8 205.1a.7 .7 0 1 0 1.4 0a.7 .7 0 1 0 -1.4 0M460.2 168.3a.7 .7 0 1 0 1.4 0a.7 .7 0 1 0 -1.4 0M456.4 133.7a.7 .7 0 1 0 1.4 0a.7 .7 0 1 0 -1.4 0M455.6 214.0a.7 .7 0 1 0 1.4 0a.7 .7 0 1 0 -1.4 0M456.0 215.5a.7 .7 0 1 0 1.4 0a.7 .7 0 1 0 -1.4 0M460.2 215.1a.7 .7 0 1 0 1.4 0a.7 .7 0 1 0 -1.4 0M456.1 212.6a.7 .7 0 1 0 1.4 0a.7 .7 0 1 0 -1.4 0M459.4 207.2a.7 .7 0 1 0 1.4 0a.7 .7 0 1 0 -1.4 0M460.4 202.0a.7 .7 0 1 0 1.4 0a.7 .7 0 1 0 -1.4 0M456.6 201.4a.7 .7 0 1 0 1.4 0a.7 .7 0 1 0 -1.4 0M456.5 214.5a.7 .7 0 1 0 1.4 0a.7 .7 0 1 0 -1.4 0M455.9 196.6a.7 .7 0 1 0 1.4 0a.7 .7 0 1 0 -1.4 0M460.0 188.0a.7 .7 0 1 0 1.4 0a.7 .7 0 1 0 -1.4 0M459.9 207.0a.7 .7 0 1 0 1.4 0a.7 .7 0 1 0 -1.4 0M458.8 205.9a.7 .7 0 1 0 1.4 0a.7 .7 0 1 0 -1.4 0M458.5 206.8a.7 .7 0 1 0 1.4 0a.7 .7 0 1 0 -1.4 0M460.2 214.5a.7 .7 0 1 0 1.4 0a.7 .7 0 1 0 -1.4 0M458.3 202.0a.7 .7 0 1 0 1.4 0a.7 .7 0 1 0 -1.4 0M458.7 211.6a.7 .7 0 1 0 1.4 0a.7 .7 0 1 0 -1.4 0M457.7 214.0a.7 .7 0 1 0 1.4 0a.7 .7 0 1 0 -1.4 0M483.9 154.4a.7 .7 0 1 0 1.4 0a.7 .7 0 1 0 -1.4 0M483.0 152.3a.7 .7 0 1 0 1.4 0a.7 .7 0 1 0 -1.4 0M483.0 212.8a.7 .7 0 1 0 1.4 0a.7 .7 0 1 0 -1.4 0M480.4 129.6a.7 .7 0 1 0 1.4 0a.7 .7 0 1 0 -1.4 0M484.0 212.1a.7 .7 0 1 0 1.4 0a.7 .7 0 1 0 -1.4 0M484.7 198.7a.7 .7 0 1 0 1.4 0a.7 .7 0 1 0 -1.4 0M484.1 180.2a.7 .7 0 1 0 1.4 0a.7 .7 0 1 0 -1.4 0M480.5 123.6a.7 .7 0 1 0 1.4 0a.7 .7 0 1 0 -1.4 0M480.7 182.3a.7 .7 0 1 0 1.4 0a.7 .7 0 1 0 -1.4 0M481.1 147.5a.7 .7 0 1 0 1.4 0a.7 .7 0 1 0 -1.4 0M481.9 215.3a.7 .7 0 1 0 1.4 0a.7 .7 0 1 0 -1.4 0M480.4 184.0a.7 .7 0 1 0 1.4 0a.7 .7 0 1 0 -1.4 0M482.9 136.2a.7 .7 0 1 0 1.4 0a.7 .7 0 1 0 -1.4 0M480.7 136.2a.7 .7 0 1 0 1.4 0a.7 .7 0 1 0 -1.4 0M481.8 171.7a.7 .7 0 1 0 1.4 0a.7 .7 0 1 0 -1.4 0M483.5 110.8a.7 .7 0 1 0 1.4 0a.7 .7 0 1 0 -1.4 0M483.0 152.4a.7 .7 0 1 0 1.4 0a.7 .7 0 1 0 -1.4 0M480.9 117.7a.7 .7 0 1 0 1.4 0a.7 .7 0 1 0 -1.4 0M480.1 184.3a.7 .7 0 1 0 1.4 0a.7 .7 0 1 0 -1.4 0M481.0 186.1a.7 .7 0 1 0 1.4 0a.7 .7 0 1 0 -1.4 0M482.3 198.9a.7 .7 0 1 0 1.4 0a.7 .7 0 1 0 -1.4 0M483.3 200.5a.7 .7 0 1 0 1.4 0a.7 .7 0 1 0 -1.4 0M481.3 109.7a.7 .7 0 1 0 1.4 0a.7 .7 0 1 0 -1.4 0M483.0 189.4a.7 .7 0 1 0 1.4 0a.7 .7 0 1 0 -1.4 0M480.7 178.2a.7 .7 0 1 0 1.4 0a.7 .7 0 1 0 -1.4 0M484.5 194.9a.7 .7 0 1 0 1.4 0a.7 .7 0 1 0 -1.4 0M483.0 193.6a.7 .7 0 1 0 1.4 0a.7 .7 0 1 0 -1.4 0M484.4 197.9a.7 .7 0 1 0 1.4 0a.7 .7 0 1 0 -1.4 0M482.3 192.0a.7 .7 0 1 0 1.4 0a.7 .7 0 1 0 -1.4 0M483.8 204.0a.7 .7 0 1 0 1.4 0a.7 .7 0 1 0 -1.4 0M484.5 126.5a.7 .7 0 1 0 1.4 0a.7 .7 0 1 0 -1.4 0M480.9 203.4a.7 .7 0 1 0 1.4 0a.7 .7 0 1 0 -1.4 0M480.8 188.5a.7 .7 0 1 0 1.4 0a.7 .7 0 1 0 -1.4 0M479.9 215.1a.7 .7 0 1 0 1.4 0a.7 .7 0 1 0 -1.4 0M484.0 166.2a.7 .7 0 1 0 1.4 0a.7 .7 0 1 0 -1.4 0M481.4 142.4a.7 .7 0 1 0 1.4 0a.7 .7 0 1 0 -1.4 0M482.5 114.5a.7 .7 0 1 0 1.4 0a.7 .7 0 1 0 -1.4 0M482.3 180.2a.7 .7 0 1 0 1.4 0a.7 .7 0 1 0 -1.4 0M481.0 164.4a.7 .7 0 1 0 1.4 0a.7 .7 0 1 0 -1.4 0M483.1 134.4a.7 .7 0 1 0 1.4 0a.7 .7 0 1 0 -1.4 0M481.7 215.4a.7 .7 0 1 0 1.4 0a.7 .7 0 1 0 -1.4 0M480.6 124.6a.7 .7 0 1 0 1.4 0a.7 .7 0 1 0 -1.4 0M481.5 214.8a.7 .7 0 1 0 1.4 0a.7 .7 0 1 0 -1.4 0M484.8 179.1a.7 .7 0 1 0 1.4 0a.7 .7 0 1 0 -1.4 0M480.2 144.2a.7 .7 0 1 0 1.4 0a.7 .7 0 1 0 -1.4 0M480.5 201.1a.7 .7 0 1 0 1.4 0a.7 .7 0 1 0 -1.4 0M482.5 173.6a.7 .7 0 1 0 1.4 0a.7 .7 0 1 0 -1.4 0M481.4 134.7a.7 .7 0 1 0 1.4 0a.7 .7 0 1 0 -1.4 0M481.5 204.0a.7 .7 0 1 0 1.4 0a.7 .7 0 1 0 -1.4 0M484.4 183.1a.7 .7 0 1 0 1.4 0a.7 .7 0 1 0 -1.4 0M483.2 137.0a.7 .7 0 1 0 1.4 0a.7 .7 0 1 0 -1.4 0M483.0 191.6a.7 .7 0 1 0 1.4 0a.7 .7 0 1 0 -1.4 0M484.8 199.8a.7 .7 0 1 0 1.4 0a.7 .7 0 1 0 -1.4 0M480.4 198.5a.7 .7 0 1 0 1.4 0a.7 .7 0 1 0 -1.4 0M480.7 215.1a.7 .7 0 1 0 1.4 0a.7 .7 0 1 0 -1.4 0M482.3 193.3a.7 .7 0 1 0 1.4 0a.7 .7 0 1 0 -1.4 0M482.0 191.1a.7 .7 0 1 0 1.4 0a.7 .7 0 1 0 -1.4 0M483.5 185.8a.7 .7 0 1 0 1.4 0a.7 .7 0 1 0 -1.4 0M484.7 193.9a.7 .7 0 1 0 1.4 0a.7 .7 0 1 0 -1.4 0M485.0 208.6a.7 .7 0 1 0 1.4 0a.7 .7 0 1 0 -1.4 0M484.9 210.3a.7 .7 0 1 0 1.4 0a.7 .7 0 1 0 -1.4 0M480.7 211.7a.7 .7 0 1 0 1.4 0a.7 .7 0 1 0 -1.4 0M484.1 193.0a.7 .7 0 1 0 1.4 0a.7 .7 0 1 0 -1.4 0M484.4 204.5a.7 .7 0 1 0 1.4 0a.7 .7 0 1 0 -1.4 0M480.8 186.2a.7 .7 0 1 0 1.4 0a.7 .7 0 1 0 -1.4 0M482.9 180.5a.7 .7 0 1 0 1.4 0a.7 .7 0 1 0 -1.4 0M504.9 101.7a.7 .7 0 1 0 1.4 0a.7 .7 0 1 0 -1.4 0M504.3 214.6a.7 .7 0 1 0 1.4 0a.7 .7 0 1 0 -1.4 0M508.3 210.7a.7 .7 0 1 0 1.4 0a.7 .7 0 1 0 -1.4 0M507.3 193.0a.7 .7 0 1 0 1.4 0a.7 .7 0 1 0 -1.4 0M504.6 155.8a.7 .7 0 1 0 1.4 0a.7 .7 0 1 0 -1.4 0M506.7 214.5a.7 .7 0 1 0 1.4 0a.7 .7 0 1 0 -1.4 0M507.9 168.6a.7 .7 0 1 0 1.4 0a.7 .7 0 1 0 -1.4 0M506.5 177.8a.7 .7 0 1 0 1.4 0a.7 .7 0 1 0 -1.4 0M504.6 116.0a.7 .7 0 1 0 1.4 0a.7 .7 0 1 0 -1.4 0M507.7 163.2a.7 .7 0 1 0 1.4 0a.7 .7 0 1 0 -1.4 0M506.1 140.7a.7 .7 0 1 0 1.4 0a.7 .7 0 1 0 -1.4 0M506.1 115.6a.7 .7 0 1 0 1.4 0a.7 .7 0 1 0 -1.4 0M504.9 134.9a.7 .7 0 1 0 1.4 0a.7 .7 0 1 0 -1.4 0M506.9 177.5a.7 .7 0 1 0 1.4 0a.7 .7 0 1 0 -1.4 0M506.4 129.4a.7 .7 0 1 0 1.4 0a.7 .7 0 1 0 -1.4 0M507.3 181.9a.7 .7 0 1 0 1.4 0a.7 .7 0 1 0 -1.4 0M508.0 176.3a.7 .7 0 1 0 1.4 0a.7 .7 0 1 0 -1.4 0M506.4 215.2a.7 .7 0 1 0 1.4 0a.7 .7 0 1 0 -1.4 0M505.6 165.4a.7 .7 0 1 0 1.4 0a.7 .7 0 1 0 -1.4 0M506.1 197.8a.7 .7 0 1 0 1.4 0a.7 .7 0 1 0 -1.4 0M504.2 200.9a.7 .7 0 1 0 1.4 0a.7 .7 0 1 0 -1.4 0M506.1 162.0a.7 .7 0 1 0 1.4 0a.7 .7 0 1 0 -1.4 0M507.1 112.2a.7 .7 0 1 0 1.4 0a.7 .7 0 1 0 -1.4 0M506.5 206.5a.7 .7 0 1 0 1.4 0a.7 .7 0 1 0 -1.4 0M508.3 214.9a.7 .7 0 1 0 1.4 0a.7 .7 0 1 0 -1.4 0M504.3 197.1a.7 .7 0 1 0 1.4 0a.7 .7 0 1 0 -1.4 0M505.1 202.2a.7 .7 0 1 0 1.4 0a.7 .7 0 1 0 -1.4 0M504.1 211.2a.7 .7 0 1 0 1.4 0a.7 .7 0 1 0 -1.4 0M508.4 130.8a.7 .7 0 1 0 1.4 0a.7 .7 0 1 0 -1.4 0M505.3 155.9a.7 .7 0 1 0 1.4 0a.7 .7 0 1 0 -1.4 0M505.6 169.0a.7 .7 0 1 0 1.4 0a.7 .7 0 1 0 -1.4 0M506.0 96.2a.7 .7 0 1 0 1.4 0a.7 .7 0 1 0 -1.4 0M506.2 107.4a.7 .7 0 1 0 1.4 0a.7 .7 0 1 0 -1.4 0M505.9 189.9a.7 .7 0 1 0 1.4 0a.7 .7 0 1 0 -1.4 0M505.3 152.1a.7 .7 0 1 0 1.4 0a.7 .7 0 1 0 -1.4 0M508.6 148.7a.7 .7 0 1 0 1.4 0a.7 .7 0 1 0 -1.4 0M504.3 177.8a.7 .7 0 1 0 1.4 0a.7 .7 0 1 0 -1.4 0M505.5 207.5a.7 .7 0 1 0 1.4 0a.7 .7 0 1 0 -1.4 0M506.5 215.0a.7 .7 0 1 0 1.4 0a.7 .7 0 1 0 -1.4 0M506.5 213.8a.7 .7 0 1 0 1.4 0a.7 .7 0 1 0 -1.4 0M504.6 212.6a.7 .7 0 1 0 1.4 0a.7 .7 0 1 0 -1.4 0M507.8 211.8a.7 .7 0 1 0 1.4 0a.7 .7 0 1 0 -1.4 0M506.0 169.6a.7 .7 0 1 0 1.4 0a.7 .7 0 1 0 -1.4 0M506.9 211.3a.7 .7 0 1 0 1.4 0a.7 .7 0 1 0 -1.4 0M504.9 186.1a.7 .7 0 1 0 1.4 0a.7 .7 0 1 0 -1.4 0M508.4 198.2a.7 .7 0 1 0 1.4 0a.7 .7 0 1 0 -1.4 0M506.4 207.2a.7 .7 0 1 0 1.4 0a.7 .7 0 1 0 -1.4 0M507.4 189.1a.7 .7 0 1 0 1.4 0a.7 .7 0 1 0 -1.4 0M508.9 210.7a.7 .7 0 1 0 1.4 0a.7 .7 0 1 0 -1.4 0M505.1 208.7a.7 .7 0 1 0 1.4 0a.7 .7 0 1 0 -1.4 0M507.1 198.9a.7 .7 0 1 0 1.4 0a.7 .7 0 1 0 -1.4 0M508.2 195.2a.7 .7 0 1 0 1.4 0a.7 .7 0 1 0 -1.4 0M506.0 174.6a.7 .7 0 1 0 1.4 0a.7 .7 0 1 0 -1.4 0M507.0 215.0a.7 .7 0 1 0 1.4 0a.7 .7 0 1 0 -1.4 0M507.4 215.4a.7 .7 0 1 0 1.4 0a.7 .7 0 1 0 -1.4 0M506.4 163.0a.7 .7 0 1 0 1.4 0a.7 .7 0 1 0 -1.4 0M532.5 162.7a.7 .7 0 1 0 1.4 0a.7 .7 0 1 0 -1.4 0M531.3 189.1a.7 .7 0 1 0 1.4 0a.7 .7 0 1 0 -1.4 0M529.7 116.4a.7 .7 0 1 0 1.4 0a.7 .7 0 1 0 -1.4 0M531.6 148.4a.7 .7 0 1 0 1.4 0a.7 .7 0 1 0 -1.4 0M530.9 145.8a.7 .7 0 1 0 1.4 0a.7 .7 0 1 0 -1.4 0M530.7 99.8a.7 .7 0 1 0 1.4 0a.7 .7 0 1 0 -1.4 0M529.1 198.4a.7 .7 0 1 0 1.4 0a.7 .7 0 1 0 -1.4 0M533.5 168.7a.7 .7 0 1 0 1.4 0a.7 .7 0 1 0 -1.4 0M531.5 155.2a.7 .7 0 1 0 1.4 0a.7 .7 0 1 0 -1.4 0M529.5 148.3a.7 .7 0 1 0 1.4 0a.7 .7 0 1 0 -1.4 0M528.9 204.9a.7 .7 0 1 0 1.4 0a.7 .7 0 1 0 -1.4 0M531.1 163.3a.7 .7 0 1 0 1.4 0a.7 .7 0 1 0 -1.4 0M529.0 199.8a.7 .7 0 1 0 1.4 0a.7 .7 0 1 0 -1.4 0M532.0 175.6a.7 .7 0 1 0 1.4 0a.7 .7 0 1 0 -1.4 0M532.5 99.8a.7 .7 0 1 0 1.4 0a.7 .7 0 1 0 -1.4 0M530.7 137.0a.7 .7 0 1 0 1.4 0a.7 .7 0 1 0 -1.4 0M528.8 166.2a.7 .7 0 1 0 1.4 0a.7 .7 0 1 0 -1.4 0M528.4 195.9a.7 .7 0 1 0 1.4 0a.7 .7 0 1 0 -1.4 0M529.7 191.1a.7 .7 0 1 0 1.4 0a.7 .7 0 1 0 -1.4 0M530.3 125.2a.7 .7 0 1 0 1.4 0a.7 .7 0 1 0 -1.4 0M531.1 205.4a.7 .7 0 1 0 1.4 0a.7 .7 0 1 0 -1.4 0M532.4 128.0a.7 .7 0 1 0 1.4 0a.7 .7 0 1 0 -1.4 0M533.0 148.1a.7 .7 0 1 0 1.4 0a.7 .7 0 1 0 -1.4 0M531.5 143.9a.7 .7 0 1 0 1.4 0a.7 .7 0 1 0 -1.4 0M529.4 133.7a.7 .7 0 1 0 1.4 0a.7 .7 0 1 0 -1.4 0M528.9 196.9a.7 .7 0 1 0 1.4 0a.7 .7 0 1 0 -1.4 0M531.1 186.9a.7 .7 0 1 0 1.4 0a.7 .7 0 1 0 -1.4 0M529.1 119.2a.7 .7 0 1 0 1.4 0a.7 .7 0 1 0 -1.4 0M530.9 112.8a.7 .7 0 1 0 1.4 0a.7 .7 0 1 0 -1.4 0M531.1 118.0a.7 .7 0 1 0 1.4 0a.7 .7 0 1 0 -1.4 0M530.2 205.8a.7 .7 0 1 0 1.4 0a.7 .7 0 1 0 -1.4 0M533.8 203.0a.7 .7 0 1 0 1.4 0a.7 .7 0 1 0 -1.4 0M532.6 191.9a.7 .7 0 1 0 1.4 0a.7 .7 0 1 0 -1.4 0"/>
<path d="M314.2 214.0a.7 .7 0 1 0 1.4 0a.7 .7 0 1 0 -1.4 0M310.4 214.2a.7 .7 0 1 0 1.4 0a.7 .7 0 1 0 -1.4 0M310.3 215.1a.7 .7 0 1 0 1.4 0a.7 .7 0 1 0 -1.4 0M313.6 214.0a.7 .7 0 1 0 1.4 0a.7 .7 0 1 0 -1.4 0M337.8 203.3a.7 .7 0 1 0 1.4 0a.7 .7 0 1 0 -1.4 0M336.3 207.4a.7 .7 0 1 0 1.4 0a.7 .7 0 1 0 -1.4 0M335.7 212.5a.7 .7 0 1 0 1.4 0a.7 .7 0 1 0 -1.4 0M337.8 214.7a.7 .7 0 1 0 1.4 0a.7 .7 0 1 0 -1.4 0M338.4 202.2a.7 .7 0 1 0 1.4 0a.7 .7 0 1 0 -1.4 0M335.4 212.5a.7 .7 0 1 0 1.4 0a.7 .7 0 1 0 -1.4 0M336.1 207.9a.7 .7 0 1 0 1.4 0a.7 .7 0 1 0 -1.4 0M337.1 206.2a.7 .7 0 1 0 1.4 0a.7 .7 0 1 0 -1.4 0M334.6 204.5a.7 .7 0 1 0 1.4 0a.7 .7 0 1 0 -1.4 0M334.7 207.1a.7 .7 0 1 0 1.4 0a.7 .7 0 1 0 -1.4 0M335.1 209.8a.7 .7 0 1 0 1.4 0a.7 .7 0 1 0 -1.4 0M337.1 204.9a.7 .7 0 1 0 1.4 0a.7 .7 0 1 0 -1.4 0M362.2 210.6a.7 .7 0 1 0 1.4 0a.7 .7 0 1 0 -1.4 0M360.7 209.1a.7 .7 0 1 0 1.4 0a.7 .7 0 1 0 -1.4 0M360.0 209.0a.7 .7 0 1 0 1.4 0a.7 .7 0 1 0 -1.4 0M361.1 211.4a.7 .7 0 1 0 1.4 0a.7 .7 0 1 0 -1.4 0M359.2 209.7a.7 .7 0 1 0 1.4 0a.7 .7 0 1 0 -1.4 0M362.3 209.3a.7 .7 0 1 0 1.4 0a.7 .7 0 1 0 -1.4 0M360.3 205.4a.7 .7 0 1 0 1.4 0a.7 .7 0 1 0 -1.4 0M359.7 206.2a.7 .7 0 1 0 1.4 0a.7 .7 0 1 0 -1.4 0M361.5 211.7a.7 .7 0 1 0 1.4 0a.7 .7 0 1 0 -1.4 0M362.0 210.2a.7 .7 0 1 0 1.4 0a.7 .7 0 1 0 -1.4 0M362.5 203.2a.7 .7 0 1 0 1.4 0a.7 .7 0 1 0 -1.4 0M361.7 199.6a.7 .7 0 1 0 1.4 0a.7 .7 0 1 0 -1.4 0M359.8 203.9a.7 .7 0 1 0 1.4 0a.7 .7 0 1 0 -1.4 0M360.3 199.2a.7 .7 0 1 0 1.4 0a.7 .7 0 1 0 -1.4 0M386.8 199.8a.7 .7 0 1 0 1.4 0a.7 .7 0 1 0 -1.4 0M384.3 197.1a.7 .7 0 1 0 1.4 0a.7 .7 0 1 0 -1.4 0M386.2 207.6a.7 .7 0 1 0 1.4 0a.7 .7 0 1 0 -1.4 0M385.6 198.4a.7 .7 0 1 0 1.4 0a.7 .7 0 1 0 -1.4 0M385.5 200.6a.7 .7 0 1 0 1.4 0a.7 .7 0 1 0 -1.4 0M384.4 191.2a.7 .7 0 1 0 1.4 0a.7 .7 0 1 0 -1.4 0M385.0 193.8a.7 .7 0 1 0 1.4 0a.7 .7 0 1 0 -1.4 0M386.8 197.8a.7 .7 0 1 0 1.4 0a.7 .7 0 1 0 -1.4 0M386.3 189.5a.7 .7 0 1 0 1.4 0a.7 .7 0 1 0 -1.4 0M387.1 197.2a.7 .7 0 1 0 1.4 0a.7 .7 0 1 0 -1.4 0M386.9 196.2a.7 .7 0 1 0 1.4 0a.7 .7 0 1 0 -1.4 0M387.0 214.5a.7 .7 0 1 0 1.4 0a.7 .7 0 1 0 -1.4 0M383.3 212.6a.7 .7 0 1 0 1.4 0a.7 .7 0 1 0 -1.4 0M385.2 214.3a.7 .7 0 1 0 1.4 0a.7 .7 0 1 0 -1.4 0M385.0 189.0a.7 .7 0 1 0 1.4 0a.7 .7 0 1 0 -1.4 0M386.2 200.9a.7 .7 0 1 0 1.4 0a.7 .7 0 1 0 -1.4 0M386.4 211.7a.7 .7 0 1 0 1.4 0a.7 .7 0 1 0 -1.4 0M385.0 208.5a.7 .7 0 1 0 1.4 0a.7 .7 0 1 0 -1.4 0M383.2 195.9a.7 .7 0 1 0 1.4 0a.7 .7 0 1 0 -1.4 0M409.1 213.1a.7 .7 0 1 0 1.4 0a.7 .7 0 1 0 -1.4 0M411.5 209.3a.7 .7 0 1 0 1.4 0a.7 .7 0 1 0 -1.4 0M410.6 206.9a.7 .7 0 1 0 1.4 0a.7 .7 0 1 0 -1.4 0M410.4 213.9a.7 .7 0 1 0 1.4 0a.7 .7 0 1 0 -1.4 0M410.7 212.7a.7 .7 0 1 0 1.4 0a.7 .7 0 1 0 -1.4 0M408.7 208.5a.7 .7 0 1 0 1.4 0a.7 .7 0 1 0 -1.4 0M435.2 208.5a.7 .7 0 1 0 1.4 0a.7 .7 0 1 0 -1.4 0M435.8 208.4a.7 .7 0 1 0 1.4 0a.7 .7 0 1 0 -1.4 0M433.4 210.5a.7 .7 0 1 0 1.4 0a.7 .7 0 1 0 -1.4 0M433.3 209.0a.7 .7 0 1 0 1.4 0a.7 .7 0 1 0 -1.4 0M434.0 208.3a.7 .7 0 1 0 1.4 0a.7 .7 0 1 0 -1.4 0M456.5 153.2a.7 .7 0 1 0 1.4 0a.7 .7 0 1 0 -1.4 0M458.3 189.9a.7 .7 0 1 0 1.4 0a.7 .7 0 1 0 -1.4 0M455.6 185.0a.7 .7 0 1 0 1.4 0a.7 .7 0 1 0 -1.4 0M459.4 137.9a.7 .7 0 1 0 1.4 0a.7 .7 0 1 0 -1.4 0M460.3 211.2a.7 .7 0 1 0 1.4 0a.7 .7 0 1 0 -1.4 0M457.6 190.2a.7 .7 0 1 0 1.4 0a.7 .7 0 1 0 -1.4 0M459.7 130.2a.7 .7 0 1 0 1.4 0a.7 .7 0 1 0 -1.4 0M459.1 133.1a.7 .7 0 1 0 1.4 0a.7 .7 0 1 0 -1.4 0M459.2 209.5a.7 .7 0 1 0 1.4 0a.7 .7 0 1 0 -1.4 0M456.7 144.7a.7 .7 0 1 0 1.4 0a.7 .7 0 1 0 -1.4 0M460.0 209.0a.7 .7 0 1 0 1.4 0a.7 .7 0 1 0 -1.4 0M456.5 130.1a.7 .7 0 1 0 1.4 0a.7 .7 0 1 0 -1.4 0M459.4 200.2a.7 .7 0 1 0 1.4 0a.7 .7 0 1 0 -1.4 0M458.9 206.6a.7 .7 0 1 0 1.4 0a.7 .7 0 1 0 -1.4 0M457.6 164.4a.7 .7 0 1 0 1.4 0a.7 .7 0 1 0 -1.4 0M459.9 170.8a.7 .7 0 1 0 1.4 0a.7 .7 0 1 0 -1.4 0M459.2 195.0a.7 .7 0 1 0 1.4 0a.7 .7 0 1 0 -1.4 0M458.9 177.0a.7 .7 0 1 0 1.4 0a.7 .7 0 1 0 -1.4 0M456.9 145.3a.7 .7 0 1 0 1.4 0a.7 .7 0 1 0 -1.4 0M459.6 142.3a.7 .7 0 1 0 1.4 0a.7 .7 0 1 0 -1.4 0M457.9 156.3a.7 .7 0 1 0 1.4 0a.7 .7 0 1 0 -1.4 0M460.5 215.3a.7 .7 0 1 0 1.4 0a.7 .7 0 1 0 -1.4 0M455.8 187.3a.7 .7 0 1 0 1.4 0a.7 .7 0 1 0 -1.4 0M460.4 208.4a.7 .7 0 1 0 1.4 0a.7 .7 0 1 0 -1.4 0M457.1 181.3a.7 .7 0 1 0 1.4 0a.7 .7 0 1 0 -1.4 0M457.1 133.3a.7 .7 0 1 0 1.4 0a.7 .7 0 1 0 -1.4 0M460.0 150.3a.7 .7 0 1 0 1.4 0a.7 .7 0 1 0 -1.4 0M457.5 183.7a.7 .7 0 1 0 1.4 0a.7 .7 0 1 0 -1.4 0M455.3 209.2a.7 .7 0 1 0 1.4 0a.7 .7 0 1 0 -1.4 0M456.4 137.0a.7 .7 0 1 0 1.4 0a.7 .7 0 1 0 -1.4 0M458.7 200.4a.7 .7 0 1 0 1.4 0a.7 .7 0 1 0 -1.4 0M456.6 201.0a.7 .7 0 1 0 1.4 0a.7 .7 0 1 0 -1.4 0M459.6 210.6a.7 .7 0 1 0 1.4 0a.7 .7 0 1 0 -1.4 0M458.4 178.6a.7 .7 0 1 0 1.4 0a.7 .7 0 1 0 -1.4 0M459.7 213.6a.7 .7 0 1 0 1.4 0a.7 .7 0 1 0 -1.4 0M459.8 183.9a.7 .7 0 1 0 1.4 0a.7 .7 0 1 0 -1.4 0M457.5 209.7a.7 .7 0 1 0 1.4 0a.7 .7 0 1 0 -1.4 0M458.3 190.9a.7 .7 0 1 0 1.4 0a.7 .7 0 1 0 -1.4 0M459.7 174.2a.7 .7 0 1 0 1.4 0a.7 .7 0 1 0 -1.4 0M458.6 184.6a.7 .7 0 1 0 1.4 0a.7 .7 0 1 0 -1.4 0M457.5 144.3a.7 .7 0 1 0 1.4 0a.7 .7 0 1 0 -1.4 0M460.1 146.6a.7 .7 0 1 0 1.4 0a.7 .7 0 1 0 -1.4 0M459.7 160.8a.7 .7 0 1 0 1.4 0a.7 .7 0 1 0 -1.4 0M457.8 191.9a.7 .7 0 1 0 1.4 0a.7 .7 0 1 0 -1.4 0M457.3 138.0a.7 .7 0 1 0 1.4 0a.7 .7 0 1 0 -1.4 0M457.2 163.1a.7 .7 0 1 0 1.4 0a.7 .7 0 1 0 -1.4 0M460.8 203.8a.7 .7 0 1 0 1.4 0a.7 .7 0 1 0 -1.4 0M459.1 214.8a.7 .7 0 1 0 1.4 0a.7 .7 0 1 0 -1.4 0M456.5 214.9a.7 .7 0 1 0 1.4 0a.7 .7 0 1 0 -1.4 0M458.6 215.1a.7 .7 0 1 0 1.4 0a.7 .7 0 1 0 -1.4 0M457.4 159.5a.7 .7 0 1 0 1.4 0a.7 .7 0 1 0 -1.4 0M459.5 148.1a.7 .7 0 1 0 1.4 0a.7 .7 0 1 0 -1.4 0M459.2 200.8a.7 .7 0 1 0 1.4 0a.7 .7 0 1 0 -1.4 0M455.8 206.7a.7 .7 0 1 0 1.4 0a.7 .7 0 1 0 -1.4 0M456.9 215.5a.7 .7 0 1 0 1.4 0a.7 .7 0 1 0 -1.4 0M459.9 206.3a.7 .7 0 1 0 1.4 0a.7 .7 0 1 0 -1.4 0M456.9 194.5a.7 .7 0 1 0 1.4 0a.7 .7 0 1 0 -1.4 0M460.1 204.2a.7 .7 0 1 0 1.4 0a.7 .7 0 1 0 -1.4 0M459.7 195.4a.7 .7 0 1 0 1.4 0a.7 .7 0 1 0 -1.4 0M457.6 192.0a.7 .7 0 1 0 1.4 0a.7 .7 0 1 0 -1.4 0M459.3 198.1a.7 .7 0 1 0 1.4 0a.7 .7 0 1 0 -1.4 0M455.7 207.8a.7 .7 0 1 0 1.4 0a.7 .7 0 1 0 -1.4 0M481.8 212.0a.7 .7 0 1 0 1.4 0a.7 .7 0 1 0 -1.4 0M480.1 213.4a.7 .7 0 1 0 1.4 0a.7 .7 0 1 0 -1.4 0M483.4 186.1a.7 .7 0 1 0 1.4 0a.7 .7 0 1 0 -1.4 0M483.0 129.2a.7 .7 0 1 0 1.4 0a.7 .7 0 1 0 -1.4 0M481.2 210.8a.7 .7 0 1 0 1.4 0a.7 .7 0 1 0 -1.4 0M482.2 146.7a.7 .7 0 1 0 1.4 0a.7 .7 0 1 0 -1.4 0M480.1 144.2a.7 .7 0 1 0 1.4 0a.7 .7 0 1 0 -1.4 0M481.4 136.3a.7 .7 0 1 0 1.4 0a.7 .7 0 1 0 -1.4 0M485.1 208.6a.7 .7 0 1 0 1.4 0a.7 .7 0 1 0 -1.4 0M481.4 120.3a.7 .7 0 1 0 1.4 0a.7 .7 0 1 0 -1.4 0M481.3 190.1a.7 .7 0 1 0 1.4 0a.7 .7 0 1 0 -1.4 0M483.7 214.8a.7 .7 0 1 0 1.4 0a.7 .7 0 1 0 -1.4 0M481.7 162.2a.7 .7 0 1 0 1.4 0a.7 .7 0 1 0 -1.4 0M482.2 181.9a.7 .7 0 1 0 1.4 0a.7 .7 0 1 0 -1.4 0M481.3 212.9a.7 .7 0 1 0 1.4 0a.7 .7 0 1 0 -1.4 0M481.5 176.3a.7 .7 0 1 0 1.4 0a.7 .7 0 1 0 -1.4 0M481.9 192.9a.7 .7 0 1 0 1.4 0a.7 .7 0 1 0 -1.4 0M484.8 213.4a.7 .7 0 1 0 1.4 0a.7 .7 0 1 0 -1.4 0M481.1 121.3a.7 .7 0 1 0 1.4 0a.7 .7 0 1 0 -1.4 0M483.6 176.5a.7 .7 0 1 0 1.4 0a.7 .7 0 1 0 -1.4 0M482.5 146.0a.7 .7 0 1 0 1.4 0a.7 .7 0 1 0 -1.4 0M481.7 121.9a.7 .7 0 1 0 1.4 0a.7 .7 0 1 0 -1.4 0M480.9 209.7a.7 .7 0 1 0 1.4 0a.7 .7 0 1 0 -1.4 0M480.8 174.8a.7 .7 0 1 0 1.4 0a.7 .7 0 1 0 -1.4 0M480.6 204.1a.7 .7 0 1 0 1.4 0a.7 .7 0 1 0 -1.4 0M481.8 215.3a.7 .7 0 1 0 1.4 0a.7 .7 0 1 0 -1.4 0M481.9 136.9a.7 .7 0 1 0 1.4 0a.7 .7 0 1 0 -1.4 0M479.9 210.8a.7 .7 0 1 0 1.4 0a.7 .7 0 1 0 -1.4 0M484.0 212.6a.7 .7 0 1 0 1.4 0a.7 .7 0 1 0 -1.4 0M481.7 116.5a.7 .7 0 1 0 1.4 0a.7 .7 0 1 0 -1.4 0M480.5 126.4a.7 .7 0 1 0 1.4 0a.7 .7 0 1 0 -1.4 0M483.3 163.1a.7 .7 0 1 0 1.4 0a.7 .7 0 1 0 -1.4 0M481.9 209.3a.7 .7 0 1 0 1.4 0a.7 .7 0 1 0 -1.4 0M483.4 200.6a.7 .7 0 1 0 1.4 0a.7 .7 0 1 0 -1.4 0M483.2 139.0a.7 .7 0 1 0 1.4 0a.7 .7 0 1 0 -1.4 0M485.1 207.0a.7 .7 0 1 0 1.4 0a.7 .7 0 1 0 -1.4 0M482.3 198.8a.7 .7 0 1 0 1.4 0a.7 .7 0 1 0 -1.4 0M482.5 179.6a.7 .7 0 1 0 1.4 0a.7 .7 0 1 0 -1.4 0M481.2 213.4a.7 .7 0 1 0 1.4 0a.7 .7 0 1 0 -1.4 0M481.1 178.0a.7 .7 0 1 0 1.4 0a.7 .7 0 1 0 -1.4 0M481.8 215.3a.7 .7 0 1 0 1.4 0a.7 .7 0 1 0 -1.4 0M483.0 207.8a.7 .7 0 1 0 1.4 0a.7 .7 0 1 0 -1.4 0M484.8 215.3a.7 .7 0 1 0 1.4 0a.7 .7 0 1 0 -1.4 0M481.4 210.2a.7 .7 0 1 0 1.4 0a.7 .7 0 1 0 -1.4 0M480.3 214.0a.7 .7 0 1 0 1.4 0a.7 .7 0 1 0 -1.4 0M479.8 213.2a.7 .7 0 1 0 1.4 0a.7 .7 0 1 0 -1.4 0M482.2 215.4a.7 .7 0 1 0 1.4 0a.7 .7 0 1 0 -1.4 0M482.9 206.9a.7 .7 0 1 0 1.4 0a.7 .7 0 1 0 -1.4 0M481.7 181.9a.7 .7 0 1 0 1.4 0a.7 .7 0 1 0 -1.4 0M480.8 198.1a.7 .7 0 1 0 1.4 0a.7 .7 0 1 0 -1.4 0M481.7 187.7a.7 .7 0 1 0 1.4 0a.7 .7 0 1 0 -1.4 0M507.0 122.2a.7 .7 0 1 0 1.4 0a.7 .7 0 1 0 -1.4 0M506.5 167.4a.7 .7 0 1 0 1.4 0a.7 .7 0 1 0 -1.4 0M507.5 131.7a.7 .7 0 1 0 1.4 0a.7 .7 0 1 0 -1.4 0M507.2 154.5a.7 .7 0 1 0 1.4 0a.7 .7 0 1 0 -1.4 0M504.5 160.1a.7 .7 0 1 0 1.4 0a.7 .7 0 1 0 -1.4 0M505.9 176.1a.7 .7 0 1 0 1.4 0a.7 .7 0 1 0 -1.4 0M504.7 126.8a.7 .7 0 1 0 1.4 0a.7 .7 0 1 0 -1.4 0M504.4 204.0a.7 .7 0 1 0 1.4 0a.7 .7 0 1 0 -1.4 0M504.2 215.2a.7 .7 0 1 0 1.4 0a.7 .7 0 1 0 -1.4 0M505.5 198.0a.7 .7 0 1 0 1.4 0a.7 .7 0 1 0 -1.4 0M506.2 173.4a.7 .7 0 1 0 1.4 0a.7 .7 0 1 0 -1.4 0M509.2 203.1a.7 .7 0 1 0 1.4 0a.7 .7 0 1 0 -1.4 0M504.6 184.1a.7 .7 0 1 0 1.4 0a.7 .7 0 1 0 -1.4 0M504.1 197.2a.7 .7 0 1 0 1.4 0a.7 .7 0 1 0 -1.4 0M507.5 93.2a.7 .7 0 1 0 1.4 0a.7 .7 0 1 0 -1.4 0M507.1 161.2a.7 .7 0 1 0 1.4 0a.7 .7 0 1 0 -1.4 0M504.9 210.7a.7 .7 0 1 0 1.4 0a.7 .7 0 1 0 -1.4 0M508.2 100.7a.7 .7 0 1 0 1.4 0a.7 .7 0 1 0 -1.4 0M507.5 190.5a.7 .7 0 1 0 1.4 0a.7 .7 0 1 0 -1.4 0M505.9 196.9a.7 .7 0 1 0 1.4 0a.7 .7 0 1 0 -1.4 0M507.7 145.1a.7 .7 0 1 0 1.4 0a.7 .7 0 1 0 -1.4 0M505.7 206.0a.7 .7 0 1 0 1.4 0a.7 .7 0 1 0 -1.4 0M505.4 164.6a.7 .7 0 1 0 1.4 0a.7 .7 0 1 0 -1.4 0M507.4 193.1a.7 .7 0 1 0 1.4 0a.7 .7 0 1 0 -1.4 0M508.9 199.3a.7 .7 0 1 0 1.4 0a.7 .7 0 1 0 -1.4 0M508.8 166.1a.7 .7 0 1 0 1.4 0a.7 .7 0 1 0 -1.4 0M505.2 144.2a.7 .7 0 1 0 1.4 0a.7 .7 0 1 0 -1.4 0M507.5 164.5a.7 .7 0 1 0 1.4 0a.7 .7 0 1 0 -1.4 0M507.6 91.4a.7 .7 0 1 0 1.4 0a.7 .7 0 1 0 -1.4 0M507.4 164.7a.7 .7 0 1 0 1.4 0a.7 .7 0 1 0 -1.4 0M506.7 141.4a.7 .7 0 1 0 1.4 0a.7 .7 0 1 0 -1.4 0M505.1 175.1a.7 .7 0 1 0 1.4 0a.7 .7 0 1 0 -1.4 0M506.5 139.3a.7 .7 0 1 0 1.4 0a.7 .7 0 1 0 -1.4 0M508.6 159.2a.7 .7 0 1 0 1.4 0a.7 .7 0 1 0 -1.4 0M505.6 102.8a.7 .7 0 1 0 1.4 0a.7 .7 0 1 0 -1.4 0M504.9 214.5a.7 .7 0 1 0 1.4 0a.7 .7 0 1 0 -1.4 0M505.4 142.7a.7 .7 0 1 0 1.4 0a.7 .7 0 1 0 -1.4 0M506.8 179.6a.7 .7 0 1 0 1.4 0a.7 .7 0 1 0 -1.4 0M508.2 166.5a.7 .7 0 1 0 1.4 0a.7 .7 0 1 0 -1.4 0M505.6 138.4a.7 .7 0 1 0 1.4 0a.7 .7 0 1 0 -1.4 0M507.8 192.1a.7 .7 0 1 0 1.4 0a.7 .7 0 1 0 -1.4 0M508.3 118.9a.7 .7 0 1 0 1.4 0a.7 .7 0 1 0 -1.4 0M507.3 119.9a.7 .7 0 1 0 1.4 0a.7 .7 0 1 0 -1.4 0M506.1 184.7a.7 .7 0 1 0 1.4 0a.7 .7 0 1 0 -1.4 0M509.2 201.2a.7 .7 0 1 0 1.4 0a.7 .7 0 1 0 -1.4 0M504.0 212.5a.7 .7 0 1 0 1.4 0a.7 .7 0 1 0 -1.4 0M506.4 167.5a.7 .7 0 1 0 1.4 0a.7 .7 0 1 0 -1.4 0M508.4 177.3a.7 .7 0 1 0 1.4 0a.7 .7 0 1 0 -1.4 0M505.1 199.6a.7 .7 0 1 0 1.4 0a.7 .7 0 1 0 -1.4 0M506.7 214.3a.7 .7 0 1 0 1.4 0a.7 .7 0 1 0 -1.4 0M506.1 181.7a.7 .7 0 1 0 1.4 0a.7 .7 0 1 0 -1.4 0M506.2 185.8a.7 .7 0 1 0 1.4 0a.7 .7 0 1 0 -1.4 0M508.6 170.4a.7 .7 0 1 0 1.4 0a.7 .7 0 1 0 -1.4 0M504.1 208.0a.7 .7 0 1 0 1.4 0a.7 .7 0 1 0 -1.4 0M504.2 209.8a.7 .7 0 1 0 1.4 0a.7 .7 0 1 0 -1.4 0M508.7 167.1a.7 .7 0 1 0 1.4 0a.7 .7 0 1 0 -1.4 0M504.8 179.6a.7 .7 0 1 0 1.4 0a.7 .7 0 1 0 -1.4 0M506.9 177.2a.7 .7 0 1 0 1.4 0a.7 .7 0 1 0 -1.4 0M506.1 191.0a.7 .7 0 1 0 1.4 0a.7 .7 0 1 0 -1.4 0M508.9 203.5a.7 .7 0 1 0 1.4 0a.7 .7 0 1 0 -1.4 0M505.1 192.0a.7 .7 0 1 0 1.4 0a.7 .7 0 1 0 -1.4 0M507.5 180.5a.7 .7 0 1 0 1.4 0a.7 .7 0 1 0 -1.4 0M506.2 208.0a.7 .7 0 1 0 1.4 0a.7 .7 0 1 0 -1.4 0M508.7 183.7a.7 .7 0 1 0 1.4 0a.7 .7 0 1 0 -1.4 0M506.0 196.9a.7 .7 0 1 0 1.4 0a.7 .7 0 1 0 -1.4 0M507.0 205.8a.7 .7 0 1 0 1.4 0a.7 .7 0 1 0 -1.4 0M529.2 172.7a.7 .7 0 1 0 1.4 0a.7 .7 0 1 0 -1.4 0M529.3 193.3a.7 .7 0 1 0 1.4 0a.7 .7 0 1 0 -1.4 0M533.0 169.5a.7 .7 0 1 0 1.4 0a.7 .7 0 1 0 -1.4 0M529.8 183.2a.7 .7 0 1 0 1.4 0a.7 .7 0 1 0 -1.4 0M530.2 146.7a.7 .7 0 1 0 1.4 0a.7 .7 0 1 0 -1.4 0M531.8 203.6a.7 .7 0 1 0 1.4 0a.7 .7 0 1 0 -1.4 0M533.7 200.9a.7 .7 0 1 0 1.4 0a.7 .7 0 1 0 -1.4 0M531.4 170.4a.7 .7 0 1 0 1.4 0a.7 .7 0 1 0 -1.4 0M532.8 202.0a.7 .7 0 1 0 1.4 0a.7 .7 0 1 0 -1.4 0M531.7 200.7a.7 .7 0 1 0 1.4 0a.7 .7 0 1 0 -1.4 0M529.1 183.0a.7 .7 0 1 0 1.4 0a.7 .7 0 1 0 -1.4 0M529.7 134.3a.7 .7 0 1 0 1.4 0a.7 .7 0 1 0 -1.4 0M532.0 164.5a.7 .7 0 1 0 1.4 0a.7 .7 0 1 0 -1.4 0M530.0 200.6a.7 .7 0 1 0 1.4 0a.7 .7 0 1 0 -1.4 0M530.5 197.4a.7 .7 0 1 0 1.4 0a.7 .7 0 1 0 -1.4 0M532.8 100.2a.7 .7 0 1 0 1.4 0a.7 .7 0 1 0 -1.4 0M530.9 107.7a.7 .7 0 1 0 1.4 0a.7 .7 0 1 0 -1.4 0M529.5 128.8a.7 .7 0 1 0 1.4 0a.7 .7 0 1 0 -1.4 0M529.7 117.0a.7 .7 0 1 0 1.4 0a.7 .7 0 1 0 -1.4 0M531.3 188.8a.7 .7 0 1 0 1.4 0a.7 .7 0 1 0 -1.4 0M531.1 118.5a.7 .7 0 1 0 1.4 0a.7 .7 0 1 0 -1.4 0M532.8 115.5a.7 .7 0 1 0 1.4 0a.7 .7 0 1 0 -1.4 0M528.9 118.3a.7 .7 0 1 0 1.4 0a.7 .7 0 1 0 -1.4 0M533.0 113.0a.7 .7 0 1 0 1.4 0a.7 .7 0 1 0 -1.4 0M530.4 183.4a.7 .7 0 1 0 1.4 0a.7 .7 0 1 0 -1.4 0M532.3 107.9a.7 .7 0 1 0 1.4 0a.7 .7 0 1 0 -1.4 0M531.0 123.8a.7 .7 0 1 0 1.4 0a.7 .7 0 1 0 -1.4 0M532.8 176.8a.7 .7 0 1 0 1.4 0a.7 .7 0 1 0 -1.4 0M530.3 157.3a.7 .7 0 1 0 1.4 0a.7 .7 0 1 0 -1.4 0M531.4 167.4a.7 .7 0 1 0 1.4 0a.7 .7 0 1 0 -1.4 0M529.1 201.9a.7 .7 0 1 0 1.4 0a.7 .7 0 1 0 -1.4 0M530.0 151.9a.7 .7 0 1 0 1.4 0a.7 .7 0 1 0 -1.4 0M528.4 181.5a.7 .7 0 1 0 1.4 0a.7 .7 0 1 0 -1.4 0M531.7 200.1a.7 .7 0 1 0 1.4 0a.7 .7 0 1 0 -1.4 0M530.0 130.0a.7 .7 0 1 0 1.4 0a.7 .7 0 1 0 -1.4 0M528.7 184.2a.7 .7 0 1 0 1.4 0a.7 .7 0 1 0 -1.4 0M532.9 181.7a.7 .7 0 1 0 1.4 0a.7 .7 0 1 0 -1.4 0M531.1 178.2a.7 .7 0 1 0 1.4 0a.7 .7 0 1 0 -1.4 0M528.9 194.1a.7 .7 0 1 0 1.4 0a.7 .7 0 1 0 -1.4 0M530.8 201.5a.7 .7 0 1 0 1.4 0a.7 .7 0 1 0 -1.4 0M528.4 171.0a.7 .7 0 1 0 1.4 0a.7 .7 0 1 0 -1.4 0"/>
<path d="M314.4 213.9a.7 .7 0 1 0 1.4 0a.7 .7 0 1 0 -1.4 0M312.3 212.6a.7 .7 0 1 0 1.4 0a.7 .7 0 1 0 -1.4 0M312.4 209.6a.7 .7 0 1 0 1.4 0a.7 .7 0 1 0 -1.4 0M313.7 215.5a.7 .7 0 1 0 1.4 0a.7 .7 0 1 0 -1.4 0M313.2 212.2a.7 .7 0 1 0 1.4 0a.7 .7 0 1 0 -1.4 0M313.0 211.7a.7 .7 0 1 0 1.4 0a.7 .7 0 1 0 -1.4 0M311.2 213.9a.7 .7 0 1 0 1.4 0a.7 .7 0 1 0 -1.4 0M313.3 210.4a.7 .7 0 1 0 1.4 0a.7 .7 0 1 0 -1.4 0M334.8 202.3a.7 .7 0 1 0 1.4 0a.7 .7 0 1 0 -1.4 0M336.6 205.0a.7 .7 0 1 0 1.4 0a.7 .7 0 1 0 -1.4 0M335.2 209.2a.7 .7 0 1 0 1.4 0a.7 .7 0 1 0 -1.4 0M334.6 211.3a.7 .7 0 1 0 1.4 0a.7 .7 0 1 0 -1.4 0M336.4 215.3a.7 .7 0 1 0 1.4 0a.7 .7 0 1 0 -1.4 0M336.2 207.5a.7 .7 0 1 0 1.4 0a.7 .7 0 1 0 -1.4 0M337.4 206.1a.7 .7 0 1 0 1.4 0a.7 .7 0 1 0 -1.4 0M338.0 213.4a.7 .7 0 1 0 1.4 0a.7 .7 0 1 0 -1.4 0M337.0 205.9a.7 .7 0 1 0 1.4 0a.7 .7 0 1 0 -1.4 0M361.1 210.5a.7 .7 0 1 0 1.4 0a.7 .7 0 1 0 -1.4 0M361.1 212.7a.7 .7 0 1 0 1.4 0a.7 .7 0 1 0 -1.4 0M360.8 210.6a.7 .7 0 1 0 1.4 0a.7 .7 0 1 0 -1.4 0M360.0 209.3a.7 .7 0 1 0 1.4 0a.7 .7 0 1 0 -1.4 0M360.0 210.6a.7 .7 0 1 0 1.4 0a.7 .7 0 1 0 -1.4 0M359.6 213.1a.7 .7 0 1 0 1.4 0a.7 .7 0 1 0 -1.4 0M360.1 205.8a.7 .7 0 1 0 1.4 0a.7 .7 0 1 0 -1.4 0M360.8 211.0a.7 .7 0 1 0 1.4 0a.7 .7 0 1 0 -1.4 0M360.9 212.2a.7 .7 0 1 0 1.4 0a.7 .7 0 1 0 -1.4 0M361.2 199.4a.7 .7 0 1 0 1.4 0a.7 .7 0 1 0 -1.4 0M359.5 199.5a.7 .7 0 1 0 1.4 0a.7 .7 0 1 0 -1.4 0M361.2 200.9a.7 .7 0 1 0 1.4 0a.7 .7 0 1 0 -1.4 0M383.4 188.7a.7 .7 0 1 0 1.4 0a.7 .7 0 1 0 -1.4 0M383.4 209.0a.7 .7 0 1 0 1.4 0a.7 .7 0 1 0 -1.4 0M386.1 212.1a.7 .7 0 1 0 1.4 0a.7 .7 0 1 0 -1.4 0M383.7 188.0a.7 .7 0 1 0 1.4 0a.7 .7 0 1 0 -1.4 0M383.4 193.6a.7 .7 0 1 0 1.4 0a.7 .7 0 1 0 -1.4 0M385.4 212.0a.7 .7 0 1 0 1.4 0a.7 .7 0 1 0 -1.4 0M384.1 194.0a.7 .7 0 1 0 1.4 0a.7 .7 0 1 0 -1.4 0M387.2 198.8a.7 .7 0 1 0 1.4 0a.7 .7 0 1 0 -1.4 0M410.5 208.5a.7 .7 0 1 0 1.4 0a.7 .7 0 1 0 -1.4 0M409.8 215.1a.7 .7 0 1 0 1.4 0a.7 .7 0 1 0 -1.4 0M410.6 214.5a.7 .7 0 1 0 1.4 0a.7 .7 0 1 0 -1.4 0M407.9 211.5a.7 .7 0 1 0 1.4 0a.7 .7 0 1 0 -1.4 0M407.7 214.4a.7 .7 0 1 0 1.4 0a.7 .7 0 1 0 -1.4 0M411.4 210.7a.7 .7 0 1 0 1.4 0a.7 .7 0 1 0 -1.4 0M408.8 214.7a.7 .7 0 1 0 1.4 0a.7 .7 0 1 0 -1.4 0M408.0 213.8a.7 .7 0 1 0 1.4 0a.7 .7 0 1 0 -1.4 0M433.3 214.7a.7 .7 0 1 0 1.4 0a.7 .7 0 1 0 -1.4 0M433.1 211.1a.7 .7 0 1 0 1.4 0a.7 .7 0 1 0 -1.4 0M434.8 213.3a.7 .7 0 1 0 1.4 0a.7 .7 0 1 0 -1.4 0M432.5 210.0a.7 .7 0 1 0 1.4 0a.7 .7 0 1 0 -1.4 0M433.8 207.2a.7 .7 0 1 0 1.4 0a.7 .7 0 1 0 -1.4 0M435.5 209.3a.7 .7 0 1 0 1.4 0a.7 .7 0 1 0 -1.4 0M457.2 147.2a.7 .7 0 1 0 1.4 0a.7 .7 0 1 0 -1.4 0M455.7 186.9a.7 .7 0 1 0 1.4 0a.7 .7 0 1 0 -1.4 0M455.9 198.6a.7 .7 0 1 0 1.4 0a.7 .7 0 1 0 -1.4 0M460.3 198.6a.7 .7 0 1 0 1.4 0a.7 .7 0 1 0 -1.4 0M457.5 198.1a.7 .7 0 1 0 1.4 0a.7 .7 0 1 0 -1.4 0M456.5 181.8a.7 .7 0 1 0 1.4 0a.7 .7 0 1 0 -1.4 0M458.9 153.4a.7 .7 0 1 0 1.4 0a.7 .7 0 1 0 -1.4 0M458.7 199.2a.7 .7 0 1 0 1.4 0a.7 .7 0 1 0 -1.4 0M457.8 161.7a.7 .7 0 1 0 1.4 0a.7 .7 0 1 0 -1.4 0M458.5 214.1a.7 .7 0 1 0 1.4 0a.7 .7 0 1 0 -1.4 0M459.1 208.9a.7 .7 0 1 0 1.4 0a.7 .7 0 1 0 -1.4 0M455.7 203.1a.7 .7 0 1 0 1.4 0a.7 .7 0 1 0 -1.4 0M458.7 208.1a.7 .7 0 1 0 1.4 0a.7 .7 0 1 0 -1.4 0M460.0 213.9a.7 .7 0 1 0 1.4 0a.7 .7 0 1 0 -1.4 0M460.2 166.2a.7 .7 0 1 0 1.4 0a.7 .7 0 1 0 -1.4 0M456.2 208.2a.7 .7 0 1 0 1.4 0a.7 .7 0 1 0 -1.4 0M456.9 150.2a.7 .7 0 1 0 1.4 0a.7 .7 0 1 0 -1.4 0M457.2 203.7a.7 .7 0 1 0 1.4 0a.7 .7 0 1 0 -1.4 0M460.1 203.7a.7 .7 0 1 0 1.4 0a.7 .7 0 1 0 -1.4 0M455.8 195.8a.7 .7 0 1 0 1.4 0a.7 .7 0 1 0 -1.4 0M460.5 172.4a.7 .7 0 1 0 1.4 0a.7 .7 0 1 0 -1.4 0M458.1 196.7a.7 .7 0 1 0 1.4 0a.7 .7 0 1 0 -1.4 0M459.3 197.8a.7 .7 0 1 0 1.4 0a.7 .7 0 1 0 -1.4 0M459.1 145.9a.7 .7 0 1 0 1.4 0a.7 .7 0 1 0 -1.4 0M457.1 181.7a.7 .7 0 1 0 1.4 0a.7 .7 0 1 0 -1.4 0M457.7 174.8a.7 .7 0 1 0 1.4 0a.7 .7 0 1 0 -1.4 0M460.2 189.1a.7 .7 0 1 0 1.4 0a.7 .7 0 1 0 -1.4 0M460.2 144.3a.7 .7 0 1 0 1.4 0a.7 .7 0 1 0 -1.4 0M460.3 204.7a.7 .7 0 1 0 1.4 0a.7 .7 0 1 0 -1.4 0M456.8 151.8a.7 .7 0 1 0 1.4 0a.7 .7 0 1 0 -1.4 0M456.2 205.1a.7 .7 0 1 0 1.4 0a.7 .7 0 1 0 -1.4 0M457.4 209.8a.7 .7 0 1 0 1.4 0a.7 .7 0 1 0 -1.4 0M455.8 214.9a.7 .7 0 1 0 1.4 0a.7 .7 0 1 0 -1.4 0M460.9 215.5a.7 .7 0 1 0 1.4 0a.7 .7 0 1 0 -1.4 0M457.4 206.6a.7 .7 0 1 0 1.4 0a.7 .7 0 1 0 -1.4 0M459.9 202.4a.7 .7 0 1 0 1.4 0a.7 .7 0 1 0 -1.4 0M456.0 191.0a.7 .7 0 1 0 1.4 0a.7 .7 0 1 0 -1.4 0M459.6 206.3a.7 .7 0 1 0 1.4 0a.7 .7 0 1 0 -1.4 0M457.5 194.1a.7 .7 0 1 0 1.4 0a.7 .7 0 1 0 -1.4 0M458.9 204.3a.7 .7 0 1 0 1.4 0a.7 .7 0 1 0 -1.4 0M456.3 195.1a.7 .7 0 1 0 1.4 0a.7 .7 0 1 0 -1.4 0M456.6 189.1a.7 .7 0 1 0 1.4 0a.7 .7 0 1 0 -1.4 0M459.9 215.3a.7 .7 0 1 0 1.4 0a.7 .7 0 1 0 -1.4 0M456.1 193.7a.7 .7 0 1 0 1.4 0a.7 .7 0 1 0 -1.4 0M460.4 214.2a.7 .7 0 1 0 1.4 0a.7 .7 0 1 0 -1.4 0M456.9 199.2a.7 .7 0 1 0 1.4 0a.7 .7 0 1 0 -1.4 0M458.1 194.4a.7 .7 0 1 0 1.4 0a.7 .7 0 1 0 -1.4 0M460.1 210.9a.7 .7 0 1 0 1.4 0a.7 .7 0 1 0 -1.4 0M480.4 215.3a.7 .7 0 1 0 1.4 0a.7 .7 0 1 0 -1.4 0M482.7 144.6a.7 .7 0 1 0 1.4 0a.7 .7 0 1 0 -1.4 0M484.6 200.9a.7 .7 0 1 0 1.4 0a.7 .7 0 1 0 -1.4 0M480.9 184.1a.7 .7 0 1 0 1.4 0a.7 .7 0 1 0 -1.4 0M481.4 193.0a.7 .7 0 1 0 1.4 0a.7 .7 0 1 0 -1.4 0M480.7 126.8a.7 .7 0 1 0 1.4 0a.7 .7 0 1 0 -1.4 0M484.7 187.6a.7 .7 0 1 0 1.4 0a.7 .7 0 1 0 -1.4 0M481.6 192.5a.7 .7 0 1 0 1.4 0a.7 .7 0 1 0 -1.4 0M480.6 175.8a.7 .7 0 1 0 1.4 0a.7 .7 0 1 0 -1.4 0M483.4 115.7a.7 .7 0 1 0 1.4 0a.7 .7 0 1 0 -1.4 0M483.8 164.1a.7 .7 0 1 0 1.4 0a.7 .7 0 1 0 -1.4 0M485.1 210.8a.7 .7 0 1 0 1.4 0a.7 .7 0 1 0 -1.4 0M484.8 185.0a.7 .7 0 1 0 1.4 0a.7 .7 0 1 0 -1.4 0M480.5 204.6a.7 .7 0 1 0 1.4 0a.7 .7 0 1 0 -1.4 0M484.0 197.2a.7 .7 0 1 0 1.4 0a.7 .7 0 1 0 -1.4 0M481.1 155.0a.7 .7 0 1 0 1.4 0a.7 .7 0 1 0 -1.4 0M480.6 169.8a.7 .7 0 1 0 1.4 0a.7 .7 0 1 0 -1.4 0M482.8 140.4a.7 .7 0 1 0 1.4 0a.7 .7 0 1 0 -1.4 0M481.6 152.4a.7 .7 0 1 0 1.4 0a.7 .7 0 1 0 -1.4 0M484.7 156.1a.7 .7 0 1 0 1.4 0a.7 .7 0 1 0 -1.4 0M480.5 122.3a.7 .7 0 1 0 1.4 0a.7 .7 0 1 0 -1.4 0M481.0 120.2a.7 .7 0 1 0 1.4 0a.7 .7 0 1 0 -1.4 0M482.9 139.6a.7 .7 0 1 0 1.4 0a.7 .7 0 1 0 -1.4 0M483.7 120.2a.7 .7 0 1 0 1.4 0a.7 .7 0 1 0 -1.4 0M481.9 212.9a.7 .7 0 1 0 1.4 0a.7 .7 0 1 0 -1.4 0M481.4 164.4a.7 .7 0 1 0 1.4 0a.7 .7 0 1 0 -1.4 0M483.0 145.3a.7 .7 0 1 0 1.4 0a.7 .7 0 1 0 -1.4 0M481.3 162.3a.7 .7 0 1 0 1.4 0a.7 .7 0 1 0 -1.4 0M482.1 193.7a.7 .7 0 1 0 1.4 0a.7 .7 0 1 0 -1.4 0M481.3 139.4a.7 .7 0 1 0 1.4 0a.7 .7 0 1 0 -1.4 0M482.3 127.4a.7 .7 0 1 0 1.4 0a.7 .7 0 1 0 -1.4 0M481.9 170.8a.7 .7 0 1 0 1.4 0a.7 .7 0 1 0 -1.4 0M483.0 145.4a.7 .7 0 1 0 1.4 0a.7 .7 0 1 0 -1.4 0M482.8 178.9a.7 .7 0 1 0 1.4 0a.7 .7 0 1 0 -1.4 0M483.1 178.3a.7 .7 0 1 0 1.4 0a.7 .7 0 1 0 -1.4 0M480.7 214.4a.7 .7 0 1 0 1.4 0a.7 .7 0 1 0 -1.4 0M483.2 199.7a.7 .7 0 1 0 1.4 0a.7 .7 0 1 0 -1.4 0M482.3 203.3a.7 .7 0 1 0 1.4 0a.7 .7 0 1 0 -1.4 0M480.5 214.7a.7 .7 0 1 0 1.4 0a.7 .7 0 1 0 -1.4 0M484.3 195.0a.7 .7 0 1 0 1.4 0a.7 .7 0 1 0 -1.4 0M483.3 198.5a.7 .7 0 1 0 1.4 0a.7 .7 0 1 0 -1.4 0M483.5 213.6a.7 .7 0 1 0 1.4 0a.7 .7 0 1 0 -1.4 0M480.5 192.2a.7 .7 0 1 0 1.4 0a.7 .7 0 1 0 -1.4 0M479.8 215.4a.7 .7 0 1 0 1.4 0a.7 .7 0 1 0 -1.4 0M482.7 186.5a.7 .7 0 1 0 1.4 0a.7 .7 0 1 0 -1.4 0M480.3 187.3a.7 .7 0 1 0 1.4 0a.7 .7 0 1 0 -1.4 0M481.9 194.3a.7 .7 0 1 0 1.4 0a.7 .7 0 1 0 -1.4 0M483.4 189.3a.7 .7 0 1 0 1.4 0a.7 .7 0 1 0 -1.4 0M482.4 197.7a.7 .7 0 1 0 1.4 0a.7 .7 0 1 0 -1.4 0M481.0 212.4a.7 .7 0 1 0 1.4 0a.7 .7 0 1 0 -1.4 0M480.9 205.5a.7 .7 0 1 0 1.4 0a.7 .7 0 1 0 -1.4 0M483.7 197.1a.7 .7 0 1 0 1.4 0a.7 .7 0 1 0 -1.4 0M506.6 200.9a.7 .7 0 1 0 1.4 0a.7 .7 0 1 0 -1.4 0M507.2 199.8a.7 .7 0 1 0 1.4 0a.7 .7 0 1 0 -1.4 0M505.1 177.4a.7 .7 0 1 0 1.4 0a.7 .7 0 1 0 -1.4 0M504.6 210.5a.7 .7 0 1 0 1.4 0a.7 .7 0 1 0 -1.4 0M508.6 214.9a.7 .7 0 1 0 1.4 0a.7 .7 0 1 0 -1.4 0M506.1 148.9a.7 .7 0 1 0 1.4 0a.7 .7 0 1 0 -1.4 0M504.7 128.0a.7 .7 0 1 0 1.4 0a.7 .7 0 1 0 -1.4 0M508.1 134.5a.7 .7 0 1 0 1.4 0a.7 .7 0 1 0 -1.4 0M505.7 123.4a.7 .7 0 1 0 1.4 0a.7 .7 0 1 0 -1.4 0M506.5 124.7a.7 .7 0 1 0 1.4 0a.7 .7 0 1 0 -1.4 0M505.3 148.4a.7 .7 0 1 0 1.4 0a.7 .7 0 1 0 -1.4 0M505.3 124.4a.7 .7 0 1 0 1.4 0a.7 .7 0 1 0 -1.4 0M505.3 176.8a.7 .7 0 1 0 1.4 0a.7 .7 0 1 0 -1.4 0M507.7 191.8a.7 .7 0 1 0 1.4 0a.7 .7 0 1 0 -1.4 0M505.4 184.8a.7 .7 0 1 0 1.4 0a.7 .7 0 1 0 -1.4 0M505.1 187.2a.7 .7 0 1 0 1.4 0a.7 .7 0 1 0 -1.4 0M506.8 145.4a.7 .7 0 1 0 1.4 0a.7 .7 0 1 0 -1.4 0M504.8 96.6a.7 .7 0 1 0 1.4 0a.7 .7 0 1 0 -1.4 0M504.7 141.3a.7 .7 0 1 0 1.4 0a.7 .7 0 1 0 -1.4 0M505.7 183.5a.7 .7 0 1 0 1.4 0a.7 .7 0 1 0 -1.4 0M506.2 170.3a.7 .7 0 1 0 1.4 0a.7 .7 0 1 0 -1.4 0M504.7 159.3a.7 .7 0 1 0 1.4 0a.7 .7 0 1 0 -1.4 0M506.1 212.5a.7 .7 0 1 0 1.4 0a.7 .7 0 1 0 -1.4 0M508.1 175.5a.7 .7 0 1 0 1.4 0a.7 .7 0 1 0 -1.4 0M507.7 99.3a.7 .7 0 1 0 1.4 0a.7 .7 0 1 0 -1.4 0M509.1 189.2a.7 .7 0 1 0 1.4 0a.7 .7 0 1 0 -1.4 0M508.3 106.6a.7 .7 0 1 0 1.4 0a.7 .7 0 1 0 -1.4 0M506.3 202.8a.7 .7 0 1 0 1.4 0a.7 .7 0 1 0 -1.4 0M508.1 114.4a.7 .7 0 1 0 1.4 0a.7 .7 0 1 0 -1.4 0M507.3 185.8a.7 .7 0 1 0 1.4 0a.7 .7 0 1 0 -1.4 0M507.7 210.4a.7 .7 0 1 0 1.4 0a.7 .7 0 1 0 -1.4 0M508.0 115.0a.7 .7 0 1 0 1.4 0a.7 .7 0 1 0 -1.4 0M504.6 128.3a.7 .7 0 1 0 1.4 0a.7 .7 0 1 0 -1.4 0M504.6 206.5a.7 .7 0 1 0 1.4 0a.7 .7 0 1 0 -1.4 0M505.8 194.2a.7 .7 0 1 0 1.4 0a.7 .7 0 1 0 -1.4 0M507.4 204.8a.7 .7 0 1 0 1.4 0a.7 .7 0 1 0 -1.4 0M504.8 212.0a.7 .7 0 1 0 1.4 0a.7 .7 0 1 0 -1.4 0M508.8 137.9a.7 .7 0 1 0 1.4 0a.7 .7 0 1 0 -1.4 0M508.8 138.7a.7 .7 0 1 0 1.4 0a.7 .7 0 1 0 -1.4 0M505.4 124.2a.7 .7 0 1 0 1.4 0a.7 .7 0 1 0 -1.4 0M504.9 214.9a.7 .7 0 1 0 1.4 0a.7 .7 0 1 0 -1.4 0M507.9 162.5a.7 .7 0 1 0 1.4 0a.7 .7 0 1 0 -1.4 0M505.1 210.2a.7 .7 0 1 0 1.4 0a.7 .7 0 1 0 -1.4 0M504.3 204.5a.7 .7 0 1 0 1.4 0a.7 .7 0 1 0 -1.4 0M504.7 206.5a.7 .7 0 1 0 1.4 0a.7 .7 0 1 0 -1.4 0M506.7 181.0a.7 .7 0 1 0 1.4 0a.7 .7 0 1 0 -1.4 0M504.8 200.2a.7 .7 0 1 0 1.4 0a.7 .7 0 1 0 -1.4 0M508.5 164.8a.7 .7 0 1 0 1.4 0a.7 .7 0 1 0 -1.4 0M504.2 214.2a.7 .7 0 1 0 1.4 0a.7 .7 0 1 0 -1.4 0M506.4 196.5a.7 .7 0 1 0 1.4 0a.7 .7 0 1 0 -1.4 0M505.6 211.0a.7 .7 0 1 0 1.4 0a.7 .7 0 1 0 -1.4 0M505.2 191.3a.7 .7 0 1 0 1.4 0a.7 .7 0 1 0 -1.4 0M506.7 192.0a.7 .7 0 1 0 1.4 0a.7 .7 0 1 0 -1.4 0M507.8 199.4a.7 .7 0 1 0 1.4 0a.7 .7 0 1 0 -1.4 0M505.1 198.8a.7 .7 0 1 0 1.4 0a.7 .7 0 1 0 -1.4 0M508.2 201.2a.7 .7 0 1 0 1.4 0a.7 .7 0 1 0 -1.4 0M508.3 200.4a.7 .7 0 1 0 1.4 0a.7 .7 0 1 0 -1.4 0M529.5 204.7a.7 .7 0 1 0 1.4 0a.7 .7 0 1 0 -1.4 0M529.9 153.3a.7 .7 0 1 0 1.4 0a.7 .7 0 1 0 -1.4 0M531.2 199.6a.7 .7 0 1 0 1.4 0a.7 .7 0 1 0 -1.4 0M530.3 204.3a.7 .7 0 1 0 1.4 0a.7 .7 0 1 0 -1.4 0M531.6 100.2a.7 .7 0 1 0 1.4 0a.7 .7 0 1 0 -1.4 0M529.2 99.3a.7 .7 0 1 0 1.4 0a.7 .7 0 1 0 -1.4 0M532.9 190.7a.7 .7 0 1 0 1.4 0a.7 .7 0 1 0 -1.4 0M530.5 205.8a.7 .7 0 1 0 1.4 0a.7 .7 0 1 0 -1.4 0M532.3 197.4a.7 .7 0 1 0 1.4 0a.7 .7 0 1 0 -1.4 0M529.2 116.7a.7 .7 0 1 0 1.4 0a.7 .7 0 1 0 -1.4 0M532.6 159.3a.7 .7 0 1 0 1.4 0a.7 .7 0 1 0 -1.4 0M532.1 104.3a.7 .7 0 1 0 1.4 0a.7 .7 0 1 0 -1.4 0M531.5 193.7a.7 .7 0 1 0 1.4 0a.7 .7 0 1 0 -1.4 0M529.8 131.4a.7 .7 0 1 0 1.4 0a.7 .7 0 1 0 -1.4 0M532.5 203.7a.7 .7 0 1 0 1.4 0a.7 .7 0 1 0 -1.4 0M532.9 193.7a.7 .7 0 1 0 1.4 0a.7 .7 0 1 0 -1.4 0M530.7 206.0a.7 .7 0 1 0 1.4 0a.7 .7 0 1 0 -1.4 0M533.8 205.0a.7 .7 0 1 0 1.4 0a.7 .7 0 1 0 -1.4 0M530.8 127.7a.7 .7 0 1 0 1.4 0a.7 .7 0 1 0 -1.4 0M531.7 193.4a.7 .7 0 1 0 1.4 0a.7 .7 0 1 0 -1.4 0M531.2 152.6a.7 .7 0 1 0 1.4 0a.7 .7 0 1 0 -1.4 0M532.0 202.0a.7 .7 0 1 0 1.4 0a.7 .7 0 1 0 -1.4 0M530.0 101.7a.7 .7 0 1 0 1.4 0a.7 .7 0 1 0 -1.4 0M531.8 204.2a.7 .7 0 1 0 1.4 0a.7 .7 0 1 0 -1.4 0M531.6 148.0a.7 .7 0 1 0 1.4 0a.7 .7 0 1 0 -1.4 0M528.8 204.0a.7 .7 0 1 0 1.4 0a.7 .7 0 1 0 -1.4 0M531.5 199.2a.7 .7 0 1 0 1.4 0a.7 .7 0 1 0 -1.4 0M532.3 153.2a.7 .7 0 1 0 1.4 0a.7 .7 0 1 0 -1.4 0M530.0 142.0a.7 .7 0 1 0 1.4 0a.7 .7 0 1 0 -1.4 0M533.5 196.0a.7 .7 0 1 0 1.4 0a.7 .7 0 1 0 -1.4 0M531.1 204.1a.7 .7 0 1 0 1.4 0a.7 .7 0 1 0 -1.4 0M529.9 133.6a.7 .7 0 1 0 1.4 0a.7 .7 0 1 0 -1.4 0M532.4 202.9a.7 .7 0 1 0 1.4 0a.7 .7 0 1 0 -1.4 0"/>
<path d="M310.3 214.0a.7 .7 0 1 0 1.4 0a.7 .7 0 1 0 -1.4 0M313.4 214.2a.7 .7 0 1 0 1.4 0a.7 .7 0 1 0 -1.4 0M311.7 210.1a.7 .7 0 1 0 1.4 0a.7 .7 0 1 0 -1.4 0M314.2 213.1a.7 .7 0 1 0 1.4 0a.7 .7 0 1 0 -1.4 0M313.7 211.4a.7 .7 0 1 0 1.4 0a.7 .7 0 1 0 -1.4 0M313.7 213.7a.7 .7 0 1 0 1.4 0a.7 .7 0 1 0 -1.4 0M335.3 215.2a.7 .7 0 1 0 1.4 0a.7 .7 0 1 0 -1.4 0M338.0 204.4a.7 .7 0 1 0 1.4 0a.7 .7 0 1 0 -1.4 0M337.0 205.6a.7 .7 0 1 0 1.4 0a.7 .7 0 1 0 -1.4 0M337.8 214.3a.7 .7 0 1 0 1.4 0a.7 .7 0 1 0 -1.4 0M337.2 212.6a.7 .7 0 1 0 1.4 0a.7 .7 0 1 0 -1.4 0M338.7 206.7a.7 .7 0 1 0 1.4 0a.7 .7 0 1 0 -1.4 0M335.8 211.4a.7 .7 0 1 0 1.4 0a.7 .7 0 1 0 -1.4 0M335.0 211.0a.7 .7 0 1 0 1.4 0a.7 .7 0 1 0 -1.4 0M360.7 213.6a.7 .7 0 1 0 1.4 0a.7 .7 0 1 0 -1.4 0M360.6 211.5a.7 .7 0 1 0 1.4 0a.7 .7 0 1 0 -1.4 0M360.9 206.1a.7 .7 0 1 0 1.4 0a.7 .7 0 1 0 -1.4 0M361.4 210.1a.7 .7 0 1 0 1.4 0a.7 .7 0 1 0 -1.4 0M360.9 199.0a.7 .7 0 1 0 1.4 0a.7 .7 0 1 0 -1.4 0M360.1 202.6a.7 .7 0 1 0 1.4 0a.7 .7 0 1 0 -1.4 0M385.3 198.5a.7 .7 0 1 0 1.4 0a.7 .7 0 1 0 -1.4 0M385.1 199.1a.7 .7 0 1 0 1.4 0a.7 .7 0 1 0 -1.4 0M384.8 190.1a.7 .7 0 1 0 1.4 0a.7 .7 0 1 0 -1.4 0M384.3 214.0a.7 .7 0 1 0 1.4 0a.7 .7 0 1 0 -1.4 0M385.4 203.4a.7 .7 0 1 0 1.4 0a.7 .7 0 1 0 -1.4 0M384.5 206.0a.7 .7 0 1 0 1.4 0a.7 .7 0 1 0 -1.4 0M385.0 191.3a.7 .7 0 1 0 1.4 0a.7 .7 0 1 0 -1.4 0M383.3 207.8a.7 .7 0 1 0 1.4 0a.7 .7 0 1 0 -1.4 0M383.5 207.1a.7 .7 0 1 0 1.4 0a.7 .7 0 1 0 -1.4 0M384.9 204.4a.7 .7 0 1 0 1.4 0a.7 .7 0 1 0 -1.4 0M384.6 212.0a.7 .7 0 1 0 1.4 0a.7 .7 0 1 0 -1.4 0M387.2 188.6a.7 .7 0 1 0 1.4 0a.7 .7 0 1 0 -1.4 0M385.3 198.6a.7 .7 0 1 0 1.4 0a.7 .7 0 1 0 -1.4 0M385.9 188.6a.7 .7 0 1 0 1.4 0a.7 .7 0 1 0 -1.4 0M386.9 211.0a.7 .7 0 1 0 1.4 0a.7 .7 0 1 0 -1.4 0M411.1 214.1a.7 .7 0 1 0 1.4 0a.7 .7 0 1 0 -1.4 0M410.3 209.8a.7 .7 0 1 0 1.4 0a.7 .7 0 1 0 -1.4 0M408.2 208.0a.7 .7 0 1 0 1.4 0a.7 .7 0 1 0 -1.4 0M410.7 211.3a.7 .7 0 1 0 1.4 0a.7 .7 0 1 0 -1.4 0M409.7 207.1a.7 .7 0 1 0 1.4 0a.7 .7 0 1 0 -1.4 0M407.7 210.4a.7 .7 0 1 0 1.4 0a.7 .7 0 1 0 -1.4 0M407.7 206.6a.7 .7 0 1 0 1.4 0a.7 .7 0 1 0 -1.4 0M434.8 214.5a.7 .7 0 1 0 1.4 0a.7 .7 0 1 0 -1.4 0M434.8 208.9a.7 .7 0 1 0 1.4 0a.7 .7 0 1 0 -1.4 0M434.0 208.0a.7 .7 0 1 0 1.4 0a.7 .7 0 1 0 -1.4 0M434.4 213.3a.7 .7 0 1 0 1.4 0a.7 .7 0 1 0 -1.4 0M433.9 213.2a.7 .7 0 1 0 1.4 0a.7 .7 0 1 0 -1.4 0M435.0 212.4a.7 .7 0 1 0 1.4 0a.7 .7 0 1 0 -1.4 0M434.5 214.1a.7 .7 0 1 0 1.4 0a.7 .7 0 1 0 -1.4 0M432.3 209.5a.7 .7 0 1 0 1.4 0a.7 .7 0 1 0 -1.4 0M457.1 139.4a.7 .7 0 1 0 1.4 0a.7 .7 0 1 0 -1.4 0M458.7 156.1a.7 .7 0 1 0 1.4 0a.7 .7 0 1 0 -1.4 0M457.1 195.2a.7 .7 0 1 0 1.4 0a.7 .7 0 1 0 -1.4 0M458.1 176.2a.7 .7 0 1 0 1.4 0a.7 .7 0 1 0 -1.4 0M459.0 214.3a.7 .7 0 1 0 1.4 0a.7 .7 0 1 0 -1.4 0M456.2 215.2a.7 .7 0 1 0 1.4 0a.7 .7 0 1 0 -1.4 0M457.9 207.6a.7 .7 0 1 0 1.4 0a.7 .7 0 1 0 -1.4 0M456.6 157.6a.7 .7 0 1 0 1.4 0a.7 .7 0 1 0 -1.4 0M457.1 189.8a.7 .7 0 1 0 1.4 0a.7 .7 0 1 0 -1.4 0M459.6 214.1a.7 .7 0 1 0 1.4 0a.7 .7 0 1 0 -1.4 0M456.3 142.8a.7 .7 0 1 0 1.4 0a.7 .7 0 1 0 -1.4 0M459.1 209.1a.7 .7 0 1 0 1.4 0a.7 .7 0 1 0 -1.4 0M459.0 129.4a.7 .7 0 1 0 1.4 0a.7 .7 0 1 0 -1.4 0M456.0 208.6a.7 .7 0 1 0 1.4 0a.7 .7 0 1 0 -1.4 0M458.4 204.4a.7 .7 0 1 0 1.4 0a.7 .7 0 1 0 -1.4 0M458.9 181.2a.7 .7 0 1 0 1.4 0a.7 .7 0 1 0 -1.4 0M458.6 182.8a.7 .7 0 1 0 1.4 0a.7 .7 0 1 0 -1.4 0M456.2 190.7a.7 .7 0 1 0 1.4 0a.7 .7 0 1 0 -1.4 0M459.8 199.5a.7 .7 0 1 0 1.4 0a.7 .7 0 1 0 -1.4 0M459.6 199.7a.7 .7 0 1 0 1.4 0a.7 .7 0 1 0 -1.4 0M457.3 195.4a.7 .7 0 1 0 1.4 0a.7 .7 0 1 0 -1.4 0M460.5 204.9a.7 .7 0 1 0 1.4 0a.7 .7 0 1 0 -1.4 0M458.5 137.7a.7 .7 0 1 0 1.4 0a.7 .7 0 1 0 -1.4 0M458.4 163.7a.7 .7 0 1 0 1.4 0a.7 .7 0 1 0 -1.4 0M458.7 196.0a.7 .7 0 1 0 1.4 0a.7 .7 0 1 0 -1.4 0M455.8 209.6a.7 .7 0 1 0 1.4 0a.7 .7 0 1 0 -1.4 0M458.0 133.2a.7 .7 0 1 0 1.4 0a.7 .7 0 1 0 -1.4 0M458.5 206.8a.7 .7 0 1 0 1.4 0a.7 .7 0 1 0 -1.4 0M460.0 200.7a.7 .7 0 1 0 1.4 0a.7 .7 0 1 0 -1.4 0M457.3 148.0a.7 .7 0 1 0 1.4 0a.7 .7 0 1 0 -1.4 0M456.3 186.9a.7 .7 0 1 0 1.4 0a.7 .7 0 1 0 -1.4 0M456.4 163.1a.7 .7 0 1 0 1.4 0a.7 .7 0 1 0 -1.4 0M460.2 163.3a.7 .7 0 1 0 1.4 0a.7 .7 0 1 0 -1.4 0M459.8 151.2a.7 .7 0 1 0 1.4 0a.7 .7 0 1 0 -1.4 0M456.6 156.3a.7 .7 0 1 0 1.4 0a.7 .7 0 1 0 -1.4 0M457.1 208.5a.7 .7 0 1 0 1.4 0a.7 .7 0 1 0 -1.4 0M456.4 139.9a.7 .7 0 1 0 1.4 0a.7 .7 0 1 0 -1.4 0M459.8 191.9a.7 .7 0 1 0 1.4 0a.7 .7 0 1 0 -1.4 0M460.7 214.7a.7 .7 0 1 0 1.4 0a.7 .7 0 1 0 -1.4 0M456.6 206.6a.7 .7 0 1 0 1.4 0a.7 .7 0 1 0 -1.4 0M460.2 212.5a.7 .7 0 1 0 1.4 0a.7 .7 0 1 0 -1.4 0M459.9 215.5a.7 .7 0 1 0 1.4 0a.7 .7 0 1 0 -1.4 0M458.7 194.6a.7 .7 0 1 0 1.4 0a.7 .7 0 1 0 -1.4 0M459.4 204.5a.7 .7 0 1 0 1.4 0a.7 .7 0 1 0 -1.4 0M458.3 215.2a.7 .7 0 1 0 1.4 0a.7 .7 0 1 0 -1.4 0M457.3 190.1a.7 .7 0 1 0 1.4 0a.7 .7 0 1 0 -1.4 0M459.9 204.2a.7 .7 0 1 0 1.4 0a.7 .7 0 1 0 -1.4 0M482.6 202.2a.7 .7 0 1 0 1.4 0a.7 .7 0 1 0 -1.4 0M484.0 192.4a.7 .7 0 1 0 1.4 0a.7 .7 0 1 0 -1.4 0M481.4 139.2a.7 .7 0 1 0 1.4 0a.7 .7 0 1 0 -1.4 0M484.1 142.8a.7 .7 0 1 0 1.4 0a.7 .7 0 1 0 -1.4 0M482.5 128.8a.7 .7 0 1 0 1.4 0a.7 .7 0 1 0 -1.4 0M483.2 124.8a.7 .7 0 1 0 1.4 0a.7 .7 0 1 0 -1.4 0M480.5 159.6a.7 .7 0 1 0 1.4 0a.7 .7 0 1 0 -1.4 0M482.1 165.8a.7 .7 0 1 0 1.4 0a.7 .7 0 1 0 -1.4 0M482.6 125.3a.7 .7 0 1 0 1.4 0a.7 .7 0 1 0 -1.4 0M482.1 109.0a.7 .7 0 1 0 1.4 0a.7 .7 0 1 0 -1.4 0M483.4 113.2a.7 .7 0 1 0 1.4 0a.7 .7 0 1 0 -1.4 0M480.4 152.3a.7 .7 0 1 0 1.4 0a.7 .7 0 1 0 -1.4 0M484.4 154.9a.7 .7 0 1 0 1.4 0a.7 .7 0 1 0 -1.4 0M481.1 198.8a.7 .7 0 1 0 1.4 0a.7 .7 0 1 0 -1.4 0M484.7 170.1a.7 .7 0 1 0 1.4 0a.7 .7 0 1 0 -1.4 0M481.6 157.3a.7 .7 0 1 0 1.4 0a.7 .7 0 1 0 -1.4 0M480.8 138.7a.7 .7 0 1 0 1.4 0a.7 .7 0 1 0 -1.4 0M482.7 207.7a.7 .7 0 1 0 1.4 0a.7 .7 0 1 0 -1.4 0M483.6 164.9a.7 .7 0 1 0 1.4 0a.7 .7 0 1 0 -1.4 0M483.9 191.3a.7 .7 0 1 0 1.4 0a.7 .7 0 1 0 -1.4 0M483.7 117.1a.7 .7 0 1 0 1.4 0a.7 .7 0 1 0 -1.4 0M483.7 173.5a.7 .7 0 1 0 1.4 0a.7 .7 0 1 0 -1.4 0M482.3 200.5a.7 .7 0 1 0 1.4 0a.7 .7 0 1 0 -1.4 0M482.8 209.6a.7 .7 0 1 0 1.4 0a.7 .7 0 1 0 -1.4 0M481.3 143.3a.7 .7 0 1 0 1.4 0a.7 .7 0 1 0 -1.4 0M482.0 182.1a.7 .7 0 1 0 1.4 0a.7 .7 0 1 0 -1.4 0M483.0 185.4a.7 .7 0 1 0 1.4 0a.7 .7 0 1 0 -1.4 0M482.0 159.3a.7 .7 0 1 0 1.4 0a.7 .7 0 1 0 -1.4 0M481.2 208.3a.7 .7 0 1 0 1.4 0a.7 .7 0 1 0 -1.4 0M484.4 188.7a.7 .7 0 1 0 1.4 0a.7 .7 0 1 0 -1.4 0M482.8 192.2a.7 .7 0 1 0 1.4 0a.7 .7 0 1 0 -1.4 0M484.2 114.6a.7 .7 0 1 0 1.4 0a.7 .7 0 1 0 -1.4 0M483.2 187.7a.7 .7 0 1 0 1.4 0a.7 .7 0 1 0 -1.4 0M481.2 188.5a.7 .7 0 1 0 1.4 0a.7 .7 0 1 0 -1.4 0M481.0 179.4a.7 .7 0 1 0 1.4 0a.7 .7 0 1 0 -1.4 0M483.8 188.7a.7 .7 0 1 0 1.4 0a.7 .7 0 1 0 -1.4 0M479.9 210.1a.7 .7 0 1 0 1.4 0a.7 .7 0 1 0 -1.4 0M483.6 200.5a.7 .7 0 1 0 1.4 0a.7 .7 0 1 0 -1.4 0M484.2 214.6a.7 .7 0 1 0 1.4 0a.7 .7 0 1 0 -1.4 0M483.6 210.0a.7 .7 0 1 0 1.4 0a.7 .7 0 1 0 -1.4 0M508.7 140.7a.7 .7 0 1 0 1.4 0a.7 .7 0 1 0 -1.4 0M505.3 215.5a.7 .7 0 1 0 1.4 0a.7 .7 0 1 0 -1.4 0M506.5 173.6a.7 .7 0 1 0 1.4 0a.7 .7 0 1 0 -1.4 0M508.2 163.6a.7 .7 0 1 0 1.4 0a.7 .7 0 1 0 -1.4 0M505.7 165.6a.7 .7 0 1 0 1.4 0a.7 .7 0 1 0 -1.4 0M508.2 213.8a.7 .7 0 1 0 1.4 0a.7 .7 0 1 0 -1.4 0M506.3 210.7a.7 .7 0 1 0 1.4 0a.7 .7 0 1 0 -1.4 0M507.2 121.0a.7 .7 0 1 0 1.4 0a.7 .7 0 1 0 -1.4 0M504.2 214.9a.7 .7 0 1 0 1.4 0a.7 .7 0 1 0 -1.4 0M505.8 199.3a.7 .7 0 1 0 1.4 0a.7 .7 0 1 0 -1.4 0M509.3 176.2a.7 .7 0 1 0 1.4 0a.7 .7 0 1 0 -1.4 0M506.2 201.8a.7 .7 0 1 0 1.4 0a.7 .7 0 1 0 -1.4 0M508.9 121.0a.7 .7 0 1 0 1.4 0a.7 .7 0 1 0 -1.4 0M507.9 183.0a.7 .7 0 1 0 1.4 0a.7 .7 0 1 0 -1.4 0M506.4 129.0a.7 .7 0 1 0 1.4 0a.7 .7 0 1 0 -1.4 0M504.4 143.3a.7 .7 0 1 0 1.4 0a.7 .7 0 1 0 -1.4 0M504.4 160.9a.7 .7 0 1 0 1.4 0a.7 .7 0 1 0 -1.4 0M508.3 114.1a.7 .7 0 1 0 1.4 0a.7 .7 0 1 0 -1.4 0M506.0 183.0a.7 .7 0 1 0 1.4 0a.7 .7 0 1 0 -1.4 0M507.6 207.1a.7 .7 0 1 0 1.4 0a.7 .7 0 1 0 -1.4 0M508.0 201.1a.7 .7 0 1 0 1.4 0a.7 .7 0 1 0 -1.4 0M505.2 214.3a.7 .7 0 1 0 1.4 0a.7 .7 0 1 0 -1.4 0M507.5 93.7a.7 .7 0 1 0 1.4 0a.7 .7 0 1 0 -1.4 0M507.7 212.0a.7 .7 0 1 0 1.4 0a.7 .7 0 1 0 -1.4 0M508.5 186.3a.7 .7 0 1 0 1.4 0a.7 .7 0 1 0 -1.4 0M507.8 162.0a.7 .7 0 1 0 1.4 0a.7 .7 0 1 0 -1.4 0M505.0 148.0a.7 .7 0 1 0 1.4 0a.7 .7 0 1 0 -1.4 0M506.0 113.4a.7 .7 0 1 0 1.4 0a.7 .7 0 1 0 -1.4 0M508.5 206.4a.7 .7 0 1 0 1.4 0a.7 .7 0 1 0 -1.4 0M507.3 178.2a.7 .7 0 1 0 1.4 0a.7 .7 0 1 0 -1.4 0M504.6 130.2a.7 .7 0 1 0 1.4 0a.7 .7 0 1 0 -1.4 0M507.0 215.4a.7 .7 0 1 0 1.4 0a.7 .7 0 1 0 -1.4 0M504.2 183.8a.7 .7 0 1 0 1.4 0a.7 .7 0 1 0 -1.4 0M506.4 213.9a.7 .7 0 1 0 1.4 0a.7 .7 0 1 0 -1.4 0M506.2 193.0a.7 .7 0 1 0 1.4 0a.7 .7 0 1 0 -1.4 0M504.6 203.6a.7 .7 0 1 0 1.4 0a.7 .7 0 1 0 -1.4 0M506.5 135.2a.7 .7 0 1 0 1.4 0a.7 .7 0 1 0 -1.4 0M504.8 123.0a.7 .7 0 1 0 1.4 0a.7 .7 0 1 0 -1.4 0M504.3 214.8a.7 .7 0 1 0 1.4 0a.7 .7 0 1 0 -1.4 0M508.0 210.1a.7 .7 0 1 0 1.4 0a.7 .7 0 1 0 -1.4 0M506.1 188.7a.7 .7 0 1 0 1.4 0a.7 .7 0 1 0 -1.4 0M506.1 178.4a.7 .7 0 1 0 1.4 0a.7 .7 0 1 0 -1.4 0M508.8 199.4a.7 .7 0 1 0 1.4 0a.7 .7 0 1 0 -1.4 0M505.0 186.7a.7 .7 0 1 0 1.4 0a.7 .7 0 1 0 -1.4 0M507.4 193.3a.7 .7 0 1 0 1.4 0a.7 .7 0 1 0 -1.4 0M508.0 204.1a.7 .7 0 1 0 1.4 0a.7 .7 0 1 0 -1.4 0M505.0 175.0a.7 .7 0 1 0 1.4 0a.7 .7 0 1 0 -1.4 0M505.4 167.0a.7 .7 0 1 0 1.4 0a.7 .7 0 1 0 -1.4 0M505.3 200.6a.7 .7 0 1 0 1.4 0a.7 .7 0 1 0 -1.4 0M504.7 190.8a.7 .7 0 1 0 1.4 0a.7 .7 0 1 0 -1.4 0M508.4 163.2a.7 .7 0 1 0 1.4 0a.7 .7 0 1 0 -1.4 0M504.4 209.4a.7 .7 0 1 0 1.4 0a.7 .7 0 1 0 -1.4 0M506.4 188.6a.7 .7 0 1 0 1.4 0a.7 .7 0 1 0 -1.4 0M507.4 173.4a.7 .7 0 1 0 1.4 0a.7 .7 0 1 0 -1.4 0M506.5 175.5a.7 .7 0 1 0 1.4 0a.7 .7 0 1 0 -1.4 0M509.3 200.0a.7 .7 0 1 0 1.4 0a.7 .7 0 1 0 -1.4 0M505.7 173.0a.7 .7 0 1 0 1.4 0a.7 .7 0 1 0 -1.4 0M529.6 123.0a.7 .7 0 1 0 1.4 0a.7 .7 0 1 0 -1.4 0M531.1 184.7a.7 .7 0 1 0 1.4 0a.7 .7 0 1 0 -1.4 0M531.8 147.0a.7 .7 0 1 0 1.4 0a.7 .7 0 1 0 -1.4 0M530.3 137.8a.7 .7 0 1 0 1.4 0a.7 .7 0 1 0 -1.4 0M529.3 198.5a.7 .7 0 1 0 1.4 0a.7 .7 0 1 0 -1.4 0M531.9 188.7a.7 .7 0 1 0 1.4 0a.7 .7 0 1 0 -1.4 0M530.5 123.4a.7 .7 0 1 0 1.4 0a.7 .7 0 1 0 -1.4 0M528.7 184.9a.7 .7 0 1 0 1.4 0a.7 .7 0 1 0 -1.4 0M532.8 200.1a.7 .7 0 1 0 1.4 0a.7 .7 0 1 0 -1.4 0M530.1 195.4a.7 .7 0 1 0 1.4 0a.7 .7 0 1 0 -1.4 0M530.5 170.5a.7 .7 0 1 0 1.4 0a.7 .7 0 1 0 -1.4 0M531.1 129.3a.7 .7 0 1 0 1.4 0a.7 .7 0 1 0 -1.4 0M528.8 155.8a.7 .7 0 1 0 1.4 0a.7 .7 0 1 0 -1.4 0M532.7 175.6a.7 .7 0 1 0 1.4 0a.7 .7 0 1 0 -1.4 0M532.0 188.3a.7 .7 0 1 0 1.4 0a.7 .7 0 1 0 -1.4 0M529.0 124.9a.7 .7 0 1 0 1.4 0a.7 .7 0 1 0 -1.4 0M533.3 199.0a.7 .7 0 1 0 1.4 0a.7 .7 0 1 0 -1.4 0M528.8 174.8a.7 .7 0 1 0 1.4 0a.7 .7 0 1 0 -1.4 0M530.9 113.3a.7 .7 0 1 0 1.4 0a.7 .7 0 1 0 -1.4 0M530.2 170.9a.7 .7 0 1 0 1.4 0a.7 .7 0 1 0 -1.4 0M533.4 167.8a.7 .7 0 1 0 1.4 0a.7 .7 0 1 0 -1.4 0M532.4 139.5a.7 .7 0 1 0 1.4 0a.7 .7 0 1 0 -1.4 0M529.4 116.8a.7 .7 0 1 0 1.4 0a.7 .7 0 1 0 -1.4 0M531.8 118.0a.7 .7 0 1 0 1.4 0a.7 .7 0 1 0 -1.4 0M529.4 205.2a.7 .7 0 1 0 1.4 0a.7 .7 0 1 0 -1.4 0M529.1 185.7a.7 .7 0 1 0 1.4 0a.7 .7 0 1 0 -1.4 0M532.5 186.1a.7 .7 0 1 0 1.4 0a.7 .7 0 1 0 -1.4 0M533.4 172.0a.7 .7 0 1 0 1.4 0a.7 .7 0 1 0 -1.4 0M528.8 199.0a.7 .7 0 1 0 1.4 0a.7 .7 0 1 0 -1.4 0M529.5 177.9a.7 .7 0 1 0 1.4 0a.7 .7 0 1 0 -1.4 0M529.5 205.9a.7 .7 0 1 0 1.4 0a.7 .7 0 1 0 -1.4 0"/>
<path d="M311.5 212.0a.7 .7 0 1 0 1.4 0a.7 .7 0 1 0 -1.4 0M311.5 211.4a.7 .7 0 1 0 1.4 0a.7 .7 0 1 0 -1.4 0M311.7 210.7a.7 .7 0 1 0 1.4 0a.7 .7 0 1 0 -1.4 0M337.2 204.1a.7 .7 0 1 0 1.4 0a.7 .7 0 1 0 -1.4 0M337.0 205.9a.7 .7 0 1 0 1.4 0a.7 .7 0 1 0 -1.4 0M337.6 212.5a.7 .7 0 1 0 1.4 0a.7 .7 0 1 0 -1.4 0M336.8 204.5a.7 .7 0 1 0 1.4 0a.7 .7 0 1 0 -1.4 0M338.3 207.8a.7 .7 0 1 0 1.4 0a.7 .7 0 1 0 -1.4 0M334.6 211.6a.7 .7 0 1 0 1.4 0a.7 .7 0 1 0 -1.4 0M336.0 206.0a.7 .7 0 1 0 1.4 0a.7 .7 0 1 0 -1.4 0M336.9 209.2a.7 .7 0 1 0 1.4 0a.7 .7 0 1 0 -1.4 0M334.8 206.8a.7 .7 0 1 0 1.4 0a.7 .7 0 1 0 -1.4 0M334.6 210.2a.7 .7 0 1 0 1.4 0a.7 .7 0 1 0 -1.4 0M360.9 209.2a.7 .7 0 1 0 1.4 0a.7 .7 0 1 0 -1.4 0M360.4 212.0a.7 .7 0 1 0 1.4 0a.7 .7 0 1 0 -1.4 0M361.7 210.2a.7 .7 0 1 0 1.4 0a.7 .7 0 1 0 -1.4 0M361.9 212.4a.7 .7 0 1 0 1.4 0a.7 .7 0 1 0 -1.4 0M358.9 207.6a.7 .7 0 1 0 1.4 0a.7 .7 0 1 0 -1.4 0M361.0 213.3a.7 .7 0 1 0 1.4 0a.7 .7 0 1 0 -1.4 0M359.8 212.2a.7 .7 0 1 0 1.4 0a.7 .7 0 1 0 -1.4 0M362.7 205.4a.7 .7 0 1 0 1.4 0a.7 .7 0 1 0 -1.4 0M361.1 199.9a.7 .7 0 1 0 1.4 0a.7 .7 0 1 0 -1.4 0M362.3 201.7a.7 .7 0 1 0 1.4 0a.7 .7 0 1 0 -1.4 0M385.8 195.7a.7 .7 0 1 0 1.4 0a.7 .7 0 1 0 -1.4 0M385.1 190.9a.7 .7 0 1 0 1.4 0a.7 .7 0 1 0 -1.4 0M385.9 204.3a.7 .7 0 1 0 1.4 0a.7 .7 0 1 0 -1.4 0M383.4 189.7a.7 .7 0 1 0 1.4 0a.7 .7 0 1 0 -1.4 0M386.0 212.3a.7 .7 0 1 0 1.4 0a.7 .7 0 1 0 -1.4 0M386.0 192.0a.7 .7 0 1 0 1.4 0a.7 .7 0 1 0 -1.4 0M384.7 194.7a.7 .7 0 1 0 1.4 0a.7 .7 0 1 0 -1.4 0M385.5 192.6a.7 .7 0 1 0 1.4 0a.7 .7 0 1 0 -1.4 0M386.7 191.0a.7 .7 0 1 0 1.4 0a.7 .7 0 1 0 -1.4 0M386.3 201.6a.7 .7 0 1 0 1.4 0a.7 .7 0 1 0 -1.4 0M384.1 214.9a.7 .7 0 1 0 1.4 0a.7 .7 0 1 0 -1.4 0M386.4 199.9a.7 .7 0 1 0 1.4 0a.7 .7 0 1 0 -1.4 0M386.9 198.9a.7 .7 0 1 0 1.4 0a.7 .7 0 1 0 -1.4 0M384.8 197.4a.7 .7 0 1 0 1.4 0a.7 .7 0 1 0 -1.4 0M383.8 213.7a.7 .7 0 1 0 1.4 0a.7 .7 0 1 0 -1.4 0M386.7 199.7a.7 .7 0 1 0 1.4 0a.7 .7 0 1 0 -1.4 0M408.4 208.8a.7 .7 0 1 0 1.4 0a.7 .7 0 1 0 -1.4 0M410.2 214.8a.7 .7 0 1 0 1.4 0a.7 .7 0 1 0 -1.4 0M432.8 215.4a.7 .7 0 1 0 1.4 0a.7 .7 0 1 0 -1.4 0M433.0 212.5a.7 .7 0 1 0 1.4 0a.7 .7 0 1 0 -1.4 0M435.0 206.8a.7 .7 0 1 0 1.4 0a.7 .7 0 1 0 -1.4 0M434.8 212.0a.7 .7 0 1 0 1.4 0a.7 .7 0 1 0 -1.4 0M432.7 214.3a.7 .7 0 1 0 1.4 0a.7 .7 0 1 0 -1.4 0M432.9 211.2a.7 .7 0 1 0 1.4 0a.7 .7 0 1 0 -1.4 0M458.5 174.6a.7 .7 0 1 0 1.4 0a.7 .7 0 1 0 -1.4 0M457.3 159.2a.7 .7 0 1 0 1.4 0a.7 .7 0 1 0 -1.4 0M458.3 207.1a.7 .7 0 1 0 1.4 0a.7 .7 0 1 0 -1.4 0M459.9 198.1a.7 .7 0 1 0 1.4 0a.7 .7 0 1 0 -1.4 0M459.8 159.0a.7 .7 0 1 0 1.4 0a.7 .7 0 1 0 -1.4 0M458.0 181.6a.7 .7 0 1 0 1.4 0a.7 .7 0 1 0 -1.4 0M456.1 215.1a.7 .7 0 1 0 1.4 0a.7 .7 0 1 0 -1.4 0M455.6 210.5a.7 .7 0 1 0 1.4 0a.7 .7 0 1 0 -1.4 0M456.4 208.0a.7 .7 0 1 0 1.4 0a.7 .7 0 1 0 -1.4 0M459.4 144.6a.7 .7 0 1 0 1.4 0a.7 .7 0 1 0 -1.4 0M456.8 204.3a.7 .7 0 1 0 1.4 0a.7 .7 0 1 0 -1.4 0M459.0 176.2a.7 .7 0 1 0 1.4 0a.7 .7 0 1 0 -1.4 0M458.0 213.6a.7 .7 0 1 0 1.4 0a.7 .7 0 1 0 -1.4 0M459.1 209.5a.7 .7 0 1 0 1.4 0a.7 .7 0 1 0 -1.4 0M456.1 151.1a.7 .7 0 1 0 1.4 0a.7 .7 0 1 0 -1.4 0M458.4 165.4a.7 .7 0 1 0 1.4 0a.7 .7 0 1 0 -1.4 0M457.5 173.9a.7 .7 0 1 0 1.4 0a.7 .7 0 1 0 -1.4 0M459.2 140.9a.7 .7 0 1 0 1.4 0a.7 .7 0 1 0 -1.4 0M460.7 190.9a.7 .7 0 1 0 1.4 0a.7 .7 0 1 0 -1.4 0M455.8 204.1a.7 .7 0 1 0 1.4 0a.7 .7 0 1 0 -1.4 0M456.0 215.5a.7 .7 0 1 0 1.4 0a.7 .7 0 1 0 -1.4 0M457.9 132.8a.7 .7 0 1 0 1.4 0a.7 .7 0 1 0 -1.4 0M460.5 187.8a.7 .7 0 1 0 1.4 0a.7 .7 0 1 0 -1.4 0M460.1 195.6a.7 .7 0 1 0 1.4 0a.7 .7 0 1 0 -1.4 0M458.8 214.6a.7 .7 0 1 0 1.4 0a.7 .7 0 1 0 -1.4 0M459.1 213.6a.7 .7 0 1 0 1.4 0a.7 .7 0 1 0 -1.4 0M458.5 141.3a.7 .7 0 1 0 1.4 0a.7 .7 0 1 0 -1.4 0M459.5 141.9a.7 .7 0 1 0 1.4 0a.7 .7 0 1 0 -1.4 0M456.6 180.9a.7 .7 0 1 0 1.4 0a.7 .7 0 1 0 -1.4 0M459.7 212.8a.7 .7 0 1 0 1.4 0a.7 .7 0 1 0 -1.4 0M457.4 213.8a.7 .7 0 1 0 1.4 0a.7 .7 0 1 0 -1.4 0M457.8 145.8a.7 .7 0 1 0 1.4 0a.7 .7 0 1 0 -1.4 0M460.2 205.6a.7 .7 0 1 0 1.4 0a.7 .7 0 1 0 -1.4 0M460.2 206.4a.7 .7 0 1 0 1.4 0a.7 .7 0 1 0 -1.4 0M460.0 188.8a.7 .7 0 1 0 1.4 0a.7 .7 0 1 0 -1.4 0M458.0 215.4a.7 .7 0 1 0 1.4 0a.7 .7 0 1 0 -1.4 0M460.5 211.6a.7 .7 0 1 0 1.4 0a.7 .7 0 1 0 -1.4 0M459.2 214.4a.7 .7 0 1 0 1.4 0a.7 .7 0 1 0 -1.4 0M459.8 212.9a.7 .7 0 1 0 1.4 0a.7 .7 0 1 0 -1.4 0M456.0 215.2a.7 .7 0 1 0 1.4 0a.7 .7 0 1 0 -1.4 0M458.3 187.9a.7 .7 0 1 0 1.4 0a.7 .7 0 1 0 -1.4 0M455.3 214.0a.7 .7 0 1 0 1.4 0a.7 .7 0 1 0 -1.4 0M459.5 211.0a.7 .7 0 1 0 1.4 0a.7 .7 0 1 0 -1.4 0M460.1 213.8a.7 .7 0 1 0 1.4 0a.7 .7 0 1 0 -1.4 0M483.7 190.1a.7 .7 0 1 0 1.4 0a.7 .7 0 1 0 -1.4 0M482.9 138.4a.7 .7 0 1 0 1.4 0a.7 .7 0 1 0 -1.4 0M482.1 160.4a.7 .7 0 1 0 1.4 0a.7 .7 0 1 0 -1.4 0M483.1 146.6a.7 .7 0 1 0 1.4 0a.7 .7 0 1 0 -1.4 0M480.0 170.7a.7 .7 0 1 0 1.4 0a.7 .7 0 1 0 -1.4 0M481.1 126.0a.7 .7 0 1 0 1.4 0a.7 .7 0 1 0 -1.4 0M481.4 130.0a.7 .7 0 1 0 1.4 0a.7 .7 0 1 0 -1.4 0M484.8 207.7a.7 .7 0 1 0 1.4 0a.7 .7 0 1 0 -1.4 0M484.2 185.3a.7 .7 0 1 0 1.4 0a.7 .7 0 1 0 -1.4 0M485.0 197.5a.7 .7 0 1 0 1.4 0a.7 .7 0 1 0 -1.4 0M484.0 114.3a.7 .7 0 1 0 1.4 0a.7 .7 0 1 0 -1.4 0M480.1 169.9a.7 .7 0 1 0 1.4 0a.7 .7 0 1 0 -1.4 0M482.5 133.4a.7 .7 0 1 0 1.4 0a.7 .7 0 1 0 -1.4 0M479.8 211.7a.7 .7 0 1 0 1.4 0a.7 .7 0 1 0 -1.4 0M481.4 209.9a.7 .7 0 1 0 1.4 0a.7 .7 0 1 0 -1.4 0M484.8 185.7a.7 .7 0 1 0 1.4 0a.7 .7 0 1 0 -1.4 0M481.8 209.6a.7 .7 0 1 0 1.4 0a.7 .7 0 1 0 -1.4 0M480.7 111.8a.7 .7 0 1 0 1.4 0a.7 .7 0 1 0 -1.4 0M480.4 178.0a.7 .7 0 1 0 1.4 0a.7 .7 0 1 0 -1.4 0M484.6 190.2a.7 .7 0 1 0 1.4 0a.7 .7 0 1 0 -1.4 0M484.7 181.0a.7 .7 0 1 0 1.4 0a.7 .7 0 1 0 -1.4 0M484.8 161.4a.7 .7 0 1 0 1.4 0a.7 .7 0 1 0 -1.4 0M482.9 188.1a.7 .7 0 1 0 1.4 0a.7 .7 0 1 0 -1.4 0M481.2 164.0a.7 .7 0 1 0 1.4 0a.7 .7 0 1 0 -1.4 0M484.5 194.1a.7 .7 0 1 0 1.4 0a.7 .7 0 1 0 -1.4 0M483.7 175.5a.7 .7 0 1 0 1.4 0a.7 .7 0 1 0 -1.4 0M484.6 133.6a.7 .7 0 1 0 1.4 0a.7 .7 0 1 0 -1.4 0M483.7 208.3a.7 .7 0 1 0 1.4 0a.7 .7 0 1 0 -1.4 0M481.7 183.3a.7 .7 0 1 0 1.4 0a.7 .7 0 1 0 -1.4 0M483.0 202.4a.7 .7 0 1 0 1.4 0a.7 .7 0 1 0 -1.4 0M481.7 147.7a.7 .7 0 1 0 1.4 0a.7 .7 0 1 0 -1.4 0M483.6 183.8a.7 .7 0 1 0 1.4 0a.7 .7 0 1 0 -1.4 0M484.4 124.9a.7 .7 0 1 0 1.4 0a.7 .7 0 1 0 -1.4 0M480.3 166.9a.7 .7 0 1 0 1.4 0a.7 .7 0 1 0 -1.4 0M480.6 115.1a.7 .7 0 1 0 1.4 0a.7 .7 0 1 0 -1.4 0M483.8 206.3a.7 .7 0 1 0 1.4 0a.7 .7 0 1 0 -1.4 0M480.6 212.5a.7 .7 0 1 0 1.4 0a.7 .7 0 1 0 -1.4 0M484.6 208.7a.7 .7 0 1 0 1.4 0a.7 .7 0 1 0 -1.4 0M485.0 205.9a.7 .7 0 1 0 1.4 0a.7 .7 0 1 0 -1.4 0M480.0 212.4a.7 .7 0 1 0 1.4 0a.7 .7 0 1 0 -1.4 0M480.0 170.2a.7 .7 0 1 0 1.4 0a.7 .7 0 1 0 -1.4 0M480.0 201.9a.7 .7 0 1 0 1.4 0a.7 .7 0 1 0 -1.4 0M482.0 193.3a.7 .7 0 1 0 1.4 0a.7 .7 0 1 0 -1.4 0M480.5 154.4a.7 .7 0 1 0 1.4 0a.7 .7 0 1 0 -1.4 0M484.3 215.4a.7 .7 0 1 0 1.4 0a.7 .7 0 1 0 -1.4 0M483.7 196.1a.7 .7 0 1 0 1.4 0a.7 .7 0 1 0 -1.4 0M481.2 197.0a.7 .7 0 1 0 1.4 0a.7 .7 0 1 0 -1.4 0M481.6 185.6a.7 .7 0 1 0 1.4 0a.7 .7 0 1 0 -1.4 0M482.5 180.5a.7 .7 0 1 0 1.4 0a.7 .7 0 1 0 -1.4 0M482.8 195.3a.7 .7 0 1 0 1.4 0a.7 .7 0 1 0 -1.4 0M480.2 192.3a.7 .7 0 1 0 1.4 0a.7 .7 0 1 0 -1.4 0M482.3 211.2a.7 .7 0 1 0 1.4 0a.7 .7 0 1 0 -1.4 0M482.9 214.8a.7 .7 0 1 0 1.4 0a.7 .7 0 1 0 -1.4 0M480.9 199.3a.7 .7 0 1 0 1.4 0a.7 .7 0 1 0 -1.4 0M484.4 182.3a.7 .7 0 1 0 1.4 0a.7 .7 0 1 0 -1.4 0M484.4 204.5a.7 .7 0 1 0 1.4 0a.7 .7 0 1 0 -1.4 0M481.7 207.2a.7 .7 0 1 0 1.4 0a.7 .7 0 1 0 -1.4 0M480.2 210.8a.7 .7 0 1 0 1.4 0a.7 .7 0 1 0 -1.4 0M480.2 214.7a.7 .7 0 1 0 1.4 0a.7 .7 0 1 0 -1.4 0M481.3 211.3a.7 .7 0 1 0 1.4 0a.7 .7 0 1 0 -1.4 0M509.3 211.8a.7 .7 0 1 0 1.4 0a.7 .7 0 1 0 -1.4 0M509.0 194.8a.7 .7 0 1 0 1.4 0a.7 .7 0 1 0 -1.4 0M509.1 204.2a.7 .7 0 1 0 1.4 0a.7 .7 0 1 0 -1.4 0M505.7 157.6a.7 .7 0 1 0 1.4 0a.7 .7 0 1 0 -1.4 0M504.5 197.2a.7 .7 0 1 0 1.4 0a.7 .7 0 1 0 -1.4 0M508.3 140.6a.7 .7 0 1 0 1.4 0a.7 .7 0 1 0 -1.4 0M505.7 212.2a.7 .7 0 1 0 1.4 0a.7 .7 0 1 0 -1.4 0M508.8 99.3a.7 .7 0 1 0 1.4 0a.7 .7 0 1 0 -1.4 0M505.6 137.4a.7 .7 0 1 0 1.4 0a.7 .7 0 1 0 -1.4 0M505.9 211.0a.7 .7 0 1 0 1.4 0a.7 .7 0 1 0 -1.4 0M508.5 207.6a.7 .7 0 1 0 1.4 0a.7 .7 0 1 0 -1.4 0M504.9 213.5a.7 .7 0 1 0 1.4 0a.7 .7 0 1 0 -1.4 0M506.4 134.8a.7 .7 0 1 0 1.4 0a.7 .7 0 1 0 -1.4 0M507.9 203.6a.7 .7 0 1 0 1.4 0a.7 .7 0 1 0 -1.4 0M506.5 214.4a.7 .7 0 1 0 1.4 0a.7 .7 0 1 0 -1.4 0M504.9 200.6a.7 .7 0 1 0 1.4 0a.7 .7 0 1 0 -1.4 0M505.2 135.1a.7 .7 0 1 0 1.4 0a.7 .7 0 1 0 -1.4 0M508.0 214.1a.7 .7 0 1 0 1.4 0a.7 .7 0 1 0 -1.4 0M504.7 161.2a.7 .7 0 1 0 1.4 0a.7 .7 0 1 0 -1.4 0M505.2 174.3a.7 .7 0 1 0 1.4 0a.7 .7 0 1 0 -1.4 0M508.9 210.5a.7 .7 0 1 0 1.4 0a.7 .7 0 1 0 -1.4 0M505.3 140.8a.7 .7 0 1 0 1.4 0a.7 .7 0 1 0 -1.4 0M508.8 150.5a.7 .7 0 1 0 1.4 0a.7 .7 0 1 0 -1.4 0M504.1 192.8a.7 .7 0 1 0 1.4 0a.7 .7 0 1 0 -1.4 0M507.1 122.4a.7 .7 0 1 0 1.4 0a.7 .7 0 1 0 -1.4 0M505.3 206.5a.7 .7 0 1 0 1.4 0a.7 .7 0 1 0 -1.4 0M503.9 205.1a.7 .7 0 1 0 1.4 0a.7 .7 0 1 0 -1.4 0M508.9 126.4a.7 .7 0 1 0 1.4 0a.7 .7 0 1 0 -1.4 0M503.9 213.0a.7 .7 0 1 0 1.4 0a.7 .7 0 1 0 -1.4 0M507.4 210.9a.7 .7 0 1 0 1.4 0a.7 .7 0 1 0 -1.4 0M506.6 179.0a.7 .7 0 1 0 1.4 0a.7 .7 0 1 0 -1.4 0M509.2 165.9a.7 .7 0 1 0 1.4 0a.7 .7 0 1 0 -1.4 0M504.2 207.1a.7 .7 0 1 0 1.4 0a.7 .7 0 1 0 -1.4 0M505.2 95.4a.7 .7 0 1 0 1.4 0a.7 .7 0 1 0 -1.4 0M506.1 215.2a.7 .7 0 1 0 1.4 0a.7 .7 0 1 0 -1.4 0M504.6 203.1a.7 .7 0 1 0 1.4 0a.7 .7 0 1 0 -1.4 0M507.9 210.1a.7 .7 0 1 0 1.4 0a.7 .7 0 1 0 -1.4 0M505.9 180.4a.7 .7 0 1 0 1.4 0a.7 .7 0 1 0 -1.4 0M505.3 214.7a.7 .7 0 1 0 1.4 0a.7 .7 0 1 0 -1.4 0M505.3 196.6a.7 .7 0 1 0 1.4 0a.7 .7 0 1 0 -1.4 0M506.8 195.6a.7 .7 0 1 0 1.4 0a.7 .7 0 1 0 -1.4 0M509.5 212.7a.7 .7 0 1 0 1.4 0a.7 .7 0 1 0 -1.4 0M504.9 182.4a.7 .7 0 1 0 1.4 0a.7 .7 0 1 0 -1.4 0M507.4 169.7a.7 .7 0 1 0 1.4 0a.7 .7 0 1 0 -1.4 0M505.5 209.0a.7 .7 0 1 0 1.4 0a.7 .7 0 1 0 -1.4 0M507.4 210.0a.7 .7 0 1 0 1.4 0a.7 .7 0 1 0 -1.4 0M507.8 163.2a.7 .7 0 1 0 1.4 0a.7 .7 0 1 0 -1.4 0M507.0 213.5a.7 .7 0 1 0 1.4 0a.7 .7 0 1 0 -1.4 0M505.3 210.8a.7 .7 0 1 0 1.4 0a.7 .7 0 1 0 -1.4 0M508.2 211.3a.7 .7 0 1 0 1.4 0a.7 .7 0 1 0 -1.4 0M505.1 190.3a.7 .7 0 1 0 1.4 0a.7 .7 0 1 0 -1.4 0M508.5 164.1a.7 .7 0 1 0 1.4 0a.7 .7 0 1 0 -1.4 0M504.9 211.8a.7 .7 0 1 0 1.4 0a.7 .7 0 1 0 -1.4 0M508.9 178.3a.7 .7 0 1 0 1.4 0a.7 .7 0 1 0 -1.4 0M505.9 192.2a.7 .7 0 1 0 1.4 0a.7 .7 0 1 0 -1.4 0M508.0 211.9a.7 .7 0 1 0 1.4 0a.7 .7 0 1 0 -1.4 0M506.5 207.9a.7 .7 0 1 0 1.4 0a.7 .7 0 1 0 -1.4 0M530.2 158.9a.7 .7 0 1 0 1.4 0a.7 .7 0 1 0 -1.4 0M532.2 142.0a.7 .7 0 1 0 1.4 0a.7 .7 0 1 0 -1.4 0M531.3 196.4a.7 .7 0 1 0 1.4 0a.7 .7 0 1 0 -1.4 0M532.3 203.9a.7 .7 0 1 0 1.4 0a.7 .7 0 1 0 -1.4 0M532.1 153.7a.7 .7 0 1 0 1.4 0a.7 .7 0 1 0 -1.4 0M531.3 105.8a.7 .7 0 1 0 1.4 0a.7 .7 0 1 0 -1.4 0M530.4 124.4a.7 .7 0 1 0 1.4 0a.7 .7 0 1 0 -1.4 0M531.5 113.2a.7 .7 0 1 0 1.4 0a.7 .7 0 1 0 -1.4 0M529.7 191.4a.7 .7 0 1 0 1.4 0a.7 .7 0 1 0 -1.4 0M528.8 201.4a.7 .7 0 1 0 1.4 0a.7 .7 0 1 0 -1.4 0M532.5 177.8a.7 .7 0 1 0 1.4 0a.7 .7 0 1 0 -1.4 0M530.9 203.1a.7 .7 0 1 0 1.4 0a.7 .7 0 1 0 -1.4 0M530.4 178.4a.7 .7 0 1 0 1.4 0a.7 .7 0 1 0 -1.4 0M530.4 141.9a.7 .7 0 1 0 1.4 0a.7 .7 0 1 0 -1.4 0M528.9 203.2a.7 .7 0 1 0 1.4 0a.7 .7 0 1 0 -1.4 0M529.3 196.3a.7 .7 0 1 0 1.4 0a.7 .7 0 1 0 -1.4 0M533.1 176.9a.7 .7 0 1 0 1.4 0a.7 .7 0 1 0 -1.4 0M530.9 198.1a.7 .7 0 1 0 1.4 0a.7 .7 0 1 0 -1.4 0M531.3 177.4a.7 .7 0 1 0 1.4 0a.7 .7 0 1 0 -1.4 0M529.1 127.7a.7 .7 0 1 0 1.4 0a.7 .7 0 1 0 -1.4 0M533.2 182.2a.7 .7 0 1 0 1.4 0a.7 .7 0 1 0 -1.4 0M528.4 174.4a.7 .7 0 1 0 1.4 0a.7 .7 0 1 0 -1.4 0M531.5 161.4a.7 .7 0 1 0 1.4 0a.7 .7 0 1 0 -1.4 0M532.0 204.1a.7 .7 0 1 0 1.4 0a.7 .7 0 1 0 -1.4 0M531.9 108.1a.7 .7 0 1 0 1.4 0a.7 .7 0 1 0 -1.4 0M532.2 178.3a.7 .7 0 1 0 1.4 0a.7 .7 0 1 0 -1.4 0M531.8 123.8a.7 .7 0 1 0 1.4 0a.7 .7 0 1 0 -1.4 0M532.5 171.2a.7 .7 0 1 0 1.4 0a.7 .7 0 1 0 -1.4 0M529.3 179.7a.7 .7 0 1 0 1.4 0a.7 .7 0 1 0 -1.4 0M529.0 139.6a.7 .7 0 1 0 1.4 0a.7 .7 0 1 0 -1.4 0"/>
<path d="M312.2 212.1a.7 .7 0 1 0 1.4 0a.7 .7 0 1 0 -1.4 0M311.7 213.6a.7 .7 0 1 0 1.4 0a.7 .7 0 1 0 -1.4 0M310.9 209.7a.7 .7 0 1 0 1.4 0a.7 .7 0 1 0 -1.4 0M313.5 214.7a.7 .7 0 1 0 1.4 0a.7 .7 0 1 0 -1.4 0M310.9 213.3a.7 .7 0 1 0 1.4 0a.7 .7 0 1 0 -1.4 0M311.6 214.4a.7 .7 0 1 0 1.4 0a.7 .7 0 1 0 -1.4 0M311.6 212.2a.7 .7 0 1 0 1.4 0a.7 .7 0 1 0 -1.4 0M314.1 210.7a.7 .7 0 1 0 1.4 0a.7 .7 0 1 0 -1.4 0M311.9 214.2a.7 .7 0 1 0 1.4 0a.7 .7 0 1 0 -1.4 0M313.9 213.7a.7 .7 0 1 0 1.4 0a.7 .7 0 1 0 -1.4 0M336.9 213.2a.7 .7 0 1 0 1.4 0a.7 .7 0 1 0 -1.4 0M336.1 212.1a.7 .7 0 1 0 1.4 0a.7 .7 0 1 0 -1.4 0M336.2 207.3a.7 .7 0 1 0 1.4 0a.7 .7 0 1 0 -1.4 0M335.7 208.8a.7 .7 0 1 0 1.4 0a.7 .7 0 1 0 -1.4 0M338.5 209.5a.7 .7 0 1 0 1.4 0a.7 .7 0 1 0 -1.4 0M335.7 209.5a.7 .7 0 1 0 1.4 0a.7 .7 0 1 0 -1.4 0M336.5 209.4a.7 .7 0 1 0 1.4 0a.7 .7 0 1 0 -1.4 0M338.4 206.1a.7 .7 0 1 0 1.4 0a.7 .7 0 1 0 -1.4 0M338.5 208.1a.7 .7 0 1 0 1.4 0a.7 .7 0 1 0 -1.4 0M361.2 207.9a.7 .7 0 1 0 1.4 0a.7 .7 0 1 0 -1.4 0M359.0 211.9a.7 .7 0 1 0 1.4 0a.7 .7 0 1 0 -1.4 0M362.5 214.4a.7 .7 0 1 0 1.4 0a.7 .7 0 1 0 -1.4 0M359.3 211.1a.7 .7 0 1 0 1.4 0a.7 .7 0 1 0 -1.4 0M361.6 210.7a.7 .7 0 1 0 1.4 0a.7 .7 0 1 0 -1.4 0M361.2 210.3a.7 .7 0 1 0 1.4 0a.7 .7 0 1 0 -1.4 0M359.3 213.5a.7 .7 0 1 0 1.4 0a.7 .7 0 1 0 -1.4 0M362.1 199.7a.7 .7 0 1 0 1.4 0a.7 .7 0 1 0 -1.4 0M359.8 199.5a.7 .7 0 1 0 1.4 0a.7 .7 0 1 0 -1.4 0M386.2 206.3a.7 .7 0 1 0 1.4 0a.7 .7 0 1 0 -1.4 0M386.8 192.6a.7 .7 0 1 0 1.4 0a.7 .7 0 1 0 -1.4 0M383.4 202.0a.7 .7 0 1 0 1.4 0a.7 .7 0 1 0 -1.4 0M383.9 207.4a.7 .7 0 1 0 1.4 0a.7 .7 0 1 0 -1.4 0M384.7 208.6a.7 .7 0 1 0 1.4 0a.7 .7 0 1 0 -1.4 0M386.9 198.4a.7 .7 0 1 0 1.4 0a.7 .7 0 1 0 -1.4 0M385.0 205.6a.7 .7 0 1 0 1.4 0a.7 .7 0 1 0 -1.4 0M386.2 215.1a.7 .7 0 1 0 1.4 0a.7 .7 0 1 0 -1.4 0M385.7 211.7a.7 .7 0 1 0 1.4 0a.7 .7 0 1 0 -1.4 0M387.2 209.9a.7 .7 0 1 0 1.4 0a.7 .7 0 1 0 -1.4 0M386.9 194.0a.7 .7 0 1 0 1.4 0a.7 .7 0 1 0 -1.4 0M383.7 188.0a.7 .7 0 1 0 1.4 0a.7 .7 0 1 0 -1.4 0M387.0 193.2a.7 .7 0 1 0 1.4 0a.7 .7 0 1 0 -1.4 0M386.0 205.6a.7 .7 0 1 0 1.4 0a.7 .7 0 1 0 -1.4 0M383.8 187.7a.7 .7 0 1 0 1.4 0a.7 .7 0 1 0 -1.4 0M409.6 212.5a.7 .7 0 1 0 1.4 0a.7 .7 0 1 0 -1.4 0M407.7 209.9a.7 .7 0 1 0 1.4 0a.7 .7 0 1 0 -1.4 0M407.9 212.7a.7 .7 0 1 0 1.4 0a.7 .7 0 1 0 -1.4 0M410.6 208.2a.7 .7 0 1 0 1.4 0a.7 .7 0 1 0 -1.4 0M410.5 212.0a.7 .7 0 1 0 1.4 0a.7 .7 0 1 0 -1.4 0M410.7 213.6a.7 .7 0 1 0 1.4 0a.7 .7 0 1 0 -1.4 0M408.4 208.5a.7 .7 0 1 0 1.4 0a.7 .7 0 1 0 -1.4 0M407.7 214.7a.7 .7 0 1 0 1.4 0a.7 .7 0 1 0 -1.4 0M435.4 211.5a.7 .7 0 1 0 1.4 0a.7 .7 0 1 0 -1.4 0M433.3 214.8a.7 .7 0 1 0 1.4 0a.7 .7 0 1 0 -1.4 0M435.5 211.7a.7 .7 0 1 0 1.4 0a.7 .7 0 1 0 -1.4 0M434.3 208.0a.7 .7 0 1 0 1.4 0a.7 .7 0 1 0 -1.4 0M433.3 214.7a.7 .7 0 1 0 1.4 0a.7 .7 0 1 0 -1.4 0M459.5 212.8a.7 .7 0 1 0 1.4 0a.7 .7 0 1 0 -1.4 0M459.7 133.4a.7 .7 0 1 0 1.4 0a.7 .7 0 1 0 -1.4 0M456.1 173.1a.7 .7 0 1 0 1.4 0a.7 .7 0 1 0 -1.4 0M458.0 160.8a.7 .7 0 1 0 1.4 0a.7 .7 0 1 0 -1.4 0M459.6 191.7a.7 .7 0 1 0 1.4 0a.7 .7 0 1 0 -1.4 0M459.7 153.8a.7 .7 0 1 0 1.4 0a.7 .7 0 1 0 -1.4 0M458.5 211.6a.7 .7 0 1 0 1.4 0a.7 .7 0 1 0 -1.4 0M457.1 197.1a.7 .7 0 1 0 1.4 0a.7 .7 0 1 0 -1.4 0M456.9 129.0a.7 .7 0 1 0 1.4 0a.7 .7 0 1 0 -1.4 0M457.9 129.5a.7 .7 0 1 0 1.4 0a.7 .7 0 1 0 -1.4 0M459.9 196.3a.7 .7 0 1 0 1.4 0a.7 .7 0 1 0 -1.4 0M457.4 210.0a.7 .7 0 1 0 1.4 0a.7 .7 0 1 0 -1.4 0M456.8 173.2a.7 .7 0 1 0 1.4 0a.7 .7 0 1 0 -1.4 0M455.3 215.4a.7 .7 0 1 0 1.4 0a.7 .7 0 1 0 -1.4 0M460.5 180.3a.7 .7 0 1 0 1.4 0a.7 .7 0 1 0 -1.4 0M457.8 174.4a.7 .7 0 1 0 1.4 0a.7 .7 0 1 0 -1.4 0M459.6 215.5a.7 .7 0 1 0 1.4 0a.7 .7 0 1 0 -1.4 0M456.6 130.0a.7 .7 0 1 0 1.4 0a.7 .7 0 1 0 -1.4 0M458.3 215.2a.7 .7 0 1 0 1.4 0a.7 .7 0 1 0 -1.4 0M456.8 141.9a.7 .7 0 1 0 1.4 0a.7 .7 0 1 0 -1.4 0M455.9 148.6a.7 .7 0 1 0 1.4 0a.7 .7 0 1 0 -1.4 0M458.9 205.0a.7 .7 0 1 0 1.4 0a.7 .7 0 1 0 -1.4 0M459.5 186.8a.7 .7 0 1 0 1.4 0a.7 .7 0 1 0 -1.4 0M456.8 163.2a.7 .7 0 1 0 1.4 0a.7 .7 0 1 0 -1.4 0M460.8 204.1a.7 .7 0 1 0 1.4 0a.7 .7 0 1 0 -1.4 0M455.6 182.6a.7 .7 0 1 0 1.4 0a.7 .7 0 1 0 -1.4 0M460.1 211.4a.7 .7 0 1 0 1.4 0a.7 .7 0 1 0 -1.4 0M458.1 197.0a.7 .7 0 1 0 1.4 0a.7 .7 0 1 0 -1.4 0M455.8 207.1a.7 .7 0 1 0 1.4 0a.7 .7 0 1 0 -1.4 0M455.5 190.5a.7 .7 0 1 0 1.4 0a.7 .7 0 1 0 -1.4 0M455.5 214.0a.7 .7 0 1 0 1.4 0a.7 .7 0 1 0 -1.4 0M455.8 210.8a.7 .7 0 1 0 1.4 0a.7 .7 0 1 0 -1.4 0M458.9 208.2a.7 .7 0 1 0 1.4 0a.7 .7 0 1 0 -1.4 0M456.3 204.0a.7 .7 0 1 0 1.4 0a.7 .7 0 1 0 -1.4 0M459.2 207.4a.7 .7 0 1 0 1.4 0a.7 .7 0 1 0 -1.4 0M456.6 204.4a.7 .7 0 1 0 1.4 0a.7 .7 0 1 0 -1.4 0M456.4 215.3a.7 .7 0 1 0 1.4 0a.7 .7 0 1 0 -1.4 0M458.4 195.0a.7 .7 0 1 0 1.4 0a.7 .7 0 1 0 -1.4 0M459.7 205.9a.7 .7 0 1 0 1.4 0a.7 .7 0 1 0 -1.4 0M481.6 159.3a.7 .7 0 1 0 1.4 0a.7 .7 0 1 0 -1.4 0M483.5 197.8a.7 .7 0 1 0 1.4 0a.7 .7 0 1 0 -1.4 0M482.0 207.2a.7 .7 0 1 0 1.4 0a.7 .7 0 1 0 -1.4 0M480.9 110.7a.7 .7 0 1 0 1.4 0a.7 .7 0 1 0 -1.4 0M480.4 215.0a.7 .7 0 1 0 1.4 0a.7 .7 0 1 0 -1.4 0M481.2 149.8a.7 .7 0 1 0 1.4 0a.7 .7 0 1 0 -1.4 0M484.5 213.4a.7 .7 0 1 0 1.4 0a.7 .7 0 1 0 -1.4 0M483.7 205.4a.7 .7 0 1 0 1.4 0a.7 .7 0 1 0 -1.4 0M481.8 125.8a.7 .7 0 1 0 1.4 0a.7 .7 0 1 0 -1.4 0M483.4 214.5a.7 .7 0 1 0 1.4 0a.7 .7 0 1 0 -1.4 0M483.6 175.2a.7 .7 0 1 0 1.4 0a.7 .7 0 1 0 -1.4 0M483.5 154.4a.7 .7 0 1 0 1.4 0a.7 .7 0 1 0 -1.4 0M480.8 187.6a.7 .7 0 1 0 1.4 0a.7 .7 0 1 0 -1.4 0M481.7 157.8a.7 .7 0 1 0 1.4 0a.7 .7 0 1 0 -1.4 0M484.3 205.4a.7 .7 0 1 0 1.4 0a.7 .7 0 1 0 -1.4 0M484.0 113.1a.7 .7 0 1 0 1.4 0a.7 .7 0 1 0 -1.4 0M483.9 201.3a.7 .7 0 1 0 1.4 0a.7 .7 0 1 0 -1.4 0M482.1 211.2a.7 .7 0 1 0 1.4 0a.7 .7 0 1 0 -1.4 0M481.0 156.1a.7 .7 0 1 0 1.4 0a.7 .7 0 1 0 -1.4 0M484.2 215.3a.7 .7 0 1 0 1.4 0a.7 .7 0 1 0 -1.4 0M482.4 182.6a.7 .7 0 1 0 1.4 0a.7 .7 0 1 0 -1.4 0M483.0 153.1a.7 .7 0 1 0 1.4 0a.7 .7 0 1 0 -1.4 0M483.8 214.9a.7 .7 0 1 0 1.4 0a.7 .7 0 1 0 -1.4 0M480.7 143.0a.7 .7 0 1 0 1.4 0a.7 .7 0 1 0 -1.4 0M481.6 169.0a.7 .7 0 1 0 1.4 0a.7 .7 0 1 0 -1.4 0M483.9 199.3a.7 .7 0 1 0 1.4 0a.7 .7 0 1 0 -1.4 0M480.7 161.9a.7 .7 0 1 0 1.4 0a.7 .7 0 1 0 -1.4 0M480.3 177.4a.7 .7 0 1 0 1.4 0a.7 .7 0 1 0 -1.4 0M481.1 115.3a.7 .7 0 1 0 1.4 0a.7 .7 0 1 0 -1.4 0M484.8 210.6a.7 .7 0 1 0 1.4 0a.7 .7 0 1 0 -1.4 0M481.9 184.2a.7 .7 0 1 0 1.4 0a.7 .7 0 1 0 -1.4 0M484.6 152.3a.7 .7 0 1 0 1.4 0a.7 .7 0 1 0 -1.4 0M483.9 208.2a.7 .7 0 1 0 1.4 0a.7 .7 0 1 0 -1.4 0M482.3 202.6a.7 .7 0 1 0 1.4 0a.7 .7 0 1 0 -1.4 0M484.0 127.2a.7 .7 0 1 0 1.4 0a.7 .7 0 1 0 -1.4 0M483.8 189.3a.7 .7 0 1 0 1.4 0a.7 .7 0 1 0 -1.4 0M481.7 203.3a.7 .7 0 1 0 1.4 0a.7 .7 0 1 0 -1.4 0M480.1 179.4a.7 .7 0 1 0 1.4 0a.7 .7 0 1 0 -1.4 0M484.6 139.2a.7 .7 0 1 0 1.4 0a.7 .7 0 1 0 -1.4 0M482.4 188.6a.7 .7 0 1 0 1.4 0a.7 .7 0 1 0 -1.4 0M483.5 214.7a.7 .7 0 1 0 1.4 0a.7 .7 0 1 0 -1.4 0M483.9 205.0a.7 .7 0 1 0 1.4 0a.7 .7 0 1 0 -1.4 0M484.3 214.5a.7 .7 0 1 0 1.4 0a.7 .7 0 1 0 -1.4 0M483.0 208.9a.7 .7 0 1 0 1.4 0a.7 .7 0 1 0 -1.4 0M482.4 177.5a.7 .7 0 1 0 1.4 0a.7 .7 0 1 0 -1.4 0M481.3 179.9a.7 .7 0 1 0 1.4 0a.7 .7 0 1 0 -1.4 0M483.2 215.5a.7 .7 0 1 0 1.4 0a.7 .7 0 1 0 -1.4 0M483.8 211.1a.7 .7 0 1 0 1.4 0a.7 .7 0 1 0 -1.4 0M481.2 204.1a.7 .7 0 1 0 1.4 0a.7 .7 0 1 0 -1.4 0M481.1 214.6a.7 .7 0 1 0 1.4 0a.7 .7 0 1 0 -1.4 0M481.9 193.6a.7 .7 0 1 0 1.4 0a.7 .7 0 1 0 -1.4 0M484.0 180.8a.7 .7 0 1 0 1.4 0a.7 .7 0 1 0 -1.4 0M480.4 212.4a.7 .7 0 1 0 1.4 0a.7 .7 0 1 0 -1.4 0M481.8 202.7a.7 .7 0 1 0 1.4 0a.7 .7 0 1 0 -1.4 0M506.8 127.2a.7 .7 0 1 0 1.4 0a.7 .7 0 1 0 -1.4 0M509.4 206.2a.7 .7 0 1 0 1.4 0a.7 .7 0 1 0 -1.4 0M504.8 111.5a.7 .7 0 1 0 1.4 0a.7 .7 0 1 0 -1.4 0M505.0 147.0a.7 .7 0 1 0 1.4 0a.7 .7 0 1 0 -1.4 0M508.1 199.6a.7 .7 0 1 0 1.4 0a.7 .7 0 1 0 -1.4 0M508.2 183.1a.7 .7 0 1 0 1.4 0a.7 .7 0 1 0 -1.4 0M505.9 183.8a.7 .7 0 1 0 1.4 0a.7 .7 0 1 0 -1.4 0M505.9 207.0a.7 .7 0 1 0 1.4 0a.7 .7 0 1 0 -1.4 0M505.5 180.3a.7 .7 0 1 0 1.4 0a.7 .7 0 1 0 -1.4 0M508.9 135.8a.7 .7 0 1 0 1.4 0a.7 .7 0 1 0 -1.4 0M508.6 199.6a.7 .7 0 1 0 1.4 0a.7 .7 0 1 0 -1.4 0M506.6 210.8a.7 .7 0 1 0 1.4 0a.7 .7 0 1 0 -1.4 0M505.0 121.3a.7 .7 0 1 0 1.4 0a.7 .7 0 1 0 -1.4 0M509.2 191.2a.7 .7 0 1 0 1.4 0a.7 .7 0 1 0 -1.4 0M506.3 157.2a.7 .7 0 1 0 1.4 0a.7 .7 0 1 0 -1.4 0M506.9 93.1a.7 .7 0 1 0 1.4 0a.7 .7 0 1 0 -1.4 0M508.2 213.1a.7 .7 0 1 0 1.4 0a.7 .7 0 1 0 -1.4 0M506.1 99.4a.7 .7 0 1 0 1.4 0a.7 .7 0 1 0 -1.4 0M505.1 114.0a.7 .7 0 1 0 1.4 0a.7 .7 0 1 0 -1.4 0M507.6 167.8a.7 .7 0 1 0 1.4 0a.7 .7 0 1 0 -1.4 0M504.6 130.0a.7 .7 0 1 0 1.4 0a.7 .7 0 1 0 -1.4 0M505.8 153.3a.7 .7 0 1 0 1.4 0a.7 .7 0 1 0 -1.4 0M504.5 143.6a.7 .7 0 1 0 1.4 0a.7 .7 0 1 0 -1.4 0M508.9 124.9a.7 .7 0 1 0 1.4 0a.7 .7 0 1 0 -1.4 0M506.8 171.1a.7 .7 0 1 0 1.4 0a.7 .7 0 1 0 -1.4 0M508.2 169.4a.7 .7 0 1 0 1.4 0a.7 .7 0 1 0 -1.4 0M504.6 126.3a.7 .7 0 1 0 1.4 0a.7 .7 0 1 0 -1.4 0M508.2 149.0a.7 .7 0 1 0 1.4 0a.7 .7 0 1 0 -1.4 0M506.5 167.1a.7 .7 0 1 0 1.4 0a.7 .7 0 1 0 -1.4 0M508.8 136.1a.7 .7 0 1 0 1.4 0a.7 .7 0 1 0 -1.4 0M506.9 197.7a.7 .7 0 1 0 1.4 0a.7 .7 0 1 0 -1.4 0M503.9 198.8a.7 .7 0 1 0 1.4 0a.7 .7 0 1 0 -1.4 0M509.2 196.8a.7 .7 0 1 0 1.4 0a.7 .7 0 1 0 -1.4 0M504.5 160.5a.7 .7 0 1 0 1.4 0a.7 .7 0 1 0 -1.4 0M505.5 179.3a.7 .7 0 1 0 1.4 0a.7 .7 0 1 0 -1.4 0M504.0 201.7a.7 .7 0 1 0 1.4 0a.7 .7 0 1 0 -1.4 0M505.7 101.1a.7 .7 0 1 0 1.4 0a.7 .7 0 1 0 -1.4 0M505.5 183.2a.7 .7 0 1 0 1.4 0a.7 .7 0 1 0 -1.4 0M508.4 152.5a.7 .7 0 1 0 1.4 0a.7 .7 0 1 0 -1.4 0M507.0 142.2a.7 .7 0 1 0 1.4 0a.7 .7 0 1 0 -1.4 0M508.3 210.1a.7 .7 0 1 0 1.4 0a.7 .7 0 1 0 -1.4 0M507.7 137.2a.7 .7 0 1 0 1.4 0a.7 .7 0 1 0 -1.4 0M505.4 198.0a.7 .7 0 1 0 1.4 0a.7 .7 0 1 0 -1.4 0M508.3 183.2a.7 .7 0 1 0 1.4 0a.7 .7 0 1 0 -1.4 0M509.3 199.0a.7 .7 0 1 0 1.4 0a.7 .7 0 1 0 -1.4 0M506.4 203.8a.7 .7 0 1 0 1.4 0a.7 .7 0 1 0 -1.4 0M506.7 124.5a.7 .7 0 1 0 1.4 0a.7 .7 0 1 0 -1.4 0M509.3 181.3a.7 .7 0 1 0 1.4 0a.7 .7 0 1 0 -1.4 0M505.3 206.7a.7 .7 0 1 0 1.4 0a.7 .7 0 1 0 -1.4 0M507.5 97.9a.7 .7 0 1 0 1.4 0a.7 .7 0 1 0 -1.4 0M505.6 144.0a.7 .7 0 1 0 1.4 0a.7 .7 0 1 0 -1.4 0M507.7 202.7a.7 .7 0 1 0 1.4 0a.7 .7 0 1 0 -1.4 0M508.4 163.4a.7 .7 0 1 0 1.4 0a.7 .7 0 1 0 -1.4 0M509.2 209.4a.7 .7 0 1 0 1.4 0a.7 .7 0 1 0 -1.4 0M504.5 197.9a.7 .7 0 1 0 1.4 0a.7 .7 0 1 0 -1.4 0M505.4 215.2a.7 .7 0 1 0 1.4 0a.7 .7 0 1 0 -1.4 0M509.1 212.1a.7 .7 0 1 0 1.4 0a.7 .7 0 1 0 -1.4 0M507.6 175.3a.7 .7 0 1 0 1.4 0a.7 .7 0 1 0 -1.4 0M508.0 197.6a.7 .7 0 1 0 1.4 0a.7 .7 0 1 0 -1.4 0M506.6 198.3a.7 .7 0 1 0 1.4 0a.7 .7 0 1 0 -1.4 0M508.0 199.8a.7 .7 0 1 0 1.4 0a.7 .7 0 1 0 -1.4 0M505.4 209.5a.7 .7 0 1 0 1.4 0a.7 .7 0 1 0 -1.4 0M506.8 163.8a.7 .7 0 1 0 1.4 0a.7 .7 0 1 0 -1.4 0M506.9 210.6a.7 .7 0 1 0 1.4 0a.7 .7 0 1 0 -1.4 0M532.5 176.7a.7 .7 0 1 0 1.4 0a.7 .7 0 1 0 -1.4 0M528.8 203.7a.7 .7 0 1 0 1.4 0a.7 .7 0 1 0 -1.4 0M530.0 101.0a.7 .7 0 1 0 1.4 0a.7 .7 0 1 0 -1.4 0M531.4 109.6a.7 .7 0 1 0 1.4 0a.7 .7 0 1 0 -1.4 0M530.1 200.0a.7 .7 0 1 0 1.4 0a.7 .7 0 1 0 -1.4 0M530.9 130.2a.7 .7 0 1 0 1.4 0a.7 .7 0 1 0 -1.4 0M530.7 205.3a.7 .7 0 1 0 1.4 0a.7 .7 0 1 0 -1.4 0M528.5 195.1a.7 .7 0 1 0 1.4 0a.7 .7 0 1 0 -1.4 0M533.3 165.5a.7 .7 0 1 0 1.4 0a.7 .7 0 1 0 -1.4 0M532.3 166.0a.7 .7 0 1 0 1.4 0a.7 .7 0 1 0 -1.4 0M533.5 188.0a.7 .7 0 1 0 1.4 0a.7 .7 0 1 0 -1.4 0M531.0 106.2a.7 .7 0 1 0 1.4 0a.7 .7 0 1 0 -1.4 0M530.1 181.3a.7 .7 0 1 0 1.4 0a.7 .7 0 1 0 -1.4 0M528.5 180.7a.7 .7 0 1 0 1.4 0a.7 .7 0 1 0 -1.4 0M530.4 124.5a.7 .7 0 1 0 1.4 0a.7 .7 0 1 0 -1.4 0M530.5 119.0a.7 .7 0 1 0 1.4 0a.7 .7 0 1 0 -1.4 0M530.5 116.2a.7 .7 0 1 0 1.4 0a.7 .7 0 1 0 -1.4 0M531.4 159.9a.7 .7 0 1 0 1.4 0a.7 .7 0 1 0 -1.4 0M529.6 205.9a.7 .7 0 1 0 1.4 0a.7 .7 0 1 0 -1.4 0M530.6 140.2a.7 .7 0 1 0 1.4 0a.7 .7 0 1 0 -1.4 0M532.9 200.6a.7 .7 0 1 0 1.4 0a.7 .7 0 1 0 -1.4 0M529.7 204.7a.7 .7 0 1 0 1.4 0a.7 .7 0 1 0 -1.4 0M531.5 158.6a.7 .7 0 1 0 1.4 0a.7 .7 0 1 0 -1.4 0M529.1 203.0a.7 .7 0 1 0 1.4 0a.7 .7 0 1 0 -1.4 0M533.5 205.4a.7 .7 0 1 0 1.4 0a.7 .7 0 1 0 -1.4 0M531.7 201.4a.7 .7 0 1 0 1.4 0a.7 .7 0 1 0 -1.4 0M532.6 172.7a.7 .7 0 1 0 1.4 0a.7 .7 0 1 0 -1.4 0M531.9 145.8a.7 .7 0 1 0 1.4 0a.7 .7 0 1 0 -1.4 0M530.9 148.5a.7 .7 0 1 0 1.4 0a.7 .7 0 1 0 -1.4 0M529.0 121.6a.7 .7 0 1 0 1.4 0a.7 .7 0 1 0 -1.4 0M529.4 163.1a.7 .7 0 1 0 1.4 0a.7 .7 0 1 0 -1.4 0M531.3 156.9a.7 .7 0 1 0 1.4 0a.7 .7 0 1 0 -1.4 0M528.9 180.5a.7 .7 0 1 0 1.4 0a.7 .7 0 1 0 -1.4 0"/>
<path d="M310.3 212.9a.7 .7 0 1 0 1.4 0a.7 .7 0 1 0 -1.4 0M311.9 209.7a.7 .7 0 1 0 1.4 0a.7 .7 0 1 0 -1.4 0M313.1 213.3a.7 .7 0 1 0 1.4 0a.7 .7 0 1 0 -1.4 0M312.7 212.5a.7 .7 0 1 0 1.4 0a.7 .7 0 1 0 -1.4 0M310.7 212.6a.7 .7 0 1 0 1.4 0a.7 .7 0 1 0 -1.4 0M310.6 212.2a.7 .7 0 1 0 1.4 0a.7 .7 0 1 0 -1.4 0M313.6 211.8a.7 .7 0 1 0 1.4 0a.7 .7 0 1 0 -1.4 0M311.0 214.0a.7 .7 0 1 0 1.4 0a.7 .7 0 1 0 -1.4 0M310.7 211.3a.7 .7 0 1 0 1.4 0a.7 .7 0 1 0 -1.4 0M338.6 206.3a.7 .7 0 1 0 1.4 0a.7 .7 0 1 0 -1.4 0M335.6 213.0a.7 .7 0 1 0 1.4 0a.7 .7 0 1 0 -1.4 0M336.5 208.7a.7 .7 0 1 0 1.4 0a.7 .7 0 1 0 -1.4 0M334.6 212.0a.7 .7 0 1 0 1.4 0a.7 .7 0 1 0 -1.4 0M338.3 214.3a.7 .7 0 1 0 1.4 0a.7 .7 0 1 0 -1.4 0M338.4 202.3a.7 .7 0 1 0 1.4 0a.7 .7 0 1 0 -1.4 0M359.3 209.2a.7 .7 0 1 0 1.4 0a.7 .7 0 1 0 -1.4 0M361.3 206.0a.7 .7 0 1 0 1.4 0a.7 .7 0 1 0 -1.4 0M361.0 212.4a.7 .7 0 1 0 1.4 0a.7 .7 0 1 0 -1.4 0M361.2 209.6a.7 .7 0 1 0 1.4 0a.7 .7 0 1 0 -1.4 0M359.3 215.2a.7 .7 0 1 0 1.4 0a.7 .7 0 1 0 -1.4 0M360.4 205.6a.7 .7 0 1 0 1.4 0a.7 .7 0 1 0 -1.4 0M362.4 201.4a.7 .7 0 1 0 1.4 0a.7 .7 0 1 0 -1.4 0M360.6 201.7a.7 .7 0 1 0 1.4 0a.7 .7 0 1 0 -1.4 0M386.6 193.4a.7 .7 0 1 0 1.4 0a.7 .7 0 1 0 -1.4 0M385.3 190.2a.7 .7 0 1 0 1.4 0a.7 .7 0 1 0 -1.4 0M387.0 212.7a.7 .7 0 1 0 1.4 0a.7 .7 0 1 0 -1.4 0M383.7 188.7a.7 .7 0 1 0 1.4 0a.7 .7 0 1 0 -1.4 0M385.3 213.2a.7 .7 0 1 0 1.4 0a.7 .7 0 1 0 -1.4 0M384.0 206.2a.7 .7 0 1 0 1.4 0a.7 .7 0 1 0 -1.4 0M383.8 201.2a.7 .7 0 1 0 1.4 0a.7 .7 0 1 0 -1.4 0M385.8 190.8a.7 .7 0 1 0 1.4 0a.7 .7 0 1 0 -1.4 0M385.5 215.0a.7 .7 0 1 0 1.4 0a.7 .7 0 1 0 -1.4 0M410.8 214.8a.7 .7 0 1 0 1.4 0a.7 .7 0 1 0 -1.4 0M410.2 211.0a.7 .7 0 1 0 1.4 0a.7 .7 0 1 0 -1.4 0M411.0 207.9a.7 .7 0 1 0 1.4 0a.7 .7 0 1 0 -1.4 0M411.6 212.3a.7 .7 0 1 0 1.4 0a.7 .7 0 1 0 -1.4 0M435.3 214.6a.7 .7 0 1 0 1.4 0a.7 .7 0 1 0 -1.4 0M434.7 207.5a.7 .7 0 1 0 1.4 0a.7 .7 0 1 0 -1.4 0M433.4 209.8a.7 .7 0 1 0 1.4 0a.7 .7 0 1 0 -1.4 0M432.6 208.6a.7 .7 0 1 0 1.4 0a.7 .7 0 1 0 -1.4 0M432.4 213.4a.7 .7 0 1 0 1.4 0a.7 .7 0 1 0 -1.4 0M432.6 212.4a.7 .7 0 1 0 1.4 0a.7 .7 0 1 0 -1.4 0M432.6 210.0a.7 .7 0 1 0 1.4 0a.7 .7 0 1 0 -1.4 0M433.7 209.4a.7 .7 0 1 0 1.4 0a.7 .7 0 1 0 -1.4 0M434.1 209.3a.7 .7 0 1 0 1.4 0a.7 .7 0 1 0 -1.4 0M459.0 211.7a.7 .7 0 1 0 1.4 0a.7 .7 0 1 0 -1.4 0M457.7 144.8a.7 .7 0 1 0 1.4 0a.7 .7 0 1 0 -1.4 0M460.0 215.0a.7 .7 0 1 0 1.4 0a.7 .7 0 1 0 -1.4 0M455.4 211.9a.7 .7 0 1 0 1.4 0a.7 .7 0 1 0 -1.4 0M457.4 215.5a.7 .7 0 1 0 1.4 0a.7 .7 0 1 0 -1.4 0M456.5 203.4a.7 .7 0 1 0 1.4 0a.7 .7 0 1 0 -1.4 0M458.9 186.7a.7 .7 0 1 0 1.4 0a.7 .7 0 1 0 -1.4 0M457.6 176.8a.7 .7 0 1 0 1.4 0a.7 .7 0 1 0 -1.4 0M460.1 189.5a.7 .7 0 1 0 1.4 0a.7 .7 0 1 0 -1.4 0M456.1 151.4a.7 .7 0 1 0 1.4 0a.7 .7 0 1 0 -1.4 0M457.3 193.7a.7 .7 0 1 0 1.4 0a.7 .7 0 1 0 -1.4 0M459.8 199.4a.7 .7 0 1 0 1.4 0a.7 .7 0 1 0 -1.4 0M457.3 192.2a.7 .7 0 1 0 1.4 0a.7 .7 0 1 0 -1.4 0M460.0 158.2a.7 .7 0 1 0 1.4 0a.7 .7 0 1 0 -1.4 0M459.9 132.1a.7 .7 0 1 0 1.4 0a.7 .7 0 1 0 -1.4 0M457.3 205.0a.7 .7 0 1 0 1.4 0a.7 .7 0 1 0 -1.4 0M457.6 174.1a.7 .7 0 1 0 1.4 0a.7 .7 0 1 0 -1.4 0M456.9 167.3a.7 .7 0 1 0 1.4 0a.7 .7 0 1 0 -1.4 0M456.4 162.0a.7 .7 0 1 0 1.4 0a.7 .7 0 1 0 -1.4 0M456.7 152.0a.7 .7 0 1 0 1.4 0a.7 .7 0 1 0 -1.4 0M456.6 153.7a.7 .7 0 1 0 1.4 0a.7 .7 0 1 0 -1.4 0M457.9 215.1a.7 .7 0 1 0 1.4 0a.7 .7 0 1 0 -1.4 0M459.5 202.5a.7 .7 0 1 0 1.4 0a.7 .7 0 1 0 -1.4 0M460.1 144.7a.7 .7 0 1 0 1.4 0a.7 .7 0 1 0 -1.4 0M455.3 215.3a.7 .7 0 1 0 1.4 0a.7 .7 0 1 0 -1.4 0M458.5 195.8a.7 .7 0 1 0 1.4 0a.7 .7 0 1 0 -1.4 0M458.8 206.9a.7 .7 0 1 0 1.4 0a.7 .7 0 1 0 -1.4 0M457.0 190.2a.7 .7 0 1 0 1.4 0a.7 .7 0 1 0 -1.4 0M457.2 189.8a.7 .7 0 1 0 1.4 0a.7 .7 0 1 0 -1.4 0M459.3 174.8a.7 .7 0 1 0 1.4 0a.7 .7 0 1 0 -1.4 0M456.5 199.0a.7 .7 0 1 0 1.4 0a.7 .7 0 1 0 -1.4 0M458.5 177.9a.7 .7 0 1 0 1.4 0a.7 .7 0 1 0 -1.4 0M457.4 171.2a.7 .7 0 1 0 1.4 0a.7 .7 0 1 0 -1.4 0M458.3 207.8a.7 .7 0 1 0 1.4 0a.7 .7 0 1 0 -1.4 0M459.9 131.4a.7 .7 0 1 0 1.4 0a.7 .7 0 1 0 -1.4 0M458.1 186.8a.7 .7 0 1 0 1.4 0a.7 .7 0 1 0 -1.4 0M456.1 200.2a.7 .7 0 1 0 1.4 0a.7 .7 0 1 0 -1.4 0M457.8 152.8a.7 .7 0 1 0 1.4 0a.7 .7 0 1 0 -1.4 0M459.1 203.4a.7 .7 0 1 0 1.4 0a.7 .7 0 1 0 -1.4 0M459.7 203.7a.7 .7 0 1 0 1.4 0a.7 .7 0 1 0 -1.4 0M457.8 182.5a.7 .7 0 1 0 1.4 0a.7 .7 0 1 0 -1.4 0M458.1 152.0a.7 .7 0 1 0 1.4 0a.7 .7 0 1 0 -1.4 0M459.9 215.4a.7 .7 0 1 0 1.4 0a.7 .7 0 1 0 -1.4 0M457.9 189.0a.7 .7 0 1 0 1.4 0a.7 .7 0 1 0 -1.4 0M456.5 213.6a.7 .7 0 1 0 1.4 0a.7 .7 0 1 0 -1.4 0M458.2 204.9a.7 .7 0 1 0 1.4 0a.7 .7 0 1 0 -1.4 0M457.4 195.7a.7 .7 0 1 0 1.4 0a.7 .7 0 1 0 -1.4 0M456.2 195.1a.7 .7 0 1 0 1.4 0a.7 .7 0 1 0 -1.4 0M455.3 215.5a.7 .7 0 1 0 1.4 0a.7 .7 0 1 0 -1.4 0M460.2 212.7a.7 .7 0 1 0 1.4 0a.7 .7 0 1 0 -1.4 0M459.6 187.9a.7 .7 0 1 0 1.4 0a.7 .7 0 1 0 -1.4 0M456.2 215.0a.7 .7 0 1 0 1.4 0a.7 .7 0 1 0 -1.4 0M457.3 214.7a.7 .7 0 1 0 1.4 0a.7 .7 0 1 0 -1.4 0M458.9 195.1a.7 .7 0 1 0 1.4 0a.7 .7 0 1 0 -1.4 0M459.1 197.9a.7 .7 0 1 0 1.4 0a.7 .7 0 1 0 -1.4 0M457.7 215.5a.7 .7 0 1 0 1.4 0a.7 .7 0 1 0 -1.4 0M457.6 213.2a.7 .7 0 1 0 1.4 0a.7 .7 0 1 0 -1.4 0M459.0 194.1a.7 .7 0 1 0 1.4 0a.7 .7 0 1 0 -1.4 0M457.8 207.1a.7 .7 0 1 0 1.4 0a.7 .7 0 1 0 -1.4 0M460.1 188.0a.7 .7 0 1 0 1.4 0a.7 .7 0 1 0 -1.4 0M483.6 215.4a.7 .7 0 1 0 1.4 0a.7 .7 0 1 0 -1.4 0M484.4 185.6a.7 .7 0 1 0 1.4 0a.7 .7 0 1 0 -1.4 0M483.8 126.3a.7 .7 0 1 0 1.4 0a.7 .7 0 1 0 -1.4 0M484.5 178.9a.7 .7 0 1 0 1.4 0a.7 .7 0 1 0 -1.4 0M484.2 169.2a.7 .7 0 1 0 1.4 0a.7 .7 0 1 0 -1.4 0M480.6 194.2a.7 .7 0 1 0 1.4 0a.7 .7 0 1 0 -1.4 0M481.3 172.4a.7 .7 0 1 0 1.4 0a.7 .7 0 1 0 -1.4 0M481.7 108.1a.7 .7 0 1 0 1.4 0a.7 .7 0 1 0 -1.4 0M480.1 211.1a.7 .7 0 1 0 1.4 0a.7 .7 0 1 0 -1.4 0M481.3 148.7a.7 .7 0 1 0 1.4 0a.7 .7 0 1 0 -1.4 0M484.7 215.1a.7 .7 0 1 0 1.4 0a.7 .7 0 1 0 -1.4 0M484.6 195.8a.7 .7 0 1 0 1.4 0a.7 .7 0 1 0 -1.4 0M481.5 214.0a.7 .7 0 1 0 1.4 0a.7 .7 0 1 0 -1.4 0M483.0 193.1a.7 .7 0 1 0 1.4 0a.7 .7 0 1 0 -1.4 0M482.5 119.3a.7 .7 0 1 0 1.4 0a.7 .7 0 1 0 -1.4 0M484.6 207.7a.7 .7 0 1 0 1.4 0a.7 .7 0 1 0 -1.4 0M482.2 181.6a.7 .7 0 1 0 1.4 0a.7 .7 0 1 0 -1.4 0M481.8 139.4a.7 .7 0 1 0 1.4 0a.7 .7 0 1 0 -1.4 0M482.8 115.2a.7 .7 0 1 0 1.4 0a.7 .7 0 1 0 -1.4 0M481.6 169.9a.7 .7 0 1 0 1.4 0a.7 .7 0 1 0 -1.4 0M483.2 198.3a.7 .7 0 1 0 1.4 0a.7 .7 0 1 0 -1.4 0M484.3 150.9a.7 .7 0 1 0 1.4 0a.7 .7 0 1 0 -1.4 0M482.8 146.7a.7 .7 0 1 0 1.4 0a.7 .7 0 1 0 -1.4 0M484.0 214.9a.7 .7 0 1 0 1.4 0a.7 .7 0 1 0 -1.4 0M484.6 161.5a.7 .7 0 1 0 1.4 0a.7 .7 0 1 0 -1.4 0M481.3 141.7a.7 .7 0 1 0 1.4 0a.7 .7 0 1 0 -1.4 0M479.7 201.1a.7 .7 0 1 0 1.4 0a.7 .7 0 1 0 -1.4 0M483.4 163.7a.7 .7 0 1 0 1.4 0a.7 .7 0 1 0 -1.4 0M481.5 198.0a.7 .7 0 1 0 1.4 0a.7 .7 0 1 0 -1.4 0M481.7 184.0a.7 .7 0 1 0 1.4 0a.7 .7 0 1 0 -1.4 0M480.9 191.4a.7 .7 0 1 0 1.4 0a.7 .7 0 1 0 -1.4 0M482.0 117.4a.7 .7 0 1 0 1.4 0a.7 .7 0 1 0 -1.4 0M484.4 128.2a.7 .7 0 1 0 1.4 0a.7 .7 0 1 0 -1.4 0M482.5 137.6a.7 .7 0 1 0 1.4 0a.7 .7 0 1 0 -1.4 0M479.6 212.7a.7 .7 0 1 0 1.4 0a.7 .7 0 1 0 -1.4 0M480.5 211.3a.7 .7 0 1 0 1.4 0a.7 .7 0 1 0 -1.4 0M479.8 199.2a.7 .7 0 1 0 1.4 0a.7 .7 0 1 0 -1.4 0M484.8 176.4a.7 .7 0 1 0 1.4 0a.7 .7 0 1 0 -1.4 0M483.1 109.2a.7 .7 0 1 0 1.4 0a.7 .7 0 1 0 -1.4 0M484.8 206.2a.7 .7 0 1 0 1.4 0a.7 .7 0 1 0 -1.4 0M479.8 215.3a.7 .7 0 1 0 1.4 0a.7 .7 0 1 0 -1.4 0M480.8 170.7a.7 .7 0 1 0 1.4 0a.7 .7 0 1 0 -1.4 0M481.4 214.7a.7 .7 0 1 0 1.4 0a.7 .7 0 1 0 -1.4 0M483.6 214.7a.7 .7 0 1 0 1.4 0a.7 .7 0 1 0 -1.4 0M485.1 215.5a.7 .7 0 1 0 1.4 0a.7 .7 0 1 0 -1.4 0M484.5 215.5a.7 .7 0 1 0 1.4 0a.7 .7 0 1 0 -1.4 0M483.9 203.3a.7 .7 0 1 0 1.4 0a.7 .7 0 1 0 -1.4 0M483.8 183.9a.7 .7 0 1 0 1.4 0a.7 .7 0 1 0 -1.4 0M483.4 195.4a.7 .7 0 1 0 1.4 0a.7 .7 0 1 0 -1.4 0M484.9 209.5a.7 .7 0 1 0 1.4 0a.7 .7 0 1 0 -1.4 0M480.8 209.2a.7 .7 0 1 0 1.4 0a.7 .7 0 1 0 -1.4 0M484.4 194.4a.7 .7 0 1 0 1.4 0a.7 .7 0 1 0 -1.4 0M482.6 187.4a.7 .7 0 1 0 1.4 0a.7 .7 0 1 0 -1.4 0M482.5 197.1a.7 .7 0 1 0 1.4 0a.7 .7 0 1 0 -1.4 0M481.8 200.7a.7 .7 0 1 0 1.4 0a.7 .7 0 1 0 -1.4 0M483.7 201.9a.7 .7 0 1 0 1.4 0a.7 .7 0 1 0 -1.4 0M482.8 184.3a.7 .7 0 1 0 1.4 0a.7 .7 0 1 0 -1.4 0M505.2 100.1a.7 .7 0 1 0 1.4 0a.7 .7 0 1 0 -1.4 0M507.3 193.5a.7 .7 0 1 0 1.4 0a.7 .7 0 1 0 -1.4 0M504.9 170.8a.7 .7 0 1 0 1.4 0a.7 .7 0 1 0 -1.4 0M506.1 192.3a.7 .7 0 1 0 1.4 0a.7 .7 0 1 0 -1.4 0M508.4 157.2a.7 .7 0 1 0 1.4 0a.7 .7 0 1 0 -1.4 0M508.0 209.0a.7 .7 0 1 0 1.4 0a.7 .7 0 1 0 -1.4 0M507.1 102.0a.7 .7 0 1 0 1.4 0a.7 .7 0 1 0 -1.4 0M506.2 159.2a.7 .7 0 1 0 1.4 0a.7 .7 0 1 0 -1.4 0M508.1 205.0a.7 .7 0 1 0 1.4 0a.7 .7 0 1 0 -1.4 0M508.4 168.4a.7 .7 0 1 0 1.4 0a.7 .7 0 1 0 -1.4 0M504.8 205.9a.7 .7 0 1 0 1.4 0a.7 .7 0 1 0 -1.4 0M508.8 134.8a.7 .7 0 1 0 1.4 0a.7 .7 0 1 0 -1.4 0M508.5 98.4a.7 .7 0 1 0 1.4 0a.7 .7 0 1 0 -1.4 0M507.4 123.4a.7 .7 0 1 0 1.4 0a.7 .7 0 1 0 -1.4 0M508.4 141.5a.7 .7 0 1 0 1.4 0a.7 .7 0 1 0 -1.4 0M504.9 130.3a.7 .7 0 1 0 1.4 0a.7 .7 0 1 0 -1.4 0M509.2 181.4a.7 .7 0 1 0 1.4 0a.7 .7 0 1 0 -1.4 0M507.8 119.5a.7 .7 0 1 0 1.4 0a.7 .7 0 1 0 -1.4 0M506.1 177.1a.7 .7 0 1 0 1.4 0a.7 .7 0 1 0 -1.4 0M507.5 154.2a.7 .7 0 1 0 1.4 0a.7 .7 0 1 0 -1.4 0M507.6 125.8a.7 .7 0 1 0 1.4 0a.7 .7 0 1 0 -1.4 0M507.2 185.2a.7 .7 0 1 0 1.4 0a.7 .7 0 1 0 -1.4 0M509.4 215.0a.7 .7 0 1 0 1.4 0a.7 .7 0 1 0 -1.4 0M504.0 212.6a.7 .7 0 1 0 1.4 0a.7 .7 0 1 0 -1.4 0M506.9 136.0a.7 .7 0 1 0 1.4 0a.7 .7 0 1 0 -1.4 0M506.2 185.3a.7 .7 0 1 0 1.4 0a.7 .7 0 1 0 -1.4 0M507.4 134.3a.7 .7 0 1 0 1.4 0a.7 .7 0 1 0 -1.4 0M508.5 213.8a.7 .7 0 1 0 1.4 0a.7 .7 0 1 0 -1.4 0M507.4 186.2a.7 .7 0 1 0 1.4 0a.7 .7 0 1 0 -1.4 0M508.4 112.0a.7 .7 0 1 0 1.4 0a.7 .7 0 1 0 -1.4 0M507.5 129.7a.7 .7 0 1 0 1.4 0a.7 .7 0 1 0 -1.4 0M505.3 203.8a.7 .7 0 1 0 1.4 0a.7 .7 0 1 0 -1.4 0M504.4 147.8a.7 .7 0 1 0 1.4 0a.7 .7 0 1 0 -1.4 0M505.0 105.7a.7 .7 0 1 0 1.4 0a.7 .7 0 1 0 -1.4 0M505.6 164.1a.7 .7 0 1 0 1.4 0a.7 .7 0 1 0 -1.4 0M507.3 112.9a.7 .7 0 1 0 1.4 0a.7 .7 0 1 0 -1.4 0M507.5 159.3a.7 .7 0 1 0 1.4 0a.7 .7 0 1 0 -1.4 0M506.7 189.3a.7 .7 0 1 0 1.4 0a.7 .7 0 1 0 -1.4 0M507.2 131.7a.7 .7 0 1 0 1.4 0a.7 .7 0 1 0 -1.4 0M505.1 162.1a.7 .7 0 1 0 1.4 0a.7 .7 0 1 0 -1.4 0M505.5 144.8a.7 .7 0 1 0 1.4 0a.7 .7 0 1 0 -1.4 0M504.2 214.9a.7 .7 0 1 0 1.4 0a.7 .7 0 1 0 -1.4 0M507.7 116.3a.7 .7 0 1 0 1.4 0a.7 .7 0 1 0 -1.4 0M508.2 171.0a.7 .7 0 1 0 1.4 0a.7 .7 0 1 0 -1.4 0M507.5 202.3a.7 .7 0 1 0 1.4 0a.7 .7 0 1 0 -1.4 0M505.3 166.6a.7 .7 0 1 0 1.4 0a.7 .7 0 1 0 -1.4 0M504.2 215.0a.7 .7 0 1 0 1.4 0a.7 .7 0 1 0 -1.4 0M508.6 195.0a.7 .7 0 1 0 1.4 0a.7 .7 0 1 0 -1.4 0M507.4 187.5a.7 .7 0 1 0 1.4 0a.7 .7 0 1 0 -1.4 0M507.1 163.3a.7 .7 0 1 0 1.4 0a.7 .7 0 1 0 -1.4 0M508.3 211.0a.7 .7 0 1 0 1.4 0a.7 .7 0 1 0 -1.4 0M506.1 196.6a.7 .7 0 1 0 1.4 0a.7 .7 0 1 0 -1.4 0M509.5 215.3a.7 .7 0 1 0 1.4 0a.7 .7 0 1 0 -1.4 0M504.6 204.1a.7 .7 0 1 0 1.4 0a.7 .7 0 1 0 -1.4 0M508.8 180.2a.7 .7 0 1 0 1.4 0a.7 .7 0 1 0 -1.4 0M504.3 199.9a.7 .7 0 1 0 1.4 0a.7 .7 0 1 0 -1.4 0M507.6 171.2a.7 .7 0 1 0 1.4 0a.7 .7 0 1 0 -1.4 0M507.3 215.1a.7 .7 0 1 0 1.4 0a.7 .7 0 1 0 -1.4 0M509.1 206.7a.7 .7 0 1 0 1.4 0a.7 .7 0 1 0 -1.4 0M507.8 205.0a.7 .7 0 1 0 1.4 0a.7 .7 0 1 0 -1.4 0M504.6 177.2a.7 .7 0 1 0 1.4 0a.7 .7 0 1 0 -1.4 0M504.8 211.0a.7 .7 0 1 0 1.4 0a.7 .7 0 1 0 -1.4 0M503.9 213.8a.7 .7 0 1 0 1.4 0a.7 .7 0 1 0 -1.4 0M531.7 201.5a.7 .7 0 1 0 1.4 0a.7 .7 0 1 0 -1.4 0M533.0 186.2a.7 .7 0 1 0 1.4 0a.7 .7 0 1 0 -1.4 0M530.0 172.3a.7 .7 0 1 0 1.4 0a.7 .7 0 1 0 -1.4 0M530.8 200.7a.7 .7 0 1 0 1.4 0a.7 .7 0 1 0 -1.4 0M529.8 130.9a.7 .7 0 1 0 1.4 0a.7 .7 0 1 0 -1.4 0M531.3 175.3a.7 .7 0 1 0 1.4 0a.7 .7 0 1 0 -1.4 0M531.1 161.8a.7 .7 0 1 0 1.4 0a.7 .7 0 1 0 -1.4 0M531.2 193.3a.7 .7 0 1 0 1.4 0a.7 .7 0 1 0 -1.4 0M530.0 124.1a.7 .7 0 1 0 1.4 0a.7 .7 0 1 0 -1.4 0M531.3 164.0a.7 .7 0 1 0 1.4 0a.7 .7 0 1 0 -1.4 0M529.9 187.5a.7 .7 0 1 0 1.4 0a.7 .7 0 1 0 -1.4 0M530.1 99.5a.7 .7 0 1 0 1.4 0a.7 .7 0 1 0 -1.4 0M531.7 163.8a.7 .7 0 1 0 1.4 0a.7 .7 0 1 0 -1.4 0M532.8 135.2a.7 .7 0 1 0 1.4 0a.7 .7 0 1 0 -1.4 0M531.3 203.9a.7 .7 0 1 0 1.4 0a.7 .7 0 1 0 -1.4 0M530.8 166.4a.7 .7 0 1 0 1.4 0a.7 .7 0 1 0 -1.4 0M531.5 123.6a.7 .7 0 1 0 1.4 0a.7 .7 0 1 0 -1.4 0M529.0 181.7a.7 .7 0 1 0 1.4 0a.7 .7 0 1 0 -1.4 0M532.7 205.0a.7 .7 0 1 0 1.4 0a.7 .7 0 1 0 -1.4 0M531.9 130.5a.7 .7 0 1 0 1.4 0a.7 .7 0 1 0 -1.4 0M533.4 199.8a.7 .7 0 1 0 1.4 0a.7 .7 0 1 0 -1.4 0M530.2 177.8a.7 .7 0 1 0 1.4 0a.7 .7 0 1 0 -1.4 0M530.8 205.0a.7 .7 0 1 0 1.4 0a.7 .7 0 1 0 -1.4 0"/>
<path d="M313.7 209.3a.7 .7 0 1 0 1.4 0a.7 .7 0 1 0 -1.4 0M310.6 214.9a.7 .7 0 1 0 1.4 0a.7 .7 0 1 0 -1.4 0M310.8 212.1a.7 .7 0 1 0 1.4 0a.7 .7 0 1 0 -1.4 0M313.7 211.2a.7 .7 0 1 0 1.4 0a.7 .7 0 1 0 -1.4 0M311.4 214.0a.7 .7 0 1 0 1.4 0a.7 .7 0 1 0 -1.4 0M337.9 212.4a.7 .7 0 1 0 1.4 0a.7 .7 0 1 0 -1.4 0M334.8 205.8a.7 .7 0 1 0 1.4 0a.7 .7 0 1 0 -1.4 0M335.5 211.6a.7 .7 0 1 0 1.4 0a.7 .7 0 1 0 -1.4 0M337.6 203.9a.7 .7 0 1 0 1.4 0a.7 .7 0 1 0 -1.4 0M338.6 208.9a.7 .7 0 1 0 1.4 0a.7 .7 0 1 0 -1.4 0M337.4 203.9a.7 .7 0 1 0 1.4 0a.7 .7 0 1 0 -1.4 0M338.0 203.6a.7 .7 0 1 0 1.4 0a.7 .7 0 1 0 -1.4 0M334.9 213.3a.7 .7 0 1 0 1.4 0a.7 .7 0 1 0 -1.4 0M359.0 207.4a.7 .7 0 1 0 1.4 0a.7 .7 0 1 0 -1.4 0M362.7 208.8a.7 .7 0 1 0 1.4 0a.7 .7 0 1 0 -1.4 0M360.9 208.9a.7 .7 0 1 0 1.4 0a.7 .7 0 1 0 -1.4 0M360.3 206.8a.7 .7 0 1 0 1.4 0a.7 .7 0 1 0 -1.4 0M360.1 209.8a.7 .7 0 1 0 1.4 0a.7 .7 0 1 0 -1.4 0M360.0 205.2a.7 .7 0 1 0 1.4 0a.7 .7 0 1 0 -1.4 0M362.8 202.5a.7 .7 0 1 0 1.4 0a.7 .7 0 1 0 -1.4 0M384.3 200.1a.7 .7 0 1 0 1.4 0a.7 .7 0 1 0 -1.4 0M384.4 201.5a.7 .7 0 1 0 1.4 0a.7 .7 0 1 0 -1.4 0M383.5 207.3a.7 .7 0 1 0 1.4 0a.7 .7 0 1 0 -1.4 0M384.2 203.0a.7 .7 0 1 0 1.4 0a.7 .7 0 1 0 -1.4 0M386.1 207.1a.7 .7 0 1 0 1.4 0a.7 .7 0 1 0 -1.4 0M385.1 214.3a.7 .7 0 1 0 1.4 0a.7 .7 0 1 0 -1.4 0M386.6 205.3a.7 .7 0 1 0 1.4 0a.7 .7 0 1 0 -1.4 0M385.8 211.3a.7 .7 0 1 0 1.4 0a.7 .7 0 1 0 -1.4 0M386.1 191.8a.7 .7 0 1 0 1.4 0a.7 .7 0 1 0 -1.4 0M383.4 206.8a.7 .7 0 1 0 1.4 0a.7 .7 0 1 0 -1.4 0M383.3 209.9a.7 .7 0 1 0 1.4 0a.7 .7 0 1 0 -1.4 0M384.1 193.2a.7 .7 0 1 0 1.4 0a.7 .7 0 1 0 -1.4 0M409.4 212.4a.7 .7 0 1 0 1.4 0a.7 .7 0 1 0 -1.4 0M410.2 207.7a.7 .7 0 1 0 1.4 0a.7 .7 0 1 0 -1.4 0M411.2 212.5a.7 .7 0 1 0 1.4 0a.7 .7 0 1 0 -1.4 0M410.4 214.1a.7 .7 0 1 0 1.4 0a.7 .7 0 1 0 -1.4 0M409.9 207.1a.7 .7 0 1 0 1.4 0a.7 .7 0 1 0 -1.4 0M408.4 209.3a.7 .7 0 1 0 1.4 0a.7 .7 0 1 0 -1.4 0M407.7 210.3a.7 .7 0 1 0 1.4 0a.7 .7 0 1 0 -1.4 0M434.0 209.9a.7 .7 0 1 0 1.4 0a.7 .7 0 1 0 -1.4 0M433.3 209.7a.7 .7 0 1 0 1.4 0a.7 .7 0 1 0 -1.4 0M432.3 206.1a.7 .7 0 1 0 1.4 0a.7 .7 0 1 0 -1.4 0M433.6 211.6a.7 .7 0 1 0 1.4 0a.7 .7 0 1 0 -1.4 0M432.9 210.0a.7 .7 0 1 0 1.4 0a.7 .7 0 1 0 -1.4 0M432.9 210.6a.7 .7 0 1 0 1.4 0a.7 .7 0 1 0 -1.4 0M458.2 209.3a.7 .7 0 1 0 1.4 0a.7 .7 0 1 0 -1.4 0M457.4 147.7a.7 .7 0 1 0 1.4 0a.7 .7 0 1 0 -1.4 0M455.9 158.5a.7 .7 0 1 0 1.4 0a.7 .7 0 1 0 -1.4 0M458.7 202.2a.7 .7 0 1 0 1.4 0a.7 .7 0 1 0 -1.4 0M460.2 175.1a.7 .7 0 1 0 1.4 0a.7 .7 0 1 0 -1.4 0M459.1 203.8a.7 .7 0 1 0 1.4 0a.7 .7 0 1 0 -1.4 0M457.5 133.8a.7 .7 0 1 0 1.4 0a.7 .7 0 1 0 -1.4 0M459.9 213.9a.7 .7 0 1 0 1.4 0a.7 .7 0 1 0 -1.4 0M458.3 150.4a.7 .7 0 1 0 1.4 0a.7 .7 0 1 0 -1.4 0M459.7 194.6a.7 .7 0 1 0 1.4 0a.7 .7 0 1 0 -1.4 0M459.3 187.9a.7 .7 0 1 0 1.4 0a.7 .7 0 1 0 -1.4 0M460.8 209.7a.7 .7 0 1 0 1.4 0a.7 .7 0 1 0 -1.4 0M460.2 143.3a.7 .7 0 1 0 1.4 0a.7 .7 0 1 0 -1.4 0M456.9 155.1a.7 .7 0 1 0 1.4 0a.7 .7 0 1 0 -1.4 0M458.4 187.8a.7 .7 0 1 0 1.4 0a.7 .7 0 1 0 -1.4 0M457.3 136.3a.7 .7 0 1 0 1.4 0a.7 .7 0 1 0 -1.4 0M456.6 193.6a.7 .7 0 1 0 1.4 0a.7 .7 0 1 0 -1.4 0M455.9 200.6a.7 .7 0 1 0 1.4 0a.7 .7 0 1 0 -1.4 0M460.3 176.9a.7 .7 0 1 0 1.4 0a.7 .7 0 1 0 -1.4 0M457.4 184.1a.7 .7 0 1 0 1.4 0a.7 .7 0 1 0 -1.4 0M459.3 168.5a.7 .7 0 1 0 1.4 0a.7 .7 0 1 0 -1.4 0M460.1 208.7a.7 .7 0 1 0 1.4 0a.7 .7 0 1 0 -1.4 0M457.1 189.9a.7 .7 0 1 0 1.4 0a.7 .7 0 1 0 -1.4 0M459.5 138.4a.7 .7 0 1 0 1.4 0a.7 .7 0 1 0 -1.4 0M456.5 210.3a.7 .7 0 1 0 1.4 0a.7 .7 0 1 0 -1.4 0M457.1 138.6a.7 .7 0 1 0 1.4 0a.7 .7 0 1 0 -1.4 0M456.3 129.0a.7 .7 0 1 0 1.4 0a.7 .7 0 1 0 -1.4 0M456.6 184.5a.7 .7 0 1 0 1.4 0a.7 .7 0 1 0 -1.4 0M458.8 173.4a.7 .7 0 1 0 1.4 0a.7 .7 0 1 0 -1.4 0M457.3 184.2a.7 .7 0 1 0 1.4 0a.7 .7 0 1 0 -1.4 0M456.8 182.9a.7 .7 0 1 0 1.4 0a.7 .7 0 1 0 -1.4 0M458.7 155.8a.7 .7 0 1 0 1.4 0a.7 .7 0 1 0 -1.4 0M457.6 210.3a.7 .7 0 1 0 1.4 0a.7 .7 0 1 0 -1.4 0M456.7 191.8a.7 .7 0 1 0 1.4 0a.7 .7 0 1 0 -1.4 0M459.7 175.9a.7 .7 0 1 0 1.4 0a.7 .7 0 1 0 -1.4 0M456.5 180.1a.7 .7 0 1 0 1.4 0a.7 .7 0 1 0 -1.4 0M457.9 182.9a.7 .7 0 1 0 1.4 0a.7 .7 0 1 0 -1.4 0M457.2 208.1a.7 .7 0 1 0 1.4 0a.7 .7 0 1 0 -1.4 0M459.3 215.5a.7 .7 0 1 0 1.4 0a.7 .7 0 1 0 -1.4 0M458.4 213.4a.7 .7 0 1 0 1.4 0a.7 .7 0 1 0 -1.4 0M455.4 209.0a.7 .7 0 1 0 1.4 0a.7 .7 0 1 0 -1.4 0M457.5 215.0a.7 .7 0 1 0 1.4 0a.7 .7 0 1 0 -1.4 0M459.6 192.3a.7 .7 0 1 0 1.4 0a.7 .7 0 1 0 -1.4 0M456.2 206.7a.7 .7 0 1 0 1.4 0a.7 .7 0 1 0 -1.4 0M456.0 213.2a.7 .7 0 1 0 1.4 0a.7 .7 0 1 0 -1.4 0M458.5 194.5a.7 .7 0 1 0 1.4 0a.7 .7 0 1 0 -1.4 0M458.6 201.7a.7 .7 0 1 0 1.4 0a.7 .7 0 1 0 -1.4 0M455.8 209.4a.7 .7 0 1 0 1.4 0a.7 .7 0 1 0 -1.4 0M457.0 208.6a.7 .7 0 1 0 1.4 0a.7 .7 0 1 0 -1.4 0M457.4 192.5a.7 .7 0 1 0 1.4 0a.7 .7 0 1 0 -1.4 0M480.9 213.8a.7 .7 0 1 0 1.4 0a.7 .7 0 1 0 -1.4 0M481.8 118.6a.7 .7 0 1 0 1.4 0a.7 .7 0 1 0 -1.4 0M481.4 153.6a.7 .7 0 1 0 1.4 0a.7 .7 0 1 0 -1.4 0M480.8 212.1a.7 .7 0 1 0 1.4 0a.7 .7 0 1 0 -1.4 0M482.7 147.0a.7 .7 0 1 0 1.4 0a.7 .7 0 1 0 -1.4 0M481.8 144.8a.7 .7 0 1 0 1.4 0a.7 .7 0 1 0 -1.4 0M482.6 214.1a.7 .7 0 1 0 1.4 0a.7 .7 0 1 0 -1.4 0M481.2 185.2a.7 .7 0 1 0 1.4 0a.7 .7 0 1 0 -1.4 0M482.7 132.7a.7 .7 0 1 0 1.4 0a.7 .7 0 1 0 -1.4 0M480.0 204.7a.7 .7 0 1 0 1.4 0a.7 .7 0 1 0 -1.4 0M482.7 109.7a.7 .7 0 1 0 1.4 0a.7 .7 0 1 0 -1.4 0M483.1 176.2a.7 .7 0 1 0 1.4 0a.7 .7 0 1 0 -1.4 0M483.0 124.3a.7 .7 0 1 0 1.4 0a.7 .7 0 1 0 -1.4 0M481.6 203.7a.7 .7 0 1 0 1.4 0a.7 .7 0 1 0 -1.4 0M480.0 172.9a.7 .7 0 1 0 1.4 0a.7 .7 0 1 0 -1.4 0M484.4 213.7a.7 .7 0 1 0 1.4 0a.7 .7 0 1 0 -1.4 0M479.8 206.0a.7 .7 0 1 0 1.4 0a.7 .7 0 1 0 -1.4 0M484.3 189.0a.7 .7 0 1 0 1.4 0a.7 .7 0 1 0 -1.4 0M484.3 181.7a.7 .7 0 1 0 1.4 0a.7 .7 0 1 0 -1.4 0M482.2 173.9a.7 .7 0 1 0 1.4 0a.7 .7 0 1 0 -1.4 0M480.5 191.1a.7 .7 0 1 0 1.4 0a.7 .7 0 1 0 -1.4 0M481.7 212.2a.7 .7 0 1 0 1.4 0a.7 .7 0 1 0 -1.4 0M480.7 167.3a.7 .7 0 1 0 1.4 0a.7 .7 0 1 0 -1.4 0M480.3 184.6a.7 .7 0 1 0 1.4 0a.7 .7 0 1 0 -1.4 0M484.1 173.2a.7 .7 0 1 0 1.4 0a.7 .7 0 1 0 -1.4 0M483.3 194.6a.7 .7 0 1 0 1.4 0a.7 .7 0 1 0 -1.4 0M482.9 202.3a.7 .7 0 1 0 1.4 0a.7 .7 0 1 0 -1.4 0M484.6 214.4a.7 .7 0 1 0 1.4 0a.7 .7 0 1 0 -1.4 0M483.6 136.1a.7 .7 0 1 0 1.4 0a.7 .7 0 1 0 -1.4 0M485.1 208.0a.7 .7 0 1 0 1.4 0a.7 .7 0 1 0 -1.4 0M485.0 206.3a.7 .7 0 1 0 1.4 0a.7 .7 0 1 0 -1.4 0M485.0 182.2a.7 .7 0 1 0 1.4 0a.7 .7 0 1 0 -1.4 0M483.7 175.2a.7 .7 0 1 0 1.4 0a.7 .7 0 1 0 -1.4 0M483.1 155.5a.7 .7 0 1 0 1.4 0a.7 .7 0 1 0 -1.4 0M482.4 204.1a.7 .7 0 1 0 1.4 0a.7 .7 0 1 0 -1.4 0M483.8 177.7a.7 .7 0 1 0 1.4 0a.7 .7 0 1 0 -1.4 0M484.4 180.3a.7 .7 0 1 0 1.4 0a.7 .7 0 1 0 -1.4 0M481.3 208.5a.7 .7 0 1 0 1.4 0a.7 .7 0 1 0 -1.4 0M483.7 195.9a.7 .7 0 1 0 1.4 0a.7 .7 0 1 0 -1.4 0M483.3 214.6a.7 .7 0 1 0 1.4 0a.7 .7 0 1 0 -1.4 0M484.1 215.3a.7 .7 0 1 0 1.4 0a.7 .7 0 1 0 -1.4 0M484.5 194.8a.7 .7 0 1 0 1.4 0a.7 .7 0 1 0 -1.4 0M481.8 214.5a.7 .7 0 1 0 1.4 0a.7 .7 0 1 0 -1.4 0M479.7 213.8a.7 .7 0 1 0 1.4 0a.7 .7 0 1 0 -1.4 0M484.4 188.2a.7 .7 0 1 0 1.4 0a.7 .7 0 1 0 -1.4 0M484.1 188.5a.7 .7 0 1 0 1.4 0a.7 .7 0 1 0 -1.4 0M484.8 199.9a.7 .7 0 1 0 1.4 0a.7 .7 0 1 0 -1.4 0M484.6 202.9a.7 .7 0 1 0 1.4 0a.7 .7 0 1 0 -1.4 0M484.5 184.3a.7 .7 0 1 0 1.4 0a.7 .7 0 1 0 -1.4 0M505.2 115.6a.7 .7 0 1 0 1.4 0a.7 .7 0 1 0 -1.4 0M506.8 144.4a.7 .7 0 1 0 1.4 0a.7 .7 0 1 0 -1.4 0M505.7 205.2a.7 .7 0 1 0 1.4 0a.7 .7 0 1 0 -1.4 0M504.4 162.7a.7 .7 0 1 0 1.4 0a.7 .7 0 1 0 -1.4 0M505.4 184.4a.7 .7 0 1 0 1.4 0a.7 .7 0 1 0 -1.4 0M507.6 167.9a.7 .7 0 1 0 1.4 0a.7 .7 0 1 0 -1.4 0M506.0 215.3a.7 .7 0 1 0 1.4 0a.7 .7 0 1 0 -1.4 0M506.0 212.0a.7 .7 0 1 0 1.4 0a.7 .7 0 1 0 -1.4 0M506.6 215.5a.7 .7 0 1 0 1.4 0a.7 .7 0 1 0 -1.4 0M507.0 177.6a.7 .7 0 1 0 1.4 0a.7 .7 0 1 0 -1.4 0M504.6 149.7a.7 .7 0 1 0 1.4 0a.7 .7 0 1 0 -1.4 0M506.7 92.7a.7 .7 0 1 0 1.4 0a.7 .7 0 1 0 -1.4 0M507.2 92.2a.7 .7 0 1 0 1.4 0a.7 .7 0 1 0 -1.4 0M506.4 114.2a.7 .7 0 1 0 1.4 0a.7 .7 0 1 0 -1.4 0M505.5 161.0a.7 .7 0 1 0 1.4 0a.7 .7 0 1 0 -1.4 0M507.1 115.0a.7 .7 0 1 0 1.4 0a.7 .7 0 1 0 -1.4 0M507.8 199.3a.7 .7 0 1 0 1.4 0a.7 .7 0 1 0 -1.4 0M509.3 207.3a.7 .7 0 1 0 1.4 0a.7 .7 0 1 0 -1.4 0M507.8 145.9a.7 .7 0 1 0 1.4 0a.7 .7 0 1 0 -1.4 0M508.7 167.7a.7 .7 0 1 0 1.4 0a.7 .7 0 1 0 -1.4 0M506.4 151.2a.7 .7 0 1 0 1.4 0a.7 .7 0 1 0 -1.4 0M505.6 142.7a.7 .7 0 1 0 1.4 0a.7 .7 0 1 0 -1.4 0M506.7 115.1a.7 .7 0 1 0 1.4 0a.7 .7 0 1 0 -1.4 0M506.6 213.1a.7 .7 0 1 0 1.4 0a.7 .7 0 1 0 -1.4 0M506.6 193.0a.7 .7 0 1 0 1.4 0a.7 .7 0 1 0 -1.4 0M508.0 215.0a.7 .7 0 1 0 1.4 0a.7 .7 0 1 0 -1.4 0M507.1 180.7a.7 .7 0 1 0 1.4 0a.7 .7 0 1 0 -1.4 0M507.3 188.6a.7 .7 0 1 0 1.4 0a.7 .7 0 1 0 -1.4 0M505.3 175.6a.7 .7 0 1 0 1.4 0a.7 .7 0 1 0 -1.4 0M507.5 149.4a.7 .7 0 1 0 1.4 0a.7 .7 0 1 0 -1.4 0M504.9 195.4a.7 .7 0 1 0 1.4 0a.7 .7 0 1 0 -1.4 0M506.6 118.0a.7 .7 0 1 0 1.4 0a.7 .7 0 1 0 -1.4 0M508.2 161.4a.7 .7 0 1 0 1.4 0a.7 .7 0 1 0 -1.4 0M507.3 107.8a.7 .7 0 1 0 1.4 0a.7 .7 0 1 0 -1.4 0M507.1 111.1a.7 .7 0 1 0 1.4 0a.7 .7 0 1 0 -1.4 0M508.1 92.1a.7 .7 0 1 0 1.4 0a.7 .7 0 1 0 -1.4 0M505.5 173.9a.7 .7 0 1 0 1.4 0a.7 .7 0 1 0 -1.4 0M509.1 215.3a.7 .7 0 1 0 1.4 0a.7 .7 0 1 0 -1.4 0M508.6 215.5a.7 .7 0 1 0 1.4 0a.7 .7 0 1 0 -1.4 0M504.6 212.1a.7 .7 0 1 0 1.4 0a.7 .7 0 1 0 -1.4 0M504.0 204.6a.7 .7 0 1 0 1.4 0a.7 .7 0 1 0 -1.4 0M505.3 207.3a.7 .7 0 1 0 1.4 0a.7 .7 0 1 0 -1.4 0M508.2 212.5a.7 .7 0 1 0 1.4 0a.7 .7 0 1 0 -1.4 0M506.0 204.2a.7 .7 0 1 0 1.4 0a.7 .7 0 1 0 -1.4 0M506.4 194.5a.7 .7 0 1 0 1.4 0a.7 .7 0 1 0 -1.4 0M505.7 164.3a.7 .7 0 1 0 1.4 0a.7 .7 0 1 0 -1.4 0M505.6 207.4a.7 .7 0 1 0 1.4 0a.7 .7 0 1 0 -1.4 0M507.2 162.5a.7 .7 0 1 0 1.4 0a.7 .7 0 1 0 -1.4 0M507.0 200.0a.7 .7 0 1 0 1.4 0a.7 .7 0 1 0 -1.4 0M505.6 184.0a.7 .7 0 1 0 1.4 0a.7 .7 0 1 0 -1.4 0M507.2 177.4a.7 .7 0 1 0 1.4 0a.7 .7 0 1 0 -1.4 0M505.3 214.0a.7 .7 0 1 0 1.4 0a.7 .7 0 1 0 -1.4 0M505.0 207.0a.7 .7 0 1 0 1.4 0a.7 .7 0 1 0 -1.4 0M509.1 205.1a.7 .7 0 1 0 1.4 0a.7 .7 0 1 0 -1.4 0M506.0 165.0a.7 .7 0 1 0 1.4 0a.7 .7 0 1 0 -1.4 0M504.4 214.3a.7 .7 0 1 0 1.4 0a.7 .7 0 1 0 -1.4 0M506.2 186.8a.7 .7 0 1 0 1.4 0a.7 .7 0 1 0 -1.4 0M530.9 205.4a.7 .7 0 1 0 1.4 0a.7 .7 0 1 0 -1.4 0M532.9 173.4a.7 .7 0 1 0 1.4 0a.7 .7 0 1 0 -1.4 0M531.4 205.8a.7 .7 0 1 0 1.4 0a.7 .7 0 1 0 -1.4 0M531.0 205.7a.7 .7 0 1 0 1.4 0a.7 .7 0 1 0 -1.4 0M530.0 147.9a.7 .7 0 1 0 1.4 0a.7 .7 0 1 0 -1.4 0M532.5 153.2a.7 .7 0 1 0 1.4 0a.7 .7 0 1 0 -1.4 0M530.8 143.3a.7 .7 0 1 0 1.4 0a.7 .7 0 1 0 -1.4 0M529.0 178.4a.7 .7 0 1 0 1.4 0a.7 .7 0 1 0 -1.4 0M528.4 178.2a.7 .7 0 1 0 1.4 0a.7 .7 0 1 0 -1.4 0M531.7 143.3a.7 .7 0 1 0 1.4 0a.7 .7 0 1 0 -1.4 0M531.4 199.2a.7 .7 0 1 0 1.4 0a.7 .7 0 1 0 -1.4 0M533.4 159.9a.7 .7 0 1 0 1.4 0a.7 .7 0 1 0 -1.4 0M533.5 197.8a.7 .7 0 1 0 1.4 0a.7 .7 0 1 0 -1.4 0M531.8 165.6a.7 .7 0 1 0 1.4 0a.7 .7 0 1 0 -1.4 0M533.2 156.6a.7 .7 0 1 0 1.4 0a.7 .7 0 1 0 -1.4 0M530.3 198.4a.7 .7 0 1 0 1.4 0a.7 .7 0 1 0 -1.4 0M529.0 171.6a.7 .7 0 1 0 1.4 0a.7 .7 0 1 0 -1.4 0M531.2 117.2a.7 .7 0 1 0 1.4 0a.7 .7 0 1 0 -1.4 0M528.6 153.6a.7 .7 0 1 0 1.4 0a.7 .7 0 1 0 -1.4 0M531.8 150.1a.7 .7 0 1 0 1.4 0a.7 .7 0 1 0 -1.4 0M531.0 121.6a.7 .7 0 1 0 1.4 0a.7 .7 0 1 0 -1.4 0M532.7 107.3a.7 .7 0 1 0 1.4 0a.7 .7 0 1 0 -1.4 0M530.1 196.9a.7 .7 0 1 0 1.4 0a.7 .7 0 1 0 -1.4 0M529.9 102.4a.7 .7 0 1 0 1.4 0a.7 .7 0 1 0 -1.4 0M532.4 196.2a.7 .7 0 1 0 1.4 0a.7 .7 0 1 0 -1.4 0M531.9 178.9a.7 .7 0 1 0 1.4 0a.7 .7 0 1 0 -1.4 0M533.5 203.2a.7 .7 0 1 0 1.4 0a.7 .7 0 1 0 -1.4 0M530.7 200.9a.7 .7 0 1 0 1.4 0a.7 .7 0 1 0 -1.4 0M529.0 162.2a.7 .7 0 1 0 1.4 0a.7 .7 0 1 0 -1.4 0M530.3 178.1a.7 .7 0 1 0 1.4 0a.7 .7 0 1 0 -1.4 0"/>
<path d="M310.5 209.1a.7 .7 0 1 0 1.4 0a.7 .7 0 1 0 -1.4 0M314.2 214.2a.7 .7 0 1 0 1.4 0a.7 .7 0 1 0 -1.4 0M310.8 209.6a.7 .7 0 1 0 1.4 0a.7 .7 0 1 0 -1.4 0M312.0 212.6a.7 .7 0 1 0 1.4 0a.7 .7 0 1 0 -1.4 0M310.8 212.3a.7 .7 0 1 0 1.4 0a.7 .7 0 1 0 -1.4 0M312.8 215.1a.7 .7 0 1 0 1.4 0a.7 .7 0 1 0 -1.4 0M310.6 212.6a.7 .7 0 1 0 1.4 0a.7 .7 0 1 0 -1.4 0M314.3 214.9a.7 .7 0 1 0 1.4 0a.7 .7 0 1 0 -1.4 0M313.6 210.8a.7 .7 0 1 0 1.4 0a.7 .7 0 1 0 -1.4 0M336.6 210.5a.7 .7 0 1 0 1.4 0a.7 .7 0 1 0 -1.4 0M336.7 212.8a.7 .7 0 1 0 1.4 0a.7 .7 0 1 0 -1.4 0M337.6 205.7a.7 .7 0 1 0 1.4 0a.7 .7 0 1 0 -1.4 0M338.3 206.4a.7 .7 0 1 0 1.4 0a.7 .7 0 1 0 -1.4 0M337.1 202.6a.7 .7 0 1 0 1.4 0a.7 .7 0 1 0 -1.4 0M335.9 214.5a.7 .7 0 1 0 1.4 0a.7 .7 0 1 0 -1.4 0M335.5 213.6a.7 .7 0 1 0 1.4 0a.7 .7 0 1 0 -1.4 0M361.2 205.4a.7 .7 0 1 0 1.4 0a.7 .7 0 1 0 -1.4 0M360.8 213.6a.7 .7 0 1 0 1.4 0a.7 .7 0 1 0 -1.4 0M362.9 212.3a.7 .7 0 1 0 1.4 0a.7 .7 0 1 0 -1.4 0M358.9 208.5a.7 .7 0 1 0 1.4 0a.7 .7 0 1 0 -1.4 0M361.0 215.1a.7 .7 0 1 0 1.4 0a.7 .7 0 1 0 -1.4 0M360.7 202.8a.7 .7 0 1 0 1.4 0a.7 .7 0 1 0 -1.4 0M358.9 204.4a.7 .7 0 1 0 1.4 0a.7 .7 0 1 0 -1.4 0M360.4 203.7a.7 .7 0 1 0 1.4 0a.7 .7 0 1 0 -1.4 0M361.4 204.8a.7 .7 0 1 0 1.4 0a.7 .7 0 1 0 -1.4 0M386.0 193.6a.7 .7 0 1 0 1.4 0a.7 .7 0 1 0 -1.4 0M383.1 214.6a.7 .7 0 1 0 1.4 0a.7 .7 0 1 0 -1.4 0M385.4 196.3a.7 .7 0 1 0 1.4 0a.7 .7 0 1 0 -1.4 0M383.7 211.5a.7 .7 0 1 0 1.4 0a.7 .7 0 1 0 -1.4 0M386.7 203.0a.7 .7 0 1 0 1.4 0a.7 .7 0 1 0 -1.4 0M385.1 214.4a.7 .7 0 1 0 1.4 0a.7 .7 0 1 0 -1.4 0M385.6 194.3a.7 .7 0 1 0 1.4 0a.7 .7 0 1 0 -1.4 0M387.2 187.8a.7 .7 0 1 0 1.4 0a.7 .7 0 1 0 -1.4 0M384.8 202.0a.7 .7 0 1 0 1.4 0a.7 .7 0 1 0 -1.4 0M409.7 211.6a.7 .7 0 1 0 1.4 0a.7 .7 0 1 0 -1.4 0M407.5 214.6a.7 .7 0 1 0 1.4 0a.7 .7 0 1 0 -1.4 0M408.9 211.1a.7 .7 0 1 0 1.4 0a.7 .7 0 1 0 -1.4 0M431.9 208.5a.7 .7 0 1 0 1.4 0a.7 .7 0 1 0 -1.4 0M434.0 214.7a.7 .7 0 1 0 1.4 0a.7 .7 0 1 0 -1.4 0M435.6 210.0a.7 .7 0 1 0 1.4 0a.7 .7 0 1 0 -1.4 0M457.3 176.1a.7 .7 0 1 0 1.4 0a.7 .7 0 1 0 -1.4 0M460.9 206.4a.7 .7 0 1 0 1.4 0a.7 .7 0 1 0 -1.4 0M460.3 203.8a.7 .7 0 1 0 1.4 0a.7 .7 0 1 0 -1.4 0M456.6 176.7a.7 .7 0 1 0 1.4 0a.7 .7 0 1 0 -1.4 0M457.0 201.7a.7 .7 0 1 0 1.4 0a.7 .7 0 1 0 -1.4 0M459.4 161.7a.7 .7 0 1 0 1.4 0a.7 .7 0 1 0 -1.4 0M457.3 213.6a.7 .7 0 1 0 1.4 0a.7 .7 0 1 0 -1.4 0M458.4 133.0a.7 .7 0 1 0 1.4 0a.7 .7 0 1 0 -1.4 0M456.6 208.9a.7 .7 0 1 0 1.4 0a.7 .7 0 1 0 -1.4 0M457.8 215.1a.7 .7 0 1 0 1.4 0a.7 .7 0 1 0 -1.4 0M456.4 151.6a.7 .7 0 1 0 1.4 0a.7 .7 0 1 0 -1.4 0M455.5 203.2a.7 .7 0 1 0 1.4 0a.7 .7 0 1 0 -1.4 0M460.2 215.4a.7 .7 0 1 0 1.4 0a.7 .7 0 1 0 -1.4 0M458.8 156.7a.7 .7 0 1 0 1.4 0a.7 .7 0 1 0 -1.4 0M458.3 138.3a.7 .7 0 1 0 1.4 0a.7 .7 0 1 0 -1.4 0M458.5 193.9a.7 .7 0 1 0 1.4 0a.7 .7 0 1 0 -1.4 0M458.6 180.8a.7 .7 0 1 0 1.4 0a.7 .7 0 1 0 -1.4 0M456.1 207.5a.7 .7 0 1 0 1.4 0a.7 .7 0 1 0 -1.4 0M457.5 205.7a.7 .7 0 1 0 1.4 0a.7 .7 0 1 0 -1.4 0M460.3 154.7a.7 .7 0 1 0 1.4 0a.7 .7 0 1 0 -1.4 0M458.7 184.1a.7 .7 0 1 0 1.4 0a.7 .7 0 1 0 -1.4 0M457.9 196.5a.7 .7 0 1 0 1.4 0a.7 .7 0 1 0 -1.4 0M457.2 135.7a.7 .7 0 1 0 1.4 0a.7 .7 0 1 0 -1.4 0M456.2 164.6a.7 .7 0 1 0 1.4 0a.7 .7 0 1 0 -1.4 0M457.3 207.1a.7 .7 0 1 0 1.4 0a.7 .7 0 1 0 -1.4 0M456.8 147.7a.7 .7 0 1 0 1.4 0a.7 .7 0 1 0 -1.4 0M460.4 191.0a.7 .7 0 1 0 1.4 0a.7 .7 0 1 0 -1.4 0M456.3 214.2a.7 .7 0 1 0 1.4 0a.7 .7 0 1 0 -1.4 0M456.9 170.1a.7 .7 0 1 0 1.4 0a.7 .7 0 1 0 -1.4 0M458.7 162.0a.7 .7 0 1 0 1.4 0a.7 .7 0 1 0 -1.4 0M456.6 161.8a.7 .7 0 1 0 1.4 0a.7 .7 0 1 0 -1.4 0M460.1 144.1a.7 .7 0 1 0 1.4 0a.7 .7 0 1 0 -1.4 0M459.4 215.1a.7 .7 0 1 0 1.4 0a.7 .7 0 1 0 -1.4 0M456.0 208.5a.7 .7 0 1 0 1.4 0a.7 .7 0 1 0 -1.4 0M457.1 182.4a.7 .7 0 1 0 1.4 0a.7 .7 0 1 0 -1.4 0M459.7 136.6a.7 .7 0 1 0 1.4 0a.7 .7 0 1 0 -1.4 0M458.8 188.7a.7 .7 0 1 0 1.4 0a.7 .7 0 1 0 -1.4 0M459.8 183.1a.7 .7 0 1 0 1.4 0a.7 .7 0 1 0 -1.4 0M455.8 164.5a.7 .7 0 1 0 1.4 0a.7 .7 0 1 0 -1.4 0M459.4 194.5a.7 .7 0 1 0 1.4 0a.7 .7 0 1 0 -1.4 0M459.1 210.4a.7 .7 0 1 0 1.4 0a.7 .7 0 1 0 -1.4 0M457.1 177.1a.7 .7 0 1 0 1.4 0a.7 .7 0 1 0 -1.4 0M460.3 192.0a.7 .7 0 1 0 1.4 0a.7 .7 0 1 0 -1.4 0M458.3 169.1a.7 .7 0 1 0 1.4 0a.7 .7 0 1 0 -1.4 0M459.1 203.9a.7 .7 0 1 0 1.4 0a.7 .7 0 1 0 -1.4 0M459.6 195.2a.7 .7 0 1 0 1.4 0a.7 .7 0 1 0 -1.4 0M456.0 150.6a.7 .7 0 1 0 1.4 0a.7 .7 0 1 0 -1.4 0M459.1 207.8a.7 .7 0 1 0 1.4 0a.7 .7 0 1 0 -1.4 0M458.0 207.0a.7 .7 0 1 0 1.4 0a.7 .7 0 1 0 -1.4 0M459.8 214.7a.7 .7 0 1 0 1.4 0a.7 .7 0 1 0 -1.4 0M457.9 208.5a.7 .7 0 1 0 1.4 0a.7 .7 0 1 0 -1.4 0M459.6 205.7a.7 .7 0 1 0 1.4 0a.7 .7 0 1 0 -1.4 0M456.1 215.0a.7 .7 0 1 0 1.4 0a.7 .7 0 1 0 -1.4 0M459.6 209.6a.7 .7 0 1 0 1.4 0a.7 .7 0 1 0 -1.4 0M456.7 214.0a.7 .7 0 1 0 1.4 0a.7 .7 0 1 0 -1.4 0M456.3 213.2a.7 .7 0 1 0 1.4 0a.7 .7 0 1 0 -1.4 0M459.7 215.4a.7 .7 0 1 0 1.4 0a.7 .7 0 1 0 -1.4 0M458.4 205.4a.7 .7 0 1 0 1.4 0a.7 .7 0 1 0 -1.4 0M455.8 207.2a.7 .7 0 1 0 1.4 0a.7 .7 0 1 0 -1.4 0M460.0 201.8a.7 .7 0 1 0 1.4 0a.7 .7 0 1 0 -1.4 0M484.0 126.6a.7 .7 0 1 0 1.4 0a.7 .7 0 1 0 -1.4 0M482.3 146.3a.7 .7 0 1 0 1.4 0a.7 .7 0 1 0 -1.4 0M482.8 197.5a.7 .7 0 1 0 1.4 0a.7 .7 0 1 0 -1.4 0M483.7 147.6a.7 .7 0 1 0 1.4 0a.7 .7 0 1 0 -1.4 0M480.0 215.3a.7 .7 0 1 0 1.4 0a.7 .7 0 1 0 -1.4 0M483.1 117.2a.7 .7 0 1 0 1.4 0a.7 .7 0 1 0 -1.4 0M480.4 156.0a.7 .7 0 1 0 1.4 0a.7 .7 0 1 0 -1.4 0M482.6 124.3a.7 .7 0 1 0 1.4 0a.7 .7 0 1 0 -1.4 0M481.1 166.3a.7 .7 0 1 0 1.4 0a.7 .7 0 1 0 -1.4 0M480.4 150.0a.7 .7 0 1 0 1.4 0a.7 .7 0 1 0 -1.4 0M480.6 214.8a.7 .7 0 1 0 1.4 0a.7 .7 0 1 0 -1.4 0M481.0 172.3a.7 .7 0 1 0 1.4 0a.7 .7 0 1 0 -1.4 0M481.6 119.4a.7 .7 0 1 0 1.4 0a.7 .7 0 1 0 -1.4 0M480.4 197.0a.7 .7 0 1 0 1.4 0a.7 .7 0 1 0 -1.4 0M483.9 159.7a.7 .7 0 1 0 1.4 0a.7 .7 0 1 0 -1.4 0M480.1 177.0a.7 .7 0 1 0 1.4 0a.7 .7 0 1 0 -1.4 0M480.7 169.2a.7 .7 0 1 0 1.4 0a.7 .7 0 1 0 -1.4 0M483.1 110.0a.7 .7 0 1 0 1.4 0a.7 .7 0 1 0 -1.4 0M480.8 197.2a.7 .7 0 1 0 1.4 0a.7 .7 0 1 0 -1.4 0M482.5 205.8a.7 .7 0 1 0 1.4 0a.7 .7 0 1 0 -1.4 0M480.7 183.0a.7 .7 0 1 0 1.4 0a.7 .7 0 1 0 -1.4 0M484.2 204.4a.7 .7 0 1 0 1.4 0a.7 .7 0 1 0 -1.4 0M483.8 150.6a.7 .7 0 1 0 1.4 0a.7 .7 0 1 0 -1.4 0M484.1 139.1a.7 .7 0 1 0 1.4 0a.7 .7 0 1 0 -1.4 0M482.5 211.7a.7 .7 0 1 0 1.4 0a.7 .7 0 1 0 -1.4 0M480.6 215.2a.7 .7 0 1 0 1.4 0a.7 .7 0 1 0 -1.4 0M481.5 119.2a.7 .7 0 1 0 1.4 0a.7 .7 0 1 0 -1.4 0M482.6 214.8a.7 .7 0 1 0 1.4 0a.7 .7 0 1 0 -1.4 0M483.0 130.0a.7 .7 0 1 0 1.4 0a.7 .7 0 1 0 -1.4 0M482.9 195.3a.7 .7 0 1 0 1.4 0a.7 .7 0 1 0 -1.4 0M481.2 166.8a.7 .7 0 1 0 1.4 0a.7 .7 0 1 0 -1.4 0M483.9 172.7a.7 .7 0 1 0 1.4 0a.7 .7 0 1 0 -1.4 0M480.9 208.0a.7 .7 0 1 0 1.4 0a.7 .7 0 1 0 -1.4 0M483.9 129.1a.7 .7 0 1 0 1.4 0a.7 .7 0 1 0 -1.4 0M482.3 175.0a.7 .7 0 1 0 1.4 0a.7 .7 0 1 0 -1.4 0M484.2 141.8a.7 .7 0 1 0 1.4 0a.7 .7 0 1 0 -1.4 0M480.3 212.1a.7 .7 0 1 0 1.4 0a.7 .7 0 1 0 -1.4 0M482.5 143.8a.7 .7 0 1 0 1.4 0a.7 .7 0 1 0 -1.4 0M480.8 202.2a.7 .7 0 1 0 1.4 0a.7 .7 0 1 0 -1.4 0M483.6 198.6a.7 .7 0 1 0 1.4 0a.7 .7 0 1 0 -1.4 0M484.0 215.1a.7 .7 0 1 0 1.4 0a.7 .7 0 1 0 -1.4 0M481.8 190.0a.7 .7 0 1 0 1.4 0a.7 .7 0 1 0 -1.4 0M482.9 112.7a.7 .7 0 1 0 1.4 0a.7 .7 0 1 0 -1.4 0M481.6 191.4a.7 .7 0 1 0 1.4 0a.7 .7 0 1 0 -1.4 0M485.1 200.0a.7 .7 0 1 0 1.4 0a.7 .7 0 1 0 -1.4 0M484.2 203.7a.7 .7 0 1 0 1.4 0a.7 .7 0 1 0 -1.4 0M482.5 214.5a.7 .7 0 1 0 1.4 0a.7 .7 0 1 0 -1.4 0M483.8 189.2a.7 .7 0 1 0 1.4 0a.7 .7 0 1 0 -1.4 0M480.8 182.2a.7 .7 0 1 0 1.4 0a.7 .7 0 1 0 -1.4 0M479.9 211.9a.7 .7 0 1 0 1.4 0a.7 .7 0 1 0 -1.4 0M482.1 199.1a.7 .7 0 1 0 1.4 0a.7 .7 0 1 0 -1.4 0M482.6 205.4a.7 .7 0 1 0 1.4 0a.7 .7 0 1 0 -1.4 0M479.8 212.9a.7 .7 0 1 0 1.4 0a.7 .7 0 1 0 -1.4 0M482.4 204.5a.7 .7 0 1 0 1.4 0a.7 .7 0 1 0 -1.4 0M483.1 183.8a.7 .7 0 1 0 1.4 0a.7 .7 0 1 0 -1.4 0M483.6 184.3a.7 .7 0 1 0 1.4 0a.7 .7 0 1 0 -1.4 0M481.2 195.2a.7 .7 0 1 0 1.4 0a.7 .7 0 1 0 -1.4 0M482.9 192.0a.7 .7 0 1 0 1.4 0a.7 .7 0 1 0 -1.4 0M505.2 204.0a.7 .7 0 1 0 1.4 0a.7 .7 0 1 0 -1.4 0M506.4 182.4a.7 .7 0 1 0 1.4 0a.7 .7 0 1 0 -1.4 0M508.6 195.0a.7 .7 0 1 0 1.4 0a.7 .7 0 1 0 -1.4 0M507.2 106.2a.7 .7 0 1 0 1.4 0a.7 .7 0 1 0 -1.4 0M506.8 93.1a.7 .7 0 1 0 1.4 0a.7 .7 0 1 0 -1.4 0M509.0 147.1a.7 .7 0 1 0 1.4 0a.7 .7 0 1 0 -1.4 0M507.9 109.0a.7 .7 0 1 0 1.4 0a.7 .7 0 1 0 -1.4 0M508.3 151.0a.7 .7 0 1 0 1.4 0a.7 .7 0 1 0 -1.4 0M507.0 183.7a.7 .7 0 1 0 1.4 0a.7 .7 0 1 0 -1.4 0M505.6 215.5a.7 .7 0 1 0 1.4 0a.7 .7 0 1 0 -1.4 0M509.0 212.6a.7 .7 0 1 0 1.4 0a.7 .7 0 1 0 -1.4 0M508.8 131.8a.7 .7 0 1 0 1.4 0a.7 .7 0 1 0 -1.4 0M507.6 137.2a.7 .7 0 1 0 1.4 0a.7 .7 0 1 0 -1.4 0M505.9 165.1a.7 .7 0 1 0 1.4 0a.7 .7 0 1 0 -1.4 0M506.8 162.9a.7 .7 0 1 0 1.4 0a.7 .7 0 1 0 -1.4 0M507.5 164.2a.7 .7 0 1 0 1.4 0a.7 .7 0 1 0 -1.4 0M505.7 191.9a.7 .7 0 1 0 1.4 0a.7 .7 0 1 0 -1.4 0M508.3 122.5a.7 .7 0 1 0 1.4 0a.7 .7 0 1 0 -1.4 0M509.2 189.3a.7 .7 0 1 0 1.4 0a.7 .7 0 1 0 -1.4 0M508.3 202.7a.7 .7 0 1 0 1.4 0a.7 .7 0 1 0 -1.4 0M507.2 102.7a.7 .7 0 1 0 1.4 0a.7 .7 0 1 0 -1.4 0M504.7 201.7a.7 .7 0 1 0 1.4 0a.7 .7 0 1 0 -1.4 0M505.5 113.8a.7 .7 0 1 0 1.4 0a.7 .7 0 1 0 -1.4 0M504.3 204.0a.7 .7 0 1 0 1.4 0a.7 .7 0 1 0 -1.4 0M506.5 214.6a.7 .7 0 1 0 1.4 0a.7 .7 0 1 0 -1.4 0M506.8 112.3a.7 .7 0 1 0 1.4 0a.7 .7 0 1 0 -1.4 0M505.2 136.0a.7 .7 0 1 0 1.4 0a.7 .7 0 1 0 -1.4 0M504.4 156.7a.7 .7 0 1 0 1.4 0a.7 .7 0 1 0 -1.4 0M505.2 171.8a.7 .7 0 1 0 1.4 0a.7 .7 0 1 0 -1.4 0M506.3 184.2a.7 .7 0 1 0 1.4 0a.7 .7 0 1 0 -1.4 0M506.1 200.2a.7 .7 0 1 0 1.4 0a.7 .7 0 1 0 -1.4 0M506.8 192.5a.7 .7 0 1 0 1.4 0a.7 .7 0 1 0 -1.4 0M505.0 140.8a.7 .7 0 1 0 1.4 0a.7 .7 0 1 0 -1.4 0M504.6 208.0a.7 .7 0 1 0 1.4 0a.7 .7 0 1 0 -1.4 0M506.4 211.4a.7 .7 0 1 0 1.4 0a.7 .7 0 1 0 -1.4 0M507.4 163.9a.7 .7 0 1 0 1.4 0a.7 .7 0 1 0 -1.4 0M505.6 214.2a.7 .7 0 1 0 1.4 0a.7 .7 0 1 0 -1.4 0M507.0 190.6a.7 .7 0 1 0 1.4 0a.7 .7 0 1 0 -1.4 0M506.6 192.7a.7 .7 0 1 0 1.4 0a.7 .7 0 1 0 -1.4 0M506.1 166.7a.7 .7 0 1 0 1.4 0a.7 .7 0 1 0 -1.4 0M508.6 215.5a.7 .7 0 1 0 1.4 0a.7 .7 0 1 0 -1.4 0M507.1 201.9a.7 .7 0 1 0 1.4 0a.7 .7 0 1 0 -1.4 0M508.7 196.3a.7 .7 0 1 0 1.4 0a.7 .7 0 1 0 -1.4 0M503.9 211.1a.7 .7 0 1 0 1.4 0a.7 .7 0 1 0 -1.4 0M504.9 175.8a.7 .7 0 1 0 1.4 0a.7 .7 0 1 0 -1.4 0M508.4 174.2a.7 .7 0 1 0 1.4 0a.7 .7 0 1 0 -1.4 0M506.5 212.9a.7 .7 0 1 0 1.4 0a.7 .7 0 1 0 -1.4 0M506.0 193.2a.7 .7 0 1 0 1.4 0a.7 .7 0 1 0 -1.4 0M506.0 209.4a.7 .7 0 1 0 1.4 0a.7 .7 0 1 0 -1.4 0M509.2 196.4a.7 .7 0 1 0 1.4 0a.7 .7 0 1 0 -1.4 0M504.6 199.6a.7 .7 0 1 0 1.4 0a.7 .7 0 1 0 -1.4 0M506.6 203.4a.7 .7 0 1 0 1.4 0a.7 .7 0 1 0 -1.4 0M505.5 176.3a.7 .7 0 1 0 1.4 0a.7 .7 0 1 0 -1.4 0M505.6 182.9a.7 .7 0 1 0 1.4 0a.7 .7 0 1 0 -1.4 0M507.0 177.5a.7 .7 0 1 0 1.4 0a.7 .7 0 1 0 -1.4 0M508.3 186.1a.7 .7 0 1 0 1.4 0a.7 .7 0 1 0 -1.4 0M532.7 173.3a.7 .7 0 1 0 1.4 0a.7 .7 0 1 0 -1.4 0M530.9 204.9a.7 .7 0 1 0 1.4 0a.7 .7 0 1 0 -1.4 0M532.7 103.4a.7 .7 0 1 0 1.4 0a.7 .7 0 1 0 -1.4 0M531.8 186.7a.7 .7 0 1 0 1.4 0a.7 .7 0 1 0 -1.4 0M531.4 152.7a.7 .7 0 1 0 1.4 0a.7 .7 0 1 0 -1.4 0M533.5 196.6a.7 .7 0 1 0 1.4 0a.7 .7 0 1 0 -1.4 0M531.6 190.0a.7 .7 0 1 0 1.4 0a.7 .7 0 1 0 -1.4 0M529.8 113.3a.7 .7 0 1 0 1.4 0a.7 .7 0 1 0 -1.4 0M533.5 201.4a.7 .7 0 1 0 1.4 0a.7 .7 0 1 0 -1.4 0M530.5 176.6a.7 .7 0 1 0 1.4 0a.7 .7 0 1 0 -1.4 0M531.6 153.1a.7 .7 0 1 0 1.4 0a.7 .7 0 1 0 -1.4 0M532.3 174.8a.7 .7 0 1 0 1.4 0a.7 .7 0 1 0 -1.4 0M531.8 117.9a.7 .7 0 1 0 1.4 0a.7 .7 0 1 0 -1.4 0M530.2 132.2a.7 .7 0 1 0 1.4 0a.7 .7 0 1 0 -1.4 0M532.7 146.8a.7 .7 0 1 0 1.4 0a.7 .7 0 1 0 -1.4 0M529.2 178.2a.7 .7 0 1 0 1.4 0a.7 .7 0 1 0 -1.4 0M533.3 196.5a.7 .7 0 1 0 1.4 0a.7 .7 0 1 0 -1.4 0M529.5 163.6a.7 .7 0 1 0 1.4 0a.7 .7 0 1 0 -1.4 0M530.7 174.7a.7 .7 0 1 0 1.4 0a.7 .7 0 1 0 -1.4 0M528.7 145.9a.7 .7 0 1 0 1.4 0a.7 .7 0 1 0 -1.4 0M530.2 171.9a.7 .7 0 1 0 1.4 0a.7 .7 0 1 0 -1.4 0M528.8 202.9a.7 .7 0 1 0 1.4 0a.7 .7 0 1 0 -1.4 0M531.3 129.6a.7 .7 0 1 0 1.4 0a.7 .7 0 1 0 -1.4 0M531.9 161.5a.7 .7 0 1 0 1.4 0a.7 .7 0 1 0 -1.4 0M530.2 147.3a.7 .7 0 1 0 1.4 0a.7 .7 0 1 0 -1.4 0M532.8 202.7a.7 .7 0 1 0 1.4 0a.7 .7 0 1 0 -1.4 0M533.7 198.2a.7 .7 0 1 0 1.4 0a.7 .7 0 1 0 -1.4 0M533.5 163.3a.7 .7 0 1 0 1.4 0a.7 .7 0 1 0 -1.4 0M532.5 172.5a.7 .7 0 1 0 1.4 0a.7 .7 0 1 0 -1.4 0M530.5 173.5a.7 .7 0 1 0 1.4 0a.7 .7 0 1 0 -1.4 0M531.5 200.7a.7 .7 0 1 0 1.4 0a.7 .7 0 1 0 -1.4 0"/>
<path d="M312.4 210.0a.7 .7 0 1 0 1.4 0a.7 .7 0 1 0 -1.4 0M336.1 204.9a.7 .7 0 1 0 1.4 0a.7 .7 0 1 0 -1.4 0M336.4 214.3a.7 .7 0 1 0 1.4 0a.7 .7 0 1 0 -1.4 0M336.0 213.8a.7 .7 0 1 0 1.4 0a.7 .7 0 1 0 -1.4 0M336.4 206.3a.7 .7 0 1 0 1.4 0a.7 .7 0 1 0 -1.4 0M337.3 203.1a.7 .7 0 1 0 1.4 0a.7 .7 0 1 0 -1.4 0M335.8 208.0a.7 .7 0 1 0 1.4 0a.7 .7 0 1 0 -1.4 0M336.4 204.1a.7 .7 0 1 0 1.4 0a.7 .7 0 1 0 -1.4 0M337.5 214.1a.7 .7 0 1 0 1.4 0a.7 .7 0 1 0 -1.4 0M337.8 206.7a.7 .7 0 1 0 1.4 0a.7 .7 0 1 0 -1.4 0M337.9 213.0a.7 .7 0 1 0 1.4 0a.7 .7 0 1 0 -1.4 0M337.3 213.9a.7 .7 0 1 0 1.4 0a.7 .7 0 1 0 -1.4 0M361.1 206.4a.7 .7 0 1 0 1.4 0a.7 .7 0 1 0 -1.4 0M362.5 213.0a.7 .7 0 1 0 1.4 0a.7 .7 0 1 0 -1.4 0M360.1 206.7a.7 .7 0 1 0 1.4 0a.7 .7 0 1 0 -1.4 0M362.0 200.6a.7 .7 0 1 0 1.4 0a.7 .7 0 1 0 -1.4 0M362.8 201.7a.7 .7 0 1 0 1.4 0a.7 .7 0 1 0 -1.4 0M360.5 202.1a.7 .7 0 1 0 1.4 0a.7 .7 0 1 0 -1.4 0M361.1 199.7a.7 .7 0 1 0 1.4 0a.7 .7 0 1 0 -1.4 0M362.3 198.9a.7 .7 0 1 0 1.4 0a.7 .7 0 1 0 -1.4 0M359.1 203.9a.7 .7 0 1 0 1.4 0a.7 .7 0 1 0 -1.4 0M386.6 199.4a.7 .7 0 1 0 1.4 0a.7 .7 0 1 0 -1.4 0M386.1 191.4a.7 .7 0 1 0 1.4 0a.7 .7 0 1 0 -1.4 0M384.7 193.4a.7 .7 0 1 0 1.4 0a.7 .7 0 1 0 -1.4 0M384.2 208.6a.7 .7 0 1 0 1.4 0a.7 .7 0 1 0 -1.4 0M383.6 197.8a.7 .7 0 1 0 1.4 0a.7 .7 0 1 0 -1.4 0M385.4 201.7a.7 .7 0 1 0 1.4 0a.7 .7 0 1 0 -1.4 0M386.4 207.6a.7 .7 0 1 0 1.4 0a.7 .7 0 1 0 -1.4 0M383.4 205.0a.7 .7 0 1 0 1.4 0a.7 .7 0 1 0 -1.4 0M408.1 206.2a.7 .7 0 1 0 1.4 0a.7 .7 0 1 0 -1.4 0M407.9 213.0a.7 .7 0 1 0 1.4 0a.7 .7 0 1 0 -1.4 0M410.0 215.3a.7 .7 0 1 0 1.4 0a.7 .7 0 1 0 -1.4 0M410.1 213.1a.7 .7 0 1 0 1.4 0a.7 .7 0 1 0 -1.4 0M409.6 213.4a.7 .7 0 1 0 1.4 0a.7 .7 0 1 0 -1.4 0M410.1 211.9a.7 .7 0 1 0 1.4 0a.7 .7 0 1 0 -1.4 0M411.4 207.3a.7 .7 0 1 0 1.4 0a.7 .7 0 1 0 -1.4 0M435.6 213.5a.7 .7 0 1 0 1.4 0a.7 .7 0 1 0 -1.4 0M435.4 214.7a.7 .7 0 1 0 1.4 0a.7 .7 0 1 0 -1.4 0M432.6 212.0a.7 .7 0 1 0 1.4 0a.7 .7 0 1 0 -1.4 0M434.3 215.4a.7 .7 0 1 0 1.4 0a.7 .7 0 1 0 -1.4 0M459.5 212.4a.7 .7 0 1 0 1.4 0a.7 .7 0 1 0 -1.4 0M460.3 206.9a.7 .7 0 1 0 1.4 0a.7 .7 0 1 0 -1.4 0M459.1 131.3a.7 .7 0 1 0 1.4 0a.7 .7 0 1 0 -1.4 0M460.7 198.2a.7 .7 0 1 0 1.4 0a.7 .7 0 1 0 -1.4 0M455.7 215.5a.7 .7 0 1 0 1.4 0a.7 .7 0 1 0 -1.4 0M460.3 214.0a.7 .7 0 1 0 1.4 0a.7 .7 0 1 0 -1.4 0M459.4 204.5a.7 .7 0 1 0 1.4 0a.7 .7 0 1 0 -1.4 0M456.9 128.3a.7 .7 0 1 0 1.4 0a.7 .7 0 1 0 -1.4 0M456.2 140.0a.7 .7 0 1 0 1.4 0a.7 .7 0 1 0 -1.4 0M456.6 157.9a.7 .7 0 1 0 1.4 0a.7 .7 0 1 0 -1.4 0M455.3 206.5a.7 .7 0 1 0 1.4 0a.7 .7 0 1 0 -1.4 0M458.5 211.2a.7 .7 0 1 0 1.4 0a.7 .7 0 1 0 -1.4 0M456.1 202.9a.7 .7 0 1 0 1.4 0a.7 .7 0 1 0 -1.4 0M458.5 212.3a.7 .7 0 1 0 1.4 0a.7 .7 0 1 0 -1.4 0M460.1 211.5a.7 .7 0 1 0 1.4 0a.7 .7 0 1 0 -1.4 0M459.2 160.8a.7 .7 0 1 0 1.4 0a.7 .7 0 1 0 -1.4 0M458.1 196.3a.7 .7 0 1 0 1.4 0a.7 .7 0 1 0 -1.4 0M460.0 141.2a.7 .7 0 1 0 1.4 0a.7 .7 0 1 0 -1.4 0M460.5 191.3a.7 .7 0 1 0 1.4 0a.7 .7 0 1 0 -1.4 0M458.6 169.4a.7 .7 0 1 0 1.4 0a.7 .7 0 1 0 -1.4 0M458.7 171.6a.7 .7 0 1 0 1.4 0a.7 .7 0 1 0 -1.4 0M456.2 133.7a.7 .7 0 1 0 1.4 0a.7 .7 0 1 0 -1.4 0M457.6 173.9a.7 .7 0 1 0 1.4 0a.7 .7 0 1 0 -1.4 0M456.0 181.4a.7 .7 0 1 0 1.4 0a.7 .7 0 1 0 -1.4 0M456.5 188.8a.7 .7 0 1 0 1.4 0a.7 .7 0 1 0 -1.4 0M455.5 215.1a.7 .7 0 1 0 1.4 0a.7 .7 0 1 0 -1.4 0M457.4 166.9a.7 .7 0 1 0 1.4 0a.7 .7 0 1 0 -1.4 0M460.2 190.9a.7 .7 0 1 0 1.4 0a.7 .7 0 1 0 -1.4 0M456.9 175.9a.7 .7 0 1 0 1.4 0a.7 .7 0 1 0 -1.4 0M455.5 192.5a.7 .7 0 1 0 1.4 0a.7 .7 0 1 0 -1.4 0M460.8 200.9a.7 .7 0 1 0 1.4 0a.7 .7 0 1 0 -1.4 0M456.9 203.2a.7 .7 0 1 0 1.4 0a.7 .7 0 1 0 -1.4 0M456.6 215.3a.7 .7 0 1 0 1.4 0a.7 .7 0 1 0 -1.4 0M456.7 212.6a.7 .7 0 1 0 1.4 0a.7 .7 0 1 0 -1.4 0M456.4 215.5a.7 .7 0 1 0 1.4 0a.7 .7 0 1 0 -1.4 0M457.4 211.1a.7 .7 0 1 0 1.4 0a.7 .7 0 1 0 -1.4 0M459.9 207.1a.7 .7 0 1 0 1.4 0a.7 .7 0 1 0 -1.4 0M458.3 211.6a.7 .7 0 1 0 1.4 0a.7 .7 0 1 0 -1.4 0M456.9 211.1a.7 .7 0 1 0 1.4 0a.7 .7 0 1 0 -1.4 0M458.8 205.2a.7 .7 0 1 0 1.4 0a.7 .7 0 1 0 -1.4 0M456.3 209.2a.7 .7 0 1 0 1.4 0a.7 .7 0 1 0 -1.4 0M457.0 208.9a.7 .7 0 1 0 1.4 0a.7 .7 0 1 0 -1.4 0M459.6 203.9a.7 .7 0 1 0 1.4 0a.7 .7 0 1 0 -1.4 0M459.5 215.2a.7 .7 0 1 0 1.4 0a.7 .7 0 1 0 -1.4 0M458.6 209.1a.7 .7 0 1 0 1.4 0a.7 .7 0 1 0 -1.4 0M455.9 199.2a.7 .7 0 1 0 1.4 0a.7 .7 0 1 0 -1.4 0M458.3 210.3a.7 .7 0 1 0 1.4 0a.7 .7 0 1 0 -1.4 0M482.2 183.6a.7 .7 0 1 0 1.4 0a.7 .7 0 1 0 -1.4 0M483.1 211.7a.7 .7 0 1 0 1.4 0a.7 .7 0 1 0 -1.4 0M482.1 128.0a.7 .7 0 1 0 1.4 0a.7 .7 0 1 0 -1.4 0M481.7 190.4a.7 .7 0 1 0 1.4 0a.7 .7 0 1 0 -1.4 0M485.2 213.8a.7 .7 0 1 0 1.4 0a.7 .7 0 1 0 -1.4 0M484.8 159.3a.7 .7 0 1 0 1.4 0a.7 .7 0 1 0 -1.4 0M482.7 176.6a.7 .7 0 1 0 1.4 0a.7 .7 0 1 0 -1.4 0M480.3 117.2a.7 .7 0 1 0 1.4 0a.7 .7 0 1 0 -1.4 0M482.6 170.6a.7 .7 0 1 0 1.4 0a.7 .7 0 1 0 -1.4 0M480.9 186.8a.7 .7 0 1 0 1.4 0a.7 .7 0 1 0 -1.4 0M484.1 157.2a.7 .7 0 1 0 1.4 0a.7 .7 0 1 0 -1.4 0M482.1 215.1a.7 .7 0 1 0 1.4 0a.7 .7 0 1 0 -1.4 0M483.0 115.4a.7 .7 0 1 0 1.4 0a.7 .7 0 1 0 -1.4 0M484.4 111.0a.7 .7 0 1 0 1.4 0a.7 .7 0 1 0 -1.4 0M481.4 198.0a.7 .7 0 1 0 1.4 0a.7 .7 0 1 0 -1.4 0M484.7 215.5a.7 .7 0 1 0 1.4 0a.7 .7 0 1 0 -1.4 0M481.2 191.3a.7 .7 0 1 0 1.4 0a.7 .7 0 1 0 -1.4 0M480.1 212.7a.7 .7 0 1 0 1.4 0a.7 .7 0 1 0 -1.4 0M483.9 179.1a.7 .7 0 1 0 1.4 0a.7 .7 0 1 0 -1.4 0M484.5 198.7a.7 .7 0 1 0 1.4 0a.7 .7 0 1 0 -1.4 0M481.2 195.0a.7 .7 0 1 0 1.4 0a.7 .7 0 1 0 -1.4 0M483.7 215.5a.7 .7 0 1 0 1.4 0a.7 .7 0 1 0 -1.4 0M482.4 145.1a.7 .7 0 1 0 1.4 0a.7 .7 0 1 0 -1.4 0M483.4 215.1a.7 .7 0 1 0 1.4 0a.7 .7 0 1 0 -1.4 0M482.1 150.3a.7 .7 0 1 0 1.4 0a.7 .7 0 1 0 -1.4 0M482.6 181.8a.7 .7 0 1 0 1.4 0a.7 .7 0 1 0 -1.4 0M482.4 207.9a.7 .7 0 1 0 1.4 0a.7 .7 0 1 0 -1.4 0M480.2 137.6a.7 .7 0 1 0 1.4 0a.7 .7 0 1 0 -1.4 0M484.9 190.0a.7 .7 0 1 0 1.4 0a.7 .7 0 1 0 -1.4 0M483.2 111.8a.7 .7 0 1 0 1.4 0a.7 .7 0 1 0 -1.4 0M484.2 212.7a.7 .7 0 1 0 1.4 0a.7 .7 0 1 0 -1.4 0M484.8 176.5a.7 .7 0 1 0 1.4 0a.7 .7 0 1 0 -1.4 0M482.9 173.2a.7 .7 0 1 0 1.4 0a.7 .7 0 1 0 -1.4 0M484.2 202.9a.7 .7 0 1 0 1.4 0a.7 .7 0 1 0 -1.4 0M483.3 153.4a.7 .7 0 1 0 1.4 0a.7 .7 0 1 0 -1.4 0M483.1 126.4a.7 .7 0 1 0 1.4 0a.7 .7 0 1 0 -1.4 0M482.4 127.2a.7 .7 0 1 0 1.4 0a.7 .7 0 1 0 -1.4 0M482.0 150.6a.7 .7 0 1 0 1.4 0a.7 .7 0 1 0 -1.4 0M483.8 214.0a.7 .7 0 1 0 1.4 0a.7 .7 0 1 0 -1.4 0M485.0 196.2a.7 .7 0 1 0 1.4 0a.7 .7 0 1 0 -1.4 0M481.2 149.5a.7 .7 0 1 0 1.4 0a.7 .7 0 1 0 -1.4 0M481.0 184.8a.7 .7 0 1 0 1.4 0a.7 .7 0 1 0 -1.4 0M483.6 200.5a.7 .7 0 1 0 1.4 0a.7 .7 0 1 0 -1.4 0M481.3 208.3a.7 .7 0 1 0 1.4 0a.7 .7 0 1 0 -1.4 0M482.0 181.4a.7 .7 0 1 0 1.4 0a.7 .7 0 1 0 -1.4 0M483.3 178.5a.7 .7 0 1 0 1.4 0a.7 .7 0 1 0 -1.4 0M483.2 183.5a.7 .7 0 1 0 1.4 0a.7 .7 0 1 0 -1.4 0M482.4 201.0a.7 .7 0 1 0 1.4 0a.7 .7 0 1 0 -1.4 0M481.6 200.1a.7 .7 0 1 0 1.4 0a.7 .7 0 1 0 -1.4 0M484.6 187.1a.7 .7 0 1 0 1.4 0a.7 .7 0 1 0 -1.4 0M482.5 215.4a.7 .7 0 1 0 1.4 0a.7 .7 0 1 0 -1.4 0M481.2 182.6a.7 .7 0 1 0 1.4 0a.7 .7 0 1 0 -1.4 0M481.9 188.0a.7 .7 0 1 0 1.4 0a.7 .7 0 1 0 -1.4 0M480.8 178.1a.7 .7 0 1 0 1.4 0a.7 .7 0 1 0 -1.4 0M485.2 210.9a.7 .7 0 1 0 1.4 0a.7 .7 0 1 0 -1.4 0M484.8 201.8a.7 .7 0 1 0 1.4 0a.7 .7 0 1 0 -1.4 0M481.2 197.1a.7 .7 0 1 0 1.4 0a.7 .7 0 1 0 -1.4 0M480.1 193.1a.7 .7 0 1 0 1.4 0a.7 .7 0 1 0 -1.4 0M483.3 206.7a.7 .7 0 1 0 1.4 0a.7 .7 0 1 0 -1.4 0M505.6 114.8a.7 .7 0 1 0 1.4 0a.7 .7 0 1 0 -1.4 0M504.5 213.2a.7 .7 0 1 0 1.4 0a.7 .7 0 1 0 -1.4 0M507.3 146.4a.7 .7 0 1 0 1.4 0a.7 .7 0 1 0 -1.4 0M506.8 211.7a.7 .7 0 1 0 1.4 0a.7 .7 0 1 0 -1.4 0M504.6 197.5a.7 .7 0 1 0 1.4 0a.7 .7 0 1 0 -1.4 0M504.7 189.2a.7 .7 0 1 0 1.4 0a.7 .7 0 1 0 -1.4 0M505.9 170.7a.7 .7 0 1 0 1.4 0a.7 .7 0 1 0 -1.4 0M508.8 190.8a.7 .7 0 1 0 1.4 0a.7 .7 0 1 0 -1.4 0M508.0 184.0a.7 .7 0 1 0 1.4 0a.7 .7 0 1 0 -1.4 0M505.9 144.0a.7 .7 0 1 0 1.4 0a.7 .7 0 1 0 -1.4 0M508.9 194.8a.7 .7 0 1 0 1.4 0a.7 .7 0 1 0 -1.4 0M507.9 140.0a.7 .7 0 1 0 1.4 0a.7 .7 0 1 0 -1.4 0M505.6 99.4a.7 .7 0 1 0 1.4 0a.7 .7 0 1 0 -1.4 0M504.7 170.5a.7 .7 0 1 0 1.4 0a.7 .7 0 1 0 -1.4 0M506.7 147.8a.7 .7 0 1 0 1.4 0a.7 .7 0 1 0 -1.4 0M504.4 202.6a.7 .7 0 1 0 1.4 0a.7 .7 0 1 0 -1.4 0M505.8 167.2a.7 .7 0 1 0 1.4 0a.7 .7 0 1 0 -1.4 0M508.3 113.3a.7 .7 0 1 0 1.4 0a.7 .7 0 1 0 -1.4 0M504.8 160.5a.7 .7 0 1 0 1.4 0a.7 .7 0 1 0 -1.4 0M507.2 98.3a.7 .7 0 1 0 1.4 0a.7 .7 0 1 0 -1.4 0M507.4 169.7a.7 .7 0 1 0 1.4 0a.7 .7 0 1 0 -1.4 0M507.8 211.0a.7 .7 0 1 0 1.4 0a.7 .7 0 1 0 -1.4 0M505.0 208.2a.7 .7 0 1 0 1.4 0a.7 .7 0 1 0 -1.4 0M505.4 214.9a.7 .7 0 1 0 1.4 0a.7 .7 0 1 0 -1.4 0M506.6 211.4a.7 .7 0 1 0 1.4 0a.7 .7 0 1 0 -1.4 0M504.6 183.5a.7 .7 0 1 0 1.4 0a.7 .7 0 1 0 -1.4 0M507.9 166.4a.7 .7 0 1 0 1.4 0a.7 .7 0 1 0 -1.4 0M505.4 136.0a.7 .7 0 1 0 1.4 0a.7 .7 0 1 0 -1.4 0M508.4 118.0a.7 .7 0 1 0 1.4 0a.7 .7 0 1 0 -1.4 0M506.1 161.3a.7 .7 0 1 0 1.4 0a.7 .7 0 1 0 -1.4 0M507.7 184.4a.7 .7 0 1 0 1.4 0a.7 .7 0 1 0 -1.4 0M507.3 159.6a.7 .7 0 1 0 1.4 0a.7 .7 0 1 0 -1.4 0M507.1 212.3a.7 .7 0 1 0 1.4 0a.7 .7 0 1 0 -1.4 0M509.4 210.8a.7 .7 0 1 0 1.4 0a.7 .7 0 1 0 -1.4 0M505.5 168.6a.7 .7 0 1 0 1.4 0a.7 .7 0 1 0 -1.4 0M506.4 99.2a.7 .7 0 1 0 1.4 0a.7 .7 0 1 0 -1.4 0M504.2 176.8a.7 .7 0 1 0 1.4 0a.7 .7 0 1 0 -1.4 0M508.7 214.6a.7 .7 0 1 0 1.4 0a.7 .7 0 1 0 -1.4 0M505.9 204.2a.7 .7 0 1 0 1.4 0a.7 .7 0 1 0 -1.4 0M505.2 97.4a.7 .7 0 1 0 1.4 0a.7 .7 0 1 0 -1.4 0M508.6 111.2a.7 .7 0 1 0 1.4 0a.7 .7 0 1 0 -1.4 0M509.3 209.3a.7 .7 0 1 0 1.4 0a.7 .7 0 1 0 -1.4 0M507.1 95.2a.7 .7 0 1 0 1.4 0a.7 .7 0 1 0 -1.4 0M508.5 215.5a.7 .7 0 1 0 1.4 0a.7 .7 0 1 0 -1.4 0M505.0 184.0a.7 .7 0 1 0 1.4 0a.7 .7 0 1 0 -1.4 0M508.5 126.4a.7 .7 0 1 0 1.4 0a.7 .7 0 1 0 -1.4 0M504.1 194.0a.7 .7 0 1 0 1.4 0a.7 .7 0 1 0 -1.4 0M507.3 163.2a.7 .7 0 1 0 1.4 0a.7 .7 0 1 0 -1.4 0M506.9 208.9a.7 .7 0 1 0 1.4 0a.7 .7 0 1 0 -1.4 0M505.0 98.2a.7 .7 0 1 0 1.4 0a.7 .7 0 1 0 -1.4 0M504.7 164.1a.7 .7 0 1 0 1.4 0a.7 .7 0 1 0 -1.4 0M506.6 202.5a.7 .7 0 1 0 1.4 0a.7 .7 0 1 0 -1.4 0M506.0 188.9a.7 .7 0 1 0 1.4 0a.7 .7 0 1 0 -1.4 0M505.4 174.3a.7 .7 0 1 0 1.4 0a.7 .7 0 1 0 -1.4 0M506.5 215.4a.7 .7 0 1 0 1.4 0a.7 .7 0 1 0 -1.4 0M506.1 215.1a.7 .7 0 1 0 1.4 0a.7 .7 0 1 0 -1.4 0M506.6 207.1a.7 .7 0 1 0 1.4 0a.7 .7 0 1 0 -1.4 0M507.6 186.1a.7 .7 0 1 0 1.4 0a.7 .7 0 1 0 -1.4 0M508.4 183.4a.7 .7 0 1 0 1.4 0a.7 .7 0 1 0 -1.4 0M504.5 210.2a.7 .7 0 1 0 1.4 0a.7 .7 0 1 0 -1.4 0M504.4 210.4a.7 .7 0 1 0 1.4 0a.7 .7 0 1 0 -1.4 0M505.8 204.8a.7 .7 0 1 0 1.4 0a.7 .7 0 1 0 -1.4 0M506.9 205.1a.7 .7 0 1 0 1.4 0a.7 .7 0 1 0 -1.4 0M506.9 167.6a.7 .7 0 1 0 1.4 0a.7 .7 0 1 0 -1.4 0M506.2 169.6a.7 .7 0 1 0 1.4 0a.7 .7 0 1 0 -1.4 0M504.5 206.9a.7 .7 0 1 0 1.4 0a.7 .7 0 1 0 -1.4 0M504.5 194.0a.7 .7 0 1 0 1.4 0a.7 .7 0 1 0 -1.4 0M508.8 175.9a.7 .7 0 1 0 1.4 0a.7 .7 0 1 0 -1.4 0M508.7 175.2a.7 .7 0 1 0 1.4 0a.7 .7 0 1 0 -1.4 0M528.3 198.9a.7 .7 0 1 0 1.4 0a.7 .7 0 1 0 -1.4 0M528.8 138.7a.7 .7 0 1 0 1.4 0a.7 .7 0 1 0 -1.4 0M531.4 200.1a.7 .7 0 1 0 1.4 0a.7 .7 0 1 0 -1.4 0M533.0 144.4a.7 .7 0 1 0 1.4 0a.7 .7 0 1 0 -1.4 0M531.2 204.6a.7 .7 0 1 0 1.4 0a.7 .7 0 1 0 -1.4 0M530.2 116.0a.7 .7 0 1 0 1.4 0a.7 .7 0 1 0 -1.4 0M529.3 108.3a.7 .7 0 1 0 1.4 0a.7 .7 0 1 0 -1.4 0M529.8 176.0a.7 .7 0 1 0 1.4 0a.7 .7 0 1 0 -1.4 0M530.8 205.2a.7 .7 0 1 0 1.4 0a.7 .7 0 1 0 -1.4 0M529.3 108.2a.7 .7 0 1 0 1.4 0a.7 .7 0 1 0 -1.4 0M530.7 202.8a.7 .7 0 1 0 1.4 0a.7 .7 0 1 0 -1.4 0M531.6 169.5a.7 .7 0 1 0 1.4 0a.7 .7 0 1 0 -1.4 0M533.0 204.0a.7 .7 0 1 0 1.4 0a.7 .7 0 1 0 -1.4 0M528.9 176.3a.7 .7 0 1 0 1.4 0a.7 .7 0 1 0 -1.4 0M532.0 154.6a.7 .7 0 1 0 1.4 0a.7 .7 0 1 0 -1.4 0M532.4 113.3a.7 .7 0 1 0 1.4 0a.7 .7 0 1 0 -1.4 0M528.8 201.2a.7 .7 0 1 0 1.4 0a.7 .7 0 1 0 -1.4 0M530.6 184.3a.7 .7 0 1 0 1.4 0a.7 .7 0 1 0 -1.4 0M529.2 205.7a.7 .7 0 1 0 1.4 0a.7 .7 0 1 0 -1.4 0M529.1 205.9a.7 .7 0 1 0 1.4 0a.7 .7 0 1 0 -1.4 0M531.0 163.9a.7 .7 0 1 0 1.4 0a.7 .7 0 1 0 -1.4 0M531.0 205.6a.7 .7 0 1 0 1.4 0a.7 .7 0 1 0 -1.4 0M529.2 112.6a.7 .7 0 1 0 1.4 0a.7 .7 0 1 0 -1.4 0M529.8 168.3a.7 .7 0 1 0 1.4 0a.7 .7 0 1 0 -1.4 0M530.1 191.5a.7 .7 0 1 0 1.4 0a.7 .7 0 1 0 -1.4 0M533.6 201.3a.7 .7 0 1 0 1.4 0a.7 .7 0 1 0 -1.4 0M532.8 171.4a.7 .7 0 1 0 1.4 0a.7 .7 0 1 0 -1.4 0M533.8 199.5a.7 .7 0 1 0 1.4 0a.7 .7 0 1 0 -1.4 0M532.7 108.6a.7 .7 0 1 0 1.4 0a.7 .7 0 1 0 -1.4 0M529.7 195.5a.7 .7 0 1 0 1.4 0a.7 .7 0 1 0 -1.4 0M530.4 188.7a.7 .7 0 1 0 1.4 0a.7 .7 0 1 0 -1.4 0"/>
<path d="M310.4 212.0a.7 .7 0 1 0 1.4 0a.7 .7 0 1 0 -1.4 0M313.8 210.2a.7 .7 0 1 0 1.4 0a.7 .7 0 1 0 -1.4 0M311.8 212.7a.7 .7 0 1 0 1.4 0a.7 .7 0 1 0 -1.4 0M310.7 213.0a.7 .7 0 1 0 1.4 0a.7 .7 0 1 0 -1.4 0M313.3 212.8a.7 .7 0 1 0 1.4 0a.7 .7 0 1 0 -1.4 0M313.1 210.0a.7 .7 0 1 0 1.4 0a.7 .7 0 1 0 -1.4 0M310.5 213.8a.7 .7 0 1 0 1.4 0a.7 .7 0 1 0 -1.4 0M338.3 214.6a.7 .7 0 1 0 1.4 0a.7 .7 0 1 0 -1.4 0M336.3 205.5a.7 .7 0 1 0 1.4 0a.7 .7 0 1 0 -1.4 0M336.9 211.0a.7 .7 0 1 0 1.4 0a.7 .7 0 1 0 -1.4 0M336.5 208.7a.7 .7 0 1 0 1.4 0a.7 .7 0 1 0 -1.4 0M335.6 206.8a.7 .7 0 1 0 1.4 0a.7 .7 0 1 0 -1.4 0M336.6 214.6a.7 .7 0 1 0 1.4 0a.7 .7 0 1 0 -1.4 0M334.7 213.4a.7 .7 0 1 0 1.4 0a.7 .7 0 1 0 -1.4 0M358.9 215.3a.7 .7 0 1 0 1.4 0a.7 .7 0 1 0 -1.4 0M361.8 209.8a.7 .7 0 1 0 1.4 0a.7 .7 0 1 0 -1.4 0M361.6 206.3a.7 .7 0 1 0 1.4 0a.7 .7 0 1 0 -1.4 0M362.1 206.9a.7 .7 0 1 0 1.4 0a.7 .7 0 1 0 -1.4 0M363.0 208.0a.7 .7 0 1 0 1.4 0a.7 .7 0 1 0 -1.4 0M358.9 209.3a.7 .7 0 1 0 1.4 0a.7 .7 0 1 0 -1.4 0M359.9 214.1a.7 .7 0 1 0 1.4 0a.7 .7 0 1 0 -1.4 0M359.9 198.8a.7 .7 0 1 0 1.4 0a.7 .7 0 1 0 -1.4 0M385.8 193.9a.7 .7 0 1 0 1.4 0a.7 .7 0 1 0 -1.4 0M385.8 213.8a.7 .7 0 1 0 1.4 0a.7 .7 0 1 0 -1.4 0M385.2 189.1a.7 .7 0 1 0 1.4 0a.7 .7 0 1 0 -1.4 0M385.0 207.5a.7 .7 0 1 0 1.4 0a.7 .7 0 1 0 -1.4 0M383.2 193.8a.7 .7 0 1 0 1.4 0a.7 .7 0 1 0 -1.4 0M384.0 210.3a.7 .7 0 1 0 1.4 0a.7 .7 0 1 0 -1.4 0M386.6 213.4a.7 .7 0 1 0 1.4 0a.7 .7 0 1 0 -1.4 0M385.7 201.8a.7 .7 0 1 0 1.4 0a.7 .7 0 1 0 -1.4 0M383.8 204.9a.7 .7 0 1 0 1.4 0a.7 .7 0 1 0 -1.4 0M385.3 201.8a.7 .7 0 1 0 1.4 0a.7 .7 0 1 0 -1.4 0M385.8 212.1a.7 .7 0 1 0 1.4 0a.7 .7 0 1 0 -1.4 0M387.3 199.5a.7 .7 0 1 0 1.4 0a.7 .7 0 1 0 -1.4 0M386.0 193.2a.7 .7 0 1 0 1.4 0a.7 .7 0 1 0 -1.4 0M385.9 190.8a.7 .7 0 1 0 1.4 0a.7 .7 0 1 0 -1.4 0M386.1 205.0a.7 .7 0 1 0 1.4 0a.7 .7 0 1 0 -1.4 0M411.0 207.8a.7 .7 0 1 0 1.4 0a.7 .7 0 1 0 -1.4 0M409.5 212.8a.7 .7 0 1 0 1.4 0a.7 .7 0 1 0 -1.4 0M410.2 209.7a.7 .7 0 1 0 1.4 0a.7 .7 0 1 0 -1.4 0M409.6 209.6a.7 .7 0 1 0 1.4 0a.7 .7 0 1 0 -1.4 0M408.3 206.4a.7 .7 0 1 0 1.4 0a.7 .7 0 1 0 -1.4 0M409.3 212.1a.7 .7 0 1 0 1.4 0a.7 .7 0 1 0 -1.4 0M410.3 209.4a.7 .7 0 1 0 1.4 0a.7 .7 0 1 0 -1.4 0M409.8 210.7a.7 .7 0 1 0 1.4 0a.7 .7 0 1 0 -1.4 0M411.4 210.7a.7 .7 0 1 0 1.4 0a.7 .7 0 1 0 -1.4 0M408.3 206.6a.7 .7 0 1 0 1.4 0a.7 .7 0 1 0 -1.4 0M434.1 215.5a.7 .7 0 1 0 1.4 0a.7 .7 0 1 0 -1.4 0M432.0 209.1a.7 .7 0 1 0 1.4 0a.7 .7 0 1 0 -1.4 0M434.9 206.6a.7 .7 0 1 0 1.4 0a.7 .7 0 1 0 -1.4 0M434.1 208.4a.7 .7 0 1 0 1.4 0a.7 .7 0 1 0 -1.4 0M435.9 206.3a.7 .7 0 1 0 1.4 0a.7 .7 0 1 0 -1.4 0M433.3 213.3a.7 .7 0 1 0 1.4 0a.7 .7 0 1 0 -1.4 0M432.4 207.0a.7 .7 0 1 0 1.4 0a.7 .7 0 1 0 -1.4 0M435.6 211.7a.7 .7 0 1 0 1.4 0a.7 .7 0 1 0 -1.4 0M431.8 206.4a.7 .7 0 1 0 1.4 0a.7 .7 0 1 0 -1.4 0M434.2 207.2a.7 .7 0 1 0 1.4 0a.7 .7 0 1 0 -1.4 0M456.8 213.8a.7 .7 0 1 0 1.4 0a.7 .7 0 1 0 -1.4 0M458.3 160.6a.7 .7 0 1 0 1.4 0a.7 .7 0 1 0 -1.4 0M459.2 150.8a.7 .7 0 1 0 1.4 0a.7 .7 0 1 0 -1.4 0M459.7 126.5a.7 .7 0 1 0 1.4 0a.7 .7 0 1 0 -1.4 0M456.5 138.9a.7 .7 0 1 0 1.4 0a.7 .7 0 1 0 -1.4 0M458.8 213.6a.7 .7 0 1 0 1.4 0a.7 .7 0 1 0 -1.4 0M456.9 188.9a.7 .7 0 1 0 1.4 0a.7 .7 0 1 0 -1.4 0M456.1 185.8a.7 .7 0 1 0 1.4 0a.7 .7 0 1 0 -1.4 0M459.7 197.5a.7 .7 0 1 0 1.4 0a.7 .7 0 1 0 -1.4 0M458.9 210.9a.7 .7 0 1 0 1.4 0a.7 .7 0 1 0 -1.4 0M458.3 181.2a.7 .7 0 1 0 1.4 0a.7 .7 0 1 0 -1.4 0M455.5 203.2a.7 .7 0 1 0 1.4 0a.7 .7 0 1 0 -1.4 0M458.6 134.8a.7 .7 0 1 0 1.4 0a.7 .7 0 1 0 -1.4 0M456.9 209.9a.7 .7 0 1 0 1.4 0a.7 .7 0 1 0 -1.4 0M460.1 188.0a.7 .7 0 1 0 1.4 0a.7 .7 0 1 0 -1.4 0M460.7 210.6a.7 .7 0 1 0 1.4 0a.7 .7 0 1 0 -1.4 0M460.4 210.8a.7 .7 0 1 0 1.4 0a.7 .7 0 1 0 -1.4 0M457.4 190.1a.7 .7 0 1 0 1.4 0a.7 .7 0 1 0 -1.4 0M458.2 190.0a.7 .7 0 1 0 1.4 0a.7 .7 0 1 0 -1.4 0M460.9 205.1a.7 .7 0 1 0 1.4 0a.7 .7 0 1 0 -1.4 0M457.8 209.7a.7 .7 0 1 0 1.4 0a.7 .7 0 1 0 -1.4 0M459.0 182.6a.7 .7 0 1 0 1.4 0a.7 .7 0 1 0 -1.4 0M456.0 155.9a.7 .7 0 1 0 1.4 0a.7 .7 0 1 0 -1.4 0M456.7 203.1a.7 .7 0 1 0 1.4 0a.7 .7 0 1 0 -1.4 0M456.2 214.5a.7 .7 0 1 0 1.4 0a.7 .7 0 1 0 -1.4 0M456.8 170.7a.7 .7 0 1 0 1.4 0a.7 .7 0 1 0 -1.4 0M456.3 161.6a.7 .7 0 1 0 1.4 0a.7 .7 0 1 0 -1.4 0M457.1 171.7a.7 .7 0 1 0 1.4 0a.7 .7 0 1 0 -1.4 0M456.6 208.9a.7 .7 0 1 0 1.4 0a.7 .7 0 1 0 -1.4 0M458.4 164.8a.7 .7 0 1 0 1.4 0a.7 .7 0 1 0 -1.4 0M456.7 201.7a.7 .7 0 1 0 1.4 0a.7 .7 0 1 0 -1.4 0M460.4 214.3a.7 .7 0 1 0 1.4 0a.7 .7 0 1 0 -1.4 0M458.7 129.7a.7 .7 0 1 0 1.4 0a.7 .7 0 1 0 -1.4 0M459.3 178.7a.7 .7 0 1 0 1.4 0a.7 .7 0 1 0 -1.4 0M459.5 197.9a.7 .7 0 1 0 1.4 0a.7 .7 0 1 0 -1.4 0M459.8 168.9a.7 .7 0 1 0 1.4 0a.7 .7 0 1 0 -1.4 0M456.9 207.1a.7 .7 0 1 0 1.4 0a.7 .7 0 1 0 -1.4 0M460.5 174.7a.7 .7 0 1 0 1.4 0a.7 .7 0 1 0 -1.4 0M458.3 197.4a.7 .7 0 1 0 1.4 0a.7 .7 0 1 0 -1.4 0M458.8 212.1a.7 .7 0 1 0 1.4 0a.7 .7 0 1 0 -1.4 0M460.6 175.4a.7 .7 0 1 0 1.4 0a.7 .7 0 1 0 -1.4 0M456.5 182.8a.7 .7 0 1 0 1.4 0a.7 .7 0 1 0 -1.4 0M457.9 139.9a.7 .7 0 1 0 1.4 0a.7 .7 0 1 0 -1.4 0M457.7 153.9a.7 .7 0 1 0 1.4 0a.7 .7 0 1 0 -1.4 0M456.0 193.2a.7 .7 0 1 0 1.4 0a.7 .7 0 1 0 -1.4 0M456.6 195.6a.7 .7 0 1 0 1.4 0a.7 .7 0 1 0 -1.4 0M456.3 211.2a.7 .7 0 1 0 1.4 0a.7 .7 0 1 0 -1.4 0M458.8 200.3a.7 .7 0 1 0 1.4 0a.7 .7 0 1 0 -1.4 0M458.4 201.0a.7 .7 0 1 0 1.4 0a.7 .7 0 1 0 -1.4 0M458.3 200.7a.7 .7 0 1 0 1.4 0a.7 .7 0 1 0 -1.4 0M459.9 204.7a.7 .7 0 1 0 1.4 0a.7 .7 0 1 0 -1.4 0M459.4 215.2a.7 .7 0 1 0 1.4 0a.7 .7 0 1 0 -1.4 0M458.9 197.6a.7 .7 0 1 0 1.4 0a.7 .7 0 1 0 -1.4 0M459.7 207.0a.7 .7 0 1 0 1.4 0a.7 .7 0 1 0 -1.4 0M459.6 207.5a.7 .7 0 1 0 1.4 0a.7 .7 0 1 0 -1.4 0M459.0 191.2a.7 .7 0 1 0 1.4 0a.7 .7 0 1 0 -1.4 0M457.0 195.9a.7 .7 0 1 0 1.4 0a.7 .7 0 1 0 -1.4 0M458.5 213.8a.7 .7 0 1 0 1.4 0a.7 .7 0 1 0 -1.4 0M459.1 208.6a.7 .7 0 1 0 1.4 0a.7 .7 0 1 0 -1.4 0M457.8 191.7a.7 .7 0 1 0 1.4 0a.7 .7 0 1 0 -1.4 0M484.0 174.1a.7 .7 0 1 0 1.4 0a.7 .7 0 1 0 -1.4 0M480.7 212.5a.7 .7 0 1 0 1.4 0a.7 .7 0 1 0 -1.4 0M480.6 123.1a.7 .7 0 1 0 1.4 0a.7 .7 0 1 0 -1.4 0M483.2 157.8a.7 .7 0 1 0 1.4 0a.7 .7 0 1 0 -1.4 0M480.8 124.2a.7 .7 0 1 0 1.4 0a.7 .7 0 1 0 -1.4 0M481.5 195.3a.7 .7 0 1 0 1.4 0a.7 .7 0 1 0 -1.4 0M480.8 126.6a.7 .7 0 1 0 1.4 0a.7 .7 0 1 0 -1.4 0M483.8 128.0a.7 .7 0 1 0 1.4 0a.7 .7 0 1 0 -1.4 0M483.3 122.6a.7 .7 0 1 0 1.4 0a.7 .7 0 1 0 -1.4 0M480.9 151.6a.7 .7 0 1 0 1.4 0a.7 .7 0 1 0 -1.4 0M482.7 157.8a.7 .7 0 1 0 1.4 0a.7 .7 0 1 0 -1.4 0M483.9 191.2a.7 .7 0 1 0 1.4 0a.7 .7 0 1 0 -1.4 0M481.9 206.6a.7 .7 0 1 0 1.4 0a.7 .7 0 1 0 -1.4 0M481.6 209.2a.7 .7 0 1 0 1.4 0a.7 .7 0 1 0 -1.4 0M482.4 191.6a.7 .7 0 1 0 1.4 0a.7 .7 0 1 0 -1.4 0M483.2 197.2a.7 .7 0 1 0 1.4 0a.7 .7 0 1 0 -1.4 0M481.0 205.0a.7 .7 0 1 0 1.4 0a.7 .7 0 1 0 -1.4 0M484.0 210.7a.7 .7 0 1 0 1.4 0a.7 .7 0 1 0 -1.4 0M480.8 196.1a.7 .7 0 1 0 1.4 0a.7 .7 0 1 0 -1.4 0M481.4 215.5a.7 .7 0 1 0 1.4 0a.7 .7 0 1 0 -1.4 0M483.6 210.7a.7 .7 0 1 0 1.4 0a.7 .7 0 1 0 -1.4 0M485.0 215.4a.7 .7 0 1 0 1.4 0a.7 .7 0 1 0 -1.4 0M482.3 112.0a.7 .7 0 1 0 1.4 0a.7 .7 0 1 0 -1.4 0M480.6 174.5a.7 .7 0 1 0 1.4 0a.7 .7 0 1 0 -1.4 0M481.8 152.6a.7 .7 0 1 0 1.4 0a.7 .7 0 1 0 -1.4 0M481.5 169.1a.7 .7 0 1 0 1.4 0a.7 .7 0 1 0 -1.4 0M481.4 170.2a.7 .7 0 1 0 1.4 0a.7 .7 0 1 0 -1.4 0M484.1 124.9a.7 .7 0 1 0 1.4 0a.7 .7 0 1 0 -1.4 0M481.7 202.3a.7 .7 0 1 0 1.4 0a.7 .7 0 1 0 -1.4 0M484.3 179.3a.7 .7 0 1 0 1.4 0a.7 .7 0 1 0 -1.4 0M480.2 136.4a.7 .7 0 1 0 1.4 0a.7 .7 0 1 0 -1.4 0M480.6 203.5a.7 .7 0 1 0 1.4 0a.7 .7 0 1 0 -1.4 0M480.4 194.2a.7 .7 0 1 0 1.4 0a.7 .7 0 1 0 -1.4 0M481.9 114.6a.7 .7 0 1 0 1.4 0a.7 .7 0 1 0 -1.4 0M480.8 188.9a.7 .7 0 1 0 1.4 0a.7 .7 0 1 0 -1.4 0M484.1 166.2a.7 .7 0 1 0 1.4 0a.7 .7 0 1 0 -1.4 0M481.2 111.0a.7 .7 0 1 0 1.4 0a.7 .7 0 1 0 -1.4 0M484.5 131.3a.7 .7 0 1 0 1.4 0a.7 .7 0 1 0 -1.4 0M480.4 211.8a.7 .7 0 1 0 1.4 0a.7 .7 0 1 0 -1.4 0M482.6 209.5a.7 .7 0 1 0 1.4 0a.7 .7 0 1 0 -1.4 0M483.7 210.5a.7 .7 0 1 0 1.4 0a.7 .7 0 1 0 -1.4 0M482.7 149.5a.7 .7 0 1 0 1.4 0a.7 .7 0 1 0 -1.4 0M483.0 141.0a.7 .7 0 1 0 1.4 0a.7 .7 0 1 0 -1.4 0M483.5 183.0a.7 .7 0 1 0 1.4 0a.7 .7 0 1 0 -1.4 0M484.5 167.8a.7 .7 0 1 0 1.4 0a.7 .7 0 1 0 -1.4 0M484.6 153.5a.7 .7 0 1 0 1.4 0a.7 .7 0 1 0 -1.4 0M484.4 193.0a.7 .7 0 1 0 1.4 0a.7 .7 0 1 0 -1.4 0M483.7 189.4a.7 .7 0 1 0 1.4 0a.7 .7 0 1 0 -1.4 0M479.9 214.5a.7 .7 0 1 0 1.4 0a.7 .7 0 1 0 -1.4 0M479.8 209.6a.7 .7 0 1 0 1.4 0a.7 .7 0 1 0 -1.4 0M481.1 205.6a.7 .7 0 1 0 1.4 0a.7 .7 0 1 0 -1.4 0M482.9 198.8a.7 .7 0 1 0 1.4 0a.7 .7 0 1 0 -1.4 0M485.2 213.7a.7 .7 0 1 0 1.4 0a.7 .7 0 1 0 -1.4 0M483.4 215.5a.7 .7 0 1 0 1.4 0a.7 .7 0 1 0 -1.4 0M481.9 186.3a.7 .7 0 1 0 1.4 0a.7 .7 0 1 0 -1.4 0M483.1 209.7a.7 .7 0 1 0 1.4 0a.7 .7 0 1 0 -1.4 0M481.8 208.6a.7 .7 0 1 0 1.4 0a.7 .7 0 1 0 -1.4 0M480.5 202.1a.7 .7 0 1 0 1.4 0a.7 .7 0 1 0 -1.4 0M481.9 212.0a.7 .7 0 1 0 1.4 0a.7 .7 0 1 0 -1.4 0M484.1 192.1a.7 .7 0 1 0 1.4 0a.7 .7 0 1 0 -1.4 0M480.0 205.7a.7 .7 0 1 0 1.4 0a.7 .7 0 1 0 -1.4 0M482.6 188.1a.7 .7 0 1 0 1.4 0a.7 .7 0 1 0 -1.4 0M482.9 208.3a.7 .7 0 1 0 1.4 0a.7 .7 0 1 0 -1.4 0M483.0 212.3a.7 .7 0 1 0 1.4 0a.7 .7 0 1 0 -1.4 0M483.4 214.9a.7 .7 0 1 0 1.4 0a.7 .7 0 1 0 -1.4 0M484.5 211.2a.7 .7 0 1 0 1.4 0a.7 .7 0 1 0 -1.4 0M481.7 194.1a.7 .7 0 1 0 1.4 0a.7 .7 0 1 0 -1.4 0M506.0 204.9a.7 .7 0 1 0 1.4 0a.7 .7 0 1 0 -1.4 0M507.1 131.2a.7 .7 0 1 0 1.4 0a.7 .7 0 1 0 -1.4 0M506.7 194.7a.7 .7 0 1 0 1.4 0a.7 .7 0 1 0 -1.4 0M505.0 182.5a.7 .7 0 1 0 1.4 0a.7 .7 0 1 0 -1.4 0M504.9 129.2a.7 .7 0 1 0 1.4 0a.7 .7 0 1 0 -1.4 0M504.9 209.3a.7 .7 0 1 0 1.4 0a.7 .7 0 1 0 -1.4 0M508.8 107.3a.7 .7 0 1 0 1.4 0a.7 .7 0 1 0 -1.4 0M505.7 187.6a.7 .7 0 1 0 1.4 0a.7 .7 0 1 0 -1.4 0M504.8 118.5a.7 .7 0 1 0 1.4 0a.7 .7 0 1 0 -1.4 0M508.2 100.9a.7 .7 0 1 0 1.4 0a.7 .7 0 1 0 -1.4 0M505.4 117.2a.7 .7 0 1 0 1.4 0a.7 .7 0 1 0 -1.4 0M505.4 194.7a.7 .7 0 1 0 1.4 0a.7 .7 0 1 0 -1.4 0M508.4 129.5a.7 .7 0 1 0 1.4 0a.7 .7 0 1 0 -1.4 0M504.1 205.9a.7 .7 0 1 0 1.4 0a.7 .7 0 1 0 -1.4 0M505.5 199.1a.7 .7 0 1 0 1.4 0a.7 .7 0 1 0 -1.4 0M506.7 200.7a.7 .7 0 1 0 1.4 0a.7 .7 0 1 0 -1.4 0M504.6 142.9a.7 .7 0 1 0 1.4 0a.7 .7 0 1 0 -1.4 0M506.8 177.8a.7 .7 0 1 0 1.4 0a.7 .7 0 1 0 -1.4 0M507.8 125.4a.7 .7 0 1 0 1.4 0a.7 .7 0 1 0 -1.4 0M505.8 170.4a.7 .7 0 1 0 1.4 0a.7 .7 0 1 0 -1.4 0M507.2 118.6a.7 .7 0 1 0 1.4 0a.7 .7 0 1 0 -1.4 0M504.4 194.7a.7 .7 0 1 0 1.4 0a.7 .7 0 1 0 -1.4 0M507.3 211.7a.7 .7 0 1 0 1.4 0a.7 .7 0 1 0 -1.4 0M508.8 214.5a.7 .7 0 1 0 1.4 0a.7 .7 0 1 0 -1.4 0M508.5 144.0a.7 .7 0 1 0 1.4 0a.7 .7 0 1 0 -1.4 0M506.7 156.9a.7 .7 0 1 0 1.4 0a.7 .7 0 1 0 -1.4 0M509.0 143.9a.7 .7 0 1 0 1.4 0a.7 .7 0 1 0 -1.4 0M507.6 144.8a.7 .7 0 1 0 1.4 0a.7 .7 0 1 0 -1.4 0M506.9 183.4a.7 .7 0 1 0 1.4 0a.7 .7 0 1 0 -1.4 0M508.7 148.5a.7 .7 0 1 0 1.4 0a.7 .7 0 1 0 -1.4 0M505.1 161.4a.7 .7 0 1 0 1.4 0a.7 .7 0 1 0 -1.4 0M509.2 211.3a.7 .7 0 1 0 1.4 0a.7 .7 0 1 0 -1.4 0M505.7 200.3a.7 .7 0 1 0 1.4 0a.7 .7 0 1 0 -1.4 0M504.4 180.1a.7 .7 0 1 0 1.4 0a.7 .7 0 1 0 -1.4 0M508.3 122.7a.7 .7 0 1 0 1.4 0a.7 .7 0 1 0 -1.4 0M505.0 214.8a.7 .7 0 1 0 1.4 0a.7 .7 0 1 0 -1.4 0M505.3 123.4a.7 .7 0 1 0 1.4 0a.7 .7 0 1 0 -1.4 0M505.9 194.7a.7 .7 0 1 0 1.4 0a.7 .7 0 1 0 -1.4 0M505.7 188.1a.7 .7 0 1 0 1.4 0a.7 .7 0 1 0 -1.4 0M505.8 124.5a.7 .7 0 1 0 1.4 0a.7 .7 0 1 0 -1.4 0M507.1 180.3a.7 .7 0 1 0 1.4 0a.7 .7 0 1 0 -1.4 0M508.8 136.5a.7 .7 0 1 0 1.4 0a.7 .7 0 1 0 -1.4 0M506.2 108.0a.7 .7 0 1 0 1.4 0a.7 .7 0 1 0 -1.4 0M505.3 192.3a.7 .7 0 1 0 1.4 0a.7 .7 0 1 0 -1.4 0M506.2 215.2a.7 .7 0 1 0 1.4 0a.7 .7 0 1 0 -1.4 0M505.7 182.1a.7 .7 0 1 0 1.4 0a.7 .7 0 1 0 -1.4 0M508.9 118.2a.7 .7 0 1 0 1.4 0a.7 .7 0 1 0 -1.4 0M506.4 98.6a.7 .7 0 1 0 1.4 0a.7 .7 0 1 0 -1.4 0M508.2 177.7a.7 .7 0 1 0 1.4 0a.7 .7 0 1 0 -1.4 0M504.4 215.2a.7 .7 0 1 0 1.4 0a.7 .7 0 1 0 -1.4 0M504.3 192.0a.7 .7 0 1 0 1.4 0a.7 .7 0 1 0 -1.4 0M508.3 171.3a.7 .7 0 1 0 1.4 0a.7 .7 0 1 0 -1.4 0M507.4 198.0a.7 .7 0 1 0 1.4 0a.7 .7 0 1 0 -1.4 0M504.8 213.0a.7 .7 0 1 0 1.4 0a.7 .7 0 1 0 -1.4 0M505.6 199.8a.7 .7 0 1 0 1.4 0a.7 .7 0 1 0 -1.4 0M507.2 200.9a.7 .7 0 1 0 1.4 0a.7 .7 0 1 0 -1.4 0M508.5 188.6a.7 .7 0 1 0 1.4 0a.7 .7 0 1 0 -1.4 0M506.2 201.0a.7 .7 0 1 0 1.4 0a.7 .7 0 1 0 -1.4 0M506.3 208.7a.7 .7 0 1 0 1.4 0a.7 .7 0 1 0 -1.4 0M508.0 206.3a.7 .7 0 1 0 1.4 0a.7 .7 0 1 0 -1.4 0M505.0 211.3a.7 .7 0 1 0 1.4 0a.7 .7 0 1 0 -1.4 0M530.9 183.3a.7 .7 0 1 0 1.4 0a.7 .7 0 1 0 -1.4 0M531.1 180.2a.7 .7 0 1 0 1.4 0a.7 .7 0 1 0 -1.4 0M529.0 183.9a.7 .7 0 1 0 1.4 0a.7 .7 0 1 0 -1.4 0M531.8 142.5a.7 .7 0 1 0 1.4 0a.7 .7 0 1 0 -1.4 0M533.6 180.3a.7 .7 0 1 0 1.4 0a.7 .7 0 1 0 -1.4 0M532.7 137.5a.7 .7 0 1 0 1.4 0a.7 .7 0 1 0 -1.4 0M531.3 191.1a.7 .7 0 1 0 1.4 0a.7 .7 0 1 0 -1.4 0M529.5 205.3a.7 .7 0 1 0 1.4 0a.7 .7 0 1 0 -1.4 0M533.0 132.0a.7 .7 0 1 0 1.4 0a.7 .7 0 1 0 -1.4 0M532.8 110.9a.7 .7 0 1 0 1.4 0a.7 .7 0 1 0 -1.4 0M531.7 144.0a.7 .7 0 1 0 1.4 0a.7 .7 0 1 0 -1.4 0M531.5 101.3a.7 .7 0 1 0 1.4 0a.7 .7 0 1 0 -1.4 0M530.2 175.4a.7 .7 0 1 0 1.4 0a.7 .7 0 1 0 -1.4 0M530.8 142.4a.7 .7 0 1 0 1.4 0a.7 .7 0 1 0 -1.4 0M530.0 205.1a.7 .7 0 1 0 1.4 0a.7 .7 0 1 0 -1.4 0M530.3 189.4a.7 .7 0 1 0 1.4 0a.7 .7 0 1 0 -1.4 0M532.5 199.9a.7 .7 0 1 0 1.4 0a.7 .7 0 1 0 -1.4 0M529.5 156.8a.7 .7 0 1 0 1.4 0a.7 .7 0 1 0 -1.4 0M528.2 198.5a.7 .7 0 1 0 1.4 0a.7 .7 0 1 0 -1.4 0M530.3 195.2a.7 .7 0 1 0 1.4 0a.7 .7 0 1 0 -1.4 0M528.7 159.5a.7 .7 0 1 0 1.4 0a.7 .7 0 1 0 -1.4 0M530.5 186.9a.7 .7 0 1 0 1.4 0a.7 .7 0 1 0 -1.4 0M531.7 205.4a.7 .7 0 1 0 1.4 0a.7 .7 0 1 0 -1.4 0M530.2 132.9a.7 .7 0 1 0 1.4 0a.7 .7 0 1 0 -1.4 0M531.2 137.6a.7 .7 0 1 0 1.4 0a.7 .7 0 1 0 -1.4 0M533.2 128.2a.7 .7 0 1 0 1.4 0a.7 .7 0 1 0 -1.4 0M528.3 198.0a.7 .7 0 1 0 1.4 0a.7 .7 0 1 0 -1.4 0M529.8 190.1a.7 .7 0 1 0 1.4 0a.7 .7 0 1 0 -1.4 0M529.0 202.0a.7 .7 0 1 0 1.4 0a.7 .7 0 1 0 -1.4 0M529.6 175.7a.7 .7 0 1 0 1.4 0a.7 .7 0 1 0 -1.4 0M532.8 175.4a.7 .7 0 1 0 1.4 0a.7 .7 0 1 0 -1.4 0M529.3 165.4a.7 .7 0 1 0 1.4 0a.7 .7 0 1 0 -1.4 0M531.3 141.2a.7 .7 0 1 0 1.4 0a.7 .7 0 1 0 -1.4 0M531.8 196.0a.7 .7 0 1 0 1.4 0a.7 .7 0 1 0 -1.4 0M532.5 199.6a.7 .7 0 1 0 1.4 0a.7 .7 0 1 0 -1.4 0M529.2 192.4a.7 .7 0 1 0 1.4 0a.7 .7 0 1 0 -1.4 0M529.9 122.3a.7 .7 0 1 0 1.4 0a.7 .7 0 1 0 -1.4 0M529.7 194.6a.7 .7 0 1 0 1.4 0a.7 .7 0 1 0 -1.4 0"/>
</g>
<line x1="313" x2="313" y1="209.5" y2="215.9" stroke="#3c3c3c" stroke-width="0.5"/>
<line x1="310.4" x2="315.6" y1="209.5" y2="209.5" stroke="#3a3a3a" stroke-width="0.7"/>
<line x1="337.3" x2="337.3" y1="202.2" y2="215.9" stroke="#3c3c3c" stroke-width="0.5"/>
<line x1="334.7" x2="339.9" y1="202.2" y2="202.2" stroke="#3a3a3a" stroke-width="0.7"/>
<line x1="361.6" x2="361.6" y1="205.2" y2="215.9" stroke="#3c3c3c" stroke-width="0.5"/>
<line x1="359" x2="364.2" y1="205.2" y2="205.2" stroke="#3a3a3a" stroke-width="0.7"/>
<line x1="385.9" x2="385.9" y1="187.9" y2="215.9" stroke="#3c3c3c" stroke-width="0.5"/>
<line x1="383.3" x2="388.5" y1="187.9" y2="187.9" stroke="#3a3a3a" stroke-width="0.7"/>
<line x1="410.2" x2="410.2" y1="206.6" y2="215.9" stroke="#3c3c3c" stroke-width="0.5"/>
<line x1="407.6" x2="412.8" y1="206.6" y2="206.6" stroke="#3a3a3a" stroke-width="0.7"/>
<line x1="434.5" x2="434.5" y1="206.6" y2="215.9" stroke="#3c3c3c" stroke-width="0.5"/>
<line x1="431.9" x2="437.1" y1="206.6" y2="206.6" stroke="#3a3a3a" stroke-width="0.7"/>
<line x1="458.8" x2="458.8" y1="125.6" y2="215.9" stroke="#3c3c3c" stroke-width="0.5"/>
<line x1="456.2" x2="461.4" y1="125.6" y2="125.6" stroke="#3a3a3a" stroke-width="0.7"/>
<line x1="483.1" x2="483.1" y1="106.9" y2="215.9" stroke="#3c3c3c" stroke-width="0.5"/>
<line x1="480.5" x2="485.7" y1="106.9" y2="106.9" stroke="#3a3a3a" stroke-width="0.7"/>
<line x1="507.4" x2="507.4" y1="90.8" y2="215.9" stroke="#3c3c3c" stroke-width="0.5"/>
<line x1="504.8" x2="510" y1="90.8" y2="90.8" stroke="#3a3a3a" stroke-width="0.7"/>
<line x1="531.7" x2="531.7" y1="41.2" y2="203.4" stroke="#3c3c3c" stroke-width="0.5"/>
<line x1="529.1" x2="534.3" y1="41.2" y2="41.2" stroke="#3a3a3a" stroke-width="0.7"/>
<line x1="529.1" x2="534.3" y1="203.4" y2="203.4" stroke="#3a3a3a" stroke-width="0.7"/>
<circle cx="313" cy="214.07" r="1.35" fill="#000"/>
<text transform="translate(315.7,212.97) scale(1,1.2)" font-family='"Liberation Sans", sans-serif' font-size="4.7" fill="#222">0.004</text>
<circle cx="337.3" cy="212.24" r="1.35" fill="#000"/>
<text transform="translate(340,211.14) scale(1,1.2)" font-family='"Liberation Sans", sans-serif' font-size="4.7" fill="#222">0.008</text>
<circle cx="361.6" cy="213.15" r="1.35" fill="#000"/>
<text transform="translate(364.3,212.05) scale(1,1.2)" font-family='"Liberation Sans", sans-serif' font-size="4.7" fill="#222">0.006</text>
<circle cx="385.9" cy="208.57" r="1.35" fill="#000"/>
<text transform="translate(388.6,207.47) scale(1,1.2)" font-family='"Liberation Sans", sans-serif' font-size="4.7" fill="#222">0.016</text>
<circle cx="410.2" cy="213.15" r="1.35" fill="#000"/>
<text transform="translate(412.9,212.05) scale(1,1.2)" font-family='"Liberation Sans", sans-serif' font-size="4.7" fill="#222">0.006</text>
<circle cx="434.5" cy="213.61" r="1.35" fill="#000"/>
<text transform="translate(437.2,212.51) scale(1,1.2)" font-family='"Liberation Sans", sans-serif' font-size="4.7" fill="#222">0.005</text>
<circle cx="458.8" cy="187.5" r="1.35" fill="#000"/>
<text transform="translate(461.5,186.4) scale(1,1.2)" font-family='"Liberation Sans", sans-serif' font-size="4.7" fill="#222">0.062</text>
<circle cx="483.1" cy="177.43" r="1.35" fill="#000"/>
<text transform="translate(485.8,176.33) scale(1,1.2)" font-family='"Liberation Sans", sans-serif' font-size="4.7" fill="#222">0.084</text>
<circle cx="507.4" cy="161.86" r="1.35" fill="#000"/>
<text transform="translate(510.1,160.76) scale(1,1.2)" font-family='"Liberation Sans", sans-serif' font-size="4.7" fill="#222">0.118</text>
<circle cx="531.7" cy="128.88" r="1.35" fill="#000"/>
<text transform="translate(534.4,127.78) scale(1,1.2)" font-family='"Liberation Sans", sans-serif' font-size="4.7" fill="#222">0.19</text>
<g stroke="#555" stroke-width="0.75" fill="none">
<path d="M313 52.6V51H507.4V52.6"/>
<path d="M313 61.8V60.2H483.1V61.8"/>
<path d="M313 70.9V69.3H458.8V70.9"/>
<path d="M313 80.4V78.8H434.5V80.4"/>
<path d="M458.8 84.9V83.3H507.4V84.9"/>
<path d="M313 89.7V88.1H410.2V89.7"/>
<path d="M434.5 98.6V97H483.1V98.6"/>
<path d="M313 98.4V96.8H385.9V98.4"/>
<path d="M410.2 107.6V106H434.5V107.6"/>
<path d="M313 107.3V105.7H361.6V107.3"/>
<path d="M313 116.5V114.9H337.3V116.5"/>
</g>
<g font-family='"Liberation Sans", sans-serif' fill="#2a2a2a" text-rendering="geometricPrecision">
<text transform="translate(411.8,49) scale(1,1.26)" text-anchor="middle" font-size="4.4">p <tspan dx="-0.8">&lt;</tspan> <tspan dx="0.9">2.22</tspan><tspan dx="0.9">×</tspan><tspan dx="0.3">10</tspan><tspan font-size="2.73" dx="0.6" dy="-1.6">-16</tspan></text>
<text transform="translate(399.65,58.2) scale(1,1.26)" text-anchor="middle" font-size="4.4">p <tspan dx="-0.8">&lt;</tspan> <tspan dx="0.9">2.22</tspan><tspan dx="0.9">×</tspan><tspan dx="0.3">10</tspan><tspan font-size="2.73" dx="0.6" dy="-1.6">-16</tspan></text>
<text transform="translate(387.5,67.3) scale(1,1.26)" text-anchor="middle" font-size="4.4">p <tspan dx="-0.8">&lt;</tspan> <tspan dx="0.9">2.22</tspan><tspan dx="0.9">×</tspan><tspan dx="0.3">10</tspan><tspan font-size="2.73" dx="0.6" dy="-1.6">-16</tspan></text>
<text transform="translate(373.75,76.8) scale(1,1.2)" text-anchor="middle" font-size="4.4">0.0011</text>
<text transform="translate(484.1,81.3) scale(1,1.2)" text-anchor="middle" font-size="4.4">6.7×10<tspan font-size="3.08" dx="0.3" dy="-1.6">−14</tspan></text>
<text transform="translate(361.6,86.1) scale(1,1.2)" text-anchor="middle" font-size="4.4">0.00012</text>
<text transform="translate(460.4,95) scale(1,1.26)" text-anchor="middle" font-size="4.4">p <tspan dx="-0.8">&lt;</tspan> <tspan dx="0.9">2.22</tspan><tspan dx="0.9">×</tspan><tspan dx="0.3">10</tspan><tspan font-size="2.73" dx="0.6" dy="-1.6">-16</tspan></text>
<text transform="translate(351.05,94.8) scale(1,1.26)" text-anchor="middle" font-size="4.4">p <tspan dx="-0.8">&lt;</tspan> <tspan dx="0.9">2.22</tspan><tspan dx="0.9">×</tspan><tspan dx="0.3">10</tspan><tspan font-size="2.73" dx="0.6" dy="-1.6">-16</tspan></text>
<text transform="translate(422.35,104) scale(1,1.2)" text-anchor="middle" font-size="4.4">0.55</text>
<text transform="translate(338.3,103.7) scale(1,1.2)" text-anchor="middle" font-size="4.4">7×10<tspan font-size="3.08" dx="0.3" dy="-1.6">−5</tspan></text>
<text transform="translate(326.75,112.9) scale(1,1.26)" text-anchor="middle" font-size="4.4">p <tspan dx="-0.8">&lt;</tspan> <tspan dx="0.9">2.22</tspan><tspan dx="0.9">×</tspan><tspan dx="0.3">10</tspan><tspan font-size="2.73" dx="0.6" dy="-1.6">-16</tspan></text>
</g>
<text x="313.1" y="42.2" font-family='"Liberation Sans", sans-serif' font-size="7" fill="#000">Kruskal-Wallis, p <tspan dx="-0.8">&lt;</tspan> <tspan dx="-1.4">2.2</tspan><tspan font-size="6.5" dx="0.3" dy="-0.2">×</tspan><tspan dx="-0.4" dy="0.2">10</tspan><tspan font-size="5.2" dx="0.4" dy="-3.0">-16</tspan></text>
<path d="M298.4 32.7H546.3V224.4" fill="none" stroke="#8c8c8c" stroke-width="1.0"/>
<path d="M298.4 224.4H546.3" fill="none" stroke="#8c8c8c" stroke-width="0.95"/>
<path d="M298.4 32.7V224.4" fill="none" stroke="#737373" stroke-width="0.95"/>
<line x1="298.4" x2="300.7" y1="215.9" y2="215.9" stroke="#444" stroke-width="0.8"/>
<text x="296" y="217.7" text-anchor="end" font-family='"Liberation Serif", serif' font-size="5.2" fill="#666">0.0</text>
<line x1="298.4" x2="300.7" y1="170.1" y2="170.1" stroke="#444" stroke-width="0.8"/>
<text x="296" y="171.9" text-anchor="end" font-family='"Liberation Serif", serif' font-size="5.2" fill="#666">0.1</text>
<line x1="298.4" x2="300.7" y1="124.3" y2="124.3" stroke="#444" stroke-width="0.8"/>
<text x="296" y="126.1" text-anchor="end" font-family='"Liberation Serif", serif' font-size="5.2" fill="#666">0.2</text>
<line x1="298.4" x2="300.7" y1="78.5" y2="78.5" stroke="#444" stroke-width="0.8"/>
<text x="296" y="80.3" text-anchor="end" font-family='"Liberation Serif", serif' font-size="5.2" fill="#666">0.3</text>
<text transform="translate(315.3,230.3) rotate(-39) scale(1,1.15)" text-anchor="end" font-family='"Liberation Serif", serif' font-size="5.3" fill="#3a3a3a">DSO</text>
<text transform="translate(339.6,230.3) rotate(-39) scale(1,1.15)" text-anchor="end" font-family='"Liberation Serif", serif' font-size="5.3" fill="#3a3a3a">LDSO</text>
<text transform="translate(363.9,230.3) rotate(-39) scale(1,1.15)" text-anchor="end" font-family='"Liberation Serif", serif' font-size="5.3" fill="#3a3a3a">CNN-DSO</text>
<text transform="translate(388.2,230.3) rotate(-39) scale(1,1.15)" text-anchor="end" font-family='"Liberation Serif", serif' font-size="5.3" fill="#3a3a3a">DSM</text>
<text transform="translate(412.5,230.3) rotate(-39) scale(1,1.15)" text-anchor="end" font-family='"Liberation Serif", serif' font-size="5.3" fill="#3a3a3a">DynaSLAM</text>
<text transform="translate(436.8,230.3) rotate(-39) scale(1,1.15)" text-anchor="end" font-family='"Liberation Serif", serif' font-size="5.3" fill="#3a3a3a">ORB-SLAM2</text>
<text transform="translate(461.1,230.3) rotate(-39) scale(1,1.15)" text-anchor="end" font-family='"Liberation Serif", serif' font-size="5.3" fill="#3a3a3a">CNN-SVO</text>
<text transform="translate(485.4,230.3) rotate(-39) scale(1,1.15)" text-anchor="end" font-family='"Liberation Serif", serif' font-size="5.3" fill="#3a3a3a">DF-ORB-SLAM</text>
<text transform="translate(509.7,230.3) rotate(-39) scale(1,1.15)" text-anchor="end" font-family='"Liberation Serif", serif' font-size="5.3" fill="#3a3a3a">SVO</text>
<text transform="translate(534,230.3) rotate(-39) scale(1,1.15)" text-anchor="end" font-family='"Liberation Serif", serif' font-size="5.3" fill="#3a3a3a">LSD-SLAM</text>
<text transform="translate(283.1,129) rotate(-90)" text-anchor="middle" font-family='"Liberation Serif", serif' font-size="6.75" fill="#111">End-segment alignment error</text>
<text x="422.4" y="263.6" text-anchor="middle" font-family='"Liberation Serif", serif' font-size="6.75" fill="#000">Method</text>
<text x="412.7" y="288" text-anchor="middle" font-family='"Liberation Serif", serif' font-weight="bold" font-size="10" fill="#111">(b)</text>
</g>
</svg></body></html>
